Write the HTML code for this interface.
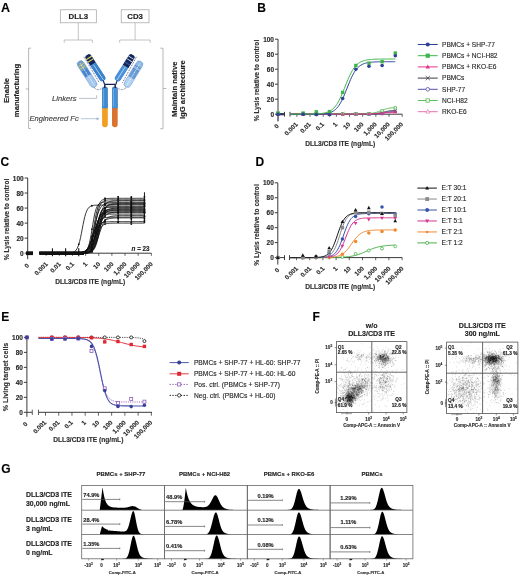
<!DOCTYPE html>
<html><head><meta charset="utf-8"><title>DLL3/CD3 ITE figure</title>
<style>
html,body{margin:0;padding:0;background:#fff;}
body{width:520px;height:578px;overflow:hidden;}
svg{display:block;font-family:"Liberation Sans", Arial, sans-serif;}
text{stroke:#262626;stroke-width:0.14px;}
</style></head><body>
<svg width="520" height="578" viewBox="0 0 520 578">
<rect width="520" height="578" fill="#fff"/>
<text x="1" y="12" font-size="12.5" font-weight="bold" fill="#000">A</text>
<text x="257.2" y="11.6" font-size="12" font-weight="bold" fill="#000">B</text>
<text x="0.6" y="166.3" font-size="12" font-weight="bold" fill="#000">C</text>
<text x="255.6" y="166.3" font-size="12" font-weight="bold" fill="#000">D</text>
<text x="1.2" y="320.9" font-size="12" font-weight="bold" fill="#000">E</text>
<text x="312.6" y="320.9" font-size="12" font-weight="bold" fill="#000">F</text>
<text x="1.2" y="472.6" font-size="12" font-weight="bold" fill="#000">G</text>
<rect x="60.3" y="9.8" width="36" height="13" fill="#fff" stroke="#a0a0a0" stroke-width="0.7" />
<text x="78.3" y="19.2" font-size="7.8" font-weight="bold" text-anchor="middle" fill="#222">DLL3</text>
<rect x="121.2" y="9.8" width="27.8" height="13" fill="#fff" stroke="#a0a0a0" stroke-width="0.7" />
<text x="135.1" y="19.2" font-size="7.8" font-weight="bold" text-anchor="middle" fill="#222">CD3</text>
<line x1="78.3" y1="22.8" x2="78.3" y2="40" stroke="#aaa" stroke-width="0.7" />
<path d="M64.2 42.8V40H92.4V42.8" stroke="#aaa" stroke-width="0.7" fill="none" />
<line x1="135.1" y1="22.8" x2="135.1" y2="40" stroke="#aaa" stroke-width="0.7" />
<path d="M119.7 42.8V40H150.2V42.8" stroke="#aaa" stroke-width="0.7" fill="none" />
<path d="M31 48.2H28.6V128.6H31M28.6 89H25.8" stroke="#999" stroke-width="0.7" fill="none" />
<path d="M160.3 48.2H163V128.7H160.3M163 88.5H166.3" stroke="#999" stroke-width="0.7" fill="none" />
<text x="8.9" y="90.5" font-size="7.7" font-weight="bold" text-anchor="middle" fill="#222" transform="rotate(-90 8.9 90.5)">Enable</text>
<text x="18.6" y="90.5" font-size="7.7" font-weight="bold" text-anchor="middle" fill="#222" transform="rotate(-90 18.6 90.5)">manufacturing</text>
<text x="176.8" y="89.2" font-size="7.7" font-weight="bold" text-anchor="middle" fill="#222" transform="rotate(-90 176.8 89.2)">Maintain native</text>
<text x="185.3" y="89.6" font-size="7.7" font-weight="bold" text-anchor="middle" fill="#222" transform="rotate(-90 185.3 89.6)">IgG architecture</text>
<text x="76.6" y="100.6" font-size="7.6" text-anchor="end" fill="#4a4a4a" font-style="italic">Linkers</text>
<text x="78.8" y="120.8" font-size="7.6" text-anchor="end" fill="#4a4a4a" font-style="italic">Engineered Fc</text>
<path d="M79 98.4H96.6V95.2" stroke="#a0a8b4" stroke-width="0.7" fill="none" />
<line x1="81" y1="118.7" x2="98" y2="118.7" stroke="#9ab0c8" stroke-width="0.7" />
<path d="M96.6 117.2L99.4 118.7L96.6 120.2Z" stroke="none" stroke-width="0" fill="#9ab0c8" />
<rect x="102.1" y="86.6" width="5.7" height="40.6" rx="2.85" fill="#f29e22"/>
<rect x="102.1" y="86.6" width="5.7" height="21.6" rx="2.85" fill="#3c89d4"/>
<rect x="102.1" y="103" width="5.7" height="5.2" fill="#3c89d4"/>
<rect x="112.0" y="86.6" width="5.7" height="40.6" rx="2.85" fill="#da7230"/>
<rect x="112.0" y="86.6" width="5.7" height="21.6" rx="2.85" fill="#4690d6"/>
<rect x="112.0" y="103" width="5.7" height="5.2" fill="#4690d6"/>
<line x1="103.6" y1="89" x2="103.6" y2="106.5" stroke="#8ec0ea" stroke-width="0.6" />
<line x1="113.5" y1="89" x2="113.5" y2="106.5" stroke="#8ec0ea" stroke-width="0.6" />
<path d="M104.4 84.4H115.6M104.8 84.4V88M115.2 84.4V88" stroke="#14204a" stroke-width="1.4" fill="none" />
<g transform="translate(78.9 61.3) rotate(-32.64)"><clipPath id="cap35"><rect x="-3.5" y="0" width="7" height="30.4" rx="3.5"/></clipPath><g clip-path="url(#cap35)"><rect x="-3.5" y="0" width="7" height="9.83" fill="#739fc6"/><rect x="-3.5" y="9.73" width="7" height="8" fill="#4a87cf"/><rect x="-3.5" y="17.63" width="7" height="12.87" fill="#a6c7ec"/><rect x="-3.5" y="3.95" width="7" height="1" fill="#d2c650"/><rect x="-3.5" y="6.69" width="7" height="1" fill="#b4c46a"/><line x1="0" y1="2.43" x2="0" y2="28.88" stroke="#ffffff" stroke-width="0.7" stroke-dasharray="1.2 0.8"/></g><rect x="-3.5" y="0" width="7" height="30.4" rx="3.5" fill="none" stroke="#5f93cc" stroke-width="0.5"/></g>
<g transform="translate(87 54.8) rotate(-33.18)"><clipPath id="cap36"><rect x="-3.4" y="0" width="6.8" height="31.06" rx="3.4"/></clipPath><g clip-path="url(#cap36)"><rect x="-3.4" y="0" width="6.8" height="11.28" fill="#16285f"/><rect x="-3.4" y="11.18" width="6.8" height="19.98" fill="#3a82cb"/><rect x="-3.4" y="3.11" width="6.8" height="1.1" fill="#e2d64a"/><rect x="-3.4" y="6.21" width="6.8" height="1.1" fill="#e2d64a"/><line x1="0" y1="11.8" x2="0" y2="30.13" stroke="#c4def5" stroke-width="0.7" /></g></g>
<path d="M84.0 56.9L99.0 82.1" stroke="#1b2d6b" stroke-width="0.9" fill="none" stroke-dasharray="0.8 1.1"/>
<path d="M94.2 87.6Q97.8 91.2 101.8 88.4" stroke="#1b2d6b" stroke-width="0.8" fill="none" stroke-dasharray="0.7 0.9"/>
<path d="M103.2 80.4L104.6 84.5" stroke="#1b2d6b" stroke-width="1.2" fill="none" />
<g transform="translate(141.1 61.5) rotate(31.23)"><clipPath id="cap40"><rect x="-3.5" y="0" width="7" height="29.7" rx="3.5"/></clipPath><g clip-path="url(#cap40)"><rect x="-3.5" y="0" width="7" height="10.5" fill="#8dbae4"/><rect x="-3.5" y="10.4" width="7" height="9.01" fill="#6a9dd6"/><rect x="-3.5" y="19.31" width="7" height="10.5" fill="#b4d2f1"/><rect x="-3.5" y="5.94" width="7" height="1" fill="#4d7fbf"/><rect x="-3.5" y="9.51" width="7" height="1" fill="#4d7fbf"/><line x1="0" y1="2.38" x2="0" y2="28.22" stroke="#ffffff" stroke-width="0.7" stroke-dasharray="1.2 0.8"/></g><rect x="-3.5" y="0" width="7" height="29.7" rx="3.5" fill="none" stroke="#5f93cc" stroke-width="0.5"/></g>
<g transform="translate(133 54.8) rotate(32.56)"><clipPath id="cap41"><rect x="-3.4" y="0" width="6.8" height="30.85" rx="3.4"/></clipPath><g clip-path="url(#cap41)"><rect x="-3.4" y="0" width="6.8" height="13.98" fill="#15285c"/><rect x="-3.4" y="13.88" width="6.8" height="17.07" fill="#4891d8"/><rect x="-3.4" y="3.08" width="6.8" height="0.7" fill="#e8eef8"/><rect x="-3.4" y="6.17" width="6.8" height="0.7" fill="#e8eef8"/><rect x="-3.4" y="9.87" width="6.8" height="1" fill="#3a5fa0"/><line x1="0" y1="14.5" x2="0" y2="29.92" stroke="#cfe4f7" stroke-width="0.7" /></g></g>
<path d="M136.4 56.9L122.6 82.5" stroke="#1b2d6b" stroke-width="0.9" fill="none" stroke-dasharray="0.8 1.1"/>
<path d="M126.0 87.6Q122.4 91.2 118.2 88.4" stroke="#1b2d6b" stroke-width="0.8" fill="none" stroke-dasharray="0.7 0.9"/>
<path d="M117.2 80.4L115.8 84.5" stroke="#1b2d6b" stroke-width="1.2" fill="none" />
<line x1="278" y1="39.2" x2="278" y2="121.2" stroke="#3a3a3a" stroke-width="1" />
<line x1="275" y1="114.2" x2="278" y2="114.2" stroke="#3a3a3a" stroke-width="1" />
<text x="274" y="116.8" font-size="6.5" font-weight="bold" text-anchor="end" fill="#2a2a2a">0</text>
<line x1="275" y1="99.2" x2="278" y2="99.2" stroke="#3a3a3a" stroke-width="1" />
<text x="274" y="101.8" font-size="6.5" font-weight="bold" text-anchor="end" fill="#2a2a2a">20</text>
<line x1="275" y1="84.2" x2="278" y2="84.2" stroke="#3a3a3a" stroke-width="1" />
<text x="274" y="86.8" font-size="6.5" font-weight="bold" text-anchor="end" fill="#2a2a2a">40</text>
<line x1="275" y1="69.2" x2="278" y2="69.2" stroke="#3a3a3a" stroke-width="1" />
<text x="274" y="71.8" font-size="6.5" font-weight="bold" text-anchor="end" fill="#2a2a2a">60</text>
<line x1="275" y1="54.2" x2="278" y2="54.2" stroke="#3a3a3a" stroke-width="1" />
<text x="274" y="56.8" font-size="6.5" font-weight="bold" text-anchor="end" fill="#2a2a2a">80</text>
<line x1="275" y1="39.2" x2="278" y2="39.2" stroke="#3a3a3a" stroke-width="1" />
<text x="274" y="41.8" font-size="6.5" font-weight="bold" text-anchor="end" fill="#2a2a2a">100</text>
<line x1="278" y1="114.2" x2="284.5" y2="114.2" stroke="#3a3a3a" stroke-width="1" />
<line x1="290" y1="114.2" x2="402.3" y2="114.2" stroke="#3a3a3a" stroke-width="1" />
<line x1="284.5" y1="111.8" x2="284.5" y2="116.6" stroke="#3a3a3a" stroke-width="1" />
<line x1="290" y1="111.8" x2="290" y2="116.6" stroke="#3a3a3a" stroke-width="1" />
<line x1="296.9" y1="114.2" x2="296.9" y2="116.8" stroke="#3a3a3a" stroke-width="0.8" />
<line x1="310.06" y1="114.2" x2="310.06" y2="116.8" stroke="#3a3a3a" stroke-width="0.8" />
<line x1="323.22" y1="114.2" x2="323.22" y2="116.8" stroke="#3a3a3a" stroke-width="0.8" />
<line x1="336.38" y1="114.2" x2="336.38" y2="116.8" stroke="#3a3a3a" stroke-width="0.8" />
<line x1="349.54" y1="114.2" x2="349.54" y2="116.8" stroke="#3a3a3a" stroke-width="0.8" />
<line x1="362.7" y1="114.2" x2="362.7" y2="116.8" stroke="#3a3a3a" stroke-width="0.8" />
<line x1="375.86" y1="114.2" x2="375.86" y2="116.8" stroke="#3a3a3a" stroke-width="0.8" />
<line x1="389.02" y1="114.2" x2="389.02" y2="116.8" stroke="#3a3a3a" stroke-width="0.8" />
<line x1="402.18" y1="114.2" x2="402.18" y2="116.8" stroke="#3a3a3a" stroke-width="0.8" />
<text x="279.2" y="126.4" font-size="6.3" font-weight="bold" text-anchor="end" fill="#2a2a2a" transform="rotate(-45 279.2 126.4)">0</text>
<text x="298.2" y="124.8" font-size="6.3" font-weight="bold" text-anchor="end" fill="#2a2a2a" transform="rotate(-45 298.2 124.8)">0.001</text>
<text x="311.36" y="124.8" font-size="6.3" font-weight="bold" text-anchor="end" fill="#2a2a2a" transform="rotate(-45 311.36 124.8)">0.01</text>
<text x="324.52" y="124.8" font-size="6.3" font-weight="bold" text-anchor="end" fill="#2a2a2a" transform="rotate(-45 324.52 124.8)">0.1</text>
<text x="337.68" y="124.8" font-size="6.3" font-weight="bold" text-anchor="end" fill="#2a2a2a" transform="rotate(-45 337.68 124.8)">1</text>
<text x="350.84" y="124.8" font-size="6.3" font-weight="bold" text-anchor="end" fill="#2a2a2a" transform="rotate(-45 350.84 124.8)">10</text>
<text x="364" y="124.8" font-size="6.3" font-weight="bold" text-anchor="end" fill="#2a2a2a" transform="rotate(-45 364 124.8)">100</text>
<text x="377.16" y="124.8" font-size="6.3" font-weight="bold" text-anchor="end" fill="#2a2a2a" transform="rotate(-45 377.16 124.8)">1,000</text>
<text x="390.32" y="124.8" font-size="6.3" font-weight="bold" text-anchor="end" fill="#2a2a2a" transform="rotate(-45 390.32 124.8)">10,000</text>
<text x="403.48" y="124.8" font-size="6.3" font-weight="bold" text-anchor="end" fill="#2a2a2a" transform="rotate(-45 403.48 124.8)">100,000</text>
<text x="258.6" y="80.5" font-size="6.6" font-weight="bold" text-anchor="middle" fill="#333" transform="rotate(-90 258.6 80.5)">% Lysis relative to control</text>
<text x="340.2" y="145.6" font-size="6.65" font-weight="bold" text-anchor="middle" fill="#333">DLL3/CD3 ITE (ng/mL)</text>
<path d="M290.02 114.05 290.9 114.05 291.77 114.05 292.65 114.05 293.53 114.05 294.41 114.05 295.28 114.05 296.16 114.05 297.04 114.05 297.91 114.05 298.79 114.05 299.67 114.05 300.55 114.05 301.42 114.05 302.3 114.05 303.18 114.05 304.06 114.05 304.93 114.05 305.81 114.05 306.69 114.05 307.57 114.05 308.44 114.05 309.32 114.05 310.2 114.05 311.07 114.05 311.95 114.05 312.83 114.05 313.71 114.05 314.58 114.05 315.46 114.05 316.34 114.05 317.22 114.05 318.09 114.05 318.97 114.05 319.85 114.05 320.73 114.05 321.6 114.05 322.48 114.05 323.36 114.05 324.23 114.05 325.11 114.05 325.99 114.05 326.87 114.05 327.74 114.05 328.62 114.05 329.5 114.05 330.38 114.05 331.25 114.05 332.13 114.05 333.01 114.05 333.89 114.05 334.76 114.05 335.64 114.05 336.52 114.05 337.39 114.05 338.27 114.05 339.15 114.05 340.03 114.05 340.9 114.05 341.78 114.05 342.66 114.05 343.54 114.05 344.41 114.05 345.29 114.05 346.17 114.05 347.05 114.05 347.92 114.05 348.8 114.05 349.68 114.04 350.55 114.04 351.43 114.04 352.31 114.04 353.19 114.04 354.06 114.04 354.94 114.04 355.82 114.03 356.7 114.03 357.57 114.03 358.45 114.02 359.33 114.02 360.21 114.02 361.08 114.01 361.96 114 362.84 114 363.71 113.99 364.59 113.98 365.47 113.97 366.35 113.95 367.22 113.94 368.1 113.92 368.98 113.9 369.86 113.88 370.73 113.85 371.61 113.82 372.49 113.79 373.37 113.76 374.24 113.72 375.12 113.68 376 113.63 376.87 113.58 377.75 113.53 378.63 113.47 379.51 113.41 380.38 113.35 381.26 113.29 382.14 113.23 383.02 113.16 383.89 113.1 384.77 113.04 385.65 112.98 386.53 112.92 387.4 112.87 388.28 112.82 389.16 112.77 390.03 112.73 390.91 112.69 391.79 112.66 392.67 112.63 393.54 112.6 394.42 112.57 395.3 112.55" stroke="#e872b0" stroke-width="1" fill="none"  stroke-linejoin="round"/>
<path d="M290.02 113.97 290.9 113.97 291.77 113.97 292.65 113.97 293.53 113.97 294.41 113.97 295.28 113.97 296.16 113.97 297.04 113.97 297.91 113.97 298.79 113.97 299.67 113.97 300.55 113.97 301.42 113.97 302.3 113.97 303.18 113.97 304.06 113.97 304.93 113.97 305.81 113.97 306.69 113.97 307.57 113.97 308.44 113.97 309.32 113.97 310.2 113.97 311.07 113.97 311.95 113.97 312.83 113.97 313.71 113.97 314.58 113.97 315.46 113.97 316.34 113.97 317.22 113.97 318.09 113.97 318.97 113.97 319.85 113.97 320.73 113.97 321.6 113.97 322.48 113.97 323.36 113.97 324.23 113.97 325.11 113.97 325.99 113.97 326.87 113.97 327.74 113.97 328.62 113.97 329.5 113.97 330.38 113.97 331.25 113.97 332.13 113.97 333.01 113.97 333.89 113.97 334.76 113.97 335.64 113.97 336.52 113.97 337.39 113.97 338.27 113.97 339.15 113.97 340.03 113.97 340.9 113.97 341.78 113.97 342.66 113.97 343.54 113.97 344.41 113.97 345.29 113.97 346.17 113.97 347.05 113.97 347.92 113.97 348.8 113.97 349.68 113.97 350.55 113.97 351.43 113.97 352.31 113.97 353.19 113.97 354.06 113.97 354.94 113.97 355.82 113.97 356.7 113.97 357.57 113.97 358.45 113.97 359.33 113.97 360.21 113.97 361.08 113.97 361.96 113.97 362.84 113.97 363.71 113.97 364.59 113.96 365.47 113.96 366.35 113.96 367.22 113.95 368.1 113.94 368.98 113.94 369.86 113.93 370.73 113.92 371.61 113.9 372.49 113.88 373.37 113.86 374.24 113.83 375.12 113.79 376 113.75 376.87 113.7 377.75 113.64 378.63 113.57 379.51 113.48 380.38 113.38 381.26 113.27 382.14 113.14 383.02 113.01 383.89 112.86 384.77 112.71 385.65 112.56 386.53 112.41 387.4 112.27 388.28 112.14 389.16 112.02 390.03 111.91 390.91 111.81 391.79 111.73 392.67 111.66 393.54 111.61 394.42 111.56 395.3 111.52" stroke="#5052a8" stroke-width="1" fill="none"  stroke-linejoin="round"/>
<path d="M290.02 113.97 290.9 113.97 291.77 113.97 292.65 113.97 293.53 113.97 294.41 113.97 295.28 113.97 296.16 113.97 297.04 113.97 297.91 113.97 298.79 113.97 299.67 113.97 300.55 113.97 301.42 113.97 302.3 113.97 303.18 113.97 304.06 113.97 304.93 113.97 305.81 113.97 306.69 113.97 307.57 113.97 308.44 113.97 309.32 113.97 310.2 113.97 311.07 113.97 311.95 113.97 312.83 113.97 313.71 113.97 314.58 113.97 315.46 113.97 316.34 113.97 317.22 113.97 318.09 113.97 318.97 113.97 319.85 113.97 320.73 113.97 321.6 113.97 322.48 113.97 323.36 113.97 324.23 113.97 325.11 113.97 325.99 113.97 326.87 113.97 327.74 113.97 328.62 113.97 329.5 113.97 330.38 113.97 331.25 113.97 332.13 113.97 333.01 113.97 333.89 113.97 334.76 113.97 335.64 113.97 336.52 113.97 337.39 113.97 338.27 113.97 339.15 113.97 340.03 113.97 340.9 113.97 341.78 113.97 342.66 113.97 343.54 113.97 344.41 113.97 345.29 113.97 346.17 113.97 347.05 113.97 347.92 113.97 348.8 113.97 349.68 113.97 350.55 113.97 351.43 113.97 352.31 113.97 353.19 113.97 354.06 113.97 354.94 113.97 355.82 113.97 356.7 113.97 357.57 113.97 358.45 113.97 359.33 113.97 360.21 113.97 361.08 113.97 361.96 113.96 362.84 113.96 363.71 113.96 364.59 113.95 365.47 113.94 366.35 113.94 367.22 113.93 368.1 113.91 368.98 113.9 369.86 113.88 370.73 113.86 371.61 113.83 372.49 113.79 373.37 113.75 374.24 113.69 375.12 113.62 376 113.54 376.87 113.45 377.75 113.34 378.63 113.2 379.51 113.05 380.38 112.88 381.26 112.7 382.14 112.5 383.02 112.29 383.89 112.07 384.77 111.86 385.65 111.65 386.53 111.45 387.4 111.27 388.28 111.11 389.16 110.96 390.03 110.83 390.91 110.73 391.79 110.63 392.67 110.56 393.54 110.49 394.42 110.44 395.3 110.4" stroke="#3c3c4c" stroke-width="1" fill="none"  stroke-linejoin="round"/>
<path d="M290.02 113.82 290.9 113.82 291.77 113.82 292.65 113.82 293.53 113.82 294.41 113.82 295.28 113.82 296.16 113.82 297.04 113.82 297.91 113.82 298.79 113.82 299.67 113.82 300.55 113.82 301.42 113.82 302.3 113.82 303.18 113.82 304.06 113.82 304.93 113.82 305.81 113.82 306.69 113.82 307.57 113.82 308.44 113.82 309.32 113.82 310.2 113.82 311.07 113.82 311.95 113.82 312.83 113.82 313.71 113.82 314.58 113.82 315.46 113.82 316.34 113.82 317.22 113.82 318.09 113.82 318.97 113.82 319.85 113.82 320.73 113.82 321.6 113.82 322.48 113.82 323.36 113.82 324.23 113.82 325.11 113.82 325.99 113.82 326.87 113.82 327.74 113.82 328.62 113.82 329.5 113.82 330.38 113.82 331.25 113.82 332.13 113.82 333.01 113.82 333.89 113.82 334.76 113.82 335.64 113.82 336.52 113.82 337.39 113.82 338.27 113.82 339.15 113.82 340.03 113.82 340.9 113.82 341.78 113.82 342.66 113.82 343.54 113.82 344.41 113.82 345.29 113.82 346.17 113.82 347.05 113.82 347.92 113.82 348.8 113.82 349.68 113.82 350.55 113.82 351.43 113.82 352.31 113.82 353.19 113.82 354.06 113.82 354.94 113.81 355.82 113.81 356.7 113.81 357.57 113.81 358.45 113.8 359.33 113.79 360.21 113.79 361.08 113.78 361.96 113.77 362.84 113.75 363.71 113.74 364.59 113.72 365.47 113.69 366.35 113.66 367.22 113.62 368.1 113.57 368.98 113.51 369.86 113.44 370.73 113.36 371.61 113.26 372.49 113.13 373.37 112.99 374.24 112.82 375.12 112.63 376 112.4 376.87 112.15 377.75 111.87 378.63 111.57 379.51 111.25 380.38 110.92 381.26 110.57 382.14 110.23 383.02 109.9 383.89 109.59 384.77 109.29 385.65 109.02 386.53 108.78 387.4 108.57 388.28 108.39 389.16 108.23 390.03 108.09 390.91 107.98 391.79 107.88 392.67 107.8 393.54 107.74 394.42 107.68 395.3 107.64" stroke="#5cc05a" stroke-width="1" fill="none"  stroke-linejoin="round"/>
<path d="M290.02 114.05 290.9 114.05 291.77 114.05 292.65 114.05 293.53 114.05 294.41 114.05 295.28 114.05 296.16 114.05 297.04 114.05 297.91 114.05 298.79 114.05 299.67 114.05 300.55 114.05 301.42 114.05 302.3 114.05 303.18 114.05 304.06 114.05 304.93 114.05 305.81 114.05 306.69 114.05 307.57 114.05 308.44 114.05 309.32 114.05 310.2 114.05 311.07 114.05 311.95 114.05 312.83 114.05 313.71 114.05 314.58 114.05 315.46 114.05 316.34 114.05 317.22 114.05 318.09 114.05 318.97 114.05 319.85 114.05 320.73 114.05 321.6 114.05 322.48 114.05 323.36 114.05 324.23 114.05 325.11 114.05 325.99 114.05 326.87 114.05 327.74 114.05 328.62 114.05 329.5 114.05 330.38 114.05 331.25 114.05 332.13 114.05 333.01 114.05 333.89 114.05 334.76 114.05 335.64 114.05 336.52 114.05 337.39 114.05 338.27 114.05 339.15 114.05 340.03 114.05 340.9 114.05 341.78 114.05 342.66 114.05 343.54 114.05 344.41 114.05 345.29 114.05 346.17 114.05 347.05 114.05 347.92 114.04 348.8 114.04 349.68 114.04 350.55 114.04 351.43 114.04 352.31 114.04 353.19 114.04 354.06 114.03 354.94 114.03 355.82 114.03 356.7 114.02 357.57 114.02 358.45 114.01 359.33 114.01 360.21 114 361.08 113.99 361.96 113.99 362.84 113.98 363.71 113.96 364.59 113.95 365.47 113.93 366.35 113.92 367.22 113.9 368.1 113.87 368.98 113.85 369.86 113.82 370.73 113.78 371.61 113.74 372.49 113.7 373.37 113.65 374.24 113.6 375.12 113.54 376 113.48 376.87 113.41 377.75 113.34 378.63 113.26 379.51 113.18 380.38 113.1 381.26 113.01 382.14 112.92 383.02 112.84 383.89 112.75 384.77 112.67 385.65 112.59 386.53 112.51 387.4 112.44 388.28 112.37 389.16 112.31 390.03 112.25 390.91 112.2 391.79 112.15 392.67 112.11 393.54 112.07 394.42 112.03 395.3 112" stroke="#e2338a" stroke-width="1" fill="none"  stroke-linejoin="round"/>
<path d="M303.18 112.52L304.7 115.24H301.66Z" stroke="#e872b0" stroke-width="0.7" fill="#fff" />
<path d="M316.34 112.37L317.86 115.09H314.82Z" stroke="#e872b0" stroke-width="0.7" fill="#fff" />
<path d="M329.5 112.52L331.02 115.24H327.98Z" stroke="#e872b0" stroke-width="0.7" fill="#fff" />
<path d="M342.66 112.44L344.18 115.17H341.14Z" stroke="#e872b0" stroke-width="0.7" fill="#fff" />
<path d="M355.82 112.3L357.34 115.02H354.3Z" stroke="#e872b0" stroke-width="0.7" fill="#fff" />
<path d="M368.98 112.37L370.5 115.09H367.46Z" stroke="#e872b0" stroke-width="0.7" fill="#fff" />
<path d="M382.14 112.14L383.66 114.87H380.62Z" stroke="#e872b0" stroke-width="0.7" fill="#fff" />
<path d="M395.3 111.02L396.82 113.74H393.78Z" stroke="#e872b0" stroke-width="0.7" fill="#fff" />
<path d="M278 112.74L279.52 115.47H276.48Z" stroke="#e872b0" stroke-width="0.7" fill="#fff" />
<circle cx="303.18" cy="113.98" r="1.3" fill="#fff" stroke="#5052a8" stroke-width="0.8" />
<circle cx="316.34" cy="114.2" r="1.3" fill="#fff" stroke="#5052a8" stroke-width="0.8" />
<circle cx="329.5" cy="114.58" r="1.3" fill="#fff" stroke="#5052a8" stroke-width="0.8" />
<circle cx="342.66" cy="114.2" r="1.3" fill="#fff" stroke="#5052a8" stroke-width="0.8" />
<circle cx="355.82" cy="114.05" r="1.3" fill="#fff" stroke="#5052a8" stroke-width="0.8" />
<circle cx="368.98" cy="114.2" r="1.3" fill="#fff" stroke="#5052a8" stroke-width="0.8" />
<circle cx="382.14" cy="113.45" r="1.3" fill="#fff" stroke="#5052a8" stroke-width="0.8" />
<circle cx="395.3" cy="111.58" r="1.3" fill="#fff" stroke="#5052a8" stroke-width="0.8" />
<circle cx="278" cy="114.05" r="1.3" fill="#fff" stroke="#5052a8" stroke-width="0.8" />
<path d="M301.58 112.23L304.78 115.42M304.78 112.23L301.58 115.42" stroke="#3c3c4c" stroke-width="0.8" fill="none" />
<path d="M314.74 112.45L317.94 115.65M317.94 112.45L314.74 115.65" stroke="#3c3c4c" stroke-width="0.8" fill="none" />
<path d="M327.9 112.38L331.1 115.58M331.1 112.38L327.9 115.58" stroke="#3c3c4c" stroke-width="0.8" fill="none" />
<path d="M341.06 112.23L344.26 115.42M344.26 112.23L341.06 115.42" stroke="#3c3c4c" stroke-width="0.8" fill="none" />
<path d="M354.22 112.45L357.42 115.65M357.42 112.45L354.22 115.65" stroke="#3c3c4c" stroke-width="0.8" fill="none" />
<path d="M367.38 112.3L370.58 115.5M370.58 112.3L367.38 115.5" stroke="#3c3c4c" stroke-width="0.8" fill="none" />
<path d="M380.54 111.48L383.74 114.67M383.74 111.48L380.54 114.67" stroke="#3c3c4c" stroke-width="0.8" fill="none" />
<path d="M393.7 109.23L396.9 112.42M396.9 109.23L393.7 112.42" stroke="#3c3c4c" stroke-width="0.8" fill="none" />
<path d="M276.4 112.23L279.6 115.42M279.6 112.23L276.4 115.42" stroke="#3c3c4c" stroke-width="0.8" fill="none" />
<rect x="301.98" y="112.85" width="2.4" height="2.4" fill="#fff" stroke="#5cc05a" stroke-width="0.8" />
<rect x="315.14" y="112.4" width="2.4" height="2.4" fill="#fff" stroke="#5cc05a" stroke-width="0.8" />
<rect x="328.3" y="112.63" width="2.4" height="2.4" fill="#fff" stroke="#5cc05a" stroke-width="0.8" />
<rect x="341.46" y="112.63" width="2.4" height="2.4" fill="#fff" stroke="#5cc05a" stroke-width="0.8" />
<rect x="354.62" y="112.63" width="2.4" height="2.4" fill="#fff" stroke="#5cc05a" stroke-width="0.8" />
<rect x="367.78" y="112.48" width="2.4" height="2.4" fill="#fff" stroke="#5cc05a" stroke-width="0.8" />
<rect x="380.94" y="109.63" width="2.4" height="2.4" fill="#fff" stroke="#5cc05a" stroke-width="0.8" />
<rect x="394.1" y="106.63" width="2.4" height="2.4" fill="#fff" stroke="#5cc05a" stroke-width="0.8" />
<rect x="276.8" y="112.1" width="2.4" height="2.4" fill="#fff" stroke="#5cc05a" stroke-width="0.8" />
<path d="M303.18 112.51L304.86 115.55H301.5Z" stroke="none" stroke-width="0.8" fill="#e2338a" />
<path d="M316.34 112.28L318.02 115.33H314.66Z" stroke="none" stroke-width="0.8" fill="#e2338a" />
<path d="M329.5 112.58L331.18 115.62H327.82Z" stroke="none" stroke-width="0.8" fill="#e2338a" />
<path d="M342.66 112.51L344.34 115.55H340.98Z" stroke="none" stroke-width="0.8" fill="#e2338a" />
<path d="M355.82 112.14L357.5 115.18H354.14Z" stroke="none" stroke-width="0.8" fill="#e2338a" />
<path d="M368.98 112.06L370.66 115.1H367.3Z" stroke="none" stroke-width="0.8" fill="#e2338a" />
<path d="M382.14 111.61L383.82 114.65H380.46Z" stroke="none" stroke-width="0.8" fill="#e2338a" />
<path d="M395.3 109.96L396.98 113H393.62Z" stroke="none" stroke-width="0.8" fill="#e2338a" />
<path d="M278 112.36L279.68 115.4H276.32Z" stroke="none" stroke-width="0.8" fill="#e2338a" />
<line x1="278" y1="114.2" x2="278" y2="121.4" stroke="#4a5a9a" stroke-width="0.8" />
<line x1="279.5" y1="114.2" x2="284.3" y2="114.2" stroke="#2c3850" stroke-width="2.2" />
<path d="M290.02 114.57 290.9 114.57 291.77 114.57 292.65 114.57 293.53 114.57 294.41 114.57 295.28 114.57 296.16 114.57 297.04 114.57 297.91 114.57 298.79 114.57 299.67 114.57 300.55 114.57 301.42 114.57 302.3 114.57 303.18 114.56 304.06 114.56 304.93 114.56 305.81 114.56 306.69 114.55 307.57 114.55 308.44 114.54 309.32 114.54 310.2 114.53 311.07 114.52 311.95 114.51 312.83 114.5 313.71 114.49 314.58 114.47 315.46 114.45 316.34 114.43 317.22 114.41 318.09 114.38 318.97 114.34 319.85 114.3 320.73 114.25 321.6 114.19 322.48 114.11 323.36 114.03 324.23 113.93 325.11 113.81 325.99 113.68 326.87 113.52 327.74 113.33 328.62 113.1 329.5 112.84 330.38 112.53 331.25 112.17 332.13 111.76 333.01 111.27 333.89 110.71 334.76 110.06 335.64 109.31 336.52 108.45 337.39 107.48 338.27 106.37 339.15 105.13 340.03 103.75 340.9 102.22 341.78 100.56 342.66 98.75 343.54 96.81 344.41 94.77 345.29 92.64 346.17 90.45 347.05 88.22 347.92 85.99 348.8 83.8 349.68 81.66 350.55 79.61 351.43 77.67 352.31 75.85 353.19 74.17 354.06 72.63 354.94 71.24 355.82 69.99 356.7 68.88 357.57 67.89 358.45 67.03 359.33 66.27 360.21 65.61 361.08 65.04 361.96 64.55 362.84 64.13 363.71 63.77 364.59 63.46 365.47 63.19 366.35 62.97 367.22 62.77 368.1 62.61 368.98 62.47 369.86 62.35 370.73 62.25 371.61 62.17 372.49 62.09 373.37 62.03 374.24 61.98 375.12 61.94 376 61.9 376.87 61.87 377.75 61.84 378.63 61.82 379.51 61.8 380.38 61.79 381.26 61.77 382.14 61.76 383.02 61.75 383.89 61.74 384.77 61.74 385.65 61.73 386.53 61.73 387.4 61.72 388.28 61.72 389.16 61.72 390.03 61.71 390.91 61.71 391.79 61.71 392.67 61.71 393.54 61.71 394.42 61.71 395.3 61.7" stroke="#2f3f95" stroke-width="1" fill="none"  stroke-linejoin="round"/>
<path d="M290.02 114.2 290.9 114.2 291.77 114.2 292.65 114.2 293.53 114.2 294.41 114.2 295.28 114.19 296.16 114.19 297.04 114.19 297.91 114.19 298.79 114.19 299.67 114.19 300.55 114.18 301.42 114.18 302.3 114.18 303.18 114.18 304.06 114.17 304.93 114.17 305.81 114.16 306.69 114.15 307.57 114.14 308.44 114.13 309.32 114.12 310.2 114.11 311.07 114.09 311.95 114.08 312.83 114.05 313.71 114.03 314.58 114 315.46 113.96 316.34 113.92 317.22 113.87 318.09 113.82 318.97 113.75 319.85 113.67 320.73 113.58 321.6 113.47 322.48 113.35 323.36 113.2 324.23 113.03 325.11 112.83 325.99 112.6 326.87 112.33 327.74 112.01 328.62 111.65 329.5 111.23 330.38 110.74 331.25 110.18 332.13 109.54 333.01 108.8 333.89 107.96 334.76 107.01 335.64 105.95 336.52 104.75 337.39 103.42 338.27 101.95 339.15 100.35 340.03 98.61 340.9 96.74 341.78 94.77 342.66 92.69 343.54 90.54 344.41 88.34 345.29 86.12 346.17 83.91 347.05 81.72 347.92 79.6 348.8 77.57 349.68 75.64 350.55 73.83 351.43 72.14 352.31 70.6 353.19 69.19 354.06 67.92 354.94 66.78 355.82 65.76 356.7 64.86 357.57 64.07 358.45 63.38 359.33 62.77 360.21 62.24 361.08 61.78 361.96 61.39 362.84 61.04 363.71 60.75 364.59 60.5 365.47 60.28 366.35 60.09 367.22 59.93 368.1 59.8 368.98 59.68 369.86 59.58 370.73 59.49 371.61 59.42 372.49 59.36 373.37 59.31 374.24 59.26 375.12 59.22 376 59.19 376.87 59.16 377.75 59.14 378.63 59.12 379.51 59.1 380.38 59.08 381.26 59.07 382.14 59.06 383.02 59.05 383.89 59.04 384.77 59.04 385.65 59.03 386.53 59.03 387.4 59.02 388.28 59.02 389.16 59.02 390.03 59.01 390.91 59.01 391.79 59.01 392.67 59.01 393.54 59.01 394.42 59.01 395.3 59.01" stroke="#3db54a" stroke-width="1" fill="none"  stroke-linejoin="round"/>
<rect x="301.48" y="111.38" width="3.4" height="3.4" fill="#3db54a" stroke="none" stroke-width="0.8" />
<rect x="314.64" y="110.1" width="3.4" height="3.4" fill="#3db54a" stroke="none" stroke-width="0.8" />
<rect x="327.8" y="109.88" width="3.4" height="3.4" fill="#3db54a" stroke="none" stroke-width="0.8" />
<rect x="340.96" y="90.75" width="3.4" height="3.4" fill="#3db54a" stroke="none" stroke-width="0.8" />
<rect x="354.12" y="63.75" width="3.4" height="3.4" fill="#3db54a" stroke="none" stroke-width="0.8" />
<rect x="367.28" y="61.5" width="3.4" height="3.4" fill="#3db54a" stroke="none" stroke-width="0.8" />
<rect x="380.44" y="60" width="3.4" height="3.4" fill="#3db54a" stroke="none" stroke-width="0.8" />
<rect x="393.6" y="51.38" width="3.4" height="3.4" fill="#3db54a" stroke="none" stroke-width="0.8" />
<circle cx="303.18" cy="114.2" r="1.8" fill="#2f3f95" stroke="none" stroke-width="0.8" />
<circle cx="316.34" cy="114.58" r="1.8" fill="#2f3f95" stroke="none" stroke-width="0.8" />
<circle cx="329.5" cy="114.8" r="1.8" fill="#2f3f95" stroke="none" stroke-width="0.8" />
<circle cx="342.66" cy="98.45" r="1.8" fill="#2f3f95" stroke="none" stroke-width="0.8" />
<circle cx="355.82" cy="69.2" r="1.8" fill="#2f3f95" stroke="none" stroke-width="0.8" />
<circle cx="368.98" cy="66.2" r="1.8" fill="#2f3f95" stroke="none" stroke-width="0.8" />
<circle cx="382.14" cy="65.45" r="1.8" fill="#2f3f95" stroke="none" stroke-width="0.8" />
<circle cx="395.3" cy="55.7" r="1.8" fill="#2f3f95" stroke="none" stroke-width="0.8" />
<rect x="276.3" y="111.38" width="3.4" height="3.4" fill="#3db54a" stroke="none" stroke-width="0.8" />
<circle cx="278" cy="114.2" r="1.8" fill="#2f3f95" stroke="none" stroke-width="0.8" />
<line x1="417.8" y1="44.5" x2="437.7" y2="44.5" stroke="#2f3f95" stroke-width="1" />
<circle cx="427.75" cy="44.5" r="2.1" fill="#2f3f95" stroke="none" stroke-width="0.8" />
<text x="442" y="46.8" font-size="6.6" fill="#2a2a2a">PBMCs + SHP-77</text>
<line x1="417.8" y1="55.7" x2="437.7" y2="55.7" stroke="#3db54a" stroke-width="1" />
<rect x="425.65" y="53.6" width="4.2" height="4.2" fill="#3db54a" stroke="none" stroke-width="0.8" />
<text x="442" y="58" font-size="6.6" fill="#2a2a2a">PBMCs + NCI-H82</text>
<line x1="417.8" y1="66.9" x2="437.7" y2="66.9" stroke="#e2338a" stroke-width="1" />
<path d="M427.75 64.48L429.95 68.48H425.55Z" stroke="none" stroke-width="0.8" fill="#e2338a" />
<text x="442" y="69.2" font-size="6.6" fill="#2a2a2a">PBMCs + RKO-E6</text>
<line x1="417.8" y1="78.1" x2="437.7" y2="78.1" stroke="#3c3c4c" stroke-width="1" />
<path d="M425.65 76L429.85 80.2M429.85 76L425.65 80.2" stroke="#3c3c4c" stroke-width="0.8" fill="none" />
<text x="442" y="80.4" font-size="6.6" fill="#2a2a2a">PBMCs</text>
<line x1="417.8" y1="89.3" x2="437.7" y2="89.3" stroke="#5052a8" stroke-width="1" />
<circle cx="427.75" cy="89.3" r="1.8" fill="#fff" stroke="#5052a8" stroke-width="0.8" />
<text x="442" y="91.6" font-size="6.6" fill="#2a2a2a">SHP-77</text>
<line x1="417.8" y1="100.5" x2="437.7" y2="100.5" stroke="#5cc05a" stroke-width="1" />
<rect x="426.05" y="98.8" width="3.4" height="3.4" fill="#fff" stroke="#5cc05a" stroke-width="0.8" />
<text x="442" y="102.8" font-size="6.6" fill="#2a2a2a">NCI-H82</text>
<line x1="417.8" y1="111.7" x2="437.7" y2="111.7" stroke="#e872b0" stroke-width="1" />
<path d="M427.75 109.49L429.75 113.06H425.75Z" stroke="#e872b0" stroke-width="0.7" fill="#fff" />
<text x="442" y="114" font-size="6.6" fill="#2a2a2a">RKO-E6</text>
<line x1="27.7" y1="178" x2="27.7" y2="259.2" stroke="#3a3a3a" stroke-width="1" />
<line x1="24.7" y1="253.2" x2="27.7" y2="253.2" stroke="#3a3a3a" stroke-width="1" />
<text x="23.7" y="255.8" font-size="6.5" font-weight="bold" text-anchor="end" fill="#2a2a2a">0</text>
<line x1="24.7" y1="238.16" x2="27.7" y2="238.16" stroke="#3a3a3a" stroke-width="1" />
<text x="23.7" y="240.76" font-size="6.5" font-weight="bold" text-anchor="end" fill="#2a2a2a">20</text>
<line x1="24.7" y1="223.12" x2="27.7" y2="223.12" stroke="#3a3a3a" stroke-width="1" />
<text x="23.7" y="225.72" font-size="6.5" font-weight="bold" text-anchor="end" fill="#2a2a2a">40</text>
<line x1="24.7" y1="208.08" x2="27.7" y2="208.08" stroke="#3a3a3a" stroke-width="1" />
<text x="23.7" y="210.68" font-size="6.5" font-weight="bold" text-anchor="end" fill="#2a2a2a">60</text>
<line x1="24.7" y1="193.04" x2="27.7" y2="193.04" stroke="#3a3a3a" stroke-width="1" />
<text x="23.7" y="195.64" font-size="6.5" font-weight="bold" text-anchor="end" fill="#2a2a2a">80</text>
<line x1="24.7" y1="178" x2="27.7" y2="178" stroke="#3a3a3a" stroke-width="1" />
<text x="23.7" y="180.6" font-size="6.5" font-weight="bold" text-anchor="end" fill="#2a2a2a">100</text>
<line x1="27.7" y1="253.2" x2="33" y2="253.2" stroke="#3a3a3a" stroke-width="1" />
<line x1="39.2" y1="253.2" x2="151.4" y2="253.2" stroke="#3a3a3a" stroke-width="1" />
<line x1="46.2" y1="253.2" x2="46.2" y2="255.8" stroke="#3a3a3a" stroke-width="0.8" />
<line x1="59.34" y1="253.2" x2="59.34" y2="255.8" stroke="#3a3a3a" stroke-width="0.8" />
<line x1="72.48" y1="253.2" x2="72.48" y2="255.8" stroke="#3a3a3a" stroke-width="0.8" />
<line x1="85.62" y1="253.2" x2="85.62" y2="255.8" stroke="#3a3a3a" stroke-width="0.8" />
<line x1="98.76" y1="253.2" x2="98.76" y2="255.8" stroke="#3a3a3a" stroke-width="0.8" />
<line x1="111.9" y1="253.2" x2="111.9" y2="255.8" stroke="#3a3a3a" stroke-width="0.8" />
<line x1="125.04" y1="253.2" x2="125.04" y2="255.8" stroke="#3a3a3a" stroke-width="0.8" />
<line x1="138.18" y1="253.2" x2="138.18" y2="255.8" stroke="#3a3a3a" stroke-width="0.8" />
<line x1="151.32" y1="253.2" x2="151.32" y2="255.8" stroke="#3a3a3a" stroke-width="0.8" />
<text x="29.6" y="266.1" font-size="6.3" font-weight="bold" text-anchor="end" fill="#2a2a2a" transform="rotate(-45 29.6 266.1)">0</text>
<text x="48.2" y="264.5" font-size="6.3" font-weight="bold" text-anchor="end" fill="#2a2a2a" transform="rotate(-45 48.2 264.5)">0.001</text>
<text x="61.34" y="264.5" font-size="6.3" font-weight="bold" text-anchor="end" fill="#2a2a2a" transform="rotate(-45 61.34 264.5)">0.01</text>
<text x="74.48" y="264.5" font-size="6.3" font-weight="bold" text-anchor="end" fill="#2a2a2a" transform="rotate(-45 74.48 264.5)">0.1</text>
<text x="87.62" y="264.5" font-size="6.3" font-weight="bold" text-anchor="end" fill="#2a2a2a" transform="rotate(-45 87.62 264.5)">1</text>
<text x="100.76" y="264.5" font-size="6.3" font-weight="bold" text-anchor="end" fill="#2a2a2a" transform="rotate(-45 100.76 264.5)">10</text>
<text x="113.9" y="264.5" font-size="6.3" font-weight="bold" text-anchor="end" fill="#2a2a2a" transform="rotate(-45 113.9 264.5)">100</text>
<text x="127.04" y="264.5" font-size="6.3" font-weight="bold" text-anchor="end" fill="#2a2a2a" transform="rotate(-45 127.04 264.5)">1,000</text>
<text x="140.18" y="264.5" font-size="6.3" font-weight="bold" text-anchor="end" fill="#2a2a2a" transform="rotate(-45 140.18 264.5)">10,000</text>
<text x="153.32" y="264.5" font-size="6.3" font-weight="bold" text-anchor="end" fill="#2a2a2a" transform="rotate(-45 153.32 264.5)">100,000</text>
<text x="8.6" y="219.5" font-size="6.6" font-weight="bold" text-anchor="middle" fill="#333" transform="rotate(-90 8.6 219.5)">% Lysis relative to control</text>
<text x="90.2" y="284.4" font-size="6.65" font-weight="bold" text-anchor="middle" fill="#333">DLL3/CD3 ITE (ng/mL)</text>
<text x="149.6" y="251.2" font-size="6.3" font-weight="bold" text-anchor="end" fill="#222"><tspan font-style="italic">n</tspan> = 23</text>
<path d="M39.33 253.2 40.21 253.2 41.08 253.2 41.96 253.2 42.83 253.2 43.71 253.2 44.59 253.2 45.46 253.2 46.34 253.2 47.21 253.2 48.09 253.2 48.97 253.2 49.84 253.2 50.72 253.2 51.59 253.2 52.47 253.2 53.35 253.2 54.22 253.2 55.1 253.2 55.97 253.2 56.85 253.2 57.73 253.2 58.6 253.2 59.48 253.2 60.35 253.2 61.23 253.2 62.11 253.2 62.98 253.2 63.86 253.2 64.73 253.2 65.61 253.2 66.49 253.2 67.36 253.2 68.24 253.2 69.11 253.2 69.99 253.2 70.87 253.2 71.74 253.2 72.62 253.19 73.49 253.19 74.37 253.19 75.25 253.18 76.12 253.17 77 253.16 77.87 253.14 78.75 253.11 79.63 253.08 80.5 253.02 81.38 252.94 82.25 252.83 83.13 252.66 84.01 252.42 84.88 252.08 85.76 251.6 86.63 250.91 87.51 249.95 88.39 248.62 89.26 246.81 90.14 244.41 91.01 241.33 91.89 237.54 92.77 233.1 93.64 228.2 94.52 223.15 95.39 218.26 96.27 213.84 97.15 210.07 98.02 207.01 98.9 204.63 99.77 202.84 100.65 201.52 101.53 200.57 102.4 199.89 103.28 199.41 104.15 199.07 105.03 198.84 105.91 198.67 106.78 198.56 107.66 198.48 108.53 198.43 109.41 198.39 110.29 198.36 111.16 198.34 112.04 198.33 112.91 198.32 113.79 198.32 114.67 198.31 115.54 198.31 116.42 198.31 117.29 198.31 118.17 198.31 119.05 198.31 119.92 198.31 120.8 198.3 121.67 198.3 122.55 198.3 123.43 198.3 124.3 198.3 125.18 198.3 126.05 198.3 126.93 198.3 127.81 198.3 128.68 198.3 129.56 198.3 130.43 198.3 131.31 198.3 132.19 198.3 133.06 198.3 133.94 198.3 134.81 198.3 135.69 198.3 136.57 198.3 137.44 198.3 138.32 198.3 139.19 198.3 140.07 198.3 140.95 198.3 141.82 198.3 142.7 198.3 143.57 198.3 144.45 198.3" stroke="#111" stroke-width="0.85" fill="none"  stroke-linejoin="round"/>
<path d="M39.33 253.2 40.21 253.2 41.08 253.2 41.96 253.2 42.83 253.2 43.71 253.2 44.59 253.2 45.46 253.2 46.34 253.2 47.21 253.2 48.09 253.2 48.97 253.2 49.84 253.2 50.72 253.2 51.59 253.2 52.47 253.2 53.35 253.2 54.22 253.2 55.1 253.2 55.97 253.2 56.85 253.2 57.73 253.2 58.6 253.2 59.48 253.2 60.35 253.2 61.23 253.2 62.11 253.2 62.98 253.2 63.86 253.2 64.73 253.2 65.61 253.2 66.49 253.2 67.36 253.2 68.24 253.2 69.11 253.2 69.99 253.2 70.87 253.2 71.74 253.2 72.62 253.2 73.49 253.2 74.37 253.19 75.25 253.19 76.12 253.19 77 253.18 77.87 253.17 78.75 253.16 79.63 253.14 80.5 253.11 81.38 253.07 82.25 253 83.13 252.91 84.01 252.78 84.88 252.59 85.76 252.3 86.63 251.9 87.51 251.32 88.39 250.49 89.26 249.32 90.14 247.7 91.01 245.51 91.89 242.65 92.77 239.05 93.64 234.74 94.52 229.91 95.39 224.84 96.27 219.89 97.15 215.38 98.02 211.52 98.9 208.4 99.77 205.99 100.65 204.19 101.53 202.88 102.4 201.95 103.28 201.29 104.15 200.83 105.03 200.51 105.91 200.29 106.78 200.14 107.66 200.03 108.53 199.96 109.41 199.91 110.29 199.88 111.16 199.86 112.04 199.84 112.91 199.83 113.79 199.82 114.67 199.82 115.54 199.82 116.42 199.81 117.29 199.81 118.17 199.81 119.05 199.81 119.92 199.81 120.8 199.81 121.67 199.81 122.55 199.81 123.43 199.81 124.3 199.81 125.18 199.81 126.05 199.81 126.93 199.81 127.81 199.81 128.68 199.81 129.56 199.81 130.43 199.81 131.31 199.81 132.19 199.81 133.06 199.81 133.94 199.81 134.81 199.81 135.69 199.81 136.57 199.81 137.44 199.81 138.32 199.81 139.19 199.81 140.07 199.81 140.95 199.81 141.82 199.81 142.7 199.81 143.57 199.81 144.45 199.81" stroke="#111" stroke-width="0.85" fill="none"  stroke-linejoin="round"/>
<path d="M39.33 253.2 40.21 253.2 41.08 253.2 41.96 253.2 42.83 253.2 43.71 253.2 44.59 253.2 45.46 253.2 46.34 253.2 47.21 253.2 48.09 253.2 48.97 253.2 49.84 253.2 50.72 253.2 51.59 253.2 52.47 253.2 53.35 253.2 54.22 253.2 55.1 253.2 55.97 253.2 56.85 253.2 57.73 253.2 58.6 253.2 59.48 253.2 60.35 253.2 61.23 253.2 62.11 253.2 62.98 253.2 63.86 253.2 64.73 253.2 65.61 253.2 66.49 253.2 67.36 253.2 68.24 253.19 69.11 253.19 69.99 253.19 70.87 253.19 71.74 253.18 72.62 253.18 73.49 253.17 74.37 253.16 75.25 253.14 76.12 253.13 77 253.1 77.87 253.07 78.75 253.03 79.63 252.98 80.5 252.91 81.38 252.82 82.25 252.7 83.13 252.55 84.01 252.34 84.88 252.08 85.76 251.74 86.63 251.29 87.51 250.72 88.39 249.99 89.26 249.05 90.14 247.88 91.01 246.42 91.89 244.63 92.77 242.48 93.64 239.95 94.52 237.05 95.39 233.83 96.27 230.37 97.15 226.79 98.02 223.21 98.9 219.76 99.77 216.55 100.65 213.68 101.53 211.17 102.4 209.03 103.28 207.26 104.15 205.81 105.03 204.65 105.91 203.73 106.78 203.01 107.66 202.44 108.53 202 109.41 201.66 110.29 201.4 111.16 201.2 112.04 201.05 112.91 200.93 113.79 200.84 114.67 200.78 115.54 200.73 116.42 200.69 117.29 200.66 118.17 200.63 119.05 200.62 119.92 200.6 120.8 200.59 121.67 200.58 122.55 200.58 123.43 200.57 124.3 200.57 125.18 200.57 126.05 200.57 126.93 200.56 127.81 200.56 128.68 200.56 129.56 200.56 130.43 200.56 131.31 200.56 132.19 200.56 133.06 200.56 133.94 200.56 134.81 200.56 135.69 200.56 136.57 200.56 137.44 200.56 138.32 200.56 139.19 200.56 140.07 200.56 140.95 200.56 141.82 200.56 142.7 200.56 143.57 200.56 144.45 200.56" stroke="#111" stroke-width="0.85" fill="none"  stroke-linejoin="round"/>
<path d="M39.33 253.2 40.21 253.2 41.08 253.2 41.96 253.2 42.83 253.2 43.71 253.2 44.59 253.2 45.46 253.2 46.34 253.2 47.21 253.2 48.09 253.2 48.97 253.2 49.84 253.2 50.72 253.2 51.59 253.2 52.47 253.2 53.35 253.2 54.22 253.2 55.1 253.2 55.97 253.2 56.85 253.2 57.73 253.2 58.6 253.2 59.48 253.2 60.35 253.2 61.23 253.2 62.11 253.2 62.98 253.2 63.86 253.2 64.73 253.2 65.61 253.2 66.49 253.2 67.36 253.2 68.24 253.2 69.11 253.2 69.99 253.2 70.87 253.2 71.74 253.2 72.62 253.2 73.49 253.19 74.37 253.19 75.25 253.19 76.12 253.18 77 253.17 77.87 253.16 78.75 253.13 79.63 253.1 80.5 253.04 81.38 252.95 82.25 252.82 83.13 252.63 84.01 252.32 84.88 251.87 85.76 251.19 86.63 250.17 87.51 248.7 88.39 246.6 89.26 243.73 90.14 239.98 91.01 235.38 91.89 230.15 92.77 224.7 93.64 219.51 94.52 214.96 95.39 211.28 96.27 208.47 97.15 206.43 98.02 205 98.9 204.02 99.77 203.35 100.65 202.91 101.53 202.62 102.4 202.43 103.28 202.3 104.15 202.22 105.03 202.17 105.91 202.13 106.78 202.11 107.66 202.09 108.53 202.08 109.41 202.08 110.29 202.07 111.16 202.07 112.04 202.07 112.91 202.07 113.79 202.07 114.67 202.06 115.54 202.06 116.42 202.06 117.29 202.06 118.17 202.06 119.05 202.06 119.92 202.06 120.8 202.06 121.67 202.06 122.55 202.06 123.43 202.06 124.3 202.06 125.18 202.06 126.05 202.06 126.93 202.06 127.81 202.06 128.68 202.06 129.56 202.06 130.43 202.06 131.31 202.06 132.19 202.06 133.06 202.06 133.94 202.06 134.81 202.06 135.69 202.06 136.57 202.06 137.44 202.06 138.32 202.06 139.19 202.06 140.07 202.06 140.95 202.06 141.82 202.06 142.7 202.06 143.57 202.06 144.45 202.06" stroke="#111" stroke-width="0.85" fill="none"  stroke-linejoin="round"/>
<path d="M39.33 253.2 40.21 253.2 41.08 253.2 41.96 253.2 42.83 253.2 43.71 253.2 44.59 253.2 45.46 253.2 46.34 253.2 47.21 253.2 48.09 253.2 48.97 253.2 49.84 253.2 50.72 253.2 51.59 253.2 52.47 253.2 53.35 253.2 54.22 253.2 55.1 253.2 55.97 253.2 56.85 253.2 57.73 253.2 58.6 253.2 59.48 253.2 60.35 253.2 61.23 253.2 62.11 253.2 62.98 253.2 63.86 253.2 64.73 253.2 65.61 253.2 66.49 253.2 67.36 253.2 68.24 253.19 69.11 253.19 69.99 253.19 70.87 253.19 71.74 253.18 72.62 253.17 73.49 253.17 74.37 253.15 75.25 253.14 76.12 253.11 77 253.08 77.87 253.04 78.75 252.98 79.63 252.9 80.5 252.8 81.38 252.66 82.25 252.46 83.13 252.2 84.01 251.85 84.88 251.38 85.76 250.76 86.63 249.94 87.51 248.86 88.39 247.48 89.26 245.72 90.14 243.54 91.01 240.91 91.89 237.84 92.77 234.37 93.64 230.62 94.52 226.76 95.39 222.95 96.27 219.37 97.15 216.15 98.02 213.35 98.9 211.02 99.77 209.12 100.65 207.61 101.53 206.43 102.4 205.52 103.28 204.83 104.15 204.32 105.03 203.93 105.91 203.64 106.78 203.42 107.66 203.26 108.53 203.15 109.41 203.06 110.29 202.99 111.16 202.95 112.04 202.91 112.91 202.89 113.79 202.87 114.67 202.85 115.54 202.84 116.42 202.84 117.29 202.83 118.17 202.83 119.05 202.82 119.92 202.82 120.8 202.82 121.67 202.82 122.55 202.82 123.43 202.82 124.3 202.82 125.18 202.82 126.05 202.82 126.93 202.82 127.81 202.82 128.68 202.82 129.56 202.82 130.43 202.82 131.31 202.82 132.19 202.82 133.06 202.82 133.94 202.82 134.81 202.82 135.69 202.82 136.57 202.82 137.44 202.82 138.32 202.82 139.19 202.82 140.07 202.82 140.95 202.82 141.82 202.82 142.7 202.82 143.57 202.82 144.45 202.82" stroke="#111" stroke-width="0.85" fill="none"  stroke-linejoin="round"/>
<path d="M39.33 253.2 40.21 253.2 41.08 253.2 41.96 253.2 42.83 253.2 43.71 253.2 44.59 253.2 45.46 253.2 46.34 253.2 47.21 253.2 48.09 253.2 48.97 253.2 49.84 253.2 50.72 253.2 51.59 253.2 52.47 253.2 53.35 253.2 54.22 253.2 55.1 253.2 55.97 253.2 56.85 253.2 57.73 253.2 58.6 253.2 59.48 253.2 60.35 253.2 61.23 253.2 62.11 253.2 62.98 253.2 63.86 253.2 64.73 253.2 65.61 253.2 66.49 253.2 67.36 253.2 68.24 253.2 69.11 253.2 69.99 253.2 70.87 253.2 71.74 253.2 72.62 253.2 73.49 253.2 74.37 253.2 75.25 253.2 76.12 253.2 77 253.2 77.87 253.19 78.75 253.19 79.63 253.19 80.5 253.18 81.38 253.17 82.25 253.16 83.13 253.15 84.01 253.13 84.88 253.09 85.76 253.05 86.63 252.98 87.51 252.89 88.39 252.76 89.26 252.58 90.14 252.32 91.01 251.95 91.89 251.44 92.77 250.72 93.64 249.74 94.52 248.41 95.39 246.64 96.27 244.34 97.15 241.46 98.02 238 98.9 234.02 99.77 229.72 100.65 225.34 101.53 221.13 102.4 217.34 103.28 214.1 104.15 211.46 105.03 209.38 105.91 207.79 106.78 206.61 107.66 205.74 108.53 205.11 109.41 204.66 110.29 204.34 111.16 204.11 112.04 203.95 112.91 203.84 113.79 203.76 114.67 203.7 115.54 203.66 116.42 203.63 117.29 203.61 118.17 203.6 119.05 203.59 119.92 203.58 120.8 203.58 121.67 203.58 122.55 203.57 123.43 203.57 124.3 203.57 125.18 203.57 126.05 203.57 126.93 203.57 127.81 203.57 128.68 203.57 129.56 203.57 130.43 203.57 131.31 203.57 132.19 203.57 133.06 203.57 133.94 203.57 134.81 203.57 135.69 203.57 136.57 203.57 137.44 203.57 138.32 203.57 139.19 203.57 140.07 203.57 140.95 203.57 141.82 203.57 142.7 203.57 143.57 203.57 144.45 203.57" stroke="#111" stroke-width="0.85" fill="none"  stroke-linejoin="round"/>
<path d="M39.33 253.2 40.21 253.2 41.08 253.2 41.96 253.2 42.83 253.2 43.71 253.2 44.59 253.2 45.46 253.2 46.34 253.2 47.21 253.2 48.09 253.2 48.97 253.2 49.84 253.2 50.72 253.2 51.59 253.2 52.47 253.2 53.35 253.2 54.22 253.2 55.1 253.2 55.97 253.2 56.85 253.2 57.73 253.2 58.6 253.2 59.48 253.2 60.35 253.2 61.23 253.2 62.11 253.2 62.98 253.2 63.86 253.2 64.73 253.2 65.61 253.2 66.49 253.2 67.36 253.2 68.24 253.2 69.11 253.2 69.99 253.2 70.87 253.2 71.74 253.2 72.62 253.2 73.49 253.2 74.37 253.2 75.25 253.2 76.12 253.2 77 253.19 77.87 253.19 78.75 253.19 79.63 253.18 80.5 253.17 81.38 253.16 82.25 253.14 83.13 253.12 84.01 253.08 84.88 253.03 85.76 252.96 86.63 252.85 87.51 252.71 88.39 252.5 89.26 252.2 90.14 251.79 91.01 251.21 91.89 250.4 92.77 249.3 93.64 247.82 94.52 245.87 95.39 243.36 96.27 240.27 97.15 236.61 98.02 232.52 98.9 228.2 99.77 223.91 100.65 219.92 101.53 216.4 102.4 213.46 103.28 211.1 104.15 209.28 105.03 207.9 105.91 206.88 106.78 206.14 107.66 205.61 108.53 205.23 109.41 204.96 110.29 204.77 111.16 204.64 112.04 204.54 112.91 204.48 113.79 204.43 114.67 204.4 115.54 204.37 116.42 204.36 117.29 204.35 118.17 204.34 119.05 204.33 119.92 204.33 120.8 204.33 121.67 204.32 122.55 204.32 123.43 204.32 124.3 204.32 125.18 204.32 126.05 204.32 126.93 204.32 127.81 204.32 128.68 204.32 129.56 204.32 130.43 204.32 131.31 204.32 132.19 204.32 133.06 204.32 133.94 204.32 134.81 204.32 135.69 204.32 136.57 204.32 137.44 204.32 138.32 204.32 139.19 204.32 140.07 204.32 140.95 204.32 141.82 204.32 142.7 204.32 143.57 204.32 144.45 204.32" stroke="#111" stroke-width="0.85" fill="none"  stroke-linejoin="round"/>
<path d="M39.33 253.2 40.21 253.2 41.08 253.2 41.96 253.2 42.83 253.2 43.71 253.2 44.59 253.2 45.46 253.2 46.34 253.2 47.21 253.2 48.09 253.2 48.97 253.2 49.84 253.2 50.72 253.2 51.59 253.2 52.47 253.2 53.35 253.2 54.22 253.2 55.1 253.2 55.97 253.2 56.85 253.2 57.73 253.2 58.6 253.2 59.48 253.2 60.35 253.2 61.23 253.2 62.11 253.19 62.98 253.19 63.86 253.18 64.73 253.18 65.61 253.17 66.49 253.15 67.36 253.13 68.24 253.09 69.11 253.05 69.99 252.97 70.87 252.87 71.74 252.71 72.62 252.49 73.49 252.17 74.37 251.7 75.25 251.02 76.12 250.07 77 248.75 77.87 246.93 78.75 244.53 79.63 241.46 80.5 237.74 81.38 233.47 82.25 228.9 83.13 224.35 84.01 220.12 84.88 216.46 85.76 213.47 86.63 211.13 87.51 209.37 88.39 208.09 89.26 207.17 90.14 206.52 91.01 206.07 91.89 205.75 92.77 205.54 93.64 205.39 94.52 205.29 95.39 205.22 96.27 205.17 97.15 205.14 98.02 205.12 98.9 205.1 99.77 205.09 100.65 205.09 101.53 205.08 102.4 205.08 103.28 205.08 104.15 205.08 105.03 205.07 105.91 205.07 106.78 205.07 107.66 205.07 108.53 205.07 109.41 205.07 110.29 205.07 111.16 205.07 112.04 205.07 112.91 205.07 113.79 205.07 114.67 205.07 115.54 205.07 116.42 205.07 117.29 205.07 118.17 205.07 119.05 205.07 119.92 205.07 120.8 205.07 121.67 205.07 122.55 205.07 123.43 205.07 124.3 205.07 125.18 205.07 126.05 205.07 126.93 205.07 127.81 205.07 128.68 205.07 129.56 205.07 130.43 205.07 131.31 205.07 132.19 205.07 133.06 205.07 133.94 205.07 134.81 205.07 135.69 205.07 136.57 205.07 137.44 205.07 138.32 205.07 139.19 205.07 140.07 205.07 140.95 205.07 141.82 205.07 142.7 205.07 143.57 205.07 144.45 205.07" stroke="#111" stroke-width="0.85" fill="none"  stroke-linejoin="round"/>
<path d="M39.33 253.2 40.21 253.2 41.08 253.2 41.96 253.2 42.83 253.2 43.71 253.2 44.59 253.2 45.46 253.2 46.34 253.2 47.21 253.2 48.09 253.2 48.97 253.2 49.84 253.2 50.72 253.2 51.59 253.2 52.47 253.2 53.35 253.2 54.22 253.2 55.1 253.2 55.97 253.2 56.85 253.2 57.73 253.2 58.6 253.2 59.48 253.2 60.35 253.2 61.23 253.2 62.11 253.2 62.98 253.2 63.86 253.2 64.73 253.2 65.61 253.2 66.49 253.2 67.36 253.2 68.24 253.2 69.11 253.2 69.99 253.2 70.87 253.2 71.74 253.2 72.62 253.2 73.49 253.2 74.37 253.2 75.25 253.2 76.12 253.2 77 253.2 77.87 253.2 78.75 253.2 79.63 253.19 80.5 253.19 81.38 253.18 82.25 253.17 83.13 253.16 84.01 253.13 84.88 253.1 85.76 253.04 86.63 252.95 87.51 252.82 88.39 252.62 89.26 252.3 90.14 251.83 91.01 251.12 91.89 250.06 92.77 248.53 93.64 246.36 94.52 243.43 95.39 239.66 96.27 235.15 97.15 230.18 98.02 225.18 98.9 220.6 99.77 216.74 100.65 213.7 101.53 211.46 102.4 209.86 103.28 208.76 104.15 208.01 105.03 207.52 105.91 207.19 106.78 206.98 107.66 206.84 108.53 206.74 109.41 206.69 110.29 206.65 111.16 206.62 112.04 206.61 112.91 206.6 113.79 206.59 114.67 206.58 115.54 206.58 116.42 206.58 117.29 206.58 118.17 206.58 119.05 206.58 119.92 206.58 120.8 206.58 121.67 206.58 122.55 206.58 123.43 206.58 124.3 206.58 125.18 206.58 126.05 206.58 126.93 206.58 127.81 206.58 128.68 206.58 129.56 206.58 130.43 206.58 131.31 206.58 132.19 206.58 133.06 206.58 133.94 206.58 134.81 206.58 135.69 206.58 136.57 206.58 137.44 206.58 138.32 206.58 139.19 206.58 140.07 206.58 140.95 206.58 141.82 206.58 142.7 206.58 143.57 206.58 144.45 206.58" stroke="#111" stroke-width="0.85" fill="none"  stroke-linejoin="round"/>
<path d="M39.33 253.2 40.21 253.2 41.08 253.2 41.96 253.2 42.83 253.2 43.71 253.2 44.59 253.2 45.46 253.2 46.34 253.2 47.21 253.2 48.09 253.2 48.97 253.2 49.84 253.2 50.72 253.2 51.59 253.2 52.47 253.2 53.35 253.2 54.22 253.2 55.1 253.2 55.97 253.2 56.85 253.2 57.73 253.2 58.6 253.2 59.48 253.2 60.35 253.2 61.23 253.2 62.11 253.2 62.98 253.2 63.86 253.2 64.73 253.2 65.61 253.2 66.49 253.2 67.36 253.2 68.24 253.2 69.11 253.2 69.99 253.2 70.87 253.2 71.74 253.2 72.62 253.2 73.49 253.2 74.37 253.2 75.25 253.2 76.12 253.2 77 253.19 77.87 253.19 78.75 253.19 79.63 253.18 80.5 253.17 81.38 253.16 82.25 253.14 83.13 253.1 84.01 253.05 84.88 252.98 85.76 252.87 86.63 252.71 87.51 252.46 88.39 252.09 89.26 251.56 90.14 250.77 91.01 249.64 91.89 248.04 92.77 245.85 93.64 242.97 94.52 239.36 95.39 235.12 96.27 230.51 97.15 225.87 98.02 221.58 98.9 217.9 99.77 214.94 100.65 212.69 101.53 211.03 102.4 209.86 103.28 209.04 104.15 208.48 105.03 208.1 105.91 207.84 106.78 207.67 107.66 207.56 108.53 207.48 109.41 207.43 110.29 207.4 111.16 207.37 112.04 207.36 112.91 207.35 113.79 207.34 114.67 207.34 115.54 207.33 116.42 207.33 117.29 207.33 118.17 207.33 119.05 207.33 119.92 207.33 120.8 207.33 121.67 207.33 122.55 207.33 123.43 207.33 124.3 207.33 125.18 207.33 126.05 207.33 126.93 207.33 127.81 207.33 128.68 207.33 129.56 207.33 130.43 207.33 131.31 207.33 132.19 207.33 133.06 207.33 133.94 207.33 134.81 207.33 135.69 207.33 136.57 207.33 137.44 207.33 138.32 207.33 139.19 207.33 140.07 207.33 140.95 207.33 141.82 207.33 142.7 207.33 143.57 207.33 144.45 207.33" stroke="#111" stroke-width="0.85" fill="none"  stroke-linejoin="round"/>
<path d="M39.33 253.2 40.21 253.2 41.08 253.2 41.96 253.2 42.83 253.2 43.71 253.2 44.59 253.2 45.46 253.2 46.34 253.2 47.21 253.2 48.09 253.2 48.97 253.2 49.84 253.2 50.72 253.2 51.59 253.2 52.47 253.2 53.35 253.2 54.22 253.2 55.1 253.2 55.97 253.2 56.85 253.2 57.73 253.2 58.6 253.2 59.48 253.2 60.35 253.2 61.23 253.2 62.11 253.2 62.98 253.2 63.86 253.2 64.73 253.2 65.61 253.2 66.49 253.2 67.36 253.2 68.24 253.2 69.11 253.19 69.99 253.19 70.87 253.19 71.74 253.19 72.62 253.18 73.49 253.17 74.37 253.17 75.25 253.16 76.12 253.14 77 253.13 77.87 253.1 78.75 253.07 79.63 253.03 80.5 252.98 81.38 252.91 82.25 252.82 83.13 252.7 84.01 252.54 84.88 252.34 85.76 252.07 86.63 251.73 87.51 251.29 88.39 250.72 89.26 249.99 90.14 249.07 91.01 247.92 91.89 246.51 92.77 244.79 93.64 242.76 94.52 240.41 95.39 237.76 96.27 234.87 97.15 231.83 98.02 228.75 98.9 225.74 99.77 222.9 100.65 220.31 101.53 218.03 102.4 216.07 103.28 214.42 104.15 213.07 105.03 211.98 105.91 211.11 106.78 210.42 107.66 209.88 108.53 209.46 109.41 209.14 110.29 208.89 111.16 208.7 112.04 208.55 112.91 208.44 113.79 208.35 114.67 208.29 115.54 208.24 116.42 208.2 117.29 208.17 118.17 208.15 119.05 208.13 119.92 208.12 120.8 208.11 121.67 208.1 122.55 208.1 123.43 208.09 124.3 208.09 125.18 208.09 126.05 208.09 126.93 208.08 127.81 208.08 128.68 208.08 129.56 208.08 130.43 208.08 131.31 208.08 132.19 208.08 133.06 208.08 133.94 208.08 134.81 208.08 135.69 208.08 136.57 208.08 137.44 208.08 138.32 208.08 139.19 208.08 140.07 208.08 140.95 208.08 141.82 208.08 142.7 208.08 143.57 208.08 144.45 208.08" stroke="#111" stroke-width="0.85" fill="none"  stroke-linejoin="round"/>
<path d="M39.33 253.2 40.21 253.2 41.08 253.2 41.96 253.2 42.83 253.2 43.71 253.2 44.59 253.2 45.46 253.2 46.34 253.2 47.21 253.2 48.09 253.2 48.97 253.2 49.84 253.2 50.72 253.2 51.59 253.2 52.47 253.2 53.35 253.2 54.22 253.2 55.1 253.2 55.97 253.2 56.85 253.2 57.73 253.2 58.6 253.2 59.48 253.2 60.35 253.2 61.23 253.2 62.11 253.2 62.98 253.2 63.86 253.2 64.73 253.2 65.61 253.2 66.49 253.19 67.36 253.19 68.24 253.19 69.11 253.19 69.99 253.18 70.87 253.18 71.74 253.17 72.62 253.16 73.49 253.15 74.37 253.13 75.25 253.11 76.12 253.08 77 253.04 77.87 252.99 78.75 252.92 79.63 252.83 80.5 252.72 81.38 252.57 82.25 252.37 83.13 252.11 84.01 251.78 84.88 251.34 85.76 250.78 86.63 250.07 87.51 249.16 88.39 248.03 89.26 246.62 90.14 244.92 91.01 242.9 91.89 240.55 92.77 237.91 93.64 235.04 94.52 232.02 95.39 228.96 96.27 225.98 97.15 223.18 98.02 220.64 98.9 218.4 99.77 216.49 100.65 214.89 101.53 213.59 102.4 212.53 103.28 211.7 104.15 211.04 105.03 210.53 105.91 210.13 106.78 209.82 107.66 209.59 108.53 209.41 109.41 209.27 110.29 209.17 111.16 209.09 112.04 209.02 112.91 208.98 113.79 208.94 114.67 208.92 115.54 208.9 116.42 208.88 117.29 208.87 118.17 208.86 119.05 208.85 119.92 208.85 120.8 208.84 121.67 208.84 122.55 208.84 123.43 208.84 124.3 208.84 125.18 208.84 126.05 208.83 126.93 208.83 127.81 208.83 128.68 208.83 129.56 208.83 130.43 208.83 131.31 208.83 132.19 208.83 133.06 208.83 133.94 208.83 134.81 208.83 135.69 208.83 136.57 208.83 137.44 208.83 138.32 208.83 139.19 208.83 140.07 208.83 140.95 208.83 141.82 208.83 142.7 208.83 143.57 208.83 144.45 208.83" stroke="#111" stroke-width="0.85" fill="none"  stroke-linejoin="round"/>
<path d="M39.33 253.2 40.21 253.2 41.08 253.2 41.96 253.2 42.83 253.2 43.71 253.2 44.59 253.2 45.46 253.2 46.34 253.2 47.21 253.2 48.09 253.2 48.97 253.2 49.84 253.2 50.72 253.2 51.59 253.2 52.47 253.2 53.35 253.2 54.22 253.2 55.1 253.2 55.97 253.2 56.85 253.2 57.73 253.2 58.6 253.2 59.48 253.2 60.35 253.2 61.23 253.2 62.11 253.2 62.98 253.2 63.86 253.2 64.73 253.2 65.61 253.19 66.49 253.19 67.36 253.19 68.24 253.19 69.11 253.18 69.99 253.18 70.87 253.17 71.74 253.16 72.62 253.15 73.49 253.13 74.37 253.11 75.25 253.08 76.12 253.04 77 253 77.87 252.93 78.75 252.85 79.63 252.75 80.5 252.61 81.38 252.43 82.25 252.2 83.13 251.91 84.01 251.52 84.88 251.04 85.76 250.42 86.63 249.63 87.51 248.66 88.39 247.45 89.26 245.98 90.14 244.22 91.01 242.17 91.89 239.83 92.77 237.23 93.64 234.44 94.52 231.55 95.39 228.65 96.27 225.85 97.15 223.23 98.02 220.86 98.9 218.77 99.77 216.98 100.65 215.48 101.53 214.25 102.4 213.25 103.28 212.44 104.15 211.81 105.03 211.31 105.91 210.92 106.78 210.61 107.66 210.37 108.53 210.19 109.41 210.05 110.29 209.94 111.16 209.86 112.04 209.79 112.91 209.75 113.79 209.71 114.67 209.68 115.54 209.66 116.42 209.64 117.29 209.63 118.17 209.62 119.05 209.61 119.92 209.6 120.8 209.6 121.67 209.6 122.55 209.59 123.43 209.59 124.3 209.59 125.18 209.59 126.05 209.59 126.93 209.59 127.81 209.59 128.68 209.59 129.56 209.59 130.43 209.58 131.31 209.58 132.19 209.58 133.06 209.58 133.94 209.58 134.81 209.58 135.69 209.58 136.57 209.58 137.44 209.58 138.32 209.58 139.19 209.58 140.07 209.58 140.95 209.58 141.82 209.58 142.7 209.58 143.57 209.58 144.45 209.58" stroke="#111" stroke-width="0.85" fill="none"  stroke-linejoin="round"/>
<path d="M39.33 253.2 40.21 253.2 41.08 253.2 41.96 253.2 42.83 253.2 43.71 253.2 44.59 253.2 45.46 253.2 46.34 253.2 47.21 253.2 48.09 253.2 48.97 253.2 49.84 253.2 50.72 253.2 51.59 253.2 52.47 253.2 53.35 253.2 54.22 253.2 55.1 253.2 55.97 253.2 56.85 253.2 57.73 253.2 58.6 253.2 59.48 253.2 60.35 253.2 61.23 253.2 62.11 253.2 62.98 253.2 63.86 253.2 64.73 253.2 65.61 253.2 66.49 253.2 67.36 253.2 68.24 253.2 69.11 253.2 69.99 253.2 70.87 253.2 71.74 253.2 72.62 253.2 73.49 253.2 74.37 253.2 75.25 253.2 76.12 253.2 77 253.19 77.87 253.19 78.75 253.19 79.63 253.18 80.5 253.18 81.38 253.17 82.25 253.15 83.13 253.13 84.01 253.1 84.88 253.06 85.76 253 86.63 252.92 87.51 252.8 88.39 252.63 89.26 252.39 90.14 252.06 91.01 251.59 91.89 250.94 92.77 250.05 93.64 248.84 94.52 247.24 95.39 245.18 96.27 242.6 97.15 239.52 98.02 236.02 98.9 232.27 99.77 228.49 100.65 224.91 101.53 221.71 102.4 218.99 103.28 216.79 104.15 215.08 105.03 213.77 105.91 212.8 106.78 212.1 107.66 211.59 108.53 211.22 109.41 210.96 110.29 210.77 111.16 210.64 112.04 210.55 112.91 210.49 113.79 210.44 114.67 210.41 115.54 210.39 116.42 210.37 117.29 210.36 118.17 210.35 119.05 210.35 119.92 210.34 120.8 210.34 121.67 210.34 122.55 210.34 123.43 210.34 124.3 210.34 125.18 210.34 126.05 210.34 126.93 210.34 127.81 210.34 128.68 210.34 129.56 210.34 130.43 210.34 131.31 210.34 132.19 210.34 133.06 210.34 133.94 210.34 134.81 210.34 135.69 210.34 136.57 210.34 137.44 210.34 138.32 210.34 139.19 210.34 140.07 210.34 140.95 210.34 141.82 210.34 142.7 210.34 143.57 210.34 144.45 210.34" stroke="#111" stroke-width="0.85" fill="none"  stroke-linejoin="round"/>
<path d="M39.33 253.2 40.21 253.2 41.08 253.2 41.96 253.2 42.83 253.2 43.71 253.2 44.59 253.2 45.46 253.2 46.34 253.2 47.21 253.2 48.09 253.2 48.97 253.2 49.84 253.2 50.72 253.2 51.59 253.2 52.47 253.2 53.35 253.2 54.22 253.2 55.1 253.2 55.97 253.2 56.85 253.2 57.73 253.2 58.6 253.2 59.48 253.2 60.35 253.2 61.23 253.2 62.11 253.2 62.98 253.2 63.86 253.2 64.73 253.2 65.61 253.2 66.49 253.2 67.36 253.2 68.24 253.2 69.11 253.2 69.99 253.2 70.87 253.2 71.74 253.2 72.62 253.2 73.49 253.2 74.37 253.2 75.25 253.2 76.12 253.2 77 253.2 77.87 253.2 78.75 253.2 79.63 253.2 80.5 253.19 81.38 253.19 82.25 253.18 83.13 253.17 84.01 253.16 84.88 253.13 85.76 253.1 86.63 253.04 87.51 252.96 88.39 252.83 89.26 252.63 90.14 252.32 91.01 251.85 91.89 251.15 92.77 250.11 93.64 248.61 94.52 246.49 95.39 243.65 96.27 240.06 97.15 235.84 98.02 231.28 98.9 226.81 99.77 222.79 100.65 219.48 101.53 216.92 102.4 215.05 103.28 213.74 104.15 212.84 105.03 212.24 105.91 211.84 106.78 211.58 107.66 211.41 108.53 211.29 109.41 211.22 110.29 211.17 111.16 211.14 112.04 211.12 112.91 211.11 113.79 211.1 114.67 211.1 115.54 211.09 116.42 211.09 117.29 211.09 118.17 211.09 119.05 211.09 119.92 211.09 120.8 211.09 121.67 211.09 122.55 211.09 123.43 211.09 124.3 211.09 125.18 211.09 126.05 211.09 126.93 211.09 127.81 211.09 128.68 211.09 129.56 211.09 130.43 211.09 131.31 211.09 132.19 211.09 133.06 211.09 133.94 211.09 134.81 211.09 135.69 211.09 136.57 211.09 137.44 211.09 138.32 211.09 139.19 211.09 140.07 211.09 140.95 211.09 141.82 211.09 142.7 211.09 143.57 211.09 144.45 211.09" stroke="#111" stroke-width="0.85" fill="none"  stroke-linejoin="round"/>
<path d="M39.33 253.2 40.21 253.2 41.08 253.2 41.96 253.2 42.83 253.2 43.71 253.2 44.59 253.2 45.46 253.2 46.34 253.2 47.21 253.2 48.09 253.2 48.97 253.2 49.84 253.2 50.72 253.2 51.59 253.2 52.47 253.2 53.35 253.2 54.22 253.2 55.1 253.2 55.97 253.2 56.85 253.2 57.73 253.2 58.6 253.2 59.48 253.2 60.35 253.2 61.23 253.2 62.11 253.2 62.98 253.19 63.86 253.19 64.73 253.19 65.61 253.19 66.49 253.19 67.36 253.18 68.24 253.18 69.11 253.17 69.99 253.16 70.87 253.15 71.74 253.14 72.62 253.13 73.49 253.11 74.37 253.08 75.25 253.05 76.12 253.02 77 252.97 77.87 252.91 78.75 252.84 79.63 252.74 80.5 252.63 81.38 252.48 82.25 252.3 83.13 252.07 84.01 251.79 84.88 251.44 85.76 251.01 86.63 250.48 87.51 249.83 88.39 249.04 89.26 248.1 90.14 246.98 91.01 245.66 91.89 244.14 92.77 242.4 93.64 240.47 94.52 238.36 95.39 236.1 96.27 233.76 97.15 231.38 98.02 229.03 98.9 226.77 99.77 224.65 100.65 222.71 101.53 220.97 102.4 219.43 103.28 218.11 104.15 216.98 105.03 216.03 105.91 215.24 106.78 214.59 107.66 214.05 108.53 213.62 109.41 213.26 110.29 212.98 111.16 212.75 112.04 212.57 112.91 212.42 113.79 212.3 114.67 212.21 115.54 212.13 116.42 212.07 117.29 212.02 118.17 211.99 119.05 211.96 119.92 211.93 120.8 211.91 121.67 211.9 122.55 211.89 123.43 211.88 124.3 211.87 125.18 211.86 126.05 211.86 126.93 211.85 127.81 211.85 128.68 211.85 129.56 211.85 130.43 211.85 131.31 211.84 132.19 211.84 133.06 211.84 133.94 211.84 134.81 211.84 135.69 211.84 136.57 211.84 137.44 211.84 138.32 211.84 139.19 211.84 140.07 211.84 140.95 211.84 141.82 211.84 142.7 211.84 143.57 211.84 144.45 211.84" stroke="#111" stroke-width="0.85" fill="none"  stroke-linejoin="round"/>
<path d="M39.33 253.2 40.21 253.2 41.08 253.2 41.96 253.2 42.83 253.2 43.71 253.2 44.59 253.2 45.46 253.2 46.34 253.2 47.21 253.2 48.09 253.2 48.97 253.2 49.84 253.2 50.72 253.2 51.59 253.2 52.47 253.2 53.35 253.2 54.22 253.2 55.1 253.2 55.97 253.2 56.85 253.2 57.73 253.2 58.6 253.2 59.48 253.2 60.35 253.2 61.23 253.2 62.11 253.2 62.98 253.2 63.86 253.2 64.73 253.2 65.61 253.2 66.49 253.2 67.36 253.2 68.24 253.2 69.11 253.2 69.99 253.2 70.87 253.2 71.74 253.2 72.62 253.2 73.49 253.2 74.37 253.2 75.25 253.2 76.12 253.2 77 253.19 77.87 253.19 78.75 253.19 79.63 253.18 80.5 253.17 81.38 253.15 82.25 253.12 83.13 253.08 84.01 253.02 84.88 252.93 85.76 252.79 86.63 252.58 87.51 252.26 88.39 251.79 89.26 251.09 90.14 250.07 91.01 248.61 91.89 246.6 92.77 243.94 93.64 240.6 94.52 236.69 95.39 232.46 96.27 228.27 97.15 224.46 98.02 221.25 98.9 218.73 99.77 216.84 100.65 215.49 101.53 214.54 102.4 213.89 103.28 213.45 104.15 213.16 105.03 212.97 105.91 212.84 106.78 212.76 107.66 212.7 108.53 212.66 109.41 212.64 110.29 212.62 111.16 212.61 112.04 212.61 112.91 212.6 113.79 212.6 114.67 212.6 115.54 212.59 116.42 212.59 117.29 212.59 118.17 212.59 119.05 212.59 119.92 212.59 120.8 212.59 121.67 212.59 122.55 212.59 123.43 212.59 124.3 212.59 125.18 212.59 126.05 212.59 126.93 212.59 127.81 212.59 128.68 212.59 129.56 212.59 130.43 212.59 131.31 212.59 132.19 212.59 133.06 212.59 133.94 212.59 134.81 212.59 135.69 212.59 136.57 212.59 137.44 212.59 138.32 212.59 139.19 212.59 140.07 212.59 140.95 212.59 141.82 212.59 142.7 212.59 143.57 212.59 144.45 212.59" stroke="#111" stroke-width="0.85" fill="none"  stroke-linejoin="round"/>
<path d="M39.33 253.2 40.21 253.2 41.08 253.2 41.96 253.2 42.83 253.2 43.71 253.2 44.59 253.2 45.46 253.2 46.34 253.2 47.21 253.2 48.09 253.2 48.97 253.2 49.84 253.2 50.72 253.2 51.59 253.2 52.47 253.2 53.35 253.2 54.22 253.2 55.1 253.2 55.97 253.2 56.85 253.2 57.73 253.2 58.6 253.2 59.48 253.2 60.35 253.2 61.23 253.2 62.11 253.2 62.98 253.2 63.86 253.2 64.73 253.2 65.61 253.2 66.49 253.2 67.36 253.2 68.24 253.2 69.11 253.2 69.99 253.2 70.87 253.2 71.74 253.2 72.62 253.2 73.49 253.2 74.37 253.2 75.25 253.2 76.12 253.2 77 253.2 77.87 253.2 78.75 253.19 79.63 253.19 80.5 253.18 81.38 253.17 82.25 253.16 83.13 253.14 84.01 253.1 84.88 253.04 85.76 252.96 86.63 252.82 87.51 252.61 88.39 252.29 89.26 251.79 90.14 251.04 91.01 249.93 91.89 248.31 92.77 246.05 93.64 243.06 94.52 239.36 95.39 235.15 96.27 230.8 97.15 226.72 98.02 223.23 98.9 220.47 99.77 218.42 100.65 216.98 101.53 215.99 102.4 215.33 103.28 214.89 104.15 214.61 105.03 214.42 105.91 214.31 106.78 214.23 107.66 214.18 108.53 214.15 109.41 214.13 110.29 214.12 111.16 214.11 112.04 214.11 112.91 214.1 113.79 214.1 114.67 214.1 115.54 214.1 116.42 214.1 117.29 214.1 118.17 214.1 119.05 214.1 119.92 214.1 120.8 214.1 121.67 214.1 122.55 214.1 123.43 214.1 124.3 214.1 125.18 214.1 126.05 214.1 126.93 214.1 127.81 214.1 128.68 214.1 129.56 214.1 130.43 214.1 131.31 214.1 132.19 214.1 133.06 214.1 133.94 214.1 134.81 214.1 135.69 214.1 136.57 214.1 137.44 214.1 138.32 214.1 139.19 214.1 140.07 214.1 140.95 214.1 141.82 214.1 142.7 214.1 143.57 214.1 144.45 214.1" stroke="#111" stroke-width="0.85" fill="none"  stroke-linejoin="round"/>
<path d="M39.33 253.2 40.21 253.2 41.08 253.2 41.96 253.2 42.83 253.2 43.71 253.2 44.59 253.2 45.46 253.2 46.34 253.2 47.21 253.2 48.09 253.2 48.97 253.2 49.84 253.2 50.72 253.2 51.59 253.2 52.47 253.2 53.35 253.2 54.22 253.2 55.1 253.2 55.97 253.2 56.85 253.2 57.73 253.2 58.6 253.2 59.48 253.2 60.35 253.2 61.23 253.2 62.11 253.2 62.98 253.2 63.86 253.2 64.73 253.2 65.61 253.2 66.49 253.2 67.36 253.2 68.24 253.2 69.11 253.2 69.99 253.2 70.87 253.2 71.74 253.19 72.62 253.19 73.49 253.19 74.37 253.19 75.25 253.18 76.12 253.18 77 253.17 77.87 253.16 78.75 253.14 79.63 253.13 80.5 253.1 81.38 253.07 82.25 253.03 83.13 252.98 84.01 252.9 84.88 252.81 85.76 252.69 86.63 252.52 87.51 252.31 88.39 252.03 89.26 251.66 90.14 251.19 91.01 250.59 91.89 249.82 92.77 248.85 93.64 247.65 94.52 246.19 95.39 244.45 96.27 242.43 97.15 240.15 98.02 237.67 98.9 235.07 99.77 232.44 100.65 229.89 101.53 227.5 102.4 225.34 103.28 223.46 104.15 221.86 105.03 220.53 105.91 219.45 106.78 218.58 107.66 217.9 108.53 217.36 109.41 216.95 110.29 216.63 111.16 216.38 112.04 216.19 112.91 216.05 113.79 215.94 114.67 215.86 115.54 215.79 116.42 215.75 117.29 215.71 118.17 215.68 119.05 215.66 119.92 215.65 120.8 215.64 121.67 215.63 122.55 215.62 123.43 215.62 124.3 215.61 125.18 215.61 126.05 215.61 126.93 215.61 127.81 215.6 128.68 215.6 129.56 215.6 130.43 215.6 131.31 215.6 132.19 215.6 133.06 215.6 133.94 215.6 134.81 215.6 135.69 215.6 136.57 215.6 137.44 215.6 138.32 215.6 139.19 215.6 140.07 215.6 140.95 215.6 141.82 215.6 142.7 215.6 143.57 215.6 144.45 215.6" stroke="#111" stroke-width="0.85" fill="none"  stroke-linejoin="round"/>
<path d="M39.33 253.2 40.21 253.2 41.08 253.2 41.96 253.2 42.83 253.2 43.71 253.2 44.59 253.2 45.46 253.2 46.34 253.2 47.21 253.2 48.09 253.2 48.97 253.2 49.84 253.2 50.72 253.2 51.59 253.2 52.47 253.2 53.35 253.2 54.22 253.2 55.1 253.2 55.97 253.2 56.85 253.2 57.73 253.2 58.6 253.2 59.48 253.2 60.35 253.2 61.23 253.2 62.11 253.2 62.98 253.2 63.86 253.2 64.73 253.2 65.61 253.2 66.49 253.2 67.36 253.2 68.24 253.19 69.11 253.19 69.99 253.19 70.87 253.18 71.74 253.18 72.62 253.17 73.49 253.16 74.37 253.15 75.25 253.13 76.12 253.11 77 253.07 77.87 253.03 78.75 252.97 79.63 252.89 80.5 252.78 81.38 252.63 82.25 252.43 83.13 252.16 84.01 251.81 84.88 251.34 85.76 250.72 86.63 249.92 87.51 248.89 88.39 247.6 89.26 246 90.14 244.09 91.01 241.86 91.89 239.37 92.77 236.7 93.64 233.96 94.52 231.28 95.39 228.76 96.27 226.5 97.15 224.54 98.02 222.9 98.9 221.57 99.77 220.51 100.65 219.68 101.53 219.04 102.4 218.55 103.28 218.18 104.15 217.91 105.03 217.7 105.91 217.55 106.78 217.43 107.66 217.35 108.53 217.28 109.41 217.24 110.29 217.2 111.16 217.18 112.04 217.16 112.91 217.14 113.79 217.13 114.67 217.13 115.54 217.12 116.42 217.12 117.29 217.11 118.17 217.11 119.05 217.11 119.92 217.11 120.8 217.11 121.67 217.11 122.55 217.11 123.43 217.11 124.3 217.1 125.18 217.1 126.05 217.1 126.93 217.1 127.81 217.1 128.68 217.1 129.56 217.1 130.43 217.1 131.31 217.1 132.19 217.1 133.06 217.1 133.94 217.1 134.81 217.1 135.69 217.1 136.57 217.1 137.44 217.1 138.32 217.1 139.19 217.1 140.07 217.1 140.95 217.1 141.82 217.1 142.7 217.1 143.57 217.1 144.45 217.1" stroke="#111" stroke-width="0.85" fill="none"  stroke-linejoin="round"/>
<path d="M39.33 253.2 40.21 253.2 41.08 253.2 41.96 253.2 42.83 253.2 43.71 253.2 44.59 253.2 45.46 253.2 46.34 253.2 47.21 253.2 48.09 253.2 48.97 253.2 49.84 253.2 50.72 253.2 51.59 253.2 52.47 253.2 53.35 253.2 54.22 253.2 55.1 253.2 55.97 253.2 56.85 253.2 57.73 253.2 58.6 253.2 59.48 253.2 60.35 253.2 61.23 253.2 62.11 253.2 62.98 253.2 63.86 253.2 64.73 253.19 65.61 253.19 66.49 253.19 67.36 253.19 68.24 253.18 69.11 253.18 69.99 253.17 70.87 253.17 71.74 253.16 72.62 253.15 73.49 253.13 74.37 253.11 75.25 253.09 76.12 253.06 77 253.02 77.87 252.97 78.75 252.91 79.63 252.83 80.5 252.73 81.38 252.6 82.25 252.43 83.13 252.23 84.01 251.97 84.88 251.64 85.76 251.23 86.63 250.72 87.51 250.09 88.39 249.31 89.26 248.38 90.14 247.26 91.01 245.95 91.89 244.43 92.77 242.72 93.64 240.82 94.52 238.78 95.39 236.65 96.27 234.48 97.15 232.34 98.02 230.3 98.9 228.4 99.77 226.67 100.65 225.15 101.53 223.83 102.4 222.71 103.28 221.77 104.15 220.99 105.03 220.36 105.91 219.84 106.78 219.43 107.66 219.1 108.53 218.84 109.41 218.63 110.29 218.46 111.16 218.33 112.04 218.23 112.91 218.15 113.79 218.09 114.67 218.04 115.54 218 116.42 217.97 117.29 217.94 118.17 217.92 119.05 217.91 119.92 217.9 120.8 217.89 121.67 217.88 122.55 217.88 123.43 217.87 124.3 217.87 125.18 217.87 126.05 217.86 126.93 217.86 127.81 217.86 128.68 217.86 129.56 217.86 130.43 217.86 131.31 217.86 132.19 217.86 133.06 217.86 133.94 217.86 134.81 217.86 135.69 217.86 136.57 217.86 137.44 217.86 138.32 217.86 139.19 217.86 140.07 217.86 140.95 217.86 141.82 217.86 142.7 217.86 143.57 217.86 144.45 217.86" stroke="#111" stroke-width="0.85" fill="none"  stroke-linejoin="round"/>
<path d="M39.33 253.2 40.21 253.2 41.08 253.2 41.96 253.2 42.83 253.2 43.71 253.2 44.59 253.2 45.46 253.2 46.34 253.2 47.21 253.2 48.09 253.2 48.97 253.2 49.84 253.2 50.72 253.2 51.59 253.2 52.47 253.2 53.35 253.2 54.22 253.2 55.1 253.2 55.97 253.2 56.85 253.2 57.73 253.2 58.6 253.2 59.48 253.2 60.35 253.2 61.23 253.2 62.11 253.2 62.98 253.2 63.86 253.2 64.73 253.2 65.61 253.2 66.49 253.2 67.36 253.2 68.24 253.19 69.11 253.19 69.99 253.19 70.87 253.19 71.74 253.18 72.62 253.17 73.49 253.16 74.37 253.15 75.25 253.13 76.12 253.11 77 253.07 77.87 253.03 78.75 252.97 79.63 252.89 80.5 252.78 81.38 252.63 82.25 252.43 83.13 252.16 84.01 251.8 84.88 251.33 85.76 250.71 86.63 249.91 87.51 248.88 88.39 247.61 89.26 246.05 90.14 244.21 91.01 242.12 91.89 239.82 92.77 237.42 93.64 235.01 94.52 232.72 95.39 230.62 96.27 228.78 97.15 227.22 98.02 225.94 98.9 224.92 99.77 224.11 100.65 223.49 101.53 223.02 102.4 222.66 103.28 222.39 104.15 222.19 105.03 222.04 105.91 221.93 106.78 221.85 107.66 221.79 108.53 221.74 109.41 221.71 110.29 221.68 111.16 221.67 112.04 221.65 112.91 221.64 113.79 221.64 114.67 221.63 115.54 221.63 116.42 221.62 117.29 221.62 118.17 221.62 119.05 221.62 119.92 221.62 120.8 221.62 121.67 221.62 122.55 221.62 123.43 221.62 124.3 221.62 125.18 221.62 126.05 221.62 126.93 221.62 127.81 221.62 128.68 221.62 129.56 221.62 130.43 221.62 131.31 221.62 132.19 221.62 133.06 221.62 133.94 221.62 134.81 221.62 135.69 221.62 136.57 221.62 137.44 221.62 138.32 221.62 139.19 221.62 140.07 221.62 140.95 221.62 141.82 221.62 142.7 221.62 143.57 221.62 144.45 221.62" stroke="#111" stroke-width="0.85" fill="none"  stroke-linejoin="round"/>
<path d="M39.33 253.2 40.21 253.2 41.08 253.2 41.96 253.2 42.83 253.2 43.71 253.2 44.59 253.2 45.46 253.2 46.34 253.2 47.21 253.2 48.09 253.2 48.97 253.2 49.84 253.2 50.72 253.2 51.59 253.2 52.47 253.2 53.35 253.2 54.22 253.2 55.1 253.2 55.97 253.2 56.85 253.2 57.73 253.2 58.6 253.2 59.48 253.2 60.35 253.2 61.23 253.2 62.11 253.2 62.98 253.2 63.86 253.2 64.73 253.2 65.61 253.2 66.49 253.2 67.36 253.2 68.24 253.2 69.11 253.2 69.99 253.2 70.87 253.2 71.74 253.2 72.62 253.2 73.49 253.2 74.37 253.19 75.25 253.19 76.12 253.19 77 253.18 77.87 253.17 78.75 253.16 79.63 253.15 80.5 253.13 81.38 253.1 82.25 253.06 83.13 253.01 84.01 252.93 84.88 252.82 85.76 252.67 86.63 252.46 87.51 252.18 88.39 251.79 89.26 251.26 90.14 250.54 91.01 249.6 91.89 248.39 92.77 246.86 93.64 245.01 94.52 242.85 95.39 240.45 96.27 237.93 97.15 235.42 98.02 233.05 98.9 230.95 99.77 229.15 100.65 227.69 101.53 226.52 102.4 225.63 103.28 224.95 104.15 224.45 105.03 224.08 105.91 223.81 106.78 223.62 107.66 223.48 108.53 223.37 109.41 223.3 110.29 223.25 111.16 223.21 112.04 223.19 112.91 223.17 113.79 223.15 114.67 223.14 115.54 223.14 116.42 223.13 117.29 223.13 118.17 223.13 119.05 223.12 119.92 223.12 120.8 223.12 121.67 223.12 122.55 223.12 123.43 223.12 124.3 223.12 125.18 223.12 126.05 223.12 126.93 223.12 127.81 223.12 128.68 223.12 129.56 223.12 130.43 223.12 131.31 223.12 132.19 223.12 133.06 223.12 133.94 223.12 134.81 223.12 135.69 223.12 136.57 223.12 137.44 223.12 138.32 223.12 139.19 223.12 140.07 223.12 140.95 223.12 141.82 223.12 142.7 223.12 143.57 223.12 144.45 223.12" stroke="#111" stroke-width="0.85" fill="none"  stroke-linejoin="round"/>
<rect x="51.67" y="252.49" width="1.6" height="1.6" fill="#111" stroke="none" stroke-width="0.8" />
<rect x="64.81" y="252.35" width="1.6" height="1.6" fill="#111" stroke="none" stroke-width="0.8" />
<rect x="77.95" y="252.26" width="1.6" height="1.6" fill="#111" stroke="none" stroke-width="0.8" />
<rect x="91.09" y="235.52" width="1.6" height="1.6" fill="#111" stroke="none" stroke-width="0.8" />
<rect x="104.23" y="197.49" width="1.6" height="1.6" fill="#111" stroke="none" stroke-width="0.8" />
<rect x="117.37" y="196.22" width="1.6" height="1.6" fill="#111" stroke="none" stroke-width="0.8" />
<rect x="130.51" y="196.43" width="1.6" height="1.6" fill="#111" stroke="none" stroke-width="0.8" />
<rect x="143.65" y="196.03" width="1.6" height="1.6" fill="#111" stroke="none" stroke-width="0.8" />
<rect x="26.8" y="252.3" width="1.8" height="1.8" fill="#111" stroke="none" stroke-width="0.8" />
<rect x="51.67" y="252.3" width="1.6" height="1.6" fill="#111" stroke="none" stroke-width="0.8" />
<rect x="64.81" y="252.6" width="1.6" height="1.6" fill="#111" stroke="none" stroke-width="0.8" />
<rect x="77.95" y="252.14" width="1.6" height="1.6" fill="#111" stroke="none" stroke-width="0.8" />
<rect x="91.09" y="240.45" width="1.6" height="1.6" fill="#111" stroke="none" stroke-width="0.8" />
<rect x="104.23" y="198.49" width="1.6" height="1.6" fill="#111" stroke="none" stroke-width="0.8" />
<rect x="117.37" y="198.8" width="1.6" height="1.6" fill="#111" stroke="none" stroke-width="0.8" />
<rect x="130.51" y="198.36" width="1.6" height="1.6" fill="#111" stroke="none" stroke-width="0.8" />
<rect x="143.65" y="199.88" width="1.6" height="1.6" fill="#111" stroke="none" stroke-width="0.8" />
<rect x="26.8" y="252.3" width="1.8" height="1.8" fill="#111" stroke="none" stroke-width="0.8" />
<rect x="51.67" y="252.2" width="1.6" height="1.6" fill="#111" stroke="none" stroke-width="0.8" />
<rect x="64.81" y="252.35" width="1.6" height="1.6" fill="#111" stroke="none" stroke-width="0.8" />
<rect x="77.95" y="252.36" width="1.6" height="1.6" fill="#111" stroke="none" stroke-width="0.8" />
<rect x="91.09" y="245.14" width="1.6" height="1.6" fill="#111" stroke="none" stroke-width="0.8" />
<rect x="104.23" y="202.79" width="1.6" height="1.6" fill="#111" stroke="none" stroke-width="0.8" />
<rect x="117.37" y="198.36" width="1.6" height="1.6" fill="#111" stroke="none" stroke-width="0.8" />
<rect x="130.51" y="201" width="1.6" height="1.6" fill="#111" stroke="none" stroke-width="0.8" />
<rect x="143.65" y="198.86" width="1.6" height="1.6" fill="#111" stroke="none" stroke-width="0.8" />
<rect x="26.8" y="252.3" width="1.8" height="1.8" fill="#111" stroke="none" stroke-width="0.8" />
<rect x="51.67" y="252.45" width="1.6" height="1.6" fill="#111" stroke="none" stroke-width="0.8" />
<rect x="64.81" y="252.61" width="1.6" height="1.6" fill="#111" stroke="none" stroke-width="0.8" />
<rect x="77.95" y="252.46" width="1.6" height="1.6" fill="#111" stroke="none" stroke-width="0.8" />
<rect x="91.09" y="228.54" width="1.6" height="1.6" fill="#111" stroke="none" stroke-width="0.8" />
<rect x="104.23" y="200.24" width="1.6" height="1.6" fill="#111" stroke="none" stroke-width="0.8" />
<rect x="117.37" y="202.64" width="1.6" height="1.6" fill="#111" stroke="none" stroke-width="0.8" />
<rect x="130.51" y="200.92" width="1.6" height="1.6" fill="#111" stroke="none" stroke-width="0.8" />
<rect x="143.65" y="202.63" width="1.6" height="1.6" fill="#111" stroke="none" stroke-width="0.8" />
<rect x="26.8" y="252.3" width="1.8" height="1.8" fill="#111" stroke="none" stroke-width="0.8" />
<rect x="51.67" y="252.27" width="1.6" height="1.6" fill="#111" stroke="none" stroke-width="0.8" />
<rect x="64.81" y="252.5" width="1.6" height="1.6" fill="#111" stroke="none" stroke-width="0.8" />
<rect x="77.95" y="251.95" width="1.6" height="1.6" fill="#111" stroke="none" stroke-width="0.8" />
<rect x="91.09" y="235.59" width="1.6" height="1.6" fill="#111" stroke="none" stroke-width="0.8" />
<rect x="104.23" y="203.11" width="1.6" height="1.6" fill="#111" stroke="none" stroke-width="0.8" />
<rect x="117.37" y="200.53" width="1.6" height="1.6" fill="#111" stroke="none" stroke-width="0.8" />
<rect x="130.51" y="202.59" width="1.6" height="1.6" fill="#111" stroke="none" stroke-width="0.8" />
<rect x="143.65" y="203.29" width="1.6" height="1.6" fill="#111" stroke="none" stroke-width="0.8" />
<rect x="26.8" y="252.3" width="1.8" height="1.8" fill="#111" stroke="none" stroke-width="0.8" />
<rect x="51.67" y="252.34" width="1.6" height="1.6" fill="#111" stroke="none" stroke-width="0.8" />
<rect x="64.81" y="252.68" width="1.6" height="1.6" fill="#111" stroke="none" stroke-width="0.8" />
<rect x="77.95" y="252.57" width="1.6" height="1.6" fill="#111" stroke="none" stroke-width="0.8" />
<rect x="91.09" y="250.91" width="1.6" height="1.6" fill="#111" stroke="none" stroke-width="0.8" />
<rect x="104.23" y="208.24" width="1.6" height="1.6" fill="#111" stroke="none" stroke-width="0.8" />
<rect x="117.37" y="203.83" width="1.6" height="1.6" fill="#111" stroke="none" stroke-width="0.8" />
<rect x="130.51" y="204.14" width="1.6" height="1.6" fill="#111" stroke="none" stroke-width="0.8" />
<rect x="143.65" y="201.66" width="1.6" height="1.6" fill="#111" stroke="none" stroke-width="0.8" />
<rect x="26.8" y="252.3" width="1.8" height="1.8" fill="#111" stroke="none" stroke-width="0.8" />
<rect x="51.67" y="252.51" width="1.6" height="1.6" fill="#111" stroke="none" stroke-width="0.8" />
<rect x="64.81" y="252.12" width="1.6" height="1.6" fill="#111" stroke="none" stroke-width="0.8" />
<rect x="77.95" y="252.15" width="1.6" height="1.6" fill="#111" stroke="none" stroke-width="0.8" />
<rect x="91.09" y="249.97" width="1.6" height="1.6" fill="#111" stroke="none" stroke-width="0.8" />
<rect x="104.23" y="207.22" width="1.6" height="1.6" fill="#111" stroke="none" stroke-width="0.8" />
<rect x="117.37" y="203.48" width="1.6" height="1.6" fill="#111" stroke="none" stroke-width="0.8" />
<rect x="130.51" y="203.09" width="1.6" height="1.6" fill="#111" stroke="none" stroke-width="0.8" />
<rect x="143.65" y="203.23" width="1.6" height="1.6" fill="#111" stroke="none" stroke-width="0.8" />
<rect x="26.8" y="252.3" width="1.8" height="1.8" fill="#111" stroke="none" stroke-width="0.8" />
<rect x="51.67" y="252.36" width="1.6" height="1.6" fill="#111" stroke="none" stroke-width="0.8" />
<rect x="64.81" y="252.29" width="1.6" height="1.6" fill="#111" stroke="none" stroke-width="0.8" />
<rect x="77.95" y="243.46" width="1.6" height="1.6" fill="#111" stroke="none" stroke-width="0.8" />
<rect x="91.09" y="204.93" width="1.6" height="1.6" fill="#111" stroke="none" stroke-width="0.8" />
<rect x="104.23" y="204.48" width="1.6" height="1.6" fill="#111" stroke="none" stroke-width="0.8" />
<rect x="117.37" y="203.61" width="1.6" height="1.6" fill="#111" stroke="none" stroke-width="0.8" />
<rect x="130.51" y="205.06" width="1.6" height="1.6" fill="#111" stroke="none" stroke-width="0.8" />
<rect x="143.65" y="204.87" width="1.6" height="1.6" fill="#111" stroke="none" stroke-width="0.8" />
<rect x="26.8" y="252.3" width="1.8" height="1.8" fill="#111" stroke="none" stroke-width="0.8" />
<rect x="51.67" y="252.11" width="1.6" height="1.6" fill="#111" stroke="none" stroke-width="0.8" />
<rect x="64.81" y="252.39" width="1.6" height="1.6" fill="#111" stroke="none" stroke-width="0.8" />
<rect x="77.95" y="252.37" width="1.6" height="1.6" fill="#111" stroke="none" stroke-width="0.8" />
<rect x="91.09" y="250.73" width="1.6" height="1.6" fill="#111" stroke="none" stroke-width="0.8" />
<rect x="104.23" y="206.97" width="1.6" height="1.6" fill="#111" stroke="none" stroke-width="0.8" />
<rect x="117.37" y="205.54" width="1.6" height="1.6" fill="#111" stroke="none" stroke-width="0.8" />
<rect x="130.51" y="207.22" width="1.6" height="1.6" fill="#111" stroke="none" stroke-width="0.8" />
<rect x="143.65" y="205.43" width="1.6" height="1.6" fill="#111" stroke="none" stroke-width="0.8" />
<rect x="26.8" y="252.3" width="1.8" height="1.8" fill="#111" stroke="none" stroke-width="0.8" />
<rect x="51.67" y="252.32" width="1.6" height="1.6" fill="#111" stroke="none" stroke-width="0.8" />
<rect x="64.81" y="252.66" width="1.6" height="1.6" fill="#111" stroke="none" stroke-width="0.8" />
<rect x="77.95" y="252.31" width="1.6" height="1.6" fill="#111" stroke="none" stroke-width="0.8" />
<rect x="91.09" y="247.34" width="1.6" height="1.6" fill="#111" stroke="none" stroke-width="0.8" />
<rect x="104.23" y="206.76" width="1.6" height="1.6" fill="#111" stroke="none" stroke-width="0.8" />
<rect x="117.37" y="206.97" width="1.6" height="1.6" fill="#111" stroke="none" stroke-width="0.8" />
<rect x="130.51" y="205.91" width="1.6" height="1.6" fill="#111" stroke="none" stroke-width="0.8" />
<rect x="143.65" y="205.81" width="1.6" height="1.6" fill="#111" stroke="none" stroke-width="0.8" />
<rect x="26.8" y="252.3" width="1.8" height="1.8" fill="#111" stroke="none" stroke-width="0.8" />
<rect x="51.67" y="252.69" width="1.6" height="1.6" fill="#111" stroke="none" stroke-width="0.8" />
<rect x="64.81" y="252.66" width="1.6" height="1.6" fill="#111" stroke="none" stroke-width="0.8" />
<rect x="77.95" y="252.17" width="1.6" height="1.6" fill="#111" stroke="none" stroke-width="0.8" />
<rect x="91.09" y="244.32" width="1.6" height="1.6" fill="#111" stroke="none" stroke-width="0.8" />
<rect x="104.23" y="211.93" width="1.6" height="1.6" fill="#111" stroke="none" stroke-width="0.8" />
<rect x="117.37" y="207.48" width="1.6" height="1.6" fill="#111" stroke="none" stroke-width="0.8" />
<rect x="130.51" y="207" width="1.6" height="1.6" fill="#111" stroke="none" stroke-width="0.8" />
<rect x="143.65" y="207.82" width="1.6" height="1.6" fill="#111" stroke="none" stroke-width="0.8" />
<rect x="26.8" y="252.3" width="1.8" height="1.8" fill="#111" stroke="none" stroke-width="0.8" />
<rect x="51.67" y="252.48" width="1.6" height="1.6" fill="#111" stroke="none" stroke-width="0.8" />
<rect x="64.81" y="252.51" width="1.6" height="1.6" fill="#111" stroke="none" stroke-width="0.8" />
<rect x="77.95" y="252.2" width="1.6" height="1.6" fill="#111" stroke="none" stroke-width="0.8" />
<rect x="91.09" y="239.46" width="1.6" height="1.6" fill="#111" stroke="none" stroke-width="0.8" />
<rect x="104.23" y="210.33" width="1.6" height="1.6" fill="#111" stroke="none" stroke-width="0.8" />
<rect x="117.37" y="208.43" width="1.6" height="1.6" fill="#111" stroke="none" stroke-width="0.8" />
<rect x="130.51" y="207.21" width="1.6" height="1.6" fill="#111" stroke="none" stroke-width="0.8" />
<rect x="143.65" y="209.46" width="1.6" height="1.6" fill="#111" stroke="none" stroke-width="0.8" />
<rect x="26.8" y="252.3" width="1.8" height="1.8" fill="#111" stroke="none" stroke-width="0.8" />
<rect x="51.67" y="252.36" width="1.6" height="1.6" fill="#111" stroke="none" stroke-width="0.8" />
<rect x="64.81" y="252.25" width="1.6" height="1.6" fill="#111" stroke="none" stroke-width="0.8" />
<rect x="77.95" y="252.17" width="1.6" height="1.6" fill="#111" stroke="none" stroke-width="0.8" />
<rect x="91.09" y="239.86" width="1.6" height="1.6" fill="#111" stroke="none" stroke-width="0.8" />
<rect x="104.23" y="209.59" width="1.6" height="1.6" fill="#111" stroke="none" stroke-width="0.8" />
<rect x="117.37" y="209.6" width="1.6" height="1.6" fill="#111" stroke="none" stroke-width="0.8" />
<rect x="130.51" y="209.72" width="1.6" height="1.6" fill="#111" stroke="none" stroke-width="0.8" />
<rect x="143.65" y="208.98" width="1.6" height="1.6" fill="#111" stroke="none" stroke-width="0.8" />
<rect x="26.8" y="252.3" width="1.8" height="1.8" fill="#111" stroke="none" stroke-width="0.8" />
<rect x="51.67" y="252.28" width="1.6" height="1.6" fill="#111" stroke="none" stroke-width="0.8" />
<rect x="64.81" y="252.64" width="1.6" height="1.6" fill="#111" stroke="none" stroke-width="0.8" />
<rect x="77.95" y="252.5" width="1.6" height="1.6" fill="#111" stroke="none" stroke-width="0.8" />
<rect x="91.09" y="250.64" width="1.6" height="1.6" fill="#111" stroke="none" stroke-width="0.8" />
<rect x="104.23" y="211.97" width="1.6" height="1.6" fill="#111" stroke="none" stroke-width="0.8" />
<rect x="117.37" y="209.74" width="1.6" height="1.6" fill="#111" stroke="none" stroke-width="0.8" />
<rect x="130.51" y="208.47" width="1.6" height="1.6" fill="#111" stroke="none" stroke-width="0.8" />
<rect x="143.65" y="210.53" width="1.6" height="1.6" fill="#111" stroke="none" stroke-width="0.8" />
<rect x="26.8" y="252.3" width="1.8" height="1.8" fill="#111" stroke="none" stroke-width="0.8" />
<rect x="51.67" y="252.5" width="1.6" height="1.6" fill="#111" stroke="none" stroke-width="0.8" />
<rect x="64.81" y="252.31" width="1.6" height="1.6" fill="#111" stroke="none" stroke-width="0.8" />
<rect x="77.95" y="252.17" width="1.6" height="1.6" fill="#111" stroke="none" stroke-width="0.8" />
<rect x="91.09" y="250.5" width="1.6" height="1.6" fill="#111" stroke="none" stroke-width="0.8" />
<rect x="104.23" y="212.27" width="1.6" height="1.6" fill="#111" stroke="none" stroke-width="0.8" />
<rect x="117.37" y="211.43" width="1.6" height="1.6" fill="#111" stroke="none" stroke-width="0.8" />
<rect x="130.51" y="210.2" width="1.6" height="1.6" fill="#111" stroke="none" stroke-width="0.8" />
<rect x="143.65" y="211.22" width="1.6" height="1.6" fill="#111" stroke="none" stroke-width="0.8" />
<rect x="26.8" y="252.3" width="1.8" height="1.8" fill="#111" stroke="none" stroke-width="0.8" />
<rect x="51.67" y="252.22" width="1.6" height="1.6" fill="#111" stroke="none" stroke-width="0.8" />
<rect x="64.81" y="252.18" width="1.6" height="1.6" fill="#111" stroke="none" stroke-width="0.8" />
<rect x="77.95" y="252.23" width="1.6" height="1.6" fill="#111" stroke="none" stroke-width="0.8" />
<rect x="91.09" y="244" width="1.6" height="1.6" fill="#111" stroke="none" stroke-width="0.8" />
<rect x="104.23" y="214.31" width="1.6" height="1.6" fill="#111" stroke="none" stroke-width="0.8" />
<rect x="117.37" y="210.76" width="1.6" height="1.6" fill="#111" stroke="none" stroke-width="0.8" />
<rect x="130.51" y="210.12" width="1.6" height="1.6" fill="#111" stroke="none" stroke-width="0.8" />
<rect x="143.65" y="211.51" width="1.6" height="1.6" fill="#111" stroke="none" stroke-width="0.8" />
<rect x="26.8" y="252.3" width="1.8" height="1.8" fill="#111" stroke="none" stroke-width="0.8" />
<rect x="51.67" y="252.62" width="1.6" height="1.6" fill="#111" stroke="none" stroke-width="0.8" />
<rect x="64.81" y="252.53" width="1.6" height="1.6" fill="#111" stroke="none" stroke-width="0.8" />
<rect x="77.95" y="252.21" width="1.6" height="1.6" fill="#111" stroke="none" stroke-width="0.8" />
<rect x="91.09" y="246.49" width="1.6" height="1.6" fill="#111" stroke="none" stroke-width="0.8" />
<rect x="104.23" y="212.63" width="1.6" height="1.6" fill="#111" stroke="none" stroke-width="0.8" />
<rect x="117.37" y="212.04" width="1.6" height="1.6" fill="#111" stroke="none" stroke-width="0.8" />
<rect x="130.51" y="212.03" width="1.6" height="1.6" fill="#111" stroke="none" stroke-width="0.8" />
<rect x="143.65" y="212.06" width="1.6" height="1.6" fill="#111" stroke="none" stroke-width="0.8" />
<rect x="26.8" y="252.3" width="1.8" height="1.8" fill="#111" stroke="none" stroke-width="0.8" />
<rect x="51.67" y="252.15" width="1.6" height="1.6" fill="#111" stroke="none" stroke-width="0.8" />
<rect x="64.81" y="252.61" width="1.6" height="1.6" fill="#111" stroke="none" stroke-width="0.8" />
<rect x="77.95" y="252.69" width="1.6" height="1.6" fill="#111" stroke="none" stroke-width="0.8" />
<rect x="91.09" y="246.17" width="1.6" height="1.6" fill="#111" stroke="none" stroke-width="0.8" />
<rect x="104.23" y="212.48" width="1.6" height="1.6" fill="#111" stroke="none" stroke-width="0.8" />
<rect x="117.37" y="211.83" width="1.6" height="1.6" fill="#111" stroke="none" stroke-width="0.8" />
<rect x="130.51" y="213.49" width="1.6" height="1.6" fill="#111" stroke="none" stroke-width="0.8" />
<rect x="143.65" y="211.94" width="1.6" height="1.6" fill="#111" stroke="none" stroke-width="0.8" />
<rect x="26.8" y="252.3" width="1.8" height="1.8" fill="#111" stroke="none" stroke-width="0.8" />
<rect x="51.67" y="252.14" width="1.6" height="1.6" fill="#111" stroke="none" stroke-width="0.8" />
<rect x="64.81" y="252.57" width="1.6" height="1.6" fill="#111" stroke="none" stroke-width="0.8" />
<rect x="77.95" y="252.2" width="1.6" height="1.6" fill="#111" stroke="none" stroke-width="0.8" />
<rect x="91.09" y="248" width="1.6" height="1.6" fill="#111" stroke="none" stroke-width="0.8" />
<rect x="104.23" y="219.24" width="1.6" height="1.6" fill="#111" stroke="none" stroke-width="0.8" />
<rect x="117.37" y="214.83" width="1.6" height="1.6" fill="#111" stroke="none" stroke-width="0.8" />
<rect x="130.51" y="215.44" width="1.6" height="1.6" fill="#111" stroke="none" stroke-width="0.8" />
<rect x="143.65" y="215.28" width="1.6" height="1.6" fill="#111" stroke="none" stroke-width="0.8" />
<rect x="26.8" y="252.3" width="1.8" height="1.8" fill="#111" stroke="none" stroke-width="0.8" />
<rect x="51.67" y="252.56" width="1.6" height="1.6" fill="#111" stroke="none" stroke-width="0.8" />
<rect x="64.81" y="252.66" width="1.6" height="1.6" fill="#111" stroke="none" stroke-width="0.8" />
<rect x="77.95" y="252.11" width="1.6" height="1.6" fill="#111" stroke="none" stroke-width="0.8" />
<rect x="91.09" y="239.22" width="1.6" height="1.6" fill="#111" stroke="none" stroke-width="0.8" />
<rect x="104.23" y="215.97" width="1.6" height="1.6" fill="#111" stroke="none" stroke-width="0.8" />
<rect x="117.37" y="217.68" width="1.6" height="1.6" fill="#111" stroke="none" stroke-width="0.8" />
<rect x="130.51" y="215.09" width="1.6" height="1.6" fill="#111" stroke="none" stroke-width="0.8" />
<rect x="143.65" y="215.72" width="1.6" height="1.6" fill="#111" stroke="none" stroke-width="0.8" />
<rect x="26.8" y="252.3" width="1.8" height="1.8" fill="#111" stroke="none" stroke-width="0.8" />
<rect x="51.67" y="252.14" width="1.6" height="1.6" fill="#111" stroke="none" stroke-width="0.8" />
<rect x="64.81" y="252.15" width="1.6" height="1.6" fill="#111" stroke="none" stroke-width="0.8" />
<rect x="77.95" y="251.87" width="1.6" height="1.6" fill="#111" stroke="none" stroke-width="0.8" />
<rect x="91.09" y="243.4" width="1.6" height="1.6" fill="#111" stroke="none" stroke-width="0.8" />
<rect x="104.23" y="221.02" width="1.6" height="1.6" fill="#111" stroke="none" stroke-width="0.8" />
<rect x="117.37" y="216.39" width="1.6" height="1.6" fill="#111" stroke="none" stroke-width="0.8" />
<rect x="130.51" y="218.04" width="1.6" height="1.6" fill="#111" stroke="none" stroke-width="0.8" />
<rect x="143.65" y="217.66" width="1.6" height="1.6" fill="#111" stroke="none" stroke-width="0.8" />
<rect x="26.8" y="252.3" width="1.8" height="1.8" fill="#111" stroke="none" stroke-width="0.8" />
<rect x="51.67" y="252.3" width="1.6" height="1.6" fill="#111" stroke="none" stroke-width="0.8" />
<rect x="64.81" y="252.38" width="1.6" height="1.6" fill="#111" stroke="none" stroke-width="0.8" />
<rect x="77.95" y="252.22" width="1.6" height="1.6" fill="#111" stroke="none" stroke-width="0.8" />
<rect x="91.09" y="237.7" width="1.6" height="1.6" fill="#111" stroke="none" stroke-width="0.8" />
<rect x="104.23" y="220.9" width="1.6" height="1.6" fill="#111" stroke="none" stroke-width="0.8" />
<rect x="117.37" y="221.3" width="1.6" height="1.6" fill="#111" stroke="none" stroke-width="0.8" />
<rect x="130.51" y="221.56" width="1.6" height="1.6" fill="#111" stroke="none" stroke-width="0.8" />
<rect x="143.65" y="219.73" width="1.6" height="1.6" fill="#111" stroke="none" stroke-width="0.8" />
<rect x="26.8" y="252.3" width="1.8" height="1.8" fill="#111" stroke="none" stroke-width="0.8" />
<rect x="51.67" y="252.41" width="1.6" height="1.6" fill="#111" stroke="none" stroke-width="0.8" />
<rect x="64.81" y="252.23" width="1.6" height="1.6" fill="#111" stroke="none" stroke-width="0.8" />
<rect x="77.95" y="252.45" width="1.6" height="1.6" fill="#111" stroke="none" stroke-width="0.8" />
<rect x="91.09" y="248.5" width="1.6" height="1.6" fill="#111" stroke="none" stroke-width="0.8" />
<rect x="104.23" y="223.18" width="1.6" height="1.6" fill="#111" stroke="none" stroke-width="0.8" />
<rect x="117.37" y="221.37" width="1.6" height="1.6" fill="#111" stroke="none" stroke-width="0.8" />
<rect x="130.51" y="223.31" width="1.6" height="1.6" fill="#111" stroke="none" stroke-width="0.8" />
<rect x="143.65" y="221.44" width="1.6" height="1.6" fill="#111" stroke="none" stroke-width="0.8" />
<rect x="26.8" y="252.3" width="1.8" height="1.8" fill="#111" stroke="none" stroke-width="0.8" />
<line x1="118.17" y1="223.12" x2="118.17" y2="196.05" stroke="#111" stroke-width="1" />
<line x1="131.31" y1="223.12" x2="131.31" y2="196.05" stroke="#111" stroke-width="1" />
<line x1="144.45" y1="223.12" x2="144.45" y2="192.29" stroke="#111" stroke-width="1" />
<line x1="52.47" y1="256.21" x2="52.47" y2="248.31" stroke="#111" stroke-width="1.1" />
<line x1="65.61" y1="256.21" x2="65.61" y2="248.31" stroke="#111" stroke-width="1.1" />
<line x1="78.75" y1="256.21" x2="78.75" y2="248.31" stroke="#111" stroke-width="1.1" />
<path d="M26 251.3H33V255.1H26Z" stroke="none" stroke-width="0.8" fill="#111" />
<path d="M39.2 251.3H84V255.1H39.2Z" stroke="none" stroke-width="0.8" fill="#111" />
<line x1="277.8" y1="182.8" x2="277.8" y2="264.6" stroke="#3a3a3a" stroke-width="1" />
<line x1="274.8" y1="257.6" x2="277.8" y2="257.6" stroke="#3a3a3a" stroke-width="1" />
<text x="273.8" y="260.2" font-size="6.5" font-weight="bold" text-anchor="end" fill="#2a2a2a">0</text>
<line x1="274.8" y1="242.64" x2="277.8" y2="242.64" stroke="#3a3a3a" stroke-width="1" />
<text x="273.8" y="245.24" font-size="6.5" font-weight="bold" text-anchor="end" fill="#2a2a2a">20</text>
<line x1="274.8" y1="227.68" x2="277.8" y2="227.68" stroke="#3a3a3a" stroke-width="1" />
<text x="273.8" y="230.28" font-size="6.5" font-weight="bold" text-anchor="end" fill="#2a2a2a">40</text>
<line x1="274.8" y1="212.72" x2="277.8" y2="212.72" stroke="#3a3a3a" stroke-width="1" />
<text x="273.8" y="215.32" font-size="6.5" font-weight="bold" text-anchor="end" fill="#2a2a2a">60</text>
<line x1="274.8" y1="197.76" x2="277.8" y2="197.76" stroke="#3a3a3a" stroke-width="1" />
<text x="273.8" y="200.36" font-size="6.5" font-weight="bold" text-anchor="end" fill="#2a2a2a">80</text>
<line x1="274.8" y1="182.8" x2="277.8" y2="182.8" stroke="#3a3a3a" stroke-width="1" />
<text x="273.8" y="185.4" font-size="6.5" font-weight="bold" text-anchor="end" fill="#2a2a2a">100</text>
<line x1="277.8" y1="257.6" x2="284.5" y2="257.6" stroke="#3a3a3a" stroke-width="1" />
<line x1="289.5" y1="257.6" x2="402.2" y2="257.6" stroke="#3a3a3a" stroke-width="1" />
<line x1="284.5" y1="255.2" x2="284.5" y2="260" stroke="#3a3a3a" stroke-width="1" />
<line x1="289.5" y1="255.2" x2="289.5" y2="260" stroke="#3a3a3a" stroke-width="1" />
<line x1="296.5" y1="257.6" x2="296.5" y2="260.2" stroke="#3a3a3a" stroke-width="0.8" />
<line x1="309.7" y1="257.6" x2="309.7" y2="260.2" stroke="#3a3a3a" stroke-width="0.8" />
<line x1="322.9" y1="257.6" x2="322.9" y2="260.2" stroke="#3a3a3a" stroke-width="0.8" />
<line x1="336.1" y1="257.6" x2="336.1" y2="260.2" stroke="#3a3a3a" stroke-width="0.8" />
<line x1="349.3" y1="257.6" x2="349.3" y2="260.2" stroke="#3a3a3a" stroke-width="0.8" />
<line x1="362.5" y1="257.6" x2="362.5" y2="260.2" stroke="#3a3a3a" stroke-width="0.8" />
<line x1="375.7" y1="257.6" x2="375.7" y2="260.2" stroke="#3a3a3a" stroke-width="0.8" />
<line x1="388.9" y1="257.6" x2="388.9" y2="260.2" stroke="#3a3a3a" stroke-width="0.8" />
<line x1="402.1" y1="257.6" x2="402.1" y2="260.2" stroke="#3a3a3a" stroke-width="0.8" />
<text x="279.7" y="270.5" font-size="6.3" font-weight="bold" text-anchor="end" fill="#2a2a2a" transform="rotate(-45 279.7 270.5)">0</text>
<text x="298.5" y="268.9" font-size="6.3" font-weight="bold" text-anchor="end" fill="#2a2a2a" transform="rotate(-45 298.5 268.9)">0.001</text>
<text x="311.7" y="268.9" font-size="6.3" font-weight="bold" text-anchor="end" fill="#2a2a2a" transform="rotate(-45 311.7 268.9)">0.01</text>
<text x="324.9" y="268.9" font-size="6.3" font-weight="bold" text-anchor="end" fill="#2a2a2a" transform="rotate(-45 324.9 268.9)">0.1</text>
<text x="338.1" y="268.9" font-size="6.3" font-weight="bold" text-anchor="end" fill="#2a2a2a" transform="rotate(-45 338.1 268.9)">1</text>
<text x="351.3" y="268.9" font-size="6.3" font-weight="bold" text-anchor="end" fill="#2a2a2a" transform="rotate(-45 351.3 268.9)">10</text>
<text x="364.5" y="268.9" font-size="6.3" font-weight="bold" text-anchor="end" fill="#2a2a2a" transform="rotate(-45 364.5 268.9)">100</text>
<text x="377.7" y="268.9" font-size="6.3" font-weight="bold" text-anchor="end" fill="#2a2a2a" transform="rotate(-45 377.7 268.9)">1,000</text>
<text x="390.9" y="268.9" font-size="6.3" font-weight="bold" text-anchor="end" fill="#2a2a2a" transform="rotate(-45 390.9 268.9)">10,000</text>
<text x="404.1" y="268.9" font-size="6.3" font-weight="bold" text-anchor="end" fill="#2a2a2a" transform="rotate(-45 404.1 268.9)">100,000</text>
<text x="258.6" y="225" font-size="6.6" font-weight="bold" text-anchor="middle" fill="#333" transform="rotate(-90 258.6 225)">% Lysis relative to control</text>
<text x="340.2" y="289.4" font-size="6.65" font-weight="bold" text-anchor="middle" fill="#333">DLL3/CD3 ITE (ng/mL)</text>
<path d="M289.6 257.6 290.48 257.6 291.36 257.6 292.24 257.6 293.12 257.6 294 257.6 294.88 257.6 295.76 257.6 296.64 257.6 297.52 257.6 298.4 257.6 299.28 257.6 300.16 257.6 301.04 257.6 301.92 257.6 302.8 257.6 303.68 257.6 304.56 257.6 305.44 257.6 306.32 257.6 307.2 257.6 308.08 257.6 308.96 257.6 309.84 257.6 310.72 257.59 311.6 257.59 312.48 257.59 313.36 257.59 314.24 257.59 315.12 257.59 316 257.59 316.88 257.59 317.76 257.59 318.64 257.58 319.52 257.58 320.4 257.58 321.28 257.58 322.16 257.57 323.04 257.57 323.92 257.57 324.8 257.56 325.68 257.56 326.56 257.55 327.44 257.55 328.32 257.54 329.2 257.53 330.08 257.52 330.96 257.51 331.84 257.5 332.72 257.49 333.6 257.47 334.48 257.46 335.36 257.44 336.24 257.42 337.12 257.39 338 257.37 338.88 257.34 339.76 257.3 340.64 257.26 341.52 257.22 342.4 257.17 343.28 257.12 344.16 257.06 345.04 256.99 345.92 256.92 346.8 256.83 347.68 256.74 348.56 256.64 349.44 256.52 350.32 256.39 351.2 256.25 352.08 256.1 352.96 255.93 353.84 255.74 354.72 255.53 355.6 255.31 356.48 255.07 357.36 254.82 358.24 254.54 359.12 254.25 360 253.93 360.88 253.61 361.76 253.26 362.64 252.9 363.52 252.53 364.4 252.16 365.28 251.77 366.16 251.38 367.04 250.99 367.92 250.6 368.8 250.22 369.68 249.84 370.56 249.48 371.44 249.12 372.32 248.78 373.2 248.46 374.08 248.15 374.96 247.86 375.84 247.59 376.72 247.34 377.6 247.11 378.48 246.89 379.36 246.69 380.24 246.51 381.12 246.34 382 246.19 382.88 246.05 383.76 245.93 384.64 245.82 385.52 245.72 386.4 245.63 387.28 245.55 388.16 245.47 389.04 245.41 389.92 245.35 390.8 245.3 391.68 245.25 392.56 245.21 393.44 245.17 394.32 245.14 395.2 245.11" stroke="#46b04a" stroke-width="1" fill="none"  stroke-linejoin="round"/>
<path d="M289.6 257.6 290.48 257.6 291.36 257.6 292.24 257.6 293.12 257.6 294 257.6 294.88 257.6 295.76 257.6 296.64 257.6 297.52 257.6 298.4 257.6 299.28 257.6 300.16 257.6 301.04 257.6 301.92 257.6 302.8 257.6 303.68 257.6 304.56 257.6 305.44 257.6 306.32 257.6 307.2 257.6 308.08 257.6 308.96 257.6 309.84 257.6 310.72 257.59 311.6 257.59 312.48 257.59 313.36 257.59 314.24 257.59 315.12 257.59 316 257.58 316.88 257.58 317.76 257.58 318.64 257.57 319.52 257.57 320.4 257.56 321.28 257.55 322.16 257.54 323.04 257.53 323.92 257.52 324.8 257.5 325.68 257.48 326.56 257.46 327.44 257.43 328.32 257.39 329.2 257.35 330.08 257.3 330.96 257.24 331.84 257.17 332.72 257.08 333.6 256.98 334.48 256.86 335.36 256.71 336.24 256.54 337.12 256.33 338 256.09 338.88 255.8 339.76 255.47 340.64 255.08 341.52 254.62 342.4 254.1 343.28 253.49 344.16 252.81 345.04 252.03 345.92 251.17 346.8 250.21 347.68 249.17 348.56 248.06 349.44 246.87 350.32 245.64 351.2 244.38 352.08 243.11 352.96 241.84 353.84 240.61 354.72 239.43 355.6 238.32 356.48 237.28 357.36 236.33 358.24 235.47 359.12 234.7 360 234.01 360.88 233.41 361.76 232.89 362.64 232.43 363.52 232.04 364.4 231.71 365.28 231.43 366.16 231.18 367.04 230.98 367.92 230.81 368.8 230.66 369.68 230.54 370.56 230.44 371.44 230.35 372.32 230.28 373.2 230.22 374.08 230.17 374.96 230.13 375.84 230.1 376.72 230.07 377.6 230.04 378.48 230.02 379.36 230.01 380.24 229.99 381.12 229.98 382 229.97 382.88 229.96 383.76 229.96 384.64 229.95 385.52 229.95 386.4 229.94 387.28 229.94 388.16 229.94 389.04 229.93 389.92 229.93 390.8 229.93 391.68 229.93 392.56 229.93 393.44 229.93 394.32 229.93 395.2 229.93" stroke="#f08a30" stroke-width="1" fill="none"  stroke-linejoin="round"/>
<path d="M289.6 257.6 290.48 257.6 291.36 257.6 292.24 257.6 293.12 257.6 294 257.6 294.88 257.6 295.76 257.6 296.64 257.6 297.52 257.6 298.4 257.6 299.28 257.6 300.16 257.6 301.04 257.6 301.92 257.6 302.8 257.6 303.68 257.6 304.56 257.6 305.44 257.6 306.32 257.6 307.2 257.6 308.08 257.6 308.96 257.6 309.84 257.6 310.72 257.6 311.6 257.59 312.48 257.59 313.36 257.59 314.24 257.59 315.12 257.59 316 257.58 316.88 257.58 317.76 257.57 318.64 257.57 319.52 257.56 320.4 257.55 321.28 257.53 322.16 257.52 323.04 257.49 323.92 257.47 324.8 257.43 325.68 257.39 326.56 257.33 327.44 257.26 328.32 257.18 329.2 257.07 330.08 256.94 330.96 256.77 331.84 256.56 332.72 256.3 333.6 255.97 334.48 255.58 335.36 255.08 336.24 254.48 337.12 253.75 338 252.88 338.88 251.83 339.76 250.6 340.64 249.17 341.52 247.54 342.4 245.71 343.28 243.71 344.16 241.56 345.04 239.32 345.92 237.03 346.8 234.76 347.68 232.57 348.56 230.5 349.44 228.6 350.32 226.89 351.2 225.37 352.08 224.06 352.96 222.94 353.84 222 354.72 221.21 355.6 220.56 356.48 220.02 357.36 219.59 358.24 219.23 359.12 218.95 360 218.72 360.88 218.54 361.76 218.39 362.64 218.27 363.52 218.17 364.4 218.1 365.28 218.04 366.16 217.99 367.04 217.95 367.92 217.92 368.8 217.9 369.68 217.88 370.56 217.87 371.44 217.85 372.32 217.84 373.2 217.84 374.08 217.83 374.96 217.83 375.84 217.82 376.72 217.82 377.6 217.82 378.48 217.81 379.36 217.81 380.24 217.81 381.12 217.81 382 217.81 382.88 217.81 383.76 217.81 384.64 217.81 385.52 217.81 386.4 217.81 387.28 217.81 388.16 217.81 389.04 217.81 389.92 217.81 390.8 217.81 391.68 217.81 392.56 217.81 393.44 217.81 394.32 217.81 395.2 217.81" stroke="#d6338f" stroke-width="1" fill="none"  stroke-linejoin="round"/>
<path d="M289.6 257.6 290.48 257.6 291.36 257.6 292.24 257.6 293.12 257.6 294 257.6 294.88 257.6 295.76 257.6 296.64 257.6 297.52 257.6 298.4 257.6 299.28 257.6 300.16 257.6 301.04 257.6 301.92 257.6 302.8 257.6 303.68 257.6 304.56 257.6 305.44 257.6 306.32 257.6 307.2 257.6 308.08 257.6 308.96 257.59 309.84 257.59 310.72 257.59 311.6 257.59 312.48 257.59 313.36 257.58 314.24 257.58 315.12 257.57 316 257.57 316.88 257.56 317.76 257.55 318.64 257.53 319.52 257.52 320.4 257.49 321.28 257.47 322.16 257.43 323.04 257.39 323.92 257.33 324.8 257.27 325.68 257.18 326.56 257.07 327.44 256.94 328.32 256.77 329.2 256.56 330.08 256.3 330.96 255.98 331.84 255.58 332.72 255.09 333.6 254.48 334.48 253.74 335.36 252.85 336.24 251.78 337.12 250.52 338 249.04 338.88 247.34 339.76 245.42 340.64 243.29 341.52 240.98 342.4 238.53 343.28 236.01 344.16 233.48 345.04 231 345.92 228.63 346.8 226.43 347.68 224.42 348.56 222.64 349.44 221.08 350.32 219.73 351.2 218.6 352.08 217.64 352.96 216.85 353.84 216.2 354.72 215.66 355.6 215.23 356.48 214.88 357.36 214.6 358.24 214.37 359.12 214.19 360 214.04 360.88 213.92 361.76 213.83 362.64 213.76 363.52 213.7 364.4 213.65 365.28 213.61 366.16 213.58 367.04 213.56 367.92 213.54 368.8 213.53 369.68 213.51 370.56 213.5 371.44 213.5 372.32 213.49 373.2 213.49 374.08 213.48 374.96 213.48 375.84 213.48 376.72 213.48 377.6 213.47 378.48 213.47 379.36 213.47 380.24 213.47 381.12 213.47 382 213.47 382.88 213.47 383.76 213.47 384.64 213.47 385.52 213.47 386.4 213.47 387.28 213.47 388.16 213.47 389.04 213.47 389.92 213.47 390.8 213.47 391.68 213.47 392.56 213.47 393.44 213.47 394.32 213.47 395.2 213.47" stroke="#3553a8" stroke-width="1" fill="none"  stroke-linejoin="round"/>
<path d="M289.6 257.6 290.48 257.6 291.36 257.6 292.24 257.6 293.12 257.6 294 257.6 294.88 257.6 295.76 257.6 296.64 257.6 297.52 257.6 298.4 257.6 299.28 257.6 300.16 257.6 301.04 257.6 301.92 257.6 302.8 257.6 303.68 257.6 304.56 257.6 305.44 257.6 306.32 257.6 307.2 257.59 308.08 257.59 308.96 257.59 309.84 257.59 310.72 257.59 311.6 257.58 312.48 257.58 313.36 257.57 314.24 257.56 315.12 257.55 316 257.54 316.88 257.52 317.76 257.5 318.64 257.48 319.52 257.44 320.4 257.4 321.28 257.34 322.16 257.27 323.04 257.18 323.92 257.07 324.8 256.92 325.68 256.74 326.56 256.51 327.44 256.21 328.32 255.84 329.2 255.37 330.08 254.79 330.96 254.07 331.84 253.19 332.72 252.11 333.6 250.81 334.48 249.28 335.36 247.48 336.24 245.43 337.12 243.13 338 240.63 338.88 237.97 339.76 235.23 340.64 232.48 341.52 229.82 342.4 227.31 343.28 225 344.16 222.93 345.04 221.13 345.92 219.58 346.8 218.27 347.68 217.18 348.56 216.28 349.44 215.56 350.32 214.97 351.2 214.5 352.08 214.12 352.96 213.83 353.84 213.59 354.72 213.4 355.6 213.26 356.48 213.14 357.36 213.05 358.24 212.98 359.12 212.92 360 212.88 360.88 212.84 361.76 212.82 362.64 212.8 363.52 212.78 364.4 212.77 365.28 212.76 366.16 212.75 367.04 212.74 367.92 212.74 368.8 212.73 369.68 212.73 370.56 212.73 371.44 212.73 372.32 212.73 373.2 212.72 374.08 212.72 374.96 212.72 375.84 212.72 376.72 212.72 377.6 212.72 378.48 212.72 379.36 212.72 380.24 212.72 381.12 212.72 382 212.72 382.88 212.72 383.76 212.72 384.64 212.72 385.52 212.72 386.4 212.72 387.28 212.72 388.16 212.72 389.04 212.72 389.92 212.72 390.8 212.72 391.68 212.72 392.56 212.72 393.44 212.72 394.32 212.72 395.2 212.72" stroke="#8a8a8a" stroke-width="1" fill="none"  stroke-linejoin="round"/>
<path d="M289.6 257.6 290.48 257.6 291.36 257.6 292.24 257.6 293.12 257.6 294 257.6 294.88 257.6 295.76 257.6 296.64 257.6 297.52 257.6 298.4 257.6 299.28 257.6 300.16 257.6 301.04 257.6 301.92 257.6 302.8 257.59 303.68 257.59 304.56 257.59 305.44 257.59 306.32 257.59 307.2 257.58 308.08 257.58 308.96 257.57 309.84 257.57 310.72 257.56 311.6 257.55 312.48 257.53 313.36 257.52 314.24 257.49 315.12 257.47 316 257.43 316.88 257.39 317.76 257.34 318.64 257.27 319.52 257.18 320.4 257.08 321.28 256.95 322.16 256.78 323.04 256.57 323.92 256.31 324.8 255.99 325.68 255.59 326.56 255.1 327.44 254.5 328.32 253.77 329.2 252.88 330.08 251.81 330.96 250.55 331.84 249.07 332.72 247.37 333.6 245.44 334.48 243.29 335.36 240.96 336.24 238.49 337.12 235.93 338 233.35 338.88 230.82 339.76 228.39 340.64 226.13 341.52 224.07 342.4 222.23 343.28 220.62 344.16 219.23 345.04 218.05 345.92 217.06 346.8 216.24 347.68 215.56 348.56 215.01 349.44 214.55 350.32 214.19 351.2 213.9 352.08 213.66 352.96 213.47 353.84 213.32 354.72 213.2 355.6 213.1 356.48 213.02 357.36 212.96 358.24 212.91 359.12 212.87 360 212.84 360.88 212.82 361.76 212.8 362.64 212.78 363.52 212.77 364.4 212.76 365.28 212.75 366.16 212.74 367.04 212.74 367.92 212.74 368.8 212.73 369.68 212.73 370.56 212.73 371.44 212.73 372.32 212.72 373.2 212.72 374.08 212.72 374.96 212.72 375.84 212.72 376.72 212.72 377.6 212.72 378.48 212.72 379.36 212.72 380.24 212.72 381.12 212.72 382 212.72 382.88 212.72 383.76 212.72 384.64 212.72 385.52 212.72 386.4 212.72 387.28 212.72 388.16 212.72 389.04 212.72 389.92 212.72 390.8 212.72 391.68 212.72 392.56 212.72 393.44 212.72 394.32 212.72 395.2 212.72" stroke="#111" stroke-width="1" fill="none"  stroke-linejoin="round"/>
<circle cx="302.8" cy="257.6" r="1.45" fill="#fff" stroke="#46b04a" stroke-width="0.8" />
<circle cx="316" cy="257.6" r="1.45" fill="#fff" stroke="#46b04a" stroke-width="0.8" />
<circle cx="329.2" cy="257.45" r="1.45" fill="#fff" stroke="#46b04a" stroke-width="0.8" />
<circle cx="342.4" cy="257" r="1.45" fill="#fff" stroke="#46b04a" stroke-width="0.8" />
<circle cx="355.6" cy="253.86" r="1.45" fill="#fff" stroke="#46b04a" stroke-width="0.8" />
<circle cx="368.8" cy="250.49" r="1.45" fill="#fff" stroke="#46b04a" stroke-width="0.8" />
<circle cx="382" cy="248.62" r="1.45" fill="#fff" stroke="#46b04a" stroke-width="0.8" />
<circle cx="395.2" cy="246.38" r="1.45" fill="#fff" stroke="#46b04a" stroke-width="0.8" />
<circle cx="277.8" cy="257.6" r="1.45" fill="#fff" stroke="#46b04a" stroke-width="0.8" />
<circle cx="302.8" cy="257.6" r="1.75" fill="#f08a30" stroke="none" stroke-width="0.8" />
<circle cx="316" cy="257.6" r="1.75" fill="#f08a30" stroke="none" stroke-width="0.8" />
<circle cx="329.2" cy="257.38" r="1.75" fill="#f08a30" stroke="none" stroke-width="0.8" />
<circle cx="342.4" cy="254.31" r="1.75" fill="#f08a30" stroke="none" stroke-width="0.8" />
<circle cx="355.6" cy="241.59" r="1.75" fill="#f08a30" stroke="none" stroke-width="0.8" />
<circle cx="368.8" cy="233.07" r="1.75" fill="#f08a30" stroke="none" stroke-width="0.8" />
<circle cx="382" cy="231.42" r="1.75" fill="#f08a30" stroke="none" stroke-width="0.8" />
<circle cx="395.2" cy="230.07" r="1.75" fill="#f08a30" stroke="none" stroke-width="0.8" />
<circle cx="277.8" cy="257.6" r="1.75" fill="#f08a30" stroke="none" stroke-width="0.8" />
<path d="M302.8 259.61L304.64 256.29H300.96Z" stroke="none" stroke-width="0.8" fill="#d6338f" />
<path d="M316 259.46L317.84 256.14H314.16Z" stroke="none" stroke-width="0.8" fill="#d6338f" />
<path d="M329.2 258.86L331.04 255.54H327.36Z" stroke="none" stroke-width="0.8" fill="#d6338f" />
<path d="M342.4 248.09L344.24 244.77H340.56Z" stroke="none" stroke-width="0.8" fill="#d6338f" />
<path d="M355.6 225.35L357.44 222.03H353.76Z" stroke="none" stroke-width="0.8" fill="#d6338f" />
<path d="M368.8 221.61L370.64 218.29H366.96Z" stroke="none" stroke-width="0.8" fill="#d6338f" />
<path d="M382 219.97L383.84 216.64H380.16Z" stroke="none" stroke-width="0.8" fill="#d6338f" />
<path d="M395.2 220.34L397.04 217.02H393.36Z" stroke="none" stroke-width="0.8" fill="#d6338f" />
<path d="M277.8 259.61L279.64 256.29H275.96Z" stroke="none" stroke-width="0.8" fill="#d6338f" />
<circle cx="302.8" cy="257.6" r="1.75" fill="#3553a8" stroke="none" stroke-width="0.8" />
<circle cx="316" cy="257.23" r="1.75" fill="#3553a8" stroke="none" stroke-width="0.8" />
<circle cx="329.2" cy="253.11" r="1.75" fill="#3553a8" stroke="none" stroke-width="0.8" />
<circle cx="342.4" cy="238.9" r="1.75" fill="#3553a8" stroke="none" stroke-width="0.8" />
<circle cx="355.6" cy="216.46" r="1.75" fill="#3553a8" stroke="none" stroke-width="0.8" />
<circle cx="368.8" cy="213.69" r="1.75" fill="#3553a8" stroke="none" stroke-width="0.8" />
<circle cx="382" cy="207.04" r="1.75" fill="#3553a8" stroke="none" stroke-width="0.8" />
<circle cx="395.2" cy="213.84" r="1.75" fill="#3553a8" stroke="none" stroke-width="0.8" />
<circle cx="277.8" cy="257.6" r="1.75" fill="#3553a8" stroke="none" stroke-width="0.8" />
<rect x="301.05" y="255.85" width="3.5" height="3.5" fill="#8a8a8a" stroke="none" stroke-width="0.8" />
<rect x="314.25" y="255.25" width="3.5" height="3.5" fill="#8a8a8a" stroke="none" stroke-width="0.8" />
<rect x="327.45" y="249.87" width="3.5" height="3.5" fill="#8a8a8a" stroke="none" stroke-width="0.8" />
<rect x="340.65" y="225.93" width="3.5" height="3.5" fill="#8a8a8a" stroke="none" stroke-width="0.8" />
<rect x="353.85" y="210.97" width="3.5" height="3.5" fill="#8a8a8a" stroke="none" stroke-width="0.8" />
<rect x="367.05" y="210.6" width="3.5" height="3.5" fill="#8a8a8a" stroke="none" stroke-width="0.8" />
<rect x="380.25" y="211.72" width="3.5" height="3.5" fill="#8a8a8a" stroke="none" stroke-width="0.8" />
<rect x="393.45" y="213.44" width="3.5" height="3.5" fill="#8a8a8a" stroke="none" stroke-width="0.8" />
<rect x="276.05" y="255.85" width="3.5" height="3.5" fill="#8a8a8a" stroke="none" stroke-width="0.8" />
<path d="M302.8 253.34L304.64 256.67H300.96Z" stroke="none" stroke-width="0.8" fill="#111" />
<path d="M316 254.09L317.84 257.42H314.16Z" stroke="none" stroke-width="0.8" fill="#111" />
<path d="M329.2 245.94L331.04 249.26H327.36Z" stroke="none" stroke-width="0.8" fill="#111" />
<path d="M342.4 219.68L344.24 223.01H340.56Z" stroke="none" stroke-width="0.8" fill="#111" />
<path d="M355.6 207.94L357.44 211.26H353.76Z" stroke="none" stroke-width="0.8" fill="#111" />
<path d="M368.8 205.85L370.64 209.17H366.96Z" stroke="none" stroke-width="0.8" fill="#111" />
<path d="M382 211.75L383.84 215.08H380.16Z" stroke="none" stroke-width="0.8" fill="#111" />
<path d="M395.2 218.94L397.04 222.26H393.36Z" stroke="none" stroke-width="0.8" fill="#111" />
<path d="M277.8 255.59L279.64 258.91H275.96Z" stroke="none" stroke-width="0.8" fill="#111" />
<line x1="417.4" y1="188.1" x2="436.9" y2="188.1" stroke="#111" stroke-width="1" />
<path d="M427.15 185.91L429.14 189.53H425.15Z" stroke="none" stroke-width="0.8" fill="#111" />
<text x="441.6" y="190.4" font-size="6.6" fill="#2a2a2a">E:T 30:1</text>
<line x1="417.4" y1="199.06" x2="436.9" y2="199.06" stroke="#8a8a8a" stroke-width="1" />
<rect x="425.25" y="197.16" width="3.8" height="3.8" fill="#8a8a8a" stroke="none" stroke-width="0.8" />
<text x="441.6" y="201.36" font-size="6.6" fill="#2a2a2a">E:T 20:1</text>
<line x1="417.4" y1="210.02" x2="436.9" y2="210.02" stroke="#3553a8" stroke-width="1" />
<circle cx="427.15" cy="210.02" r="1.9" fill="#3553a8" stroke="none" stroke-width="0.8" />
<text x="441.6" y="212.32" font-size="6.6" fill="#2a2a2a">E:T 10:1</text>
<line x1="417.4" y1="220.98" x2="436.9" y2="220.98" stroke="#d6338f" stroke-width="1" />
<path d="M427.15 223.16L429.14 219.55H425.15Z" stroke="none" stroke-width="0.8" fill="#d6338f" />
<text x="441.6" y="223.28" font-size="6.6" fill="#2a2a2a">E:T 5:1</text>
<line x1="417.4" y1="231.94" x2="436.9" y2="231.94" stroke="#f08a30" stroke-width="1" />
<circle cx="427.15" cy="231.94" r="1.3" fill="#f08a30" stroke="none" stroke-width="0.8" />
<text x="441.6" y="234.24" font-size="6.6" fill="#2a2a2a">E:T 2:1</text>
<line x1="417.4" y1="242.9" x2="436.9" y2="242.9" stroke="#46b04a" stroke-width="1" />
<circle cx="427.15" cy="242.9" r="1.6" fill="#fff" stroke="#46b04a" stroke-width="0.8" />
<text x="441.6" y="245.2" font-size="6.6" fill="#2a2a2a">E:T 1:2</text>
<line x1="26.9" y1="337.4" x2="26.9" y2="416.8" stroke="#3a3a3a" stroke-width="1" />
<line x1="23.9" y1="412.3" x2="26.9" y2="412.3" stroke="#3a3a3a" stroke-width="1" />
<text x="22.9" y="414.9" font-size="6.5" font-weight="bold" text-anchor="end" fill="#2a2a2a">0</text>
<line x1="23.9" y1="397.32" x2="26.9" y2="397.32" stroke="#3a3a3a" stroke-width="1" />
<text x="22.9" y="399.92" font-size="6.5" font-weight="bold" text-anchor="end" fill="#2a2a2a">20</text>
<line x1="23.9" y1="382.34" x2="26.9" y2="382.34" stroke="#3a3a3a" stroke-width="1" />
<text x="22.9" y="384.94" font-size="6.5" font-weight="bold" text-anchor="end" fill="#2a2a2a">40</text>
<line x1="23.9" y1="367.36" x2="26.9" y2="367.36" stroke="#3a3a3a" stroke-width="1" />
<text x="22.9" y="369.96" font-size="6.5" font-weight="bold" text-anchor="end" fill="#2a2a2a">60</text>
<line x1="23.9" y1="352.38" x2="26.9" y2="352.38" stroke="#3a3a3a" stroke-width="1" />
<text x="22.9" y="354.98" font-size="6.5" font-weight="bold" text-anchor="end" fill="#2a2a2a">80</text>
<line x1="23.9" y1="337.4" x2="26.9" y2="337.4" stroke="#3a3a3a" stroke-width="1" />
<text x="22.9" y="340" font-size="6.5" font-weight="bold" text-anchor="end" fill="#2a2a2a">100</text>
<line x1="26.9" y1="412.3" x2="32.3" y2="412.3" stroke="#3a3a3a" stroke-width="1" />
<line x1="38.5" y1="412.3" x2="152" y2="412.3" stroke="#3a3a3a" stroke-width="1" />
<line x1="45.5" y1="412.3" x2="45.5" y2="415.7" stroke="#3a3a3a" stroke-width="0.8" />
<line x1="58.73" y1="412.3" x2="58.73" y2="415.7" stroke="#3a3a3a" stroke-width="0.8" />
<line x1="71.96" y1="412.3" x2="71.96" y2="415.7" stroke="#3a3a3a" stroke-width="0.8" />
<line x1="85.19" y1="412.3" x2="85.19" y2="415.7" stroke="#3a3a3a" stroke-width="0.8" />
<line x1="98.42" y1="412.3" x2="98.42" y2="415.7" stroke="#3a3a3a" stroke-width="0.8" />
<line x1="111.65" y1="412.3" x2="111.65" y2="415.7" stroke="#3a3a3a" stroke-width="0.8" />
<line x1="124.88" y1="412.3" x2="124.88" y2="415.7" stroke="#3a3a3a" stroke-width="0.8" />
<line x1="138.11" y1="412.3" x2="138.11" y2="415.7" stroke="#3a3a3a" stroke-width="0.8" />
<line x1="151.34" y1="412.3" x2="151.34" y2="415.7" stroke="#3a3a3a" stroke-width="0.8" />
<text x="28.1" y="424.5" font-size="6.3" font-weight="bold" text-anchor="end" fill="#2a2a2a" transform="rotate(-45 28.1 424.5)">0</text>
<text x="46.8" y="422.9" font-size="6.3" font-weight="bold" text-anchor="end" fill="#2a2a2a" transform="rotate(-45 46.8 422.9)">0.001</text>
<text x="60.03" y="422.9" font-size="6.3" font-weight="bold" text-anchor="end" fill="#2a2a2a" transform="rotate(-45 60.03 422.9)">0.01</text>
<text x="73.26" y="422.9" font-size="6.3" font-weight="bold" text-anchor="end" fill="#2a2a2a" transform="rotate(-45 73.26 422.9)">0.1</text>
<text x="86.49" y="422.9" font-size="6.3" font-weight="bold" text-anchor="end" fill="#2a2a2a" transform="rotate(-45 86.49 422.9)">1</text>
<text x="99.72" y="422.9" font-size="6.3" font-weight="bold" text-anchor="end" fill="#2a2a2a" transform="rotate(-45 99.72 422.9)">10</text>
<text x="112.95" y="422.9" font-size="6.3" font-weight="bold" text-anchor="end" fill="#2a2a2a" transform="rotate(-45 112.95 422.9)">100</text>
<text x="126.18" y="422.9" font-size="6.3" font-weight="bold" text-anchor="end" fill="#2a2a2a" transform="rotate(-45 126.18 422.9)">1,000</text>
<text x="139.41" y="422.9" font-size="6.3" font-weight="bold" text-anchor="end" fill="#2a2a2a" transform="rotate(-45 139.41 422.9)">10,000</text>
<text x="152.64" y="422.9" font-size="6.3" font-weight="bold" text-anchor="end" fill="#2a2a2a" transform="rotate(-45 152.64 422.9)">100,000</text>
<text x="8" y="377" font-size="7.1" font-weight="bold" text-anchor="middle" fill="#333" transform="rotate(-90 8 377)">% Living target cells</text>
<text x="88.3" y="442.4" font-size="6.65" font-weight="bold" text-anchor="middle" fill="#333">DLL3/CD3 ITE (ng/mL)</text>
<line x1="32.3" y1="409.6" x2="32.3" y2="415" stroke="#3a3a3a" stroke-width="0.8" />
<line x1="38.5" y1="409.6" x2="38.5" y2="415" stroke="#3a3a3a" stroke-width="0.8" />
<path d="M38.58 337.4 39.46 337.4 40.35 337.4 41.23 337.4 42.11 337.4 42.99 337.4 43.87 337.4 44.76 337.4 45.64 337.4 46.52 337.4 47.4 337.4 48.28 337.4 49.17 337.4 50.05 337.4 50.93 337.4 51.81 337.4 52.69 337.4 53.58 337.4 54.46 337.4 55.34 337.4 56.22 337.4 57.1 337.4 57.99 337.4 58.87 337.4 59.75 337.4 60.63 337.4 61.51 337.4 62.4 337.4 63.28 337.4 64.16 337.4 65.04 337.4 65.92 337.4 66.81 337.4 67.69 337.4 68.57 337.4 69.45 337.4 70.33 337.4 71.22 337.4 72.1 337.4 72.98 337.4 73.86 337.4 74.74 337.4 75.63 337.4 76.51 337.4 77.39 337.4 78.27 337.4 79.15 337.4 80.04 337.4 80.92 337.4 81.8 337.4 82.68 337.4 83.56 337.4 84.45 337.4 85.33 337.4 86.21 337.4 87.09 337.4 87.97 337.4 88.86 337.4 89.74 337.4 90.62 337.4 91.5 337.4 92.38 337.4 93.27 337.4 94.15 337.4 95.03 337.4 95.91 337.4 96.79 337.4 97.68 337.4 98.56 337.4 99.44 337.4 100.32 337.4 101.2 337.4 102.09 337.4 102.97 337.4 103.85 337.4 104.73 337.4 105.61 337.4 106.5 337.4 107.38 337.4 108.26 337.4 109.14 337.4 110.02 337.4 110.91 337.4 111.79 337.4 112.67 337.4 113.55 337.4 114.43 337.4 115.32 337.4 116.2 337.4 117.08 337.4 117.96 337.4 118.84 337.4 119.73 337.4 120.61 337.4 121.49 337.41 122.37 337.41 123.25 337.41 124.14 337.41 125.02 337.42 125.9 337.42 126.78 337.42 127.66 337.43 128.55 337.44 129.43 337.45 130.31 337.46 131.19 337.48 132.07 337.5 132.96 337.53 133.84 337.57 134.72 337.61 135.6 337.67 136.48 337.73 137.37 337.81 138.25 337.91 139.13 338.03 140.01 338.16 140.89 338.32 141.78 338.49 142.66 338.68 143.54 338.88 144.42 339.09" stroke="#111" stroke-width="0.9" fill="none" stroke-dasharray="1 1.2" stroke-linejoin="round"/>
<path d="M38.58 337.4 39.46 337.4 40.35 337.4 41.23 337.4 42.11 337.4 42.99 337.4 43.87 337.4 44.76 337.4 45.64 337.4 46.52 337.4 47.4 337.4 48.28 337.4 49.17 337.41 50.05 337.41 50.93 337.41 51.81 337.41 52.69 337.41 53.58 337.41 54.46 337.41 55.34 337.41 56.22 337.41 57.1 337.41 57.99 337.41 58.87 337.41 59.75 337.42 60.63 337.42 61.51 337.42 62.4 337.42 63.28 337.42 64.16 337.43 65.04 337.43 65.92 337.43 66.81 337.43 67.69 337.44 68.57 337.44 69.45 337.44 70.33 337.45 71.22 337.45 72.1 337.46 72.98 337.46 73.86 337.47 74.74 337.48 75.63 337.48 76.51 337.49 77.39 337.5 78.27 337.51 79.15 337.52 80.04 337.53 80.92 337.54 81.8 337.56 82.68 337.57 83.56 337.59 84.45 337.6 85.33 337.62 86.21 337.65 87.09 337.67 87.97 337.69 88.86 337.72 89.74 337.75 90.62 337.78 91.5 337.82 92.38 337.86 93.27 337.9 94.15 337.95 95.03 338 95.91 338.05 96.79 338.11 97.68 338.17 98.56 338.24 99.44 338.31 100.32 338.39 101.2 338.48 102.09 338.57 102.97 338.67 103.85 338.78 104.73 338.89 105.61 339.01 106.5 339.14 107.38 339.28 108.26 339.43 109.14 339.58 110.02 339.74 110.91 339.92 111.79 340.1 112.67 340.29 113.55 340.48 114.43 340.69 115.32 340.9 116.2 341.12 117.08 341.34 117.96 341.57 118.84 341.8 119.73 342.04 120.61 342.28 121.49 342.52 122.37 342.76 123.25 343 124.14 343.24 125.02 343.48 125.9 343.71 126.78 343.94 127.66 344.16 128.55 344.38 129.43 344.59 130.31 344.8 131.19 344.99 132.07 345.18 132.96 345.36 133.84 345.54 134.72 345.7 135.6 345.85 136.48 346 137.37 346.14 138.25 346.27 139.13 346.39 140.01 346.51 140.89 346.61 141.78 346.71 142.66 346.8 143.54 346.89 144.42 346.97" stroke="#e2262e" stroke-width="1" fill="none"  stroke-linejoin="round"/>
<path d="M38.58 338.52 39.46 338.52 40.35 338.52 41.23 338.52 42.11 338.52 42.99 338.52 43.87 338.52 44.76 338.52 45.64 338.52 46.52 338.52 47.4 338.52 48.28 338.52 49.17 338.52 50.05 338.52 50.93 338.52 51.81 338.52 52.69 338.52 53.58 338.52 54.46 338.52 55.34 338.52 56.22 338.52 57.1 338.52 57.99 338.52 58.87 338.52 59.75 338.52 60.63 338.52 61.51 338.52 62.4 338.52 63.28 338.52 64.16 338.53 65.04 338.53 65.92 338.53 66.81 338.53 67.69 338.53 68.57 338.53 69.45 338.53 70.33 338.53 71.22 338.54 72.1 338.54 72.98 338.55 73.86 338.55 74.74 338.56 75.63 338.57 76.51 338.59 77.39 338.61 78.27 338.64 79.15 338.67 80.04 338.71 80.92 338.77 81.8 338.84 82.68 338.93 83.56 339.05 84.45 339.21 85.33 339.41 86.21 339.67 87.09 340.01 87.97 340.44 88.86 340.99 89.74 341.68 90.62 342.57 91.5 343.68 92.38 345.05 93.27 346.75 94.15 348.8 95.03 351.25 95.91 354.12 96.79 357.38 97.68 361.01 98.56 364.93 99.44 369.02 100.32 373.15 101.2 377.18 102.09 380.99 102.97 384.48 103.85 387.59 104.73 390.28 105.61 392.57 106.5 394.47 107.38 396.03 108.26 397.29 109.14 398.3 110.02 399.11 110.91 399.74 111.79 400.24 112.67 400.62 113.55 400.93 114.43 401.16 115.32 401.34 116.2 401.49 117.08 401.59 117.96 401.68 118.84 401.74 119.73 401.79 120.61 401.83 121.49 401.86 122.37 401.89 123.25 401.9 124.14 401.92 125.02 401.93 125.9 401.94 126.78 401.94 127.66 401.95 128.55 401.95 129.43 401.95 130.31 401.96 131.19 401.96 132.07 401.96 132.96 401.96 133.84 401.96 134.72 401.96 135.6 401.96 136.48 401.96 137.37 401.96 138.25 401.96 139.13 401.96 140.01 401.96 140.89 401.96 141.78 401.96 142.66 401.96 143.54 401.96 144.42 401.96" stroke="#8a5bb8" stroke-width="1" fill="none" stroke-dasharray="1 1.2" stroke-linejoin="round"/>
<path d="M38.58 338.52 39.46 338.52 40.35 338.52 41.23 338.52 42.11 338.52 42.99 338.52 43.87 338.52 44.76 338.52 45.64 338.52 46.52 338.52 47.4 338.52 48.28 338.52 49.17 338.52 50.05 338.52 50.93 338.52 51.81 338.52 52.69 338.52 53.58 338.52 54.46 338.52 55.34 338.52 56.22 338.52 57.1 338.52 57.99 338.52 58.87 338.52 59.75 338.52 60.63 338.52 61.51 338.52 62.4 338.52 63.28 338.52 64.16 338.53 65.04 338.53 65.92 338.53 66.81 338.53 67.69 338.53 68.57 338.53 69.45 338.53 70.33 338.53 71.22 338.54 72.1 338.54 72.98 338.54 73.86 338.55 74.74 338.56 75.63 338.57 76.51 338.58 77.39 338.6 78.27 338.62 79.15 338.65 80.04 338.69 80.92 338.74 81.8 338.8 82.68 338.88 83.56 338.99 84.45 339.13 85.33 339.31 86.21 339.53 87.09 339.83 87.97 340.21 88.86 340.7 89.74 341.32 90.62 342.11 91.5 343.1 92.38 344.35 93.27 345.9 94.15 347.8 95.03 350.09 95.91 352.8 96.79 355.96 97.68 359.54 98.56 363.48 99.44 367.7 100.32 372.07 101.2 376.45 102.09 380.69 102.97 384.65 103.85 388.26 104.73 391.45 105.61 394.2 106.5 396.51 107.38 398.44 108.26 400.01 109.14 401.27 110.02 402.29 110.91 403.09 111.79 403.72 112.67 404.22 113.55 404.6 114.43 404.9 115.32 405.14 116.2 405.32 117.08 405.46 117.96 405.57 118.84 405.65 119.73 405.72 120.61 405.77 121.49 405.8 122.37 405.83 123.25 405.86 124.14 405.87 125.02 405.89 125.9 405.9 126.78 405.91 127.66 405.91 128.55 405.92 129.43 405.92 130.31 405.92 131.19 405.93 132.07 405.93 132.96 405.93 133.84 405.93 134.72 405.93 135.6 405.93 136.48 405.93 137.37 405.93 138.25 405.93 139.13 405.93 140.01 405.93 140.89 405.93 141.78 405.93 142.66 405.93 143.54 405.93 144.42 405.93" stroke="#4b52aa" stroke-width="1.1" fill="none"  stroke-linejoin="round"/>
<circle cx="51.81" cy="337.4" r="1.5" fill="#fff" stroke="#111" stroke-width="0.8" />
<circle cx="65.04" cy="337.4" r="1.5" fill="#fff" stroke="#111" stroke-width="0.8" />
<circle cx="78.27" cy="337.4" r="1.5" fill="#fff" stroke="#111" stroke-width="0.8" />
<circle cx="91.5" cy="337.4" r="1.5" fill="#fff" stroke="#111" stroke-width="0.8" />
<circle cx="104.73" cy="337.4" r="1.5" fill="#fff" stroke="#111" stroke-width="0.8" />
<circle cx="117.96" cy="337.4" r="1.5" fill="#fff" stroke="#111" stroke-width="0.8" />
<circle cx="131.19" cy="337.4" r="1.5" fill="#fff" stroke="#111" stroke-width="0.8" />
<circle cx="144.42" cy="341.14" r="1.5" fill="#fff" stroke="#111" stroke-width="0.8" />
<rect x="50.11" y="335.7" width="3.4" height="3.4" fill="#e2262e" stroke="none" stroke-width="0.8" />
<rect x="63.34" y="335.7" width="3.4" height="3.4" fill="#e2262e" stroke="none" stroke-width="0.8" />
<rect x="76.57" y="335.7" width="3.4" height="3.4" fill="#e2262e" stroke="none" stroke-width="0.8" />
<rect x="89.8" y="336" width="3.4" height="3.4" fill="#e2262e" stroke="none" stroke-width="0.8" />
<rect x="103.03" y="340.19" width="3.4" height="3.4" fill="#e2262e" stroke="none" stroke-width="0.8" />
<rect x="116.26" y="339.82" width="3.4" height="3.4" fill="#e2262e" stroke="none" stroke-width="0.8" />
<rect x="129.49" y="342.82" width="3.4" height="3.4" fill="#e2262e" stroke="none" stroke-width="0.8" />
<rect x="142.72" y="344.69" width="3.4" height="3.4" fill="#e2262e" stroke="none" stroke-width="0.8" />
<rect x="50.31" y="337.4" width="3" height="3" fill="#fff" stroke="#8a5bb8" stroke-width="0.8" />
<rect x="63.54" y="337.02" width="3" height="3" fill="#fff" stroke="#8a5bb8" stroke-width="0.8" />
<rect x="76.77" y="337.02" width="3" height="3" fill="#fff" stroke="#8a5bb8" stroke-width="0.8" />
<rect x="90" y="349.38" width="3" height="3" fill="#fff" stroke="#8a5bb8" stroke-width="0.8" />
<rect x="103.23" y="386.83" width="3" height="3" fill="#fff" stroke="#8a5bb8" stroke-width="0.8" />
<rect x="116.46" y="401.44" width="3" height="3" fill="#fff" stroke="#8a5bb8" stroke-width="0.8" />
<rect x="129.69" y="397.39" width="3" height="3" fill="#fff" stroke="#8a5bb8" stroke-width="0.8" />
<rect x="142.92" y="400.16" width="3" height="3" fill="#fff" stroke="#8a5bb8" stroke-width="0.8" />
<circle cx="51.81" cy="339.05" r="1.8" fill="#38409a" stroke="none" stroke-width="0.8" />
<circle cx="65.04" cy="339.05" r="1.8" fill="#38409a" stroke="none" stroke-width="0.8" />
<circle cx="78.27" cy="338.52" r="1.8" fill="#38409a" stroke="none" stroke-width="0.8" />
<circle cx="91.5" cy="346.39" r="1.8" fill="#38409a" stroke="none" stroke-width="0.8" />
<circle cx="104.73" cy="390.58" r="1.8" fill="#38409a" stroke="none" stroke-width="0.8" />
<circle cx="117.96" cy="406.38" r="1.8" fill="#38409a" stroke="none" stroke-width="0.8" />
<circle cx="131.19" cy="406.61" r="1.8" fill="#38409a" stroke="none" stroke-width="0.8" />
<circle cx="144.42" cy="405.26" r="1.8" fill="#38409a" stroke="none" stroke-width="0.8" />
<rect x="24.9" y="335.4" width="4" height="4" fill="#8a5bb8" stroke="none" stroke-width="0.8" />
<circle cx="26.9" cy="337.4" r="1.8" fill="#38409a" stroke="none" stroke-width="0.8" />
<line x1="169.6" y1="362.6" x2="188.8" y2="362.6" stroke="#5058aa" stroke-width="1" />
<circle cx="179.2" cy="362.6" r="2" fill="#38409a" stroke="none" stroke-width="0.8" />
<text x="193.9" y="364.9" font-size="6.7" fill="#2a2a2a">PBMCs + SHP-77 + HL-60: SHP-77</text>
<line x1="169.6" y1="373.8" x2="188.8" y2="373.8" stroke="#e4404a" stroke-width="1" />
<rect x="177.2" y="371.8" width="4" height="4" fill="#e2262e" stroke="none" stroke-width="0.8" />
<text x="193.9" y="376.1" font-size="6.7" fill="#2a2a2a">PBMCs + SHP-77 + HL-60: HL-60</text>
<line x1="169.6" y1="384.4" x2="188.8" y2="384.4" stroke="#8a5bb8" stroke-width="1" stroke-dasharray="1.3 1.5"/>
<rect x="177.6" y="382.8" width="3.2" height="3.2" fill="#fff" stroke="#8a5bb8" stroke-width="0.8" />
<text x="193.9" y="386.7" font-size="6.7" fill="#2a2a2a">Pos. ctrl. (PBMCs + SHP-77)</text>
<line x1="169.6" y1="395.4" x2="188.8" y2="395.4" stroke="#111" stroke-width="1" stroke-dasharray="1.3 1.5"/>
<circle cx="179.2" cy="395.4" r="1.7" fill="#fff" stroke="#111" stroke-width="0.8" />
<text x="193.9" y="397.7" font-size="6.7" fill="#2a2a2a">Neg. ctrl. (PBMCs + HL-60)</text>
<text x="371.65" y="327.9" font-size="7.1" font-weight="bold" text-anchor="middle" fill="#222">w/o</text>
<text x="371.65" y="336.2" font-size="7.1" font-weight="bold" text-anchor="middle" fill="#222">DLL3/CD3 ITE</text>
<path d="M346.3 399.5h.01M352.1 397.2h.01M346.0 398.3h.01M350.7 401.4h.01M346.3 395.1h.01M351.3 399.7h.01M353.5 401.1h.01M349.2 397.8h.01M356.2 397.7h.01M347.5 395.5h.01M349.7 398.9h.01M348.6 398.3h.01M350.2 400.3h.01M352.4 399.0h.01M344.8 400.3h.01M345.8 398.1h.01M345.7 398.5h.01M347.5 399.1h.01M358.1 398.4h.01M351.7 395.1h.01M348.8 400.2h.01M349.3 399.5h.01M349.8 395.9h.01M351.0 396.4h.01M354.4 397.2h.01M351.3 398.5h.01M352.0 396.9h.01M352.1 398.2h.01M352.8 400.1h.01M349.9 396.5h.01M351.5 399.7h.01M353.8 397.5h.01M350.9 399.8h.01M350.2 399.0h.01M350.0 396.9h.01M346.9 397.5h.01M351.0 402.4h.01M352.0 401.2h.01M351.5 400.3h.01M350.0 400.5h.01M354.1 397.6h.01M347.7 403.6h.01M350.1 401.0h.01M351.8 395.5h.01M355.8 403.1h.01M350.0 400.5h.01M349.8 396.2h.01M349.2 399.5h.01M352.4 400.3h.01M349.7 402.0h.01M347.5 400.6h.01M352.4 397.7h.01M344.8 396.1h.01M350.1 399.9h.01M353.5 395.9h.01M349.5 400.2h.01M349.1 392.3h.01M351.6 404.5h.01M352.1 396.1h.01M348.4 399.1h.01M356.0 400.1h.01M349.8 402.5h.01M349.3 403.3h.01M347.7 397.3h.01M351.4 402.2h.01M351.2 399.3h.01M344.8 396.6h.01M347.9 397.1h.01M351.0 397.6h.01M351.5 398.7h.01M348.6 398.8h.01M350.6 400.7h.01M348.3 397.9h.01M346.0 402.7h.01M353.3 398.0h.01M348.3 395.3h.01M349.9 399.0h.01M355.2 399.1h.01M347.5 392.1h.01M353.2 399.0h.01M345.3 399.0h.01M345.3 407.5h.01M352.4 400.0h.01M349.0 392.9h.01M349.2 394.5h.01M351.1 392.9h.01M347.1 401.7h.01M353.8 395.4h.01M345.5 400.8h.01M351.7 395.9h.01M347.7 396.7h.01M346.4 396.7h.01M352.8 400.3h.01M354.8 398.3h.01M349.1 395.9h.01M349.2 395.1h.01M344.9 400.3h.01M353.2 400.7h.01M353.0 399.2h.01M347.6 398.7h.01M348.5 395.6h.01M345.1 394.6h.01M349.5 398.9h.01M348.3 402.2h.01M350.0 400.0h.01M352.7 396.4h.01M344.4 400.5h.01M347.7 401.9h.01M350.4 401.1h.01M351.5 393.1h.01M351.4 396.7h.01M347.5 397.4h.01M351.5 400.8h.01M352.1 394.2h.01M348.0 392.3h.01M349.2 400.1h.01M347.5 399.1h.01M350.1 401.1h.01M347.4 396.3h.01M347.5 403.1h.01M352.3 398.2h.01M350.1 398.8h.01M350.0 398.0h.01M348.6 395.2h.01M347.8 402.8h.01M350.9 398.7h.01M348.9 398.7h.01M350.4 396.8h.01M350.0 399.1h.01M347.6 396.4h.01M346.9 395.7h.01M351.8 392.4h.01M348.8 396.9h.01M347.9 398.8h.01M352.4 398.7h.01M349.1 396.9h.01M349.2 400.9h.01M348.5 395.5h.01M346.2 395.6h.01M345.9 401.4h.01M350.4 397.9h.01M353.3 396.8h.01M351.5 400.6h.01M345.5 394.5h.01M347.1 400.9h.01M352.9 395.3h.01M352.2 397.5h.01M348.5 397.1h.01M348.7 393.8h.01M346.9 395.3h.01M350.8 403.9h.01M356.6 397.6h.01M345.0 397.4h.01M347.1 403.7h.01M351.0 396.6h.01M351.9 399.9h.01M345.3 397.1h.01M348.9 398.5h.01M349.8 397.6h.01M350.0 397.0h.01M347.2 402.4h.01M350.4 399.6h.01M345.4 398.1h.01M351.6 395.1h.01M352.4 397.5h.01M350.5 398.2h.01M350.1 401.6h.01M348.5 402.6h.01M347.5 396.1h.01M351.3 395.7h.01M348.5 400.9h.01M352.6 393.9h.01M350.8 403.4h.01M352.6 397.9h.01M347.9 397.7h.01M346.5 397.8h.01M349.0 398.1h.01M352.6 397.9h.01M345.7 401.2h.01M346.7 397.3h.01M349.2 397.6h.01M346.9 397.9h.01M355.2 396.9h.01M349.1 401.4h.01M351.4 400.5h.01M351.7 393.4h.01M347.3 398.8h.01M350.8 401.9h.01M350.7 397.9h.01M349.6 398.0h.01M350.1 400.3h.01M348.6 396.4h.01M347.3 401.4h.01M352.8 401.1h.01M351.7 400.7h.01M349.5 400.2h.01M346.8 398.0h.01M347.6 400.4h.01M348.0 398.2h.01M350.5 402.0h.01M347.4 396.1h.01M351.6 395.6h.01M350.7 397.0h.01M349.2 393.8h.01M351.4 397.2h.01M347.2 403.9h.01M351.4 407.6h.01M350.6 397.6h.01M349.8 402.7h.01M349.4 399.7h.01M350.8 396.1h.01M349.8 397.2h.01M346.3 400.8h.01M351.2 398.7h.01M347.1 393.3h.01M350.8 398.2h.01M345.1 398.3h.01M345.5 398.4h.01M349.9 399.4h.01M350.1 398.9h.01M346.5 397.5h.01M348.2 397.9h.01M350.2 400.1h.01M353.8 391.8h.01M350.5 398.0h.01M355.4 400.9h.01M345.2 399.5h.01M348.1 401.1h.01M346.8 398.2h.01M349.2 398.2h.01M348.0 393.7h.01M350.7 401.1h.01M349.3 395.9h.01M350.0 400.0h.01M349.0 398.5h.01M353.2 395.6h.01M348.0 393.5h.01M347.7 396.6h.01M347.0 396.7h.01M354.2 398.0h.01M349.2 404.2h.01M349.3 394.0h.01M350.5 396.1h.01M353.8 395.3h.01M348.0 394.3h.01M349.8 395.9h.01M349.3 397.5h.01M347.9 401.0h.01M351.9 398.7h.01M347.2 395.7h.01M350.2 404.7h.01M348.3 396.5h.01M347.7 395.7h.01M347.0 398.0h.01M353.2 398.5h.01M348.2 394.3h.01M350.1 398.4h.01M346.3 395.7h.01M349.4 401.1h.01M351.1 399.0h.01M348.7 399.3h.01M349.5 404.1h.01M346.6 397.5h.01M352.8 397.8h.01M353.2 398.4h.01M349.9 397.5h.01M345.9 396.0h.01M355.3 400.2h.01M351.1 401.0h.01M351.0 401.2h.01M348.8 397.9h.01M352.1 397.6h.01M346.0 397.9h.01M348.1 400.1h.01M347.6 395.7h.01M348.6 402.5h.01M349.4 398.9h.01M349.5 399.3h.01M351.9 402.1h.01M345.2 402.0h.01M349.5 397.7h.01M355.7 398.1h.01M354.6 401.0h.01M346.8 399.8h.01M351.4 398.2h.01M343.4 397.6h.01M349.0 395.6h.01M354.2 397.9h.01M348.5 397.7h.01M347.5 396.5h.01M349.7 399.3h.01M348.2 398.3h.01M345.9 399.9h.01M347.6 399.1h.01M347.1 397.2h.01M350.1 395.4h.01M355.9 398.4h.01M349.3 396.6h.01M353.6 402.1h.01M350.3 394.9h.01M348.2 400.1h.01M348.2 395.4h.01M346.4 396.5h.01M349.5 396.8h.01M349.5 405.8h.01M354.1 395.8h.01M350.4 398.7h.01M349.1 401.2h.01M348.6 397.7h.01M348.5 398.2h.01M352.8 400.5h.01M346.0 397.4h.01M347.4 400.6h.01M350.1 400.8h.01M349.3 393.5h.01M350.7 399.1h.01M350.8 395.1h.01M349.7 396.7h.01M347.7 399.4h.01M350.4 396.2h.01M345.0 392.1h.01M348.0 401.4h.01M349.4 392.6h.01M347.3 399.6h.01M353.8 401.5h.01M350.5 399.0h.01M346.7 397.3h.01M348.6 396.5h.01M349.7 397.5h.01M350.4 402.2h.01M351.4 399.6h.01M348.9 394.5h.01M349.2 399.9h.01M346.9 401.8h.01M348.6 399.5h.01M348.6 395.2h.01M354.9 395.5h.01M351.9 397.1h.01M350.2 396.4h.01M348.4 400.9h.01M354.6 396.3h.01M349.5 401.0h.01M347.9 400.3h.01M347.5 400.1h.01M350.6 401.7h.01M350.4 395.4h.01M351.2 395.6h.01M351.5 402.4h.01M351.0 397.1h.01M352.6 398.9h.01M346.3 397.6h.01M353.2 397.7h.01M349.8 397.6h.01M345.1 397.2h.01M350.4 399.0h.01M349.0 393.0h.01M352.7 400.4h.01M352.2 401.9h.01M348.3 396.9h.01M350.3 402.9h.01M345.1 397.9h.01M347.6 400.0h.01M353.3 397.7h.01M346.3 398.6h.01M348.8 394.5h.01M351.8 397.1h.01M351.3 395.1h.01M352.4 394.8h.01M352.2 393.8h.01M353.1 397.5h.01M345.5 397.9h.01M350.4 395.9h.01M348.2 399.2h.01M349.1 390.5h.01M348.4 399.6h.01M350.3 401.1h.01M347.7 405.1h.01M351.6 399.3h.01M352.3 401.0h.01M349.8 396.9h.01M352.2 399.6h.01M344.6 395.6h.01M350.7 398.8h.01M350.2 400.2h.01M349.9 402.6h.01M348.0 397.5h.01M350.3 400.4h.01M351.5 402.4h.01M348.3 401.5h.01M350.7 395.8h.01M349.1 403.9h.01M351.5 397.3h.01M343.3 396.6h.01M347.7 398.7h.01M355.5 400.4h.01M350.3 396.1h.01M346.4 398.0h.01M348.3 406.3h.01M348.4 396.9h.01M352.4 398.7h.01M346.3 401.9h.01M348.7 395.0h.01M350.3 399.8h.01M348.6 400.3h.01M351.6 396.2h.01M344.2 392.3h.01M349.2 401.7h.01M352.1 402.1h.01M354.3 398.5h.01M352.2 394.5h.01M351.3 399.5h.01M349.3 397.4h.01M346.6 398.9h.01M352.8 397.5h.01M350.9 396.8h.01M350.2 395.9h.01M350.5 397.9h.01M350.3 396.9h.01M346.4 397.6h.01M352.2 402.6h.01M348.7 400.6h.01M351.5 399.5h.01M345.5 399.3h.01M347.0 401.6h.01M351.5 400.1h.01M342.9 400.1h.01M351.3 395.2h.01M352.0 398.7h.01M349.0 396.6h.01M346.9 397.4h.01M357.5 399.0h.01M350.0 396.8h.01M347.9 397.1h.01M347.2 400.8h.01M348.8 400.8h.01M346.5 400.9h.01M349.4 400.2h.01M349.2 396.2h.01M352.6 397.4h.01M349.1 396.2h.01M350.0 397.5h.01M350.2 399.4h.01M347.7 394.8h.01M350.6 400.9h.01M351.3 395.5h.01M351.1 399.5h.01M350.2 399.6h.01M348.7 399.1h.01M351.9 397.2h.01M345.8 398.2h.01M350.0 393.7h.01M347.7 400.0h.01M349.1 398.7h.01M346.2 400.9h.01M354.1 398.0h.01M347.6 395.5h.01M351.8 398.8h.01M347.4 401.7h.01M351.5 400.1h.01M344.9 398.2h.01M351.1 395.3h.01M351.9 402.2h.01M352.2 396.6h.01M347.7 400.9h.01M352.1 401.7h.01M352.6 398.2h.01M348.4 393.7h.01M351.5 404.4h.01M348.3 397.3h.01M351.2 399.5h.01M345.9 396.6h.01M346.6 403.8h.01M347.6 400.7h.01M354.5 403.4h.01M353.2 402.7h.01M346.3 397.6h.01M347.6 397.7h.01M356.3 394.1h.01M351.0 395.3h.01M353.0 401.9h.01M352.2 402.4h.01M356.6 396.2h.01M358.3 387.1h.01M353.1 392.3h.01M360.6 388.5h.01M373.7 378.7h.01M352.5 390.2h.01M350.2 388.6h.01M348.6 399.7h.01M356.5 390.0h.01M358.6 393.9h.01M360.6 391.3h.01M351.8 392.6h.01M350.2 394.4h.01M349.9 393.4h.01M354.7 390.9h.01M354.0 390.2h.01M365.8 383.1h.01M348.4 396.8h.01M347.8 391.7h.01M356.6 383.4h.01M363.8 378.8h.01M349.3 397.9h.01M341.1 396.9h.01M347.0 396.0h.01M341.2 404.5h.01M354.9 393.0h.01M353.5 383.5h.01M354.9 386.0h.01M356.1 387.3h.01M353.6 391.6h.01M361.8 390.5h.01M348.5 395.8h.01M366.9 386.0h.01M350.5 394.0h.01M353.4 396.7h.01M356.3 392.4h.01M372.6 374.3h.01M348.4 388.5h.01M344.1 402.5h.01M358.2 396.6h.01M341.2 396.8h.01M366.8 388.4h.01M362.6 390.4h.01M356.2 390.8h.01M356.2 394.5h.01M354.8 393.2h.01M366.9 379.1h.01M350.4 397.1h.01M354.0 391.6h.01M371.7 382.6h.01M352.9 397.8h.01M374.9 374.0h.01M351.0 394.8h.01M351.2 403.4h.01M359.9 386.7h.01M359.7 385.2h.01M351.5 394.4h.01M373.9 369.7h.01M359.2 394.8h.01M361.6 395.7h.01M359.4 389.4h.01M355.0 388.0h.01M368.3 377.9h.01M355.1 389.3h.01M350.1 385.3h.01M353.1 393.5h.01M357.1 393.9h.01M354.8 389.0h.01M358.3 392.4h.01M349.2 388.9h.01M348.3 400.5h.01M363.5 382.3h.01M356.8 394.1h.01M366.0 381.7h.01M354.2 398.2h.01M374.1 385.8h.01M347.4 398.5h.01M353.8 392.2h.01M351.0 392.2h.01M355.9 398.8h.01M361.2 389.4h.01M356.2 387.6h.01M354.3 397.4h.01M362.2 395.4h.01M358.0 389.6h.01M343.9 400.6h.01M343.1 406.0h.01M351.3 394.1h.01M345.9 395.5h.01M349.0 400.4h.01M357.9 384.7h.01M341.5 400.1h.01M352.3 388.6h.01M360.4 387.3h.01M356.8 387.9h.01M351.7 391.8h.01M344.0 401.5h.01M359.0 381.6h.01M356.8 395.5h.01M357.8 395.4h.01M354.0 392.3h.01M346.3 393.4h.01M342.3 396.0h.01M357.8 392.0h.01M364.7 385.9h.01M348.6 397.7h.01M354.9 399.4h.01M370.7 385.6h.01M347.5 394.3h.01M357.4 387.0h.01M359.9 391.4h.01M362.3 387.9h.01M349.4 391.7h.01M355.1 397.3h.01M367.8 387.5h.01M358.7 392.1h.01M362.2 392.5h.01M362.4 380.2h.01M363.2 388.0h.01M352.6 395.5h.01M358.2 389.4h.01M343.3 399.7h.01M360.2 388.1h.01M344.1 400.7h.01M361.4 388.3h.01M359.2 387.4h.01M351.1 396.5h.01M353.3 393.5h.01M380.4 378.2h.01M357.0 383.4h.01M356.7 393.8h.01M350.7 393.4h.01M339.1 404.4h.01M351.5 396.8h.01M366.2 383.7h.01M363.4 387.3h.01M354.5 390.8h.01M349.6 400.7h.01M362.6 382.4h.01M362.3 383.8h.01M344.7 403.5h.01M346.4 402.3h.01M357.5 393.9h.01M359.8 393.5h.01M358.6 391.8h.01M357.9 394.5h.01M353.1 397.3h.01M367.3 383.4h.01M359.3 386.6h.01M353.8 393.5h.01M353.4 388.9h.01M355.8 392.0h.01M358.4 392.5h.01M342.7 405.7h.01M354.7 388.5h.01M353.2 394.7h.01M362.5 385.2h.01M357.2 383.4h.01M357.3 389.7h.01M352.8 396.9h.01M369.4 386.7h.01M350.1 401.4h.01M353.5 392.5h.01M351.6 395.8h.01M360.1 388.9h.01M354.4 391.4h.01M353.0 397.1h.01M352.1 392.9h.01M354.4 388.8h.01M354.3 385.8h.01M359.1 391.3h.01M353.8 399.1h.01M349.9 397.4h.01M359.6 386.4h.01M354.2 396.0h.01M356.5 391.9h.01M366.5 385.1h.01M343.5 396.0h.01M362.2 386.4h.01M347.9 387.8h.01M358.4 395.9h.01M346.6 387.8h.01M359.7 386.3h.01M353.8 391.0h.01M349.3 397.3h.01M362.9 388.1h.01M351.9 398.1h.01M355.2 394.0h.01M349.0 398.3h.01M361.5 392.9h.01M356.2 392.8h.01M351.7 397.6h.01M361.8 391.9h.01M353.1 387.7h.01M355.5 390.4h.01M350.5 397.2h.01M363.0 388.1h.01M364.3 387.3h.01M348.8 393.2h.01M353.4 395.6h.01M362.8 387.1h.01M363.5 382.6h.01M355.2 397.9h.01M359.3 393.3h.01M342.0 393.0h.01M349.6 399.4h.01M368.1 380.6h.01M348.7 391.4h.01M349.4 397.6h.01M353.7 400.5h.01M361.4 384.6h.01M357.8 389.2h.01M361.9 391.0h.01M353.4 396.5h.01M360.2 387.9h.01M357.9 392.7h.01M353.7 389.7h.01M365.4 384.9h.01M351.6 395.8h.01M345.1 398.3h.01M346.0 395.7h.01M342.9 396.5h.01M362.6 385.9h.01M347.1 404.2h.01M351.4 400.3h.01M352.2 387.3h.01M369.6 380.3h.01M361.6 392.4h.01M346.4 397.6h.01M351.8 396.3h.01M355.9 385.7h.01M356.5 393.9h.01M353.9 394.8h.01M352.1 393.3h.01M358.6 389.9h.01M365.4 388.9h.01M362.2 390.0h.01M357.2 385.4h.01M363.9 393.2h.01M357.7 388.9h.01M355.8 396.3h.01M358.2 385.5h.01M354.8 388.6h.01M354.6 388.2h.01M349.6 401.4h.01M363.7 379.2h.01M348.9 393.8h.01M353.2 387.0h.01M362.6 380.0h.01M361.2 390.6h.01M353.4 390.0h.01M356.5 391.3h.01M340.7 395.7h.01M359.9 388.0h.01M353.0 388.8h.01M350.9 391.1h.01M376.5 372.4h.01M367.3 385.7h.01M357.6 390.8h.01M353.3 399.6h.01M359.8 388.4h.01M355.2 392.4h.01M347.7 395.1h.01M351.5 396.6h.01M360.5 380.3h.01M354.4 396.2h.01M346.6 392.2h.01M363.4 385.7h.01M352.8 388.0h.01M357.3 387.8h.01M357.6 391.8h.01M361.2 386.3h.01M352.2 393.6h.01M355.3 392.2h.01M352.2 392.5h.01M351.8 391.3h.01M357.2 395.1h.01M352.1 396.0h.01M358.6 389.8h.01M361.0 385.4h.01M360.2 389.6h.01M360.5 396.4h.01M348.3 396.5h.01M358.6 385.2h.01M364.9 387.2h.01M350.2 389.8h.01M353.0 403.0h.01M371.9 370.3h.01M342.7 402.5h.01M355.3 388.8h.01M360.5 388.5h.01M358.2 390.7h.01M348.1 401.7h.01M352.7 398.0h.01M361.1 387.9h.01M357.1 390.1h.01M342.5 398.4h.01M359.2 382.1h.01M345.1 402.7h.01M362.0 380.6h.01M359.4 388.6h.01M363.2 385.0h.01M354.4 388.9h.01M357.4 389.6h.01M351.2 392.7h.01M350.5 397.2h.01M348.4 389.4h.01M348.9 400.2h.01M352.3 396.2h.01M361.5 385.3h.01M361.6 389.5h.01M355.7 388.2h.01M355.6 385.9h.01M354.0 389.9h.01M359.3 390.3h.01M351.3 397.7h.01M364.8 385.6h.01M350.6 396.7h.01M338.0 400.2h.01M360.3 396.7h.01M350.6 401.0h.01M373.3 387.8h.01M338.6 407.0h.01M357.5 394.4h.01M354.7 389.2h.01M354.3 398.5h.01M362.3 385.7h.01M358.9 392.8h.01M360.2 388.1h.01M351.2 391.0h.01M352.8 390.7h.01M344.3 392.6h.01M362.5 382.0h.01M346.3 397.1h.01M366.8 389.4h.01M353.0 388.6h.01M352.0 389.7h.01M351.9 395.7h.01M348.1 392.8h.01M354.1 392.1h.01M350.3 391.3h.01M347.6 393.3h.01M359.9 387.4h.01M355.5 387.6h.01M354.1 379.3h.01M343.7 404.0h.01M371.9 390.0h.01M350.5 394.7h.01M361.8 382.0h.01M369.0 379.4h.01M358.6 384.4h.01M358.7 389.2h.01M364.1 380.8h.01M355.9 398.8h.01M347.1 398.3h.01M359.3 386.7h.01M354.0 398.4h.01M364.5 387.9h.01M358.0 384.8h.01M356.7 398.3h.01M363.9 380.0h.01M340.5 398.2h.01M357.2 387.8h.01M353.7 394.0h.01M362.7 387.5h.01M365.4 378.8h.01M359.5 390.5h.01M344.8 403.6h.01M344.0 392.6h.01M376.0 383.5h.01M358.8 395.0h.01M364.6 380.5h.01M359.6 394.7h.01M354.8 392.1h.01M352.5 396.4h.01M351.8 391.2h.01M346.8 393.0h.01M357.7 392.0h.01M353.1 388.4h.01M358.6 390.9h.01M365.6 382.6h.01M352.9 395.2h.01M367.5 383.3h.01M355.4 387.3h.01M353.2 396.9h.01M362.4 391.7h.01M343.6 402.7h.01M349.0 398.1h.01M338.1 402.2h.01M349.3 400.8h.01M356.9 396.0h.01M352.7 401.7h.01M352.7 401.4h.01M352.3 389.1h.01M362.8 384.9h.01M355.6 385.5h.01M353.4 393.2h.01M350.7 396.2h.01M338.6 406.2h.01M352.9 399.4h.01M353.4 389.9h.01M352.6 394.4h.01M360.5 386.1h.01M350.0 396.8h.01M362.3 379.4h.01M348.1 393.2h.01M369.0 387.9h.01M362.1 389.2h.01M347.5 401.4h.01M352.7 389.7h.01M370.7 375.2h.01M366.5 385.1h.01M349.0 396.3h.01M349.6 396.0h.01M351.1 389.0h.01M376.2 375.7h.01M363.5 385.9h.01M361.2 382.2h.01M348.1 381.9h.01M363.6 388.0h.01M347.1 400.4h.01M360.5 400.8h.01M357.8 393.8h.01M360.7 391.3h.01M355.8 389.3h.01M361.4 392.9h.01M347.2 391.8h.01M355.7 399.0h.01M354.4 384.6h.01M362.2 390.3h.01M370.8 382.2h.01M371.0 378.1h.01M362.9 387.1h.01M347.0 395.7h.01M366.1 389.3h.01M353.2 397.7h.01M362.9 390.5h.01M358.2 390.9h.01M349.8 394.8h.01M357.0 387.2h.01M353.9 393.1h.01M357.7 394.5h.01M348.2 394.3h.01M358.1 388.0h.01M358.6 387.3h.01M365.0 384.2h.01M347.4 399.9h.01M368.7 374.4h.01M355.1 391.9h.01M363.9 392.4h.01M354.8 385.0h.01M361.1 392.1h.01M359.6 389.1h.01M349.9 405.6h.01M346.9 390.4h.01M363.5 387.4h.01M361.1 389.2h.01M368.8 388.9h.01M351.9 398.1h.01M347.1 389.4h.01M365.2 383.2h.01M339.8 401.5h.01M351.0 396.5h.01M355.6 387.9h.01M350.6 397.8h.01M349.0 396.1h.01M348.6 397.8h.01M369.6 384.7h.01M364.5 387.5h.01M348.8 394.4h.01M356.6 392.6h.01M351.5 396.6h.01M350.6 394.8h.01M356.0 386.0h.01M363.7 386.3h.01M356.9 390.3h.01M340.1 395.3h.01M349.3 399.7h.01M351.7 396.5h.01M348.3 392.4h.01M352.5 397.9h.01M343.5 398.4h.01M359.1 389.6h.01M355.9 394.5h.01M358.2 385.2h.01M360.9 384.5h.01M353.5 399.0h.01M374.5 385.3h.01M359.3 385.5h.01M350.3 402.0h.01M358.6 383.3h.01M367.9 385.8h.01M366.0 386.3h.01M339.7 398.4h.01M355.0 391.0h.01M367.5 380.7h.01M355.3 391.2h.01M355.4 387.0h.01M346.8 385.8h.01M358.6 388.5h.01M357.6 385.4h.01M356.1 386.8h.01M348.4 397.4h.01M360.9 390.4h.01M355.7 389.5h.01M366.6 389.5h.01M351.3 389.4h.01M358.9 390.6h.01M349.1 405.4h.01M340.2 397.7h.01M357.9 394.1h.01M342.0 398.2h.01M366.9 390.0h.01M354.1 392.4h.01M349.4 397.1h.01M348.1 387.3h.01M344.5 398.7h.01M346.1 402.3h.01M365.7 389.0h.01M361.0 392.7h.01M358.0 393.5h.01M359.6 392.1h.01M348.4 393.1h.01M348.5 399.5h.01M359.9 385.1h.01M348.6 393.3h.01M362.6 386.2h.01M354.2 389.2h.01M355.1 398.5h.01M350.8 392.8h.01M368.9 385.8h.01M347.4 401.3h.01M346.5 399.6h.01M363.0 383.9h.01M350.6 394.8h.01M356.1 389.0h.01M350.9 402.1h.01M367.3 385.1h.01M347.4 394.4h.01M353.9 394.5h.01M368.2 380.9h.01M357.2 388.4h.01M357.1 387.3h.01M358.9 394.2h.01M353.1 391.5h.01M356.9 384.7h.01M369.7 376.3h.01M353.3 388.9h.01M367.4 381.5h.01M352.2 401.7h.01M355.1 388.2h.01M356.0 391.9h.01M350.4 393.9h.01M354.5 395.2h.01M361.9 390.8h.01M355.1 395.1h.01M354.5 397.1h.01M359.1 387.2h.01M365.4 378.4h.01M348.7 392.3h.01M355.1 386.3h.01M347.0 388.7h.01M356.9 387.1h.01M372.6 383.6h.01M347.4 402.3h.01M356.9 395.1h.01M347.7 401.5h.01M364.4 383.8h.01M349.6 393.5h.01M358.0 400.1h.01M369.7 388.6h.01M354.4 390.7h.01M358.8 388.0h.01M352.5 392.4h.01M362.4 386.6h.01M357.9 388.7h.01M354.6 390.5h.01M365.6 385.8h.01M367.3 382.9h.01M364.1 379.8h.01M353.0 392.7h.01M351.3 393.6h.01M349.1 394.8h.01M351.0 394.3h.01M353.8 388.1h.01M353.0 393.1h.01M346.5 397.7h.01M365.5 383.9h.01M360.2 391.0h.01M350.0 400.6h.01M375.0 374.3h.01M372.2 377.4h.01M367.1 376.0h.01M364.6 386.0h.01M346.4 393.7h.01M348.2 392.2h.01M358.9 388.4h.01M337.1 401.9h.01M359.6 389.1h.01M368.8 374.8h.01M357.9 389.9h.01M361.5 381.7h.01M346.2 396.7h.01M356.6 382.8h.01M358.8 389.2h.01M361.6 376.1h.01M359.8 384.7h.01M352.5 396.7h.01M368.8 383.4h.01M355.2 397.2h.01M349.3 394.7h.01M352.2 389.2h.01M357.5 398.9h.01M357.9 391.9h.01M355.8 396.0h.01M357.4 386.3h.01M356.8 396.7h.01M355.4 396.6h.01M355.5 400.1h.01M358.2 392.4h.01M353.9 396.0h.01M354.3 385.7h.01M358.3 384.3h.01M367.2 387.2h.01M356.2 393.9h.01M351.2 397.1h.01M375.4 371.4h.01M352.9 394.5h.01M359.2 381.6h.01M349.0 402.0h.01M351.5 396.3h.01M345.7 393.8h.01M342.3 401.1h.01M364.8 385.7h.01M354.0 393.4h.01M359.6 387.4h.01M360.2 396.7h.01M372.8 377.6h.01M346.5 405.5h.01M363.5 391.4h.01M360.6 387.1h.01M363.4 391.0h.01M364.9 380.5h.01M363.8 384.4h.01M353.4 394.3h.01M353.4 402.7h.01M360.3 389.4h.01M354.6 393.0h.01M354.3 394.6h.01M362.6 390.4h.01M346.6 395.7h.01M356.7 385.3h.01M358.9 388.5h.01M356.5 392.4h.01M351.4 400.8h.01M363.9 383.5h.01M359.6 391.9h.01M350.3 393.2h.01M361.3 376.4h.01M346.1 398.9h.01M360.8 383.9h.01M362.5 396.4h.01M357.7 389.8h.01M356.6 386.3h.01M360.2 389.1h.01M361.7 393.5h.01M356.4 391.6h.01M358.5 396.9h.01M345.1 398.1h.01M351.4 394.6h.01M362.4 387.2h.01M361.6 388.2h.01M350.7 391.6h.01M345.7 398.7h.01M353.1 396.6h.01M363.4 382.4h.01M347.9 398.9h.01M349.5 396.2h.01M360.7 386.3h.01M369.5 378.9h.01M359.3 387.1h.01M354.9 394.3h.01M355.1 388.5h.01M352.2 392.2h.01M361.8 386.1h.01M365.4 388.7h.01M350.5 399.1h.01M339.0 402.2h.01M348.7 395.4h.01M364.8 385.3h.01M354.8 397.3h.01M350.4 391.1h.01M363.4 388.9h.01M345.3 398.6h.01M362.0 386.5h.01M353.0 393.6h.01M357.7 386.9h.01M362.4 380.1h.01M355.5 400.6h.01M348.1 396.0h.01M339.0 398.5h.01M347.4 396.9h.01M352.4 401.3h.01M349.1 395.4h.01M357.7 392.7h.01M362.8 379.9h.01M372.6 378.9h.01M350.7 387.4h.01M352.7 385.5h.01M357.5 387.5h.01M358.5 386.0h.01M356.6 400.2h.01M364.9 386.0h.01M348.7 402.1h.01M343.3 393.2h.01M365.8 382.1h.01M366.2 386.9h.01M372.5 388.0h.01M360.5 385.4h.01M360.5 394.1h.01M357.1 377.8h.01M353.2 391.3h.01M355.6 389.8h.01M364.7 379.9h.01M359.4 380.3h.01M339.7 397.3h.01M350.4 390.8h.01M350.8 397.1h.01M360.4 388.5h.01M357.5 387.0h.01M348.6 389.7h.01M352.9 388.1h.01M353.6 395.7h.01M360.2 394.0h.01M349.0 386.1h.01M347.7 405.0h.01M361.3 385.7h.01M366.0 382.8h.01M368.6 381.1h.01M353.0 396.0h.01M347.4 395.9h.01M370.6 383.4h.01M347.7 395.3h.01M355.8 387.9h.01M359.1 394.4h.01M356.4 394.6h.01M358.2 390.2h.01M350.4 398.8h.01M366.2 382.5h.01M349.4 397.5h.01M356.8 395.3h.01M359.7 388.0h.01M345.6 400.4h.01M356.7 385.1h.01M344.8 390.4h.01M360.7 386.1h.01M351.2 393.6h.01M356.3 389.4h.01M361.6 391.8h.01M354.3 398.9h.01M355.0 387.9h.01M357.2 384.1h.01M353.7 387.9h.01M352.8 393.9h.01M337.6 404.7h.01M357.9 388.8h.01M361.4 389.0h.01M353.2 388.5h.01M361.5 390.7h.01M344.9 395.1h.01M347.1 400.4h.01M351.7 388.4h.01M367.3 385.6h.01M357.7 390.9h.01M354.6 392.0h.01M362.7 388.5h.01M352.5 393.7h.01M370.0 379.5h.01M346.1 397.9h.01M347.4 407.9h.01M360.7 390.5h.01M358.7 397.7h.01M348.3 395.8h.01M343.4 404.5h.01M355.4 399.0h.01M353.9 387.9h.01M350.7 397.9h.01M349.8 396.2h.01M350.5 391.5h.01M351.7 400.8h.01M347.8 397.7h.01M362.0 383.8h.01M344.6 404.9h.01M369.0 381.4h.01M346.9 400.6h.01M355.6 387.6h.01M353.0 382.6h.01M349.8 389.7h.01M346.0 400.0h.01M357.9 397.0h.01M349.6 400.9h.01M363.7 386.4h.01M356.6 387.3h.01M352.0 391.6h.01M361.5 396.4h.01M365.2 387.1h.01M362.2 379.6h.01M348.2 399.7h.01M353.0 385.9h.01M355.8 385.5h.01M355.9 397.8h.01M347.3 394.6h.01M360.0 388.2h.01M357.3 386.4h.01M353.3 382.3h.01M354.5 397.5h.01M347.4 395.7h.01M361.2 392.8h.01M364.7 381.4h.01M352.7 400.7h.01M352.3 394.6h.01M349.4 392.3h.01M339.2 397.4h.01M348.4 401.7h.01M361.6 389.0h.01M351.9 387.5h.01M359.5 385.0h.01M355.0 395.7h.01M354.4 391.8h.01M348.3 400.5h.01M359.9 391.5h.01M368.2 375.9h.01M356.0 393.7h.01M358.3 390.7h.01M359.4 382.0h.01M355.2 396.5h.01M355.4 390.4h.01M362.2 379.2h.01M358.8 395.7h.01M353.9 388.7h.01M359.8 386.4h.01M349.6 395.8h.01M343.2 402.1h.01M346.7 394.5h.01M361.3 387.3h.01M357.8 395.7h.01M367.4 392.6h.01M351.6 397.7h.01M343.2 402.7h.01M365.7 381.4h.01M359.3 392.4h.01M354.6 389.0h.01M367.3 377.8h.01M357.1 394.4h.01M357.6 396.8h.01M367.1 385.7h.01M369.3 385.5h.01M346.4 395.7h.01M357.9 390.5h.01M342.9 409.4h.01M343.9 393.8h.01M359.2 389.7h.01M367.5 384.4h.01M358.7 392.3h.01M350.2 389.0h.01M352.3 397.7h.01M353.7 397.9h.01M351.6 397.0h.01M356.0 394.5h.01M355.9 391.8h.01M352.3 398.8h.01M355.6 393.4h.01M360.8 383.9h.01M349.5 394.9h.01M365.5 380.1h.01M348.1 391.7h.01M352.9 388.3h.01M349.6 397.4h.01M347.6 396.4h.01M346.9 396.0h.01M359.8 379.7h.01M356.3 391.7h.01M355.4 392.4h.01M359.0 383.3h.01M354.9 394.4h.01M365.7 378.7h.01M351.3 388.0h.01M355.7 386.5h.01M348.4 399.2h.01M372.9 371.0h.01M368.4 378.9h.01M361.0 389.2h.01M365.2 384.0h.01M349.6 394.8h.01M361.9 383.2h.01M359.0 389.0h.01M357.2 390.2h.01M360.4 391.5h.01M353.7 390.9h.01M339.6 397.8h.01M344.3 401.5h.01M347.7 393.3h.01M359.9 392.7h.01M365.1 381.3h.01M357.7 394.5h.01M349.5 394.2h.01M346.6 394.2h.01M361.3 387.9h.01M353.1 390.4h.01M367.4 386.8h.01M346.5 406.5h.01M352.8 392.4h.01M352.2 390.9h.01M360.7 381.6h.01M356.1 389.4h.01M369.1 384.1h.01M359.2 391.2h.01M360.4 388.6h.01M337.4 404.9h.01M353.5 395.6h.01M358.3 387.1h.01M349.2 391.0h.01M358.1 389.2h.01M349.2 393.8h.01M358.6 386.4h.01M355.0 389.0h.01M356.4 394.2h.01M365.8 381.5h.01M360.4 389.2h.01M356.5 394.2h.01M362.5 381.2h.01M367.1 383.0h.01M350.9 391.3h.01M354.2 387.2h.01M364.1 387.5h.01M349.1 399.0h.01M357.7 390.2h.01M363.2 385.9h.01M348.8 391.0h.01M355.0 395.5h.01M337.4 387.0h.01M345.6 384.6h.01M355.8 398.9h.01M365.1 394.5h.01M356.1 388.1h.01M341.3 378.0h.01M351.9 374.2h.01M365.2 391.8h.01M353.9 390.8h.01M352.9 387.4h.01M356.6 381.5h.01M353.1 388.3h.01M357.2 378.1h.01M352.9 385.9h.01M356.0 391.3h.01M352.4 390.6h.01M354.5 397.9h.01M353.4 391.2h.01M343.4 385.3h.01M357.1 395.4h.01M343.1 386.6h.01M348.8 387.4h.01M347.1 383.5h.01M350.4 387.9h.01M359.1 380.1h.01M343.2 393.3h.01M355.0 385.4h.01M341.7 395.4h.01M342.3 396.0h.01M352.9 385.7h.01M349.6 393.5h.01M351.0 373.0h.01M345.3 369.7h.01M354.1 394.4h.01M359.2 376.1h.01M368.0 401.5h.01M350.0 371.0h.01M343.9 395.3h.01M367.5 382.6h.01M366.3 386.9h.01M339.7 370.1h.01M356.0 393.4h.01M347.1 385.3h.01M351.6 384.2h.01M346.5 382.3h.01M346.2 396.8h.01M354.1 395.1h.01M365.7 368.6h.01M350.4 394.6h.01M349.2 382.1h.01M354.1 382.7h.01M344.2 384.5h.01M351.4 387.0h.01M358.1 387.1h.01M347.1 411.4h.01M349.1 384.8h.01M349.8 381.3h.01M338.3 388.5h.01M362.6 372.3h.01M344.8 390.3h.01M345.5 391.2h.01M350.5 378.1h.01M349.2 382.8h.01M355.3 366.6h.01M354.2 397.6h.01M352.1 388.8h.01M346.6 389.6h.01M349.7 376.6h.01M341.4 368.3h.01M354.4 388.3h.01M359.7 389.0h.01M356.5 376.2h.01M348.3 389.8h.01M349.9 385.6h.01M351.3 389.0h.01M352.5 389.5h.01M346.9 386.2h.01M339.1 378.0h.01M348.7 390.4h.01M344.9 375.6h.01M358.6 380.2h.01M337.1 379.1h.01M341.4 367.5h.01M347.8 400.4h.01M345.0 380.3h.01M360.1 387.6h.01M350.1 397.8h.01M341.5 386.4h.01M355.0 388.5h.01M341.5 379.5h.01M365.2 386.2h.01M348.8 395.5h.01M343.0 387.8h.01M343.5 388.0h.01M353.5 387.0h.01M348.4 388.9h.01M349.0 382.9h.01M356.0 393.8h.01M340.1 378.9h.01M344.7 389.3h.01M339.7 399.4h.01M351.3 388.2h.01M357.9 381.0h.01M353.9 390.2h.01M361.3 378.5h.01M362.0 391.7h.01M353.0 395.5h.01M349.0 385.4h.01M357.6 384.1h.01M359.6 397.9h.01M352.7 388.4h.01M345.8 379.6h.01M362.5 378.7h.01M351.7 389.3h.01M343.8 381.5h.01M345.4 403.9h.01M354.0 398.1h.01M367.2 395.1h.01M361.5 383.5h.01M345.5 398.6h.01M362.7 378.9h.01M360.2 389.4h.01M357.4 394.7h.01M366.2 382.1h.01M351.1 397.1h.01M349.0 391.4h.01M350.5 373.5h.01M346.7 394.1h.01M346.7 374.8h.01M347.1 387.9h.01M355.0 389.8h.01M355.3 378.7h.01M346.3 381.0h.01M347.6 390.7h.01M361.8 385.3h.01M359.6 396.0h.01M342.0 380.6h.01M352.4 376.1h.01M366.1 372.2h.01M341.4 393.4h.01M345.2 392.8h.01M343.3 395.6h.01M346.5 393.0h.01M359.2 375.2h.01M344.1 373.2h.01M342.3 394.5h.01M350.9 394.0h.01M362.6 395.5h.01M357.0 383.8h.01M348.1 389.8h.01M358.1 395.9h.01M353.6 384.9h.01M350.6 400.5h.01M353.5 403.2h.01M345.5 394.2h.01M353.0 393.3h.01M345.3 389.9h.01M350.7 385.0h.01M341.7 376.0h.01M348.6 391.6h.01M353.3 389.2h.01M353.8 376.5h.01M359.8 387.8h.01M345.3 382.9h.01M359.2 388.8h.01M338.0 404.0h.01M339.5 401.0h.01M358.1 379.3h.01M361.2 397.3h.01M359.6 392.5h.01M353.9 389.0h.01M347.1 389.5h.01M361.5 386.5h.01M367.0 374.9h.01M351.6 375.5h.01M337.3 389.3h.01M348.7 382.9h.01M342.9 385.4h.01M338.4 385.8h.01M347.1 377.4h.01M354.6 372.5h.01M354.7 389.5h.01M355.5 388.4h.01M357.7 385.2h.01M342.7 390.3h.01M345.0 384.4h.01M352.3 379.9h.01M359.2 375.1h.01M361.1 387.1h.01M364.8 396.2h.01M356.7 389.7h.01M352.3 376.4h.01M346.9 379.8h.01M345.7 386.3h.01M345.0 388.4h.01M349.3 383.6h.01M354.4 391.0h.01M340.7 384.8h.01M374.6 387.4h.01M355.0 380.3h.01M359.1 399.6h.01M356.0 386.3h.01M351.6 372.2h.01M356.1 384.9h.01M354.5 390.3h.01M353.0 404.1h.01M358.7 382.1h.01M356.2 392.4h.01M351.6 398.5h.01M348.4 373.4h.01M342.8 390.4h.01M343.5 388.5h.01M339.3 390.4h.01M349.3 380.1h.01M346.9 385.2h.01M358.6 389.2h.01M349.7 388.6h.01M358.4 391.0h.01M365.3 381.6h.01M357.9 388.3h.01M346.3 392.1h.01M358.0 395.1h.01M355.2 380.4h.01M352.7 390.4h.01M364.6 388.3h.01M352.5 399.7h.01M351.8 383.8h.01M353.6 393.5h.01M352.5 374.0h.01M348.1 395.3h.01M345.5 394.1h.01M352.7 381.0h.01M357.7 370.3h.01M355.5 385.1h.01M356.3 386.7h.01M352.4 383.2h.01M348.2 395.2h.01M357.4 376.8h.01M355.9 403.4h.01M357.3 379.8h.01M357.2 389.1h.01M348.8 395.0h.01M361.1 383.2h.01M352.3 384.2h.01M351.4 400.0h.01M347.9 391.8h.01M353.4 388.0h.01M342.4 392.3h.01M342.7 393.1h.01M350.6 388.4h.01M347.7 380.6h.01M343.2 387.4h.01M350.7 389.6h.01M349.1 393.4h.01M352.5 388.3h.01M349.4 387.2h.01M356.5 381.8h.01M341.8 390.4h.01M354.7 387.6h.01M353.2 377.0h.01M343.7 387.3h.01M351.1 377.5h.01M355.0 372.3h.01M361.1 379.0h.01M346.9 379.1h.01M340.7 384.8h.01M352.6 385.0h.01M351.1 375.9h.01M359.6 389.8h.01M337.2 400.7h.01M356.3 395.8h.01M359.3 397.6h.01M338.0 387.9h.01M345.2 402.5h.01M356.7 387.3h.01M349.3 370.7h.01M352.1 380.7h.01M362.0 393.1h.01M350.7 384.2h.01M360.0 383.1h.01M359.9 388.9h.01M349.0 390.2h.01M365.0 374.7h.01M357.2 393.1h.01M349.2 398.8h.01M356.6 391.6h.01M343.3 391.8h.01M341.1 391.3h.01M368.2 380.2h.01M363.6 378.7h.01M351.8 392.9h.01M339.9 389.9h.01M345.2 382.4h.01M357.9 386.6h.01M354.5 387.4h.01M354.3 399.5h.01M352.3 385.0h.01M351.5 392.9h.01M354.9 370.4h.01M350.7 390.7h.01M371.9 382.6h.01M349.1 378.1h.01M350.7 373.3h.01M344.6 386.6h.01M339.4 385.1h.01M345.9 397.2h.01M363.9 403.9h.01M352.4 392.6h.01M370.0 382.2h.01M364.7 380.1h.01M359.6 374.9h.01M348.1 385.7h.01M349.3 371.9h.01M352.3 385.0h.01M363.0 391.9h.01M359.7 386.5h.01M345.7 376.4h.01M348.3 379.8h.01M349.1 384.7h.01M361.4 379.5h.01M353.9 378.6h.01M353.4 395.4h.01M346.7 377.9h.01M351.5 387.4h.01M346.2 390.6h.01M351.8 392.6h.01M340.4 393.2h.01M361.3 380.8h.01M367.0 389.1h.01M340.9 378.8h.01M345.3 382.1h.01M349.4 389.6h.01M349.6 384.7h.01M343.6 371.0h.01M345.6 377.5h.01M358.2 368.1h.01M360.3 364.6h.01M349.7 387.3h.01M342.4 379.5h.01M358.2 378.7h.01M350.5 387.6h.01M356.4 377.2h.01M361.7 386.0h.01M359.3 376.0h.01M359.9 386.5h.01M357.4 382.2h.01M358.1 387.5h.01M345.9 390.9h.01M349.7 383.6h.01M348.3 394.5h.01M358.7 394.6h.01M338.3 393.7h.01M339.3 405.6h.01M354.3 396.3h.01M351.2 388.3h.01M345.6 403.1h.01M348.6 395.9h.01M344.8 386.1h.01M348.1 386.4h.01M347.2 392.3h.01M356.5 374.4h.01M347.7 376.8h.01M359.8 377.2h.01M355.0 388.4h.01M350.8 371.7h.01M364.8 386.1h.01M356.7 395.7h.01M343.3 379.3h.01M365.0 402.7h.01M344.7 386.6h.01M358.8 386.1h.01M361.8 392.1h.01M350.7 392.6h.01M347.5 397.3h.01M346.0 397.7h.01M371.3 373.3h.01M364.8 375.4h.01M350.7 401.9h.01M359.9 392.6h.01M354.3 388.7h.01M355.0 385.7h.01M349.0 377.4h.01M365.2 387.1h.01M366.5 393.2h.01M354.9 378.5h.01M349.2 387.6h.01M350.3 384.9h.01M349.3 383.4h.01M348.7 374.8h.01M344.4 399.1h.01M343.7 383.1h.01M344.7 386.0h.01M347.1 403.3h.01M343.0 398.1h.01M347.5 390.9h.01M371.6 387.2h.01M351.2 364.3h.01M348.6 385.5h.01M352.3 389.2h.01M342.5 379.8h.01M357.4 385.2h.01M351.6 392.6h.01M352.2 388.5h.01M342.7 387.3h.01M337.7 401.5h.01M345.2 400.8h.01M347.4 386.2h.01M361.8 389.0h.01M352.8 385.2h.01M349.3 381.4h.01M345.2 373.0h.01M350.1 381.1h.01M362.6 404.4h.01M366.6 377.8h.01M348.5 386.3h.01M339.1 399.9h.01M357.1 389.7h.01M366.9 391.3h.01M349.0 389.6h.01M347.7 391.2h.01M340.9 391.5h.01M349.0 384.0h.01M348.3 386.4h.01M337.4 392.2h.01M349.8 401.8h.01M351.3 395.0h.01M351.2 386.3h.01M341.6 383.7h.01M346.7 368.0h.01M349.1 381.7h.01M353.9 395.7h.01M349.0 397.0h.01M361.4 393.6h.01M348.8 388.3h.01M364.6 399.9h.01M360.6 373.6h.01M375.5 362.8h.01M386.3 361.7h.01M385.8 357.4h.01M385.4 358.0h.01M389.1 360.4h.01M380.3 356.2h.01M387.4 360.5h.01M384.8 359.1h.01M379.2 355.9h.01M385.6 353.4h.01M385.5 359.7h.01M386.1 360.4h.01M390.6 358.9h.01M380.8 353.7h.01M375.6 358.4h.01M386.9 353.8h.01M384.4 356.3h.01M382.8 358.7h.01M383.9 355.1h.01M386.5 357.8h.01M376.9 360.2h.01M389.4 357.2h.01M389.5 354.0h.01M382.8 361.6h.01M388.5 359.5h.01M387.6 357.1h.01M386.3 360.7h.01M387.2 359.2h.01M386.8 359.3h.01M385.9 354.1h.01M385.9 355.7h.01M382.4 358.3h.01M384.6 354.7h.01M381.8 358.8h.01M382.2 358.2h.01M384.6 358.7h.01M381.8 358.6h.01M385.8 354.8h.01M386.6 355.5h.01M385.1 359.8h.01M386.0 355.1h.01M380.4 355.1h.01M385.8 358.5h.01M377.2 360.1h.01M388.0 356.8h.01M383.4 358.8h.01M380.1 357.0h.01M385.7 357.3h.01M383.7 358.4h.01M389.9 358.8h.01M384.9 356.9h.01M388.2 358.3h.01M383.6 361.6h.01M388.6 355.7h.01M382.6 361.5h.01M382.0 362.3h.01M383.1 363.2h.01M380.2 353.1h.01M378.4 363.3h.01M381.1 357.0h.01M381.6 356.2h.01M384.3 358.5h.01M381.4 356.8h.01M388.5 360.6h.01M387.3 361.4h.01M383.0 360.4h.01M389.7 356.0h.01M388.6 351.7h.01M376.8 354.3h.01M380.1 355.6h.01M381.9 360.3h.01M381.0 357.2h.01M379.0 354.0h.01M383.0 356.2h.01M386.9 358.4h.01M377.1 360.0h.01M379.3 357.1h.01M379.9 356.0h.01M381.5 355.0h.01M381.0 357.4h.01M386.3 360.0h.01M390.1 353.9h.01M382.2 361.3h.01M379.6 357.7h.01M386.3 362.1h.01M385.7 359.0h.01M383.1 359.7h.01M384.0 359.0h.01M381.3 357.8h.01M380.5 355.3h.01M380.6 355.9h.01M381.2 356.6h.01M378.1 358.9h.01M384.8 362.1h.01M375.1 354.4h.01M380.1 355.8h.01M383.8 355.9h.01M380.8 360.0h.01M382.9 353.9h.01M387.0 363.9h.01M387.7 357.7h.01M388.5 357.9h.01M382.4 358.7h.01M388.3 358.4h.01M382.5 354.5h.01M384.3 355.3h.01M383.3 354.5h.01M380.5 355.6h.01M381.2 355.1h.01M388.0 360.1h.01M382.4 355.4h.01M387.5 357.4h.01M385.7 360.7h.01M382.1 359.2h.01M385.2 357.0h.01M383.0 356.5h.01M371.4 357.1h.01M389.5 360.7h.01M393.4 358.3h.01M386.8 356.5h.01M380.9 355.8h.01M385.2 360.1h.01M376.7 359.9h.01M386.9 360.1h.01M379.0 358.6h.01M384.8 354.6h.01M379.5 363.8h.01M381.2 356.8h.01M376.6 356.5h.01M388.5 359.1h.01M380.5 358.2h.01M384.9 359.6h.01M380.0 359.0h.01M381.2 356.8h.01M380.5 356.0h.01M385.3 353.5h.01M384.3 365.1h.01M380.4 357.3h.01M383.3 362.1h.01M378.5 359.5h.01M383.2 363.2h.01M382.8 363.2h.01M380.1 359.0h.01M379.6 356.5h.01M379.1 357.0h.01M389.1 356.7h.01M392.4 362.2h.01M384.7 358.1h.01M384.7 356.1h.01M385.7 358.3h.01M376.6 358.2h.01M385.6 358.2h.01M384.7 358.1h.01M381.8 360.8h.01M388.6 357.3h.01M386.4 355.2h.01M388.1 355.9h.01M383.7 360.5h.01M381.8 358.2h.01M387.2 356.6h.01M384.8 360.9h.01M384.5 356.0h.01M382.2 357.4h.01M383.6 359.7h.01M378.0 357.9h.01M384.3 361.9h.01M378.4 355.8h.01M386.7 357.9h.01M387.5 357.9h.01M381.3 357.9h.01M388.0 359.9h.01M384.3 358.4h.01M387.4 359.6h.01M384.4 359.9h.01M383.9 355.2h.01M386.8 361.1h.01M388.5 357.9h.01M379.3 359.1h.01M381.5 353.3h.01M384.1 356.1h.01M383.8 356.8h.01M386.5 360.2h.01M385.3 361.1h.01M381.7 364.1h.01M377.5 359.9h.01M387.2 357.0h.01M384.0 355.0h.01M382.0 358.8h.01M379.1 353.1h.01M382.3 355.9h.01M380.2 357.6h.01M378.7 360.8h.01M387.6 358.1h.01M381.5 357.9h.01M383.2 356.0h.01M381.3 359.1h.01M380.4 356.4h.01M382.0 355.5h.01M384.5 354.8h.01M386.8 359.9h.01M383.4 360.2h.01M387.4 357.0h.01M383.4 356.5h.01M382.3 357.1h.01M383.8 359.3h.01M391.3 358.9h.01M386.9 357.4h.01M389.3 358.3h.01M382.9 357.3h.01M383.6 357.0h.01M384.2 362.5h.01M383.8 356.1h.01M377.0 357.8h.01M380.0 356.1h.01M384.0 358.9h.01M385.2 360.9h.01M380.2 356.4h.01M380.5 355.5h.01M381.2 355.9h.01M385.9 355.3h.01M391.2 352.8h.01M386.4 354.1h.01M381.8 354.9h.01M383.5 359.2h.01M382.1 356.3h.01M380.0 355.9h.01M380.5 356.3h.01M383.7 360.2h.01M381.0 352.9h.01M382.2 360.0h.01M379.9 358.9h.01M379.4 354.8h.01M384.2 353.3h.01M382.0 351.1h.01M379.8 358.9h.01M381.7 356.2h.01M385.3 355.6h.01M379.4 356.9h.01M383.2 358.3h.01M382.8 360.9h.01M385.4 357.6h.01M391.4 354.0h.01M384.2 356.0h.01M390.9 358.6h.01M386.3 358.9h.01M388.5 356.5h.01M386.5 353.6h.01M385.4 360.8h.01M386.4 359.4h.01M376.9 358.1h.01M382.2 361.7h.01M385.3 359.6h.01M387.9 359.2h.01M378.6 355.9h.01M376.1 361.0h.01M382.7 354.7h.01M385.1 356.8h.01M382.3 361.2h.01M376.2 354.2h.01M383.0 357.3h.01M387.3 357.0h.01M385.2 362.2h.01M378.6 354.3h.01M380.9 357.4h.01M379.5 358.5h.01M380.7 360.7h.01M385.1 359.6h.01M384.1 358.4h.01M377.7 357.3h.01M377.1 361.2h.01M379.4 355.6h.01M381.8 363.4h.01M379.5 362.1h.01M383.8 364.4h.01M382.6 356.5h.01M383.3 356.5h.01M380.9 359.7h.01M381.8 360.1h.01M385.4 360.2h.01M388.8 360.6h.01M380.1 361.3h.01M374.7 361.1h.01M387.6 355.2h.01M387.8 353.2h.01M386.9 356.9h.01M382.4 357.5h.01M381.4 359.7h.01M383.2 357.8h.01M383.5 357.0h.01M379.8 359.4h.01M386.3 354.9h.01M386.7 361.1h.01M384.0 361.6h.01M375.8 361.4h.01M380.8 358.7h.01M380.2 364.1h.01M381.9 359.6h.01M378.3 357.2h.01M384.9 357.6h.01M380.7 361.7h.01M378.0 358.1h.01M382.8 357.0h.01M385.6 358.5h.01M382.7 359.6h.01M383.1 359.2h.01M387.8 358.5h.01M383.6 356.5h.01M388.3 360.3h.01M385.2 358.7h.01M380.5 358.1h.01M384.4 355.0h.01M380.1 357.6h.01M390.1 358.8h.01M378.3 361.1h.01M386.5 359.7h.01M381.5 357.6h.01M391.0 360.7h.01M399.4 353.3h.01M377.9 356.8h.01M380.2 356.2h.01M385.9 361.3h.01M378.4 359.4h.01M386.4 358.6h.01M388.1 360.9h.01M380.6 358.3h.01M384.4 354.9h.01M382.6 360.5h.01M384.8 358.0h.01M392.5 359.5h.01M386.8 355.7h.01M387.7 356.8h.01M382.8 356.9h.01M378.9 359.4h.01M379.1 360.0h.01M380.6 361.2h.01M384.6 360.9h.01M379.5 359.4h.01M386.0 358.7h.01M383.0 356.5h.01M372.0 359.2h.01M379.0 355.3h.01M384.7 351.2h.01M380.8 359.7h.01M383.5 357.4h.01M380.7 358.4h.01M378.0 356.5h.01M386.3 355.6h.01M383.0 357.0h.01M379.0 352.9h.01M380.4 356.0h.01M379.8 357.8h.01M384.5 359.6h.01M384.7 355.0h.01M388.3 358.9h.01M386.0 354.7h.01M387.3 363.8h.01M385.3 360.8h.01M381.4 358.4h.01M383.3 359.7h.01M384.0 358.7h.01M380.2 354.9h.01M383.4 364.4h.01M380.0 359.3h.01M388.2 356.3h.01M377.7 358.9h.01M383.3 355.8h.01M388.8 359.8h.01M383.4 354.5h.01M387.9 360.9h.01M386.4 362.1h.01M379.8 355.4h.01M386.6 359.1h.01M383.3 356.7h.01M387.1 358.6h.01M386.6 355.1h.01M383.7 359.1h.01M387.1 353.7h.01M382.8 356.3h.01M383.5 357.6h.01M385.0 360.0h.01M384.6 358.6h.01M388.2 365.9h.01M383.4 355.1h.01M393.4 363.5h.01M395.9 357.0h.01M380.7 358.2h.01M382.5 351.8h.01M388.0 351.6h.01M366.6 358.8h.01M376.7 360.3h.01M376.1 352.3h.01M370.8 352.8h.01M381.3 369.5h.01M387.0 355.8h.01M391.0 360.2h.01M371.9 350.3h.01M374.0 356.1h.01M383.2 356.0h.01M379.8 354.3h.01M384.0 362.9h.01M376.6 365.2h.01M378.0 357.6h.01M392.9 362.0h.01M383.3 349.5h.01M383.5 357.2h.01M381.7 364.5h.01M379.7 367.9h.01M383.3 359.8h.01M381.2 359.5h.01M391.1 360.2h.01M377.1 355.2h.01M390.0 361.7h.01M377.9 358.4h.01M383.6 361.9h.01M377.3 359.5h.01M375.3 355.2h.01M381.7 365.7h.01M382.5 367.3h.01M385.3 365.4h.01M382.1 350.1h.01M370.0 356.9h.01M393.6 358.2h.01M380.0 362.1h.01M380.8 357.1h.01M384.2 361.0h.01M379.5 355.0h.01M392.6 354.7h.01M377.6 358.1h.01M382.2 360.5h.01M392.3 365.5h.01M382.8 359.6h.01M388.8 358.4h.01M384.0 353.6h.01M385.4 358.6h.01M374.5 360.2h.01M396.2 360.7h.01M378.2 365.4h.01M385.1 360.0h.01M392.1 363.6h.01M395.5 355.0h.01M380.4 358.6h.01M384.2 353.1h.01M384.7 352.1h.01M379.6 357.8h.01M384.5 360.6h.01M378.5 360.7h.01M384.8 358.6h.01M383.2 356.5h.01M393.8 365.8h.01M384.5 365.6h.01M377.8 356.4h.01M381.1 361.2h.01M381.1 354.5h.01M374.1 353.5h.01M388.6 361.4h.01M374.6 368.3h.01M380.1 356.7h.01M382.0 359.2h.01M380.7 358.8h.01M387.6 363.5h.01M379.0 358.2h.01M378.5 356.8h.01M382.4 357.4h.01M386.6 354.4h.01M385.3 362.7h.01M381.1 357.4h.01M386.6 357.1h.01M381.0 360.0h.01M368.3 362.5h.01M384.5 361.9h.01M374.8 356.9h.01M385.6 361.8h.01M379.5 356.7h.01M392.1 360.3h.01M390.4 352.3h.01M385.5 356.3h.01M380.0 365.3h.01M376.7 354.3h.01M378.9 357.8h.01M383.2 361.1h.01M390.4 361.3h.01M393.5 364.3h.01M386.3 358.3h.01M391.2 357.5h.01M388.9 359.2h.01M379.7 362.3h.01M387.1 360.5h.01M389.5 359.6h.01M378.7 359.4h.01M394.1 354.2h.01M372.2 359.0h.01M376.9 365.7h.01M384.0 354.4h.01M382.7 354.4h.01M385.9 363.6h.01M390.2 364.2h.01M382.9 364.9h.01M385.9 352.7h.01M391.1 354.6h.01M379.5 351.3h.01M378.1 348.6h.01M375.7 354.9h.01M375.9 357.1h.01M387.7 357.5h.01M385.6 364.5h.01M379.4 366.3h.01M382.7 358.8h.01M385.1 365.7h.01M375.8 363.6h.01M380.1 359.5h.01M377.0 346.5h.01M390.0 362.8h.01M376.7 354.5h.01M375.9 358.8h.01M395.1 358.3h.01M372.9 362.7h.01M377.6 351.1h.01M385.3 359.0h.01M384.0 362.5h.01M388.7 348.7h.01M384.0 364.7h.01M390.4 353.9h.01M372.2 353.5h.01M385.3 358.0h.01M387.9 358.1h.01M375.4 353.5h.01M381.6 363.1h.01M391.8 354.0h.01M385.6 358.7h.01M376.1 353.2h.01M392.3 356.8h.01M382.5 361.3h.01M385.2 362.4h.01M378.2 357.1h.01M384.5 360.7h.01M378.7 350.6h.01M388.1 363.2h.01M388.6 358.4h.01M372.3 357.0h.01M395.1 360.5h.01M384.5 350.9h.01M379.1 363.9h.01M385.0 358.4h.01M390.5 362.5h.01M386.3 358.2h.01M385.5 364.1h.01M384.9 352.8h.01M381.9 357.6h.01M385.5 365.3h.01M382.6 356.8h.01M387.4 361.3h.01M378.4 361.3h.01M384.1 360.7h.01M373.9 349.2h.01M374.0 350.6h.01M388.8 363.9h.01M375.3 366.3h.01M376.3 355.0h.01M395.9 352.6h.01M387.2 363.1h.01M389.6 362.3h.01M384.5 366.6h.01M382.5 359.5h.01M385.4 357.3h.01M382.2 365.0h.01M392.7 362.0h.01M382.4 356.6h.01M380.7 357.2h.01M380.4 358.6h.01M381.7 364.4h.01M374.6 357.0h.01M387.9 357.0h.01M380.6 361.8h.01M382.6 354.2h.01M383.9 362.2h.01M373.0 363.6h.01M372.8 362.5h.01M375.2 360.2h.01M382.8 364.1h.01M382.6 356.9h.01M378.6 360.1h.01M381.6 363.4h.01M385.5 365.2h.01M387.3 359.9h.01M382.7 362.1h.01M387.6 352.4h.01M385.4 357.3h.01M385.0 363.0h.01M371.6 358.5h.01M389.0 350.5h.01M384.4 359.1h.01M379.7 363.5h.01M388.6 359.2h.01M391.5 366.3h.01M384.3 363.2h.01M388.3 367.6h.01M387.9 362.5h.01M383.8 362.7h.01M392.5 358.7h.01M382.5 354.3h.01M398.4 357.2h.01M380.2 356.3h.01M390.2 360.9h.01M371.1 359.8h.01M394.1 358.9h.01M383.9 373.4h.01M381.7 358.1h.01M387.0 371.2h.01M385.8 351.1h.01M382.3 358.1h.01M387.7 357.4h.01M384.0 352.8h.01M375.7 359.5h.01M392.9 354.4h.01M373.8 365.0h.01M385.5 363.1h.01M382.2 360.4h.01M382.7 359.2h.01M393.9 357.2h.01M380.9 359.2h.01M382.2 367.6h.01M382.3 361.1h.01M375.9 361.9h.01M387.1 362.5h.01M373.7 356.1h.01M367.6 367.5h.01M382.6 367.3h.01M394.7 364.3h.01M379.4 358.1h.01M387.9 349.5h.01M391.5 366.5h.01M388.4 357.8h.01M385.4 351.3h.01M377.6 357.0h.01M378.7 367.5h.01M385.9 347.2h.01M390.1 361.7h.01M381.8 355.6h.01M395.6 360.4h.01M384.8 351.2h.01M382.3 389.1h.01M385.8 380.3h.01M383.7 373.0h.01M373.0 386.7h.01M378.0 373.1h.01M386.8 389.3h.01M383.5 390.4h.01M385.4 363.0h.01M393.3 376.2h.01M393.0 381.4h.01M384.8 380.2h.01M380.2 387.1h.01M393.5 391.6h.01M382.4 386.5h.01M390.4 387.0h.01M378.7 396.5h.01M381.5 377.9h.01M385.9 384.7h.01M382.4 374.7h.01M379.1 383.2h.01M375.8 390.5h.01M388.4 384.6h.01M386.2 377.6h.01M382.4 389.0h.01M382.6 393.5h.01M390.3 387.7h.01M384.0 377.2h.01M384.4 377.0h.01M383.3 380.9h.01M382.4 390.6h.01M380.7 378.3h.01M391.1 384.9h.01M387.6 379.1h.01M386.8 391.7h.01M385.3 386.0h.01M391.3 387.1h.01M391.3 375.5h.01M376.4 375.9h.01M387.3 378.8h.01M375.1 394.9h.01M391.7 379.7h.01M381.9 378.7h.01M388.8 386.1h.01M385.8 392.1h.01M381.1 375.4h.01M385.2 382.9h.01M385.6 385.9h.01M377.4 393.5h.01M376.2 385.3h.01M386.9 388.6h.01M386.3 377.8h.01M384.2 374.3h.01M384.3 381.7h.01M375.8 397.5h.01M382.1 386.7h.01M391.7 383.0h.01M383.1 375.9h.01M381.4 378.5h.01M384.4 388.3h.01M386.1 392.9h.01M387.1 384.7h.01M369.9 382.1h.01M386.5 373.5h.01M384.8 378.6h.01M384.1 382.9h.01M383.7 382.8h.01M386.9 385.2h.01M381.8 389.1h.01M385.4 385.6h.01M393.8 394.0h.01M396.0 381.6h.01M387.2 386.3h.01M385.6 382.2h.01M389.3 390.6h.01M396.1 379.7h.01M387.4 378.3h.01M383.8 367.8h.01M395.7 372.8h.01M385.7 371.6h.01M383.4 376.5h.01M374.7 376.4h.01M384.0 382.4h.01M375.4 387.3h.01M383.5 375.8h.01M392.7 378.6h.01M386.3 393.0h.01M385.4 382.5h.01M389.9 380.3h.01M385.5 382.2h.01M383.2 388.0h.01M386.5 392.3h.01M387.1 374.0h.01M387.1 381.3h.01M383.8 389.4h.01M387.2 372.7h.01M395.1 382.2h.01M376.9 381.0h.01M387.5 375.8h.01M380.8 371.5h.01M386.4 379.7h.01M392.7 384.9h.01M386.3 379.1h.01M390.0 374.2h.01M386.5 386.2h.01M381.2 375.4h.01M390.9 395.0h.01M387.0 395.0h.01M387.4 381.9h.01M383.1 375.2h.01M389.7 379.4h.01M381.9 385.5h.01M387.5 378.3h.01M386.1 382.1h.01M385.8 382.2h.01M383.0 367.3h.01M382.1 390.8h.01M383.4 384.2h.01M388.1 376.6h.01M385.4 381.3h.01M386.9 387.0h.01M385.4 381.7h.01M389.8 383.9h.01M377.7 391.2h.01M387.3 379.3h.01M384.8 376.9h.01M385.8 373.5h.01M390.1 386.1h.01M380.1 386.3h.01M377.8 379.6h.01M380.1 387.5h.01M388.5 374.3h.01M386.0 386.3h.01M383.3 398.8h.01M377.2 391.7h.01M392.6 380.8h.01M379.4 390.9h.01M372.7 382.8h.01M377.9 382.9h.01M382.2 374.6h.01M387.8 390.6h.01M378.2 387.3h.01M385.5 378.6h.01M382.4 386.7h.01M390.6 381.2h.01M372.7 388.2h.01M387.0 370.4h.01M382.4 382.9h.01M383.5 385.0h.01M380.6 387.2h.01M371.3 385.3h.01M382.1 382.2h.01M388.3 391.8h.01M379.9 382.3h.01M379.9 383.3h.01M382.1 375.2h.01M390.6 385.3h.01M385.0 391.6h.01M376.8 385.5h.01M393.0 380.6h.01M380.6 377.8h.01M391.1 389.9h.01M386.6 389.0h.01M381.6 380.4h.01M389.1 376.8h.01M386.0 382.8h.01M380.7 384.3h.01M378.6 378.7h.01M375.0 374.7h.01M380.5 385.3h.01M385.0 374.7h.01M383.7 397.6h.01M385.3 385.5h.01M374.3 379.6h.01M390.6 373.5h.01M380.4 378.0h.01M384.2 386.8h.01M376.1 387.3h.01M371.7 376.9h.01M386.9 375.3h.01M380.6 379.3h.01M392.9 376.2h.01M389.7 395.6h.01M382.9 377.5h.01M384.8 376.2h.01M382.9 375.8h.01M377.3 372.3h.01M389.4 378.3h.01M379.0 389.7h.01M383.9 380.5h.01M381.0 382.7h.01M383.2 379.8h.01M383.9 387.7h.01M383.8 391.2h.01M389.7 376.0h.01M379.9 374.2h.01M380.9 387.4h.01M383.0 379.4h.01M385.2 368.4h.01M386.3 381.4h.01M388.1 380.7h.01M389.7 389.6h.01M383.2 386.4h.01M380.2 377.9h.01M379.2 381.2h.01M378.6 375.5h.01M383.6 373.0h.01M387.6 376.5h.01M383.4 380.6h.01M389.8 386.5h.01M383.5 378.7h.01M389.0 381.6h.01M379.4 383.4h.01M387.8 382.3h.01M384.9 392.2h.01M382.0 387.5h.01M392.6 393.7h.01M378.9 386.0h.01M385.3 398.2h.01M391.1 389.2h.01M390.6 386.2h.01M379.4 397.2h.01M376.1 387.6h.01M388.6 383.9h.01M389.8 382.5h.01M388.8 384.2h.01M381.0 389.0h.01M381.9 386.8h.01M379.4 384.2h.01M387.5 390.2h.01M379.2 379.1h.01M384.7 375.9h.01M387.8 398.1h.01M388.1 386.7h.01M380.5 386.3h.01M387.4 395.5h.01M383.0 390.7h.01M383.0 380.8h.01M382.6 384.5h.01M377.2 380.2h.01M392.2 370.8h.01M389.2 387.7h.01M382.6 377.6h.01M390.5 380.4h.01M386.3 381.2h.01M379.1 389.5h.01M388.1 376.5h.01M390.3 374.5h.01M378.3 388.3h.01M382.6 382.7h.01M392.8 375.6h.01M387.9 380.0h.01M385.2 381.2h.01M380.8 383.0h.01M380.1 382.8h.01M379.9 380.9h.01M385.4 373.5h.01M384.4 387.3h.01M385.3 388.8h.01M379.7 386.5h.01M386.3 364.6h.01M384.7 388.4h.01M384.4 382.9h.01M384.1 381.6h.01M379.5 378.2h.01M373.7 396.3h.01M384.6 384.1h.01M387.9 386.0h.01M384.4 372.4h.01M378.7 393.7h.01M386.9 387.0h.01M379.4 379.5h.01M386.1 377.6h.01M390.8 377.7h.01M382.6 375.1h.01M386.5 391.1h.01M385.8 382.6h.01M382.9 387.9h.01M384.7 394.2h.01M383.4 380.2h.01M382.1 370.2h.01M385.9 383.5h.01M376.7 375.0h.01M379.4 380.6h.01M379.6 387.7h.01M390.7 378.4h.01M384.9 375.7h.01M391.4 375.6h.01M380.8 382.7h.01M380.7 400.2h.01M383.8 381.1h.01M379.8 382.1h.01M381.7 379.9h.01M389.7 378.8h.01M386.8 378.6h.01M389.8 377.7h.01M379.9 381.0h.01M391.0 380.0h.01M380.4 381.7h.01M381.2 384.4h.01M381.3 384.7h.01M389.2 385.9h.01M392.3 384.6h.01M394.0 390.9h.01M383.4 387.7h.01M381.0 381.3h.01M384.3 377.5h.01M386.3 382.1h.01M394.7 387.7h.01M383.5 378.3h.01M382.1 378.2h.01M381.0 382.7h.01M378.0 380.7h.01M387.2 378.9h.01M379.1 379.4h.01M389.0 377.7h.01M392.5 371.9h.01M380.7 386.6h.01M391.5 381.3h.01M376.5 380.8h.01M380.2 378.2h.01M358.6 355.8h.01M361.2 357.7h.01M359.3 352.7h.01M360.1 350.6h.01M362.1 356.3h.01M354.2 362.8h.01M374.8 360.8h.01M363.3 356.1h.01M365.3 361.6h.01M360.9 357.0h.01M356.9 357.2h.01M368.2 355.0h.01M370.0 357.7h.01M379.4 357.9h.01M371.7 354.8h.01M380.9 357.6h.01M361.0 361.3h.01M362.9 354.2h.01M366.5 358.8h.01M361.5 356.2h.01M348.8 361.7h.01M358.1 358.3h.01M357.6 355.5h.01M363.9 355.1h.01M369.1 353.2h.01M366.4 360.4h.01M358.1 357.9h.01M368.2 356.3h.01M359.8 356.9h.01M383.4 355.3h.01M360.3 356.2h.01M357.3 355.0h.01M356.5 357.8h.01M370.9 361.6h.01M351.5 354.9h.01M361.4 354.9h.01M355.5 356.8h.01M357.2 355.2h.01M363.4 355.4h.01M359.6 358.2h.01M367.4 357.9h.01M370.4 357.8h.01M350.0 361.2h.01M384.4 359.5h.01M374.5 360.3h.01M358.2 359.0h.01M356.2 355.9h.01M366.2 357.6h.01M356.5 353.8h.01M368.1 357.4h.01M362.9 355.1h.01M355.6 357.3h.01M346.9 360.5h.01M361.9 360.2h.01M369.4 355.9h.01M365.8 354.5h.01M354.5 360.9h.01M357.5 355.4h.01M365.5 357.5h.01M369.5 354.1h.01M359.7 354.6h.01M362.0 356.7h.01M354.3 352.9h.01M351.0 359.8h.01M358.8 354.6h.01M363.2 354.5h.01M369.1 359.7h.01M362.1 355.9h.01M347.3 358.7h.01M377.9 357.9h.01M357.5 359.5h.01M358.7 354.3h.01M360.9 359.0h.01M347.2 360.1h.01M374.7 357.4h.01M357.9 353.8h.01M366.1 356.7h.01M371.5 361.5h.01M371.7 357.9h.01M347.3 360.8h.01M358.0 356.2h.01M370.3 358.7h.01M353.5 356.6h.01M359.5 357.0h.01M352.4 361.3h.01M360.7 359.1h.01M370.2 363.0h.01M367.6 355.6h.01M358.3 359.7h.01M374.9 353.7h.01M377.1 356.0h.01M360.3 356.3h.01M366.5 356.9h.01M361.5 355.1h.01M373.4 358.4h.01M361.5 362.9h.01M367.0 361.0h.01M359.7 357.8h.01M360.6 359.7h.01M364.1 353.1h.01M366.4 356.9h.01M363.9 359.9h.01M359.7 359.1h.01M362.0 357.2h.01M357.8 357.2h.01M359.4 359.5h.01M343.6 358.9h.01M361.3 354.8h.01M368.1 357.4h.01M366.3 360.9h.01M376.0 351.3h.01M340.0 378.7h.01M369.8 347.7h.01M362.1 399.8h.01M348.5 371.6h.01M393.5 350.9h.01M385.0 405.6h.01M351.9 377.0h.01M404.7 406.2h.01M404.0 378.0h.01M364.5 376.8h.01M364.3 394.5h.01M388.6 389.0h.01M358.2 393.8h.01M381.7 384.0h.01M396.3 373.1h.01M374.4 399.5h.01M357.0 395.7h.01M386.6 406.7h.01M397.7 369.6h.01M348.4 374.9h.01M365.1 364.0h.01M391.5 389.1h.01M384.2 355.4h.01M395.1 386.3h.01M379.4 393.7h.01M375.3 404.7h.01M361.9 343.7h.01M365.0 379.8h.01M380.2 381.8h.01M380.6 388.1h.01M368.7 389.8h.01M383.2 366.3h.01M337.2 384.1h.01M382.0 399.2h.01M394.3 385.3h.01M395.3 369.9h.01M362.9 404.1h.01M348.5 379.7h.01M351.4 358.6h.01M357.3 350.6h.01M376.6 391.2h.01M383.8 363.9h.01M404.8 383.8h.01M382.6 390.7h.01M383.4 374.5h.01M379.3 367.4h.01M377.3 363.0h.01M343.9 369.6h.01M369.3 368.0h.01M366.3 370.5h.01M373.1 411.2h.01M383.9 395.2h.01M391.9 395.6h.01M380.5 395.2h.01M393.5 377.4h.01M366.9 380.0h.01M371.2 388.5h.01M363.6 372.9h.01M376.9 389.0h.01M370.3 353.9h.01M367.5 395.1h.01M367.9 402.4h.01M362.3 375.9h.01M388.0 400.7h.01M366.5 406.2h.01M376.1 387.3h.01M368.1 379.2h.01M354.5 400.0h.01M396.4 380.7h.01M360.5 374.7h.01M397.1 378.2h.01M394.8 402.1h.01M401.8 384.8h.01M386.5 357.9h.01M379.2 380.9h.01M390.7 349.5h.01M375.7 372.1h.01M374.5 378.0h.01M365.8 391.0h.01M377.8 400.5h.01M379.5 406.4h.01M345.4 412.3h.01M350.3 372.2h.01M373.7 356.9h.01M360.2 383.4h.01M380.6 355.9h.01M339.9 386.6h.01M381.8 394.6h.01M361.5 369.8h.01M352.5 357.3h.01M367.4 410.7h.01M386.2 364.7h.01M345.3 369.5h.01M372.0 385.5h.01M382.1 400.0h.01M346.3 353.2h.01M370.6 390.8h.01M361.5 385.2h.01M370.7 400.8h.01M368.2 372.2h.01M382.4 398.0h.01M359.7 378.5h.01M358.2 360.4h.01M366.0 374.4h.01M356.2 378.0h.01M370.6 387.0h.01M361.4 355.5h.01M369.8 392.9h.01M397.3 378.9h.01M367.1 367.2h.01M401.8 369.8h.01M362.3 379.5h.01M367.9 381.6h.01M380.7 410.4h.01M382.4 387.9h.01M382.6 396.0h.01M366.0 378.9h.01M365.0 377.4h.01M364.5 394.4h.01M393.5 379.6h.01M366.6 395.3h.01M368.3 390.2h.01M359.6 405.3h.01M363.3 390.4h.01M406.2 387.6h.01M367.3 393.6h.01M364.8 377.9h.01M389.5 353.8h.01M388.4 381.6h.01M383.6 362.4h.01M375.0 391.0h.01" stroke="#000" stroke-width="1" fill="none" stroke-linecap="round" stroke-opacity="0.17"/>
<rect x="336.4" y="341.6" width="70.5" height="71" fill="none" stroke="#555" stroke-width="0.8" />
<line x1="371.8" y1="341.6" x2="371.8" y2="412.6" stroke="#555" stroke-width="0.9" />
<line x1="336.4" y1="372.2" x2="406.9" y2="372.2" stroke="#555" stroke-width="0.9" />
<text x="337.8" y="348.8" font-size="4.7" font-weight="bold" fill="#222">Q1</text>
<text x="337.8" y="354.4" font-size="4.7" font-weight="bold" fill="#222">2.65 %</text>
<text x="401.6" y="348.8" font-size="4.7" font-weight="bold" text-anchor="end" fill="#222">Q2</text>
<text x="406.3" y="354.4" font-size="4.7" font-weight="bold" text-anchor="end" fill="#222">22.8 %</text>
<text x="401.6" y="400.6" font-size="4.7" font-weight="bold" text-anchor="end" fill="#222">Q3</text>
<text x="406.3" y="406.6" font-size="4.7" font-weight="bold" text-anchor="end" fill="#222">12.6 %</text>
<text x="337.8" y="400.6" font-size="4.7" font-weight="bold" fill="#222">Q4</text>
<text x="337.8" y="406.6" font-size="4.7" font-weight="bold" fill="#222">61.9 %</text>
<text x="332.2" y="349.4" font-size="4.6" font-weight="bold" text-anchor="end" fill="#333">10<tspan font-size="70%" dy="-2">5</tspan></text>
<line x1="334.6" y1="347.6" x2="336.4" y2="347.6" stroke="#444" stroke-width="0.6" />
<text x="332.2" y="366.6" font-size="4.6" font-weight="bold" text-anchor="end" fill="#333">10<tspan font-size="70%" dy="-2">4</tspan></text>
<line x1="334.6" y1="364.8" x2="336.4" y2="364.8" stroke="#444" stroke-width="0.6" />
<text x="332.2" y="383.4" font-size="4.6" font-weight="bold" text-anchor="end" fill="#333">10<tspan font-size="70%" dy="-2">3</tspan></text>
<line x1="334.6" y1="381.6" x2="336.4" y2="381.6" stroke="#444" stroke-width="0.6" />
<text x="332.8" y="404.4" font-size="4.6" font-weight="bold" text-anchor="end" fill="#333">0</text>
<line x1="334.6" y1="402.6" x2="336.4" y2="402.6" stroke="#444" stroke-width="0.6" />
<path d="M335.4 398.6V406.6" stroke="#444" stroke-width="0.6" fill="none" />
<text x="346.9" y="420.6" font-size="4.6" font-weight="bold" text-anchor="middle" fill="#333">0</text>
<line x1="346.9" y1="412.6" x2="346.9" y2="414.4" stroke="#444" stroke-width="0.6" />
<text x="368.7" y="420.6" font-size="4.6" font-weight="bold" text-anchor="middle" fill="#333">10<tspan font-size="70%" dy="-2">3</tspan></text>
<line x1="368.7" y1="412.6" x2="368.7" y2="414.4" stroke="#444" stroke-width="0.6" />
<text x="386.1" y="420.6" font-size="4.6" font-weight="bold" text-anchor="middle" fill="#333">10<tspan font-size="70%" dy="-2">4</tspan></text>
<line x1="386.1" y1="412.6" x2="386.1" y2="414.4" stroke="#444" stroke-width="0.6" />
<text x="403.2" y="420.6" font-size="4.6" font-weight="bold" text-anchor="middle" fill="#333">10<tspan font-size="70%" dy="-2">5</tspan></text>
<line x1="403.2" y1="412.6" x2="403.2" y2="414.4" stroke="#444" stroke-width="0.6" />
<path d="M341.4 413.6H352.4" stroke="#444" stroke-width="0.8" fill="none" stroke-dasharray="0.6 0.5"/>
<text x="371.65" y="427.4" font-size="4.6" font-weight="bold" text-anchor="middle" fill="#333">Comp-APC-A :: Annexin V</text>
<text x="319.2" y="376.1" font-size="4.5" font-weight="bold" text-anchor="middle" fill="#333" transform="rotate(-90 319.2 376.1)">Comp-PE-A :: PI</text>
<text x="482.25" y="327.9" font-size="7.1" font-weight="bold" text-anchor="middle" fill="#222">DLL3/CD3 ITE</text>
<text x="482.25" y="336.2" font-size="7.1" font-weight="bold" text-anchor="middle" fill="#222">300 ng/mL</text>
<path d="M486.0 359.3h.01M491.3 357.7h.01M497.0 359.0h.01M491.3 362.9h.01M490.3 355.9h.01M486.3 357.6h.01M495.6 360.8h.01M497.8 363.1h.01M500.5 360.3h.01M498.9 360.4h.01M490.2 360.8h.01M493.1 358.4h.01M502.1 360.7h.01M490.6 358.7h.01M503.7 358.4h.01M496.3 360.4h.01M495.2 360.3h.01M490.6 357.9h.01M492.1 358.1h.01M496.6 362.5h.01M488.7 360.2h.01M488.3 357.3h.01M491.7 359.2h.01M490.8 352.8h.01M499.3 358.3h.01M489.9 360.5h.01M490.1 355.6h.01M495.1 359.9h.01M489.0 360.9h.01M494.6 356.3h.01M501.0 359.6h.01M487.6 360.0h.01M493.4 361.2h.01M486.6 361.4h.01M497.2 360.5h.01M495.7 362.0h.01M496.2 359.2h.01M488.9 361.5h.01M497.4 359.6h.01M493.6 360.6h.01M481.1 359.7h.01M481.2 359.5h.01M497.8 363.3h.01M490.6 359.9h.01M492.5 353.7h.01M496.2 358.9h.01M493.1 356.7h.01M492.6 359.1h.01M498.8 359.6h.01M509.1 358.0h.01M491.6 358.8h.01M489.0 362.4h.01M495.8 355.9h.01M493.3 361.6h.01M486.2 359.3h.01M491.7 364.4h.01M494.8 358.0h.01M490.2 363.3h.01M490.6 364.2h.01M485.5 358.5h.01M491.7 357.3h.01M491.8 360.5h.01M489.7 355.6h.01M499.1 362.3h.01M489.6 359.6h.01M480.8 361.3h.01M486.6 357.6h.01M502.9 356.0h.01M492.9 356.4h.01M484.2 356.2h.01M494.1 355.9h.01M490.1 360.6h.01M492.1 355.9h.01M499.8 359.2h.01M499.4 356.5h.01M500.7 355.8h.01M484.7 357.9h.01M491.1 359.5h.01M490.2 360.4h.01M499.0 357.4h.01M486.4 358.0h.01M496.6 360.8h.01M491.2 356.6h.01M492.7 361.2h.01M489.5 361.9h.01M493.9 359.6h.01M489.9 362.1h.01M493.0 355.4h.01M496.6 357.9h.01M497.8 359.3h.01M489.9 359.3h.01M490.5 357.0h.01M492.9 360.8h.01M493.1 358.7h.01M490.2 360.2h.01M494.1 361.1h.01M494.5 363.9h.01M485.5 358.8h.01M495.3 361.0h.01M485.7 356.1h.01M492.6 361.4h.01M497.9 355.4h.01M493.4 361.6h.01M492.9 356.5h.01M489.5 355.8h.01M498.4 358.3h.01M490.8 356.9h.01M492.1 356.8h.01M488.2 358.8h.01M491.7 360.0h.01M493.5 361.6h.01M492.6 359.5h.01M493.8 357.0h.01M498.3 357.6h.01M485.4 361.8h.01M495.8 357.6h.01M497.2 361.1h.01M496.1 356.2h.01M493.6 356.5h.01M489.9 357.6h.01M488.9 360.0h.01M489.1 360.3h.01M493.6 357.5h.01M493.6 360.5h.01M498.1 358.3h.01M500.9 360.2h.01M498.6 355.8h.01M487.9 361.7h.01M491.7 360.0h.01M498.4 355.5h.01M494.9 363.4h.01M496.5 359.1h.01M495.4 358.9h.01M496.4 361.9h.01M491.7 360.2h.01M494.2 360.6h.01M496.7 356.4h.01M498.2 360.9h.01M487.7 358.2h.01M486.0 358.2h.01M494.3 356.2h.01M489.2 356.9h.01M489.6 357.1h.01M487.8 360.2h.01M491.8 357.0h.01M497.4 357.6h.01M496.9 356.0h.01M499.3 357.9h.01M488.4 359.8h.01M486.6 356.4h.01M493.9 357.8h.01M494.6 359.2h.01M494.0 359.2h.01M496.1 358.9h.01M497.9 361.1h.01M483.7 354.8h.01M500.0 357.9h.01M493.6 358.6h.01M494.1 364.0h.01M489.5 359.0h.01M492.8 356.4h.01M488.7 358.3h.01M492.7 359.8h.01M483.7 355.3h.01M500.4 358.5h.01M496.6 357.9h.01M489.5 363.8h.01M487.1 356.8h.01M495.9 358.9h.01M485.2 359.2h.01M496.1 355.4h.01M490.2 360.7h.01M501.6 353.5h.01M489.6 358.9h.01M488.6 356.8h.01M490.5 360.1h.01M487.8 360.9h.01M496.6 360.9h.01M499.9 357.7h.01M492.5 361.2h.01M498.6 361.1h.01M490.7 357.8h.01M486.7 357.9h.01M488.6 357.8h.01M491.0 360.8h.01M496.7 358.8h.01M487.5 358.8h.01M494.8 360.9h.01M493.7 360.7h.01M489.7 360.4h.01M496.2 358.1h.01M489.3 361.7h.01M488.2 360.5h.01M491.5 358.1h.01M491.6 357.9h.01M492.6 363.0h.01M499.5 358.6h.01M494.9 361.0h.01M490.8 363.1h.01M492.9 360.3h.01M488.4 356.3h.01M488.2 357.4h.01M497.5 358.2h.01M496.8 357.9h.01M488.4 359.3h.01M490.9 355.1h.01M493.0 361.6h.01M491.8 356.1h.01M489.3 356.1h.01M491.6 356.7h.01M492.2 359.3h.01M498.9 356.2h.01M483.3 362.6h.01M494.8 358.0h.01M495.1 356.7h.01M491.2 360.4h.01M491.3 359.2h.01M494.8 359.2h.01M491.6 360.1h.01M498.9 361.8h.01M488.7 360.6h.01M484.0 355.6h.01M494.6 360.1h.01M499.0 354.9h.01M497.7 357.6h.01M490.6 359.9h.01M499.2 356.7h.01M484.9 357.5h.01M492.2 361.6h.01M494.4 358.2h.01M490.4 357.8h.01M497.2 355.1h.01M489.6 356.9h.01M497.9 359.2h.01M489.7 360.6h.01M501.7 361.2h.01M486.7 358.4h.01M498.0 354.7h.01M487.1 357.9h.01M495.1 357.0h.01M493.4 358.5h.01M494.2 356.1h.01M482.5 353.9h.01M493.5 361.1h.01M494.9 355.2h.01M484.7 358.2h.01M488.5 354.6h.01M490.0 357.0h.01M492.2 359.7h.01M493.6 359.3h.01M495.1 358.6h.01M490.6 358.1h.01M498.1 358.2h.01M496.4 362.7h.01M500.7 353.9h.01M493.4 361.1h.01M490.6 357.2h.01M486.1 357.3h.01M492.7 354.5h.01M492.6 356.9h.01M492.8 356.3h.01M493.1 359.2h.01M489.5 357.3h.01M497.0 360.3h.01M489.1 359.8h.01M487.4 357.6h.01M479.2 357.5h.01M495.8 357.7h.01M495.4 357.4h.01M494.1 358.5h.01M488.2 363.7h.01M488.8 355.7h.01M493.3 359.9h.01M494.2 358.6h.01M494.8 361.0h.01M495.5 355.7h.01M500.6 358.8h.01M483.2 360.7h.01M492.0 359.5h.01M501.8 357.6h.01M489.8 356.6h.01M493.5 360.4h.01M494.5 359.2h.01M482.9 359.4h.01M497.6 357.7h.01M490.2 356.5h.01M493.8 355.2h.01M501.5 358.4h.01M489.9 356.0h.01M495.1 361.1h.01M490.1 359.2h.01M494.0 361.1h.01M495.5 361.7h.01M486.2 364.8h.01M490.4 356.3h.01M488.4 359.7h.01M496.2 364.4h.01M498.3 357.1h.01M491.1 357.8h.01M489.9 358.4h.01M489.8 361.5h.01M494.2 360.3h.01M492.0 356.2h.01M494.7 357.9h.01M501.8 361.7h.01M487.1 356.6h.01M490.2 358.3h.01M497.9 358.4h.01M494.8 358.1h.01M491.7 361.7h.01M492.7 363.4h.01M492.5 359.7h.01M494.5 360.4h.01M501.5 357.3h.01M490.3 356.7h.01M501.0 359.9h.01M494.8 359.9h.01M484.2 360.6h.01M493.3 359.6h.01M493.1 358.6h.01M492.3 357.5h.01M491.6 360.3h.01M483.0 360.7h.01M495.7 356.4h.01M495.0 359.5h.01M490.3 362.7h.01M493.5 358.5h.01M486.7 363.8h.01M493.7 359.6h.01M491.6 363.6h.01M492.0 362.5h.01M497.5 361.1h.01M495.6 361.5h.01M492.2 354.1h.01M480.3 361.4h.01M483.3 361.9h.01M506.9 354.5h.01M495.5 359.9h.01M489.4 354.3h.01M492.3 362.7h.01M492.2 358.8h.01M493.1 358.9h.01M494.0 364.1h.01M488.7 354.7h.01M496.6 357.6h.01M490.4 355.6h.01M491.9 357.9h.01M494.7 357.9h.01M486.0 360.0h.01M492.3 354.5h.01M491.1 360.6h.01M492.4 358.1h.01M495.4 357.4h.01M489.5 360.0h.01M492.0 357.4h.01M493.7 359.4h.01M497.0 361.2h.01M493.1 358.8h.01M488.4 359.3h.01M491.0 360.8h.01M496.4 360.3h.01M492.4 359.6h.01M499.6 362.8h.01M490.0 352.4h.01M495.5 355.3h.01M492.9 359.9h.01M499.6 358.5h.01M492.2 357.5h.01M494.1 356.0h.01M495.3 359.6h.01M498.9 358.2h.01M494.2 359.3h.01M492.6 356.7h.01M490.1 359.0h.01M495.0 361.2h.01M490.0 359.4h.01M495.5 360.8h.01M493.8 359.3h.01M491.1 358.9h.01M491.8 354.9h.01M489.5 353.4h.01M495.0 360.9h.01M491.1 359.3h.01M493.4 358.3h.01M499.5 358.4h.01M494.2 358.7h.01M501.9 355.1h.01M493.7 355.8h.01M489.5 356.7h.01M496.3 356.4h.01M488.1 358.1h.01M488.4 356.6h.01M500.0 357.3h.01M489.1 362.0h.01M493.1 361.4h.01M485.3 358.2h.01M494.9 359.4h.01M495.2 361.7h.01M495.4 361.4h.01M496.2 357.2h.01M493.6 361.9h.01M488.4 360.1h.01M495.6 361.9h.01M485.1 364.3h.01M485.6 358.9h.01M504.4 355.8h.01M503.0 359.5h.01M501.5 362.2h.01M493.5 357.1h.01M491.3 355.9h.01M486.4 359.8h.01M486.1 359.7h.01M492.4 358.6h.01M488.0 356.0h.01M496.4 356.7h.01M490.1 358.5h.01M495.9 363.4h.01M501.7 360.7h.01M495.8 360.4h.01M491.8 358.4h.01M484.8 360.1h.01M490.5 359.8h.01M503.0 360.8h.01M498.0 360.9h.01M490.2 357.4h.01M486.1 357.6h.01M493.5 360.5h.01M495.4 358.1h.01M487.5 359.0h.01M494.2 354.3h.01M493.2 355.6h.01M490.6 358.5h.01M488.2 357.7h.01M492.8 356.6h.01M495.9 360.4h.01M495.2 356.4h.01M491.8 358.1h.01M493.2 360.6h.01M490.3 358.9h.01M496.5 358.1h.01M496.0 358.8h.01M486.2 358.8h.01M493.4 357.9h.01M501.5 358.0h.01M486.0 358.5h.01M491.7 360.0h.01M504.3 359.2h.01M496.5 357.2h.01M488.4 357.2h.01M491.8 357.8h.01M492.7 357.4h.01M487.2 357.1h.01M496.3 356.2h.01M496.3 362.6h.01M488.4 360.9h.01M496.5 352.8h.01M496.6 360.3h.01M489.1 362.9h.01M484.5 361.8h.01M493.9 356.5h.01M493.2 355.3h.01M495.5 360.1h.01M498.3 362.1h.01M489.5 360.0h.01M489.8 352.2h.01M497.1 361.5h.01M493.7 362.8h.01M492.4 354.9h.01M490.6 358.2h.01M493.9 357.9h.01M482.4 356.0h.01M492.0 361.4h.01M489.6 355.8h.01M490.5 360.9h.01M498.4 356.6h.01M495.8 361.9h.01M496.3 356.3h.01M495.4 357.7h.01M490.3 363.3h.01M492.5 360.0h.01M498.3 362.6h.01M493.9 357.4h.01M492.4 357.3h.01M492.1 358.6h.01M485.8 357.0h.01M486.1 358.7h.01M496.4 360.5h.01M493.5 356.6h.01M492.4 355.7h.01M495.3 355.3h.01M489.7 362.8h.01M494.6 356.6h.01M491.7 356.5h.01M489.0 357.9h.01M488.8 359.3h.01M497.6 356.8h.01M488.4 357.0h.01M489.8 359.1h.01M489.6 356.8h.01M489.5 361.1h.01M497.1 361.2h.01M493.5 356.6h.01M499.0 363.9h.01M489.7 357.4h.01M497.7 360.4h.01M494.5 363.6h.01M491.8 357.0h.01M491.0 359.3h.01M493.5 361.7h.01M496.2 357.2h.01M496.0 358.4h.01M499.6 361.5h.01M489.9 360.1h.01M486.7 359.9h.01M493.0 359.9h.01M487.1 356.9h.01M490.1 358.3h.01M495.7 356.9h.01M483.4 357.6h.01M496.2 360.8h.01M486.8 360.3h.01M493.1 360.5h.01M493.4 361.7h.01M489.3 363.8h.01M497.7 356.1h.01M485.5 361.2h.01M485.4 357.0h.01M494.8 358.5h.01M493.3 353.8h.01M489.1 360.0h.01M502.2 359.8h.01M492.8 359.1h.01M497.3 360.3h.01M488.5 354.2h.01M491.5 357.9h.01M501.0 356.8h.01M496.1 354.2h.01M496.2 355.8h.01M492.7 358.3h.01M493.0 358.8h.01M487.3 360.1h.01M488.4 358.7h.01M488.6 358.7h.01M492.0 358.3h.01M488.9 361.6h.01M491.7 358.9h.01M482.4 360.1h.01M485.2 358.3h.01M483.0 363.1h.01M484.3 358.1h.01M486.7 355.8h.01M484.4 362.1h.01M502.4 358.4h.01M496.3 357.6h.01M487.5 362.9h.01M495.4 356.1h.01M491.9 358.7h.01M491.1 358.5h.01M489.4 358.5h.01M490.5 358.0h.01M488.9 362.3h.01M490.4 358.2h.01M493.6 358.8h.01M486.4 360.7h.01M486.8 357.2h.01M494.3 358.2h.01M489.1 358.7h.01M488.4 357.3h.01M486.9 355.8h.01M487.8 358.8h.01M490.0 358.3h.01M496.5 357.6h.01M483.8 358.8h.01M500.5 351.9h.01M491.1 356.1h.01M485.4 360.5h.01M492.1 358.6h.01M486.3 357.5h.01M487.1 362.2h.01M492.1 354.0h.01M490.8 362.1h.01M488.7 358.0h.01M492.0 359.7h.01M494.5 357.2h.01M490.6 360.2h.01M487.6 357.9h.01M493.9 358.1h.01M487.8 362.4h.01M493.1 358.0h.01M478.9 361.2h.01M496.6 358.5h.01M492.4 356.7h.01M501.6 360.7h.01M502.7 363.9h.01M484.0 360.1h.01M482.8 359.5h.01M492.5 357.4h.01M495.4 359.0h.01M490.9 358.1h.01M496.6 359.8h.01M496.3 359.5h.01M490.3 357.6h.01M493.5 357.1h.01M489.5 360.6h.01M493.4 358.2h.01M493.4 357.8h.01M498.4 358.3h.01M492.6 356.0h.01M489.2 355.7h.01M494.4 360.0h.01M495.3 357.9h.01M492.7 359.6h.01M490.8 354.9h.01M501.5 359.9h.01M496.6 360.6h.01M489.1 358.6h.01M490.2 361.2h.01M493.3 357.1h.01M494.0 365.1h.01M492.4 359.9h.01M502.1 356.6h.01M493.9 361.6h.01M495.4 357.4h.01M492.4 359.0h.01M496.9 361.1h.01M483.4 358.9h.01M489.2 359.4h.01M490.6 359.6h.01M485.6 359.2h.01M495.0 361.6h.01M499.7 358.8h.01M489.9 361.8h.01M494.3 359.5h.01M495.2 355.4h.01M488.4 356.7h.01M487.4 362.3h.01M484.0 358.4h.01M492.2 356.7h.01M494.3 356.8h.01M486.0 355.9h.01M498.7 357.9h.01M493.4 360.1h.01M494.5 357.1h.01M496.3 361.2h.01M486.0 360.7h.01M495.0 361.3h.01M495.3 358.4h.01M489.1 360.3h.01M494.4 359.7h.01M490.3 361.5h.01M496.9 361.3h.01M489.9 360.2h.01M497.1 355.7h.01M489.2 359.4h.01M486.0 358.6h.01M493.0 355.4h.01M495.3 358.8h.01M498.4 358.7h.01M490.3 358.7h.01M494.6 354.6h.01M491.2 360.5h.01M496.1 359.7h.01M487.6 358.6h.01M494.7 358.9h.01M493.4 363.1h.01M501.5 357.8h.01M488.2 358.9h.01M498.7 356.4h.01M488.3 356.0h.01M497.8 357.7h.01M492.3 362.5h.01M495.6 358.1h.01M486.8 361.4h.01M493.1 358.1h.01M493.8 357.2h.01M493.6 359.3h.01M487.7 359.4h.01M495.4 362.1h.01M496.8 363.7h.01M496.7 358.8h.01M494.3 358.9h.01M488.4 358.3h.01M493.4 356.5h.01M492.5 360.2h.01M500.4 358.6h.01M491.2 357.3h.01M485.4 360.1h.01M490.4 357.3h.01M487.7 362.2h.01M498.9 359.9h.01M491.1 356.1h.01M482.7 357.1h.01M489.1 362.2h.01M491.3 355.1h.01M499.1 360.2h.01M490.9 359.7h.01M495.6 357.8h.01M488.7 359.2h.01M495.5 360.0h.01M487.6 356.7h.01M492.6 357.5h.01M491.3 363.1h.01M485.2 358.2h.01M487.9 359.4h.01M501.2 359.7h.01M498.6 356.7h.01M494.0 362.0h.01M491.0 357.1h.01M485.7 362.2h.01M492.1 362.0h.01M493.5 358.9h.01M496.4 359.3h.01M498.1 357.5h.01M490.0 358.9h.01M490.3 358.4h.01M496.4 359.6h.01M492.2 362.8h.01M486.5 357.5h.01M491.8 361.1h.01M495.5 360.0h.01M499.4 358.6h.01M489.2 361.6h.01M499.7 356.6h.01M490.0 358.6h.01M494.3 359.1h.01M496.0 355.2h.01M490.3 355.3h.01M496.5 361.1h.01M493.8 358.8h.01M492.2 358.6h.01M488.9 359.9h.01M495.5 357.2h.01M494.5 362.1h.01M499.9 364.1h.01M505.1 355.5h.01M490.5 357.8h.01M494.8 362.3h.01M485.9 360.1h.01M494.1 361.7h.01M494.9 357.3h.01M493.9 357.7h.01M491.9 358.2h.01M492.7 359.7h.01M494.4 361.5h.01M495.8 354.9h.01M495.6 357.9h.01M497.1 357.9h.01M488.9 355.6h.01M492.1 360.6h.01M488.7 359.6h.01M491.4 354.2h.01M491.8 358.2h.01M494.9 355.0h.01M495.6 358.6h.01M496.8 357.9h.01M489.7 358.3h.01M492.6 361.2h.01M489.3 358.1h.01M488.0 358.0h.01M493.9 362.1h.01M492.1 359.4h.01M492.9 361.2h.01M491.3 358.2h.01M494.0 358.2h.01M493.6 358.6h.01M491.1 360.7h.01M491.7 357.9h.01M494.9 362.9h.01M494.0 358.4h.01M496.0 360.0h.01M488.1 361.4h.01M498.7 357.6h.01M491.0 360.2h.01M494.2 359.1h.01M498.6 355.3h.01M490.4 360.0h.01M494.8 357.5h.01M484.6 361.5h.01M496.8 359.1h.01M494.2 361.2h.01M503.2 356.5h.01M492.8 354.3h.01M487.2 361.4h.01M491.4 353.9h.01M486.7 362.2h.01M494.8 361.6h.01M499.8 357.6h.01M492.7 357.4h.01M488.5 360.9h.01M493.7 357.2h.01M485.2 357.9h.01M491.3 357.2h.01M496.1 360.1h.01M494.7 361.6h.01M491.2 358.7h.01M502.0 356.8h.01M493.9 360.5h.01M493.7 358.6h.01M494.9 360.7h.01M493.5 358.1h.01M480.9 359.5h.01M487.2 357.1h.01M486.1 354.6h.01M487.0 361.4h.01M483.9 354.3h.01M500.7 365.1h.01M488.9 362.4h.01M491.3 362.7h.01M496.5 355.3h.01M479.6 365.0h.01M495.8 356.6h.01M501.6 362.4h.01M493.5 367.8h.01M502.7 366.2h.01M495.2 358.5h.01M493.8 359.0h.01M498.1 366.0h.01M493.0 366.0h.01M484.4 367.2h.01M494.8 350.7h.01M492.9 364.9h.01M496.0 356.6h.01M498.7 364.9h.01M493.2 368.1h.01M489.1 362.7h.01M492.6 350.5h.01M495.3 363.8h.01M488.3 361.0h.01M499.8 359.7h.01M496.7 362.5h.01M493.6 364.7h.01M481.3 354.5h.01M485.5 364.8h.01M500.4 359.4h.01M482.2 367.9h.01M489.3 356.3h.01M494.6 357.5h.01M496.6 363.2h.01M485.7 369.5h.01M492.4 363.0h.01M502.2 366.7h.01M475.3 360.9h.01M490.5 363.4h.01M497.3 368.6h.01M479.0 360.8h.01M500.2 359.2h.01M504.0 366.3h.01M499.3 356.6h.01M480.5 359.3h.01M491.6 361.8h.01M500.1 359.5h.01M484.8 369.8h.01M498.8 358.0h.01M484.2 360.4h.01M496.0 360.0h.01M491.1 357.8h.01M487.0 368.8h.01M506.3 366.2h.01M489.3 349.8h.01M497.9 355.5h.01M489.9 362.3h.01M502.9 356.5h.01M490.0 364.7h.01M498.6 360.0h.01M494.9 364.2h.01M489.2 352.2h.01M491.3 368.5h.01M484.1 356.7h.01M498.9 368.4h.01M495.1 362.4h.01M480.4 354.6h.01M487.4 351.9h.01M498.9 355.1h.01M509.0 354.9h.01M494.6 358.6h.01M490.7 366.3h.01M485.0 359.4h.01M500.3 356.5h.01M511.1 354.0h.01M498.0 362.1h.01M495.7 360.8h.01M489.3 363.1h.01M488.6 356.2h.01M504.8 351.4h.01M497.0 358.1h.01M478.2 348.8h.01M485.9 363.5h.01M501.6 360.6h.01M501.4 361.5h.01M493.8 362.0h.01M501.0 355.2h.01M479.1 367.7h.01M492.9 362.6h.01M500.1 363.0h.01M492.0 368.4h.01M500.3 359.9h.01M494.2 358.9h.01M491.7 357.6h.01M497.9 356.1h.01M488.1 364.8h.01M493.9 369.0h.01M488.6 361.2h.01M491.3 365.8h.01M491.7 363.9h.01M482.0 358.5h.01M503.2 361.2h.01M495.1 366.6h.01M494.6 357.1h.01M494.1 359.2h.01M492.4 361.3h.01M498.5 367.4h.01M503.2 357.1h.01M494.4 367.7h.01M488.7 358.0h.01M505.3 364.9h.01M498.3 359.1h.01M502.4 366.5h.01M493.3 362.5h.01M497.2 360.8h.01M493.2 368.3h.01M490.6 353.9h.01M500.0 370.3h.01M489.3 363.5h.01M493.7 357.5h.01M487.6 362.8h.01M480.8 362.3h.01M511.7 374.8h.01M478.9 360.8h.01M486.0 362.4h.01M490.0 360.2h.01M493.6 363.4h.01M494.9 364.5h.01M500.0 370.9h.01M497.7 362.1h.01M501.1 363.7h.01M499.1 356.8h.01M483.1 366.6h.01M483.4 356.4h.01M491.6 357.2h.01M497.8 362.8h.01M495.5 369.0h.01M493.9 359.5h.01M484.8 358.1h.01M487.6 362.2h.01M505.0 360.7h.01M494.1 351.7h.01M505.6 356.2h.01M494.6 353.7h.01M498.6 361.8h.01M486.5 368.5h.01M503.6 362.6h.01M489.6 362.1h.01M488.5 363.8h.01M489.9 357.6h.01M493.0 370.1h.01M482.9 366.2h.01M496.9 364.7h.01M494.9 364.4h.01M478.4 360.7h.01M478.3 360.8h.01M491.2 362.5h.01M495.5 357.5h.01M489.7 368.3h.01M501.1 360.9h.01M487.4 360.7h.01M498.5 362.9h.01M494.6 367.1h.01M496.2 363.8h.01M492.3 362.1h.01M494.4 356.5h.01M489.5 353.2h.01M490.9 355.0h.01M495.7 367.5h.01M489.6 364.4h.01M499.7 352.0h.01M501.5 352.2h.01M482.2 355.0h.01M482.1 353.4h.01M494.0 364.0h.01M498.3 363.8h.01M501.5 360.3h.01M490.3 368.0h.01M488.4 367.1h.01M491.1 353.1h.01M486.4 358.3h.01M493.8 362.9h.01M497.8 363.8h.01M500.5 352.7h.01M496.3 368.6h.01M487.9 364.5h.01M500.0 357.1h.01M477.8 357.2h.01M491.1 365.1h.01M496.9 363.7h.01M491.9 359.2h.01M488.4 361.0h.01M490.2 360.9h.01M488.1 356.3h.01M495.9 358.2h.01M498.0 366.3h.01M485.8 372.2h.01M484.1 353.1h.01M483.9 356.3h.01M492.4 367.0h.01M495.0 368.2h.01M477.6 364.7h.01M483.2 356.4h.01M508.4 369.9h.01M493.2 357.2h.01M488.2 354.0h.01M489.4 364.5h.01M495.7 362.3h.01M489.4 364.3h.01M496.7 370.8h.01M494.5 365.8h.01M498.1 364.3h.01M496.7 362.3h.01M498.3 355.8h.01M486.5 356.6h.01M489.2 359.3h.01M501.2 362.7h.01M492.7 361.9h.01M498.4 355.6h.01M492.8 356.9h.01M496.8 369.0h.01M494.8 364.8h.01M502.3 358.6h.01M495.4 351.9h.01M495.2 362.5h.01M492.2 372.0h.01M495.2 359.6h.01M490.2 360.7h.01M479.7 362.7h.01M487.3 362.3h.01M497.1 369.0h.01M490.8 360.9h.01M493.2 363.1h.01M488.7 361.8h.01M489.3 362.6h.01M504.0 360.9h.01M503.1 363.0h.01M502.1 366.5h.01M481.8 357.4h.01M481.7 363.6h.01M485.2 366.2h.01M492.0 363.7h.01M486.2 350.2h.01M488.7 358.6h.01M493.7 364.3h.01M486.0 362.6h.01M488.9 367.3h.01M488.0 362.1h.01M501.0 364.6h.01M498.4 366.6h.01M497.8 364.2h.01M486.8 370.0h.01M500.8 369.6h.01M490.4 364.1h.01M478.0 361.5h.01M488.6 359.6h.01M496.8 359.7h.01M496.4 353.1h.01M509.0 357.1h.01M486.1 355.1h.01M498.8 351.6h.01M486.9 369.3h.01M483.7 358.0h.01M486.0 366.0h.01M487.8 362.5h.01M488.6 358.6h.01M479.5 364.1h.01M491.7 358.9h.01M495.5 360.4h.01M492.8 362.3h.01M496.2 357.7h.01M498.1 363.1h.01M488.5 357.6h.01M499.0 361.7h.01M484.7 354.5h.01M507.2 355.8h.01M487.4 360.1h.01M485.0 370.0h.01M486.4 356.3h.01M494.3 356.2h.01M485.1 364.9h.01M499.5 368.5h.01M493.0 356.9h.01M489.3 356.9h.01M493.3 362.0h.01M489.7 365.1h.01M496.9 355.3h.01M502.9 357.7h.01M491.0 366.2h.01M496.1 358.4h.01M494.7 363.9h.01M486.3 348.2h.01M502.6 354.0h.01M490.7 372.5h.01M488.8 364.7h.01M485.3 370.8h.01M486.6 369.0h.01M492.9 369.3h.01M499.6 358.5h.01M487.5 352.3h.01M493.5 368.0h.01M491.7 362.8h.01M500.2 364.0h.01M498.1 364.4h.01M488.3 357.1h.01M492.8 357.6h.01M493.8 353.4h.01M494.6 366.3h.01M502.6 361.4h.01M497.8 373.0h.01M501.7 363.1h.01M486.5 363.8h.01M495.5 356.2h.01M487.7 351.7h.01M500.0 354.6h.01M508.0 359.7h.01M489.0 361.8h.01M495.4 362.9h.01M488.2 355.7h.01M488.4 361.2h.01M488.0 363.4h.01M500.0 363.1h.01M494.3 365.3h.01M486.0 363.0h.01M495.0 369.1h.01M501.7 359.1h.01M505.6 356.1h.01M503.4 362.4h.01M498.0 360.6h.01M491.4 354.6h.01M500.7 360.1h.01M498.0 357.1h.01M500.5 363.1h.01M490.5 362.2h.01M491.0 364.1h.01M504.6 354.9h.01M477.7 358.4h.01M484.2 365.3h.01M484.8 348.8h.01M490.7 357.1h.01M480.2 359.3h.01M493.7 357.3h.01M500.7 359.1h.01M499.3 349.8h.01M494.5 358.4h.01M489.4 361.7h.01M493.2 363.3h.01M492.6 363.3h.01M489.4 348.4h.01M489.9 351.4h.01M487.0 356.7h.01M490.8 361.4h.01M492.6 358.3h.01M496.7 358.5h.01M482.9 362.4h.01M485.4 362.7h.01M505.2 360.9h.01M498.0 367.2h.01M492.1 356.8h.01M499.2 365.1h.01M486.9 364.5h.01M490.8 359.2h.01M480.8 356.2h.01M495.9 353.5h.01M495.3 364.9h.01M483.0 373.7h.01M497.9 355.9h.01M493.9 368.7h.01M508.7 355.2h.01M496.9 358.9h.01M503.3 360.1h.01M493.7 358.3h.01M506.3 356.7h.01M488.0 354.2h.01M486.6 359.1h.01M496.8 353.6h.01M489.7 354.7h.01M495.4 356.0h.01M494.0 353.2h.01M498.8 358.4h.01M497.2 360.0h.01M484.3 360.3h.01M502.3 358.7h.01M490.7 363.7h.01M485.7 361.4h.01M489.1 365.2h.01M484.8 355.8h.01M495.2 362.5h.01M491.9 355.5h.01M494.3 358.2h.01M500.1 355.1h.01M481.0 352.8h.01M497.1 366.8h.01M496.4 360.8h.01M492.5 369.2h.01M492.2 369.2h.01M495.9 361.0h.01M488.1 358.2h.01M492.4 353.6h.01M490.6 360.4h.01M489.7 362.3h.01M487.0 362.7h.01M494.0 364.9h.01M497.5 359.7h.01M494.1 358.9h.01M488.0 356.9h.01M489.0 362.7h.01M490.3 357.2h.01M487.4 363.6h.01M487.7 360.7h.01M498.2 369.1h.01M484.1 354.7h.01M491.8 356.9h.01M501.0 359.1h.01M502.2 361.1h.01M492.6 359.5h.01M489.7 356.5h.01M495.9 366.3h.01M491.4 351.8h.01M499.5 358.7h.01M500.7 366.3h.01M484.5 365.1h.01M485.1 358.9h.01M485.0 355.3h.01M501.0 358.7h.01M485.8 365.7h.01M498.8 360.4h.01M495.1 361.2h.01M500.4 349.5h.01M488.9 361.7h.01M491.4 366.7h.01M492.8 354.2h.01M503.2 348.5h.01M489.7 365.3h.01M509.6 366.6h.01M498.7 358.8h.01M504.1 357.8h.01M493.7 352.8h.01M489.3 355.1h.01M492.2 366.2h.01M488.0 367.2h.01M492.6 370.9h.01M490.1 362.7h.01M472.9 363.8h.01M488.3 357.6h.01M494.7 361.7h.01M503.2 367.5h.01M484.5 357.1h.01M499.6 361.8h.01M492.3 369.8h.01M488.4 363.2h.01M494.5 360.9h.01M501.2 365.2h.01M497.4 358.2h.01M491.0 363.9h.01M482.7 362.8h.01M491.6 361.3h.01M488.8 367.6h.01M489.3 368.3h.01M499.8 359.7h.01M494.0 360.9h.01M492.2 362.9h.01M494.8 356.6h.01M491.3 364.4h.01M492.4 360.4h.01M491.6 359.0h.01M501.3 358.1h.01M490.5 361.2h.01M499.7 361.4h.01M491.3 353.6h.01M487.3 359.9h.01M493.3 354.0h.01M495.4 351.2h.01M496.2 359.1h.01M488.0 352.7h.01M487.5 356.6h.01M489.7 360.5h.01M487.5 352.7h.01M496.9 357.6h.01M498.4 357.9h.01M498.3 352.8h.01M483.5 364.3h.01M479.4 357.2h.01M496.4 361.2h.01M506.0 360.9h.01M502.8 360.9h.01M504.1 360.7h.01M497.5 368.1h.01M507.7 355.6h.01M481.3 353.4h.01M493.5 360.0h.01M497.0 372.4h.01M498.8 360.4h.01M503.9 363.9h.01M472.9 365.9h.01M473.8 358.6h.01M463.9 358.9h.01M487.4 359.8h.01M465.7 360.6h.01M462.7 361.8h.01M476.5 359.1h.01M477.0 357.1h.01M470.0 359.4h.01M473.0 364.0h.01M476.2 357.2h.01M471.1 358.0h.01M475.5 355.9h.01M478.9 358.2h.01M478.1 362.4h.01M479.0 356.7h.01M468.7 355.7h.01M469.4 358.7h.01M479.5 359.6h.01M475.0 357.9h.01M465.6 358.9h.01M466.5 358.3h.01M469.0 362.0h.01M469.7 364.7h.01M478.3 358.7h.01M474.3 363.1h.01M460.7 361.4h.01M484.0 360.1h.01M462.0 356.4h.01M475.1 359.8h.01M479.4 356.3h.01M472.8 362.5h.01M476.0 357.4h.01M470.6 358.7h.01M486.7 363.2h.01M469.8 359.2h.01M473.1 360.4h.01M471.1 358.6h.01M467.3 361.0h.01M477.9 359.2h.01M471.3 362.0h.01M474.0 353.5h.01M469.8 359.1h.01M473.4 358.7h.01M466.2 360.3h.01M475.2 357.5h.01M471.5 359.6h.01M469.9 366.5h.01M474.3 359.7h.01M465.8 357.5h.01M473.1 360.7h.01M468.3 358.6h.01M469.5 360.8h.01M479.2 356.3h.01M476.4 357.6h.01M465.6 361.1h.01M478.7 364.8h.01M473.7 363.5h.01M470.2 358.4h.01M478.8 357.1h.01M473.1 361.2h.01M460.7 360.1h.01M477.4 355.0h.01M466.1 360.6h.01M467.6 357.4h.01M459.6 363.2h.01M474.2 358.8h.01M471.6 360.0h.01M471.4 360.2h.01M478.4 358.2h.01M474.6 361.3h.01M468.2 358.2h.01M475.7 360.0h.01M466.5 359.3h.01M467.0 361.3h.01M475.0 358.3h.01M474.4 361.9h.01M468.4 356.4h.01M471.2 363.6h.01M482.5 359.5h.01M473.5 360.9h.01M485.5 363.3h.01M458.1 362.7h.01M477.7 358.6h.01M473.1 358.2h.01M455.3 358.7h.01M470.2 355.9h.01M472.1 359.0h.01M473.7 358.6h.01M461.8 360.7h.01M466.9 356.5h.01M478.1 359.1h.01M483.0 360.7h.01M454.5 362.3h.01M466.7 359.0h.01M470.2 357.6h.01M476.5 358.5h.01M467.5 359.0h.01M475.8 358.1h.01M473.2 360.1h.01M486.1 358.0h.01M469.3 360.1h.01M473.8 362.2h.01M475.9 360.0h.01M480.9 360.3h.01M475.5 360.9h.01M479.3 357.9h.01M472.7 363.1h.01M476.7 355.9h.01M477.4 358.8h.01M466.4 358.1h.01M473.4 358.4h.01M486.8 358.5h.01M470.9 362.0h.01M464.2 358.5h.01M468.7 359.9h.01M480.9 358.1h.01M482.8 357.7h.01M472.9 361.0h.01M474.8 361.1h.01M472.7 362.4h.01M475.4 361.7h.01M468.7 355.6h.01M457.0 361.5h.01M465.0 362.6h.01M476.3 354.8h.01M459.5 358.5h.01M473.8 357.8h.01M471.4 355.8h.01M466.6 361.1h.01M464.1 360.0h.01M452.8 357.8h.01M471.4 355.6h.01M456.1 356.9h.01M472.3 360.9h.01M480.5 357.0h.01M483.4 360.6h.01M469.4 357.2h.01M469.4 361.1h.01M473.5 359.4h.01M472.5 359.1h.01M471.2 359.8h.01M467.6 356.3h.01M462.4 360.0h.01M486.0 360.1h.01M475.7 362.0h.01M463.6 361.1h.01M479.8 358.5h.01M474.0 361.0h.01M470.8 361.8h.01M489.3 356.2h.01M466.4 356.0h.01M476.6 359.4h.01M479.8 364.0h.01M478.5 355.3h.01M468.0 361.0h.01M475.5 359.3h.01M466.8 358.4h.01M485.6 360.3h.01M463.4 357.7h.01M469.5 358.8h.01M470.1 360.2h.01M472.6 362.7h.01M471.2 358.2h.01M471.0 359.2h.01M468.6 355.9h.01M465.8 363.4h.01M468.6 362.2h.01M474.6 362.5h.01M469.4 358.1h.01M468.5 358.0h.01M494.8 387.5h.01M501.8 378.1h.01M496.6 379.9h.01M496.8 381.8h.01M497.3 385.9h.01M497.8 375.9h.01M497.6 375.8h.01M498.8 381.1h.01M497.9 378.2h.01M491.9 377.5h.01M496.7 375.4h.01M496.4 385.5h.01M494.4 382.8h.01M496.3 378.0h.01M495.9 381.8h.01M494.6 378.7h.01M493.7 371.5h.01M499.6 375.8h.01M498.2 379.5h.01M498.3 379.5h.01M499.5 389.0h.01M496.0 381.9h.01M495.6 379.7h.01M497.1 383.2h.01M498.8 382.9h.01M497.2 373.9h.01M495.7 375.6h.01M494.5 380.5h.01M496.1 377.5h.01M496.9 374.6h.01M491.7 377.6h.01M495.0 382.3h.01M496.2 379.4h.01M495.5 384.3h.01M493.0 381.5h.01M495.3 380.7h.01M497.6 386.8h.01M498.1 380.3h.01M494.7 377.5h.01M499.4 380.8h.01M490.9 371.0h.01M494.0 372.5h.01M494.6 383.4h.01M494.2 374.5h.01M491.6 381.9h.01M496.1 374.7h.01M497.4 381.4h.01M498.1 381.7h.01M496.4 383.5h.01M495.6 371.2h.01M494.5 381.2h.01M499.7 375.1h.01M498.2 368.2h.01M496.4 387.3h.01M495.9 380.0h.01M497.3 385.1h.01M497.6 378.2h.01M496.9 388.5h.01M496.0 378.2h.01M495.2 385.6h.01M497.8 376.0h.01M493.7 380.5h.01M496.7 370.4h.01M495.1 390.4h.01M495.2 382.0h.01M496.5 379.2h.01M493.6 374.1h.01M497.2 380.3h.01M495.0 381.8h.01M494.1 370.6h.01M492.9 380.6h.01M497.0 381.3h.01M491.2 379.7h.01M496.1 381.6h.01M495.0 379.9h.01M499.6 377.2h.01M495.5 389.1h.01M494.2 381.8h.01M499.0 376.3h.01M502.4 375.7h.01M498.9 385.3h.01M496.4 386.9h.01M497.1 382.6h.01M494.8 380.1h.01M496.2 372.7h.01M496.8 377.5h.01M496.0 381.9h.01M497.3 382.7h.01M500.8 381.3h.01M490.7 380.1h.01M495.7 383.1h.01M497.4 378.0h.01M493.2 383.6h.01M493.8 377.6h.01M496.0 374.3h.01M495.5 380.8h.01M497.4 378.1h.01M493.4 374.9h.01M497.1 373.3h.01M495.3 377.1h.01M491.5 380.6h.01M493.8 386.3h.01M493.3 377.3h.01M493.9 374.4h.01M495.7 380.0h.01M498.2 382.1h.01M499.4 383.7h.01M493.2 384.4h.01M492.8 375.8h.01M492.8 376.1h.01M494.5 376.3h.01M495.7 374.1h.01M493.7 379.1h.01M498.4 379.0h.01M497.6 380.0h.01M498.2 380.6h.01M495.8 387.0h.01M495.5 376.0h.01M495.0 381.5h.01M492.5 377.9h.01M491.4 386.3h.01M499.4 380.6h.01M500.5 373.0h.01M494.2 379.2h.01M494.0 379.3h.01M497.9 380.9h.01M497.4 378.6h.01M495.6 376.8h.01M492.5 377.4h.01M498.7 378.8h.01M495.6 379.2h.01M494.4 383.7h.01M496.5 371.5h.01M494.2 375.4h.01M498.9 376.4h.01M491.2 383.6h.01M492.3 379.2h.01M499.5 383.3h.01M494.2 372.9h.01M496.8 377.4h.01M497.9 383.7h.01M496.4 384.3h.01M495.2 377.8h.01M498.4 384.5h.01M496.0 385.3h.01M496.3 378.0h.01M495.6 377.0h.01M497.5 374.8h.01M493.4 377.8h.01M497.9 374.4h.01M495.9 387.4h.01M497.1 374.4h.01M496.1 376.6h.01M498.4 380.2h.01M492.6 385.3h.01M496.9 371.7h.01M501.3 380.1h.01M494.4 379.7h.01M495.4 380.1h.01M498.4 372.9h.01M498.8 382.0h.01M492.6 379.0h.01M492.2 387.9h.01M496.7 377.8h.01M493.7 377.2h.01M493.7 387.9h.01M493.5 379.7h.01M494.4 383.3h.01M496.8 384.4h.01M499.1 378.3h.01M498.4 381.0h.01M496.4 378.1h.01M496.3 378.0h.01M495.4 378.5h.01M497.6 376.3h.01M498.3 376.6h.01M502.8 375.3h.01M500.4 371.8h.01M491.7 374.4h.01M496.5 375.4h.01M495.2 379.6h.01M493.5 379.0h.01M489.9 374.8h.01M493.1 384.7h.01M492.0 383.2h.01M497.1 376.9h.01M495.9 369.4h.01M495.7 376.1h.01M493.2 380.4h.01M498.9 380.9h.01M495.9 385.1h.01M499.0 380.8h.01M501.8 379.5h.01M497.2 389.7h.01M498.4 380.7h.01M496.7 377.4h.01M499.4 376.2h.01M494.7 382.6h.01M500.5 382.1h.01M494.7 382.6h.01M496.5 382.3h.01M493.3 376.7h.01M493.6 380.5h.01M495.8 381.0h.01M493.9 379.8h.01M493.9 381.1h.01M498.0 381.2h.01M494.6 376.3h.01M499.1 379.7h.01M494.0 385.2h.01M497.7 373.2h.01M498.8 381.7h.01M500.5 378.8h.01M494.9 384.8h.01M492.0 378.4h.01M495.2 374.1h.01M500.1 379.6h.01M496.5 379.8h.01M495.9 380.2h.01M498.4 377.3h.01M498.4 380.4h.01M496.9 383.4h.01M499.0 387.0h.01M496.1 380.0h.01M497.0 383.4h.01M493.4 373.3h.01M493.2 383.6h.01M493.8 376.9h.01M491.9 371.3h.01M497.9 381.1h.01M499.5 382.7h.01M495.7 376.3h.01M496.9 387.9h.01M492.4 382.0h.01M500.5 389.1h.01M496.7 375.8h.01M496.7 378.4h.01M498.4 385.0h.01M497.0 376.5h.01M497.3 381.6h.01M500.2 380.9h.01M495.1 377.7h.01M495.6 371.3h.01M493.8 382.5h.01M501.3 382.5h.01M499.2 382.6h.01M497.3 379.2h.01M497.7 378.4h.01M499.1 374.9h.01M496.1 371.9h.01M490.7 380.1h.01M499.4 378.5h.01M493.6 379.2h.01M493.7 374.2h.01M497.4 381.5h.01M491.7 384.9h.01M493.9 379.8h.01M495.6 381.1h.01M491.8 380.3h.01M500.8 378.9h.01M496.4 378.4h.01M494.8 383.1h.01M494.6 369.9h.01M492.6 380.9h.01M498.0 376.0h.01M493.2 378.5h.01M498.3 382.0h.01M496.6 380.8h.01M494.6 373.6h.01M498.9 376.9h.01M494.8 380.2h.01M492.0 373.6h.01M492.3 376.2h.01M496.0 374.1h.01M494.3 380.3h.01M493.4 382.1h.01M497.1 378.5h.01M501.1 377.0h.01M496.5 381.4h.01M500.8 380.7h.01M494.8 388.2h.01M493.8 376.3h.01M495.0 374.9h.01M497.7 381.7h.01M493.9 381.4h.01M493.6 381.5h.01M499.5 382.0h.01M497.9 383.4h.01M500.9 375.8h.01M499.0 393.3h.01M494.5 379.7h.01M495.2 377.8h.01M496.5 387.2h.01M498.9 377.6h.01M497.3 383.8h.01M490.4 382.2h.01M493.4 378.6h.01M500.2 379.1h.01M492.4 384.7h.01M493.9 386.9h.01M497.8 383.0h.01M500.2 379.6h.01M491.0 376.9h.01M495.7 376.3h.01M496.2 389.8h.01M492.1 385.8h.01M494.2 380.4h.01M495.9 381.2h.01M498.2 380.5h.01M496.2 376.1h.01M493.5 381.2h.01M497.8 382.2h.01M497.5 372.6h.01M495.1 379.7h.01M493.8 382.9h.01M496.0 380.1h.01M492.5 375.7h.01M488.5 381.8h.01M495.5 377.0h.01M494.8 379.1h.01M499.9 373.7h.01M497.7 375.4h.01M495.3 382.8h.01M495.6 377.2h.01M492.4 372.1h.01M497.4 376.0h.01M492.8 382.0h.01M496.0 381.4h.01M493.4 371.5h.01M497.4 385.9h.01M495.1 394.3h.01M493.0 389.4h.01M494.5 390.5h.01M499.8 392.1h.01M497.4 386.8h.01M494.8 390.2h.01M494.3 397.0h.01M492.5 392.4h.01M496.2 379.1h.01M498.2 402.6h.01M500.6 385.0h.01M496.1 387.9h.01M497.5 388.0h.01M494.3 389.4h.01M499.6 384.1h.01M495.6 389.9h.01M497.6 389.4h.01M496.8 391.9h.01M500.7 384.1h.01M497.0 398.5h.01M503.4 394.2h.01M496.3 377.9h.01M496.0 391.7h.01M492.8 380.8h.01M497.3 389.4h.01M495.5 396.6h.01M493.5 384.6h.01M498.9 389.5h.01M497.6 381.1h.01M500.6 386.1h.01M492.5 390.1h.01M495.2 379.2h.01M494.7 393.1h.01M494.7 392.8h.01M491.3 389.9h.01M495.9 381.8h.01M497.2 396.7h.01M496.3 384.2h.01M496.6 392.7h.01M491.5 399.7h.01M497.7 391.0h.01M496.8 382.1h.01M498.8 393.2h.01M491.7 385.8h.01M500.9 384.8h.01M498.4 392.3h.01M502.0 383.5h.01M496.0 386.5h.01M495.7 389.8h.01M494.8 392.3h.01M496.7 390.5h.01M494.7 393.6h.01M499.0 403.6h.01M496.4 396.9h.01M496.9 386.3h.01M494.1 393.4h.01M498.3 390.8h.01M494.7 397.7h.01M501.9 396.6h.01M492.5 386.2h.01M492.5 393.8h.01M494.4 391.4h.01M494.9 393.6h.01M492.1 387.1h.01M500.0 400.9h.01M491.2 384.7h.01M490.0 388.7h.01M495.2 395.7h.01M492.6 390.8h.01M495.1 378.6h.01M490.3 387.2h.01M495.7 389.5h.01M497.5 399.6h.01M500.7 386.8h.01M497.6 381.3h.01M491.5 389.3h.01M494.5 390.5h.01M497.9 389.7h.01M500.3 394.2h.01M500.5 390.4h.01M497.0 394.0h.01M499.6 381.4h.01M495.3 387.6h.01M498.1 390.4h.01M499.3 389.3h.01M495.1 400.2h.01M494.1 385.4h.01M499.0 391.6h.01M494.9 392.3h.01M493.6 400.9h.01M494.2 381.5h.01M498.8 375.7h.01M493.5 385.6h.01M495.7 395.8h.01M498.0 397.4h.01M493.7 384.3h.01M492.7 383.2h.01M493.0 392.1h.01M490.7 400.6h.01M497.3 382.9h.01M498.5 390.1h.01M498.6 388.8h.01M494.1 391.6h.01M494.1 376.5h.01M495.8 391.1h.01M489.2 391.5h.01M493.7 391.3h.01M498.0 387.6h.01M493.5 379.9h.01M490.0 392.5h.01M498.2 383.9h.01M503.7 394.2h.01M494.9 394.9h.01M496.4 385.6h.01M498.1 383.0h.01M497.7 388.3h.01M499.5 397.8h.01M497.6 381.2h.01M492.8 393.6h.01M497.3 388.2h.01M501.0 390.3h.01M498.9 385.4h.01M497.9 376.5h.01M498.8 387.0h.01M495.4 390.7h.01M491.4 385.3h.01M495.9 393.6h.01M497.2 390.9h.01M494.8 388.4h.01M498.0 390.1h.01M502.9 392.8h.01M492.5 392.3h.01M494.8 397.2h.01M496.9 395.5h.01M489.9 405.7h.01M495.6 383.5h.01M493.7 388.6h.01M498.8 385.0h.01M497.1 394.1h.01M492.2 393.7h.01M499.1 396.9h.01M496.2 395.2h.01M488.4 394.9h.01M493.5 391.7h.01M495.8 370.8h.01M492.1 389.4h.01M498.8 382.5h.01M495.4 388.4h.01M495.2 390.5h.01M496.1 387.0h.01M498.0 390.2h.01M492.9 391.4h.01M488.7 394.5h.01M495.6 389.5h.01M493.7 392.4h.01M494.7 386.9h.01M492.9 388.6h.01M496.5 395.6h.01M495.4 388.2h.01M496.5 385.8h.01M495.4 399.7h.01M497.1 391.2h.01M497.2 389.1h.01M494.8 395.0h.01M500.3 396.8h.01M495.4 385.9h.01M501.0 395.7h.01M503.6 392.7h.01M495.5 384.5h.01M497.3 379.9h.01M495.6 379.0h.01M501.9 398.9h.01M488.6 396.9h.01M494.3 394.4h.01M499.6 384.8h.01M493.4 385.1h.01M496.7 393.7h.01M494.1 389.7h.01M492.6 382.5h.01M490.3 390.7h.01M493.6 386.1h.01M497.6 392.6h.01M495.6 395.1h.01M496.2 389.5h.01M501.6 390.6h.01M495.3 397.1h.01M497.0 397.3h.01M496.1 391.4h.01M498.7 384.1h.01M495.8 396.1h.01M495.0 402.4h.01M497.7 384.8h.01M493.4 391.9h.01M496.1 387.1h.01M497.6 392.4h.01M496.3 381.7h.01M493.2 392.7h.01M496.5 389.9h.01M497.1 383.8h.01M497.0 402.6h.01M494.1 390.3h.01M494.8 384.5h.01M500.8 399.8h.01M489.9 389.3h.01M495.3 386.7h.01M491.1 387.3h.01M495.8 393.0h.01M496.5 382.2h.01M490.3 389.7h.01M496.4 390.7h.01M498.5 389.8h.01M504.5 390.5h.01M497.7 388.7h.01M495.6 388.4h.01M496.5 386.1h.01M498.9 394.9h.01M496.6 402.8h.01M494.9 393.8h.01M488.4 388.0h.01M495.2 392.9h.01M473.8 391.1h.01M455.8 374.5h.01M482.2 387.2h.01M465.5 384.3h.01M455.8 402.3h.01M460.0 394.6h.01M466.5 383.7h.01M462.5 394.6h.01M458.5 391.6h.01M471.6 383.7h.01M474.4 386.0h.01M462.5 400.5h.01M479.2 398.7h.01M473.4 389.8h.01M464.3 390.5h.01M472.1 389.5h.01M466.0 389.2h.01M466.3 377.5h.01M469.3 397.0h.01M462.0 371.1h.01M463.4 386.3h.01M463.3 398.3h.01M458.8 398.2h.01M469.5 403.4h.01M468.8 402.8h.01M469.3 389.9h.01M462.7 396.2h.01M480.3 382.0h.01M456.8 394.9h.01M460.3 384.8h.01M474.8 398.8h.01M460.6 381.5h.01M459.1 393.0h.01M461.5 396.3h.01M456.3 380.9h.01M484.1 391.9h.01M467.0 392.1h.01M459.1 385.1h.01M463.0 383.2h.01M455.2 393.7h.01M480.9 409.4h.01M465.9 410.1h.01M459.0 381.7h.01M477.5 399.6h.01M477.2 378.1h.01M465.3 374.6h.01M469.9 394.5h.01M467.6 388.1h.01M451.5 382.1h.01M480.5 391.8h.01M463.0 403.8h.01M451.9 387.4h.01M465.6 385.8h.01M450.3 385.5h.01M477.8 384.6h.01M472.9 399.8h.01M476.7 394.6h.01M451.6 395.9h.01M465.1 361.7h.01M468.5 406.6h.01M458.0 389.2h.01M463.0 389.1h.01M466.8 395.0h.01M466.8 405.4h.01M474.5 381.9h.01M467.8 406.2h.01M461.8 383.4h.01M466.2 378.7h.01M452.6 402.8h.01M461.8 388.6h.01M469.1 386.6h.01M471.6 389.1h.01M475.2 390.7h.01M468.3 382.3h.01M456.5 380.1h.01M458.9 381.8h.01M465.8 389.1h.01M479.1 380.4h.01M471.0 389.6h.01M467.8 384.6h.01M468.7 388.1h.01M463.2 387.7h.01M476.3 392.2h.01M475.6 398.4h.01M451.4 372.5h.01M480.6 385.6h.01M468.3 380.3h.01M463.1 375.5h.01M468.9 392.5h.01M468.5 391.1h.01M463.6 396.6h.01M463.2 393.9h.01M462.5 397.0h.01M453.9 382.6h.01M468.0 381.6h.01M462.0 390.9h.01M470.2 395.0h.01M473.7 404.4h.01M461.3 389.9h.01M460.2 390.2h.01M465.8 387.5h.01M471.8 390.2h.01M469.4 393.3h.01M461.0 408.7h.01M458.9 383.1h.01M478.0 389.1h.01M478.0 395.9h.01M454.6 406.5h.01M455.9 391.7h.01M466.6 386.2h.01M467.7 412.7h.01M461.6 389.1h.01M462.4 386.6h.01M451.8 393.6h.01M452.4 387.1h.01M458.8 401.4h.01M457.6 379.6h.01M471.5 384.5h.01M467.2 381.0h.01M468.4 405.1h.01M465.8 378.3h.01M451.3 394.2h.01M461.7 395.5h.01M476.2 392.3h.01M488.1 376.5h.01M461.4 390.2h.01M469.2 389.0h.01M476.8 402.2h.01M471.9 385.9h.01M474.0 388.4h.01M459.8 401.7h.01M471.2 398.8h.01M476.0 399.4h.01M470.9 386.4h.01M472.1 385.0h.01M474.1 388.0h.01M462.0 396.3h.01M459.0 389.2h.01M466.2 395.9h.01M477.3 407.4h.01M466.0 400.6h.01M464.0 383.6h.01M477.8 385.9h.01M474.2 405.6h.01M459.1 379.5h.01M469.3 397.3h.01M456.8 394.0h.01M479.8 395.8h.01M474.1 400.8h.01M454.7 383.2h.01M452.7 379.9h.01M490.0 385.8h.01M462.8 388.7h.01M448.1 396.2h.01M468.5 385.4h.01M453.8 390.8h.01M465.0 384.7h.01M476.6 383.3h.01M471.7 382.4h.01M469.3 384.2h.01M468.9 375.7h.01M471.1 401.9h.01M452.7 394.9h.01M476.8 387.6h.01M460.4 389.6h.01M463.3 384.6h.01M470.9 402.3h.01M457.8 390.4h.01M449.4 394.8h.01M474.5 388.0h.01M450.6 388.0h.01M472.8 383.0h.01M454.9 399.7h.01M460.2 379.0h.01M459.3 389.6h.01M463.7 393.0h.01M454.2 391.1h.01M461.7 388.1h.01M468.5 388.0h.01M464.6 399.4h.01M455.9 388.9h.01M474.5 396.4h.01M475.4 389.5h.01M481.0 372.6h.01M465.5 382.7h.01M455.1 403.6h.01M459.4 386.7h.01M462.5 381.3h.01M463.2 385.5h.01M469.0 391.9h.01M465.3 393.1h.01M460.6 394.8h.01M459.6 391.2h.01M463.0 390.2h.01M460.6 396.6h.01M454.9 398.8h.01M458.9 389.1h.01M473.4 389.9h.01M455.6 382.9h.01M459.3 385.1h.01M464.3 391.8h.01M466.6 397.9h.01M467.0 369.9h.01M472.8 389.9h.01M471.9 397.6h.01M454.3 394.3h.01M449.4 389.6h.01M472.3 377.5h.01M454.9 392.0h.01M473.2 412.8h.01M469.2 385.9h.01M484.0 397.0h.01M463.8 388.1h.01M473.0 385.0h.01M458.5 389.5h.01M468.2 409.4h.01M459.1 376.4h.01M462.6 380.5h.01M455.8 392.7h.01M461.0 385.7h.01M467.0 389.5h.01M470.4 400.5h.01M474.9 392.1h.01M466.4 391.7h.01M483.3 384.6h.01M466.1 381.5h.01M453.0 384.1h.01M477.4 402.3h.01M465.3 394.7h.01M465.4 374.2h.01M464.4 383.8h.01M475.5 384.0h.01M457.5 385.6h.01M466.6 392.9h.01M472.3 386.6h.01M464.9 385.2h.01M469.4 385.5h.01M463.0 385.0h.01M473.0 375.4h.01M479.3 373.0h.01M463.0 406.9h.01M463.7 388.8h.01M461.4 395.4h.01M479.3 390.1h.01M458.5 389.2h.01M463.9 399.9h.01M459.5 398.3h.01M462.1 373.0h.01M468.5 383.1h.01M468.1 398.7h.01M462.1 388.3h.01M468.5 392.4h.01M456.1 394.6h.01M460.7 401.4h.01M456.8 366.9h.01M454.1 387.4h.01M476.5 394.4h.01M468.7 382.2h.01M474.7 387.6h.01M463.8 402.8h.01M452.2 389.5h.01M463.9 391.9h.01M456.9 390.4h.01M477.7 390.6h.01M471.2 404.7h.01M447.9 389.2h.01M459.4 386.5h.01M463.8 388.9h.01M462.3 388.3h.01M470.0 394.2h.01M480.0 392.8h.01M454.7 400.5h.01M479.2 392.0h.01M468.3 381.4h.01M465.2 365.4h.01M458.5 397.2h.01M465.3 382.2h.01M478.2 384.9h.01M455.9 395.9h.01M460.8 389.7h.01M454.0 397.3h.01M468.0 375.6h.01M451.8 388.2h.01M473.4 392.4h.01M474.6 388.2h.01M475.5 389.8h.01M453.6 379.4h.01M467.0 383.2h.01M465.9 375.7h.01M473.3 386.3h.01M467.8 382.6h.01M472.9 392.0h.01M464.6 392.4h.01M459.6 378.7h.01M472.0 388.2h.01M474.0 399.8h.01M456.1 389.9h.01M452.0 403.7h.01M461.1 393.7h.01M459.9 393.4h.01M465.9 398.7h.01M476.0 381.8h.01M470.0 392.5h.01M453.8 396.9h.01M479.4 400.0h.01M463.9 384.2h.01M464.2 393.7h.01M460.0 393.2h.01M463.1 377.7h.01M478.7 381.7h.01M467.6 381.3h.01M459.1 394.2h.01M456.9 388.0h.01M466.8 406.1h.01M457.8 402.1h.01M468.2 391.9h.01M463.2 388.0h.01M466.1 387.9h.01M459.5 387.9h.01M460.7 396.0h.01M478.7 399.5h.01M455.6 399.3h.01M456.0 372.0h.01M452.9 391.2h.01M468.8 381.1h.01M474.2 397.1h.01M462.6 391.3h.01M458.3 385.6h.01M468.3 387.8h.01M456.2 399.8h.01M478.7 395.9h.01M471.2 375.3h.01M470.5 378.7h.01M471.7 396.4h.01M468.1 377.2h.01M467.9 397.8h.01M466.6 387.4h.01M475.9 382.0h.01M460.0 400.7h.01M471.1 409.7h.01M455.0 392.4h.01M457.1 396.9h.01M451.8 403.4h.01M450.9 379.6h.01M458.1 394.9h.01M473.3 389.7h.01M479.7 386.9h.01M460.2 390.7h.01M460.4 397.4h.01M462.0 400.6h.01M458.6 377.1h.01M459.6 390.4h.01M467.4 387.2h.01M466.0 385.5h.01M456.6 386.3h.01M464.7 389.3h.01M448.5 394.6h.01M471.9 387.5h.01M463.5 389.0h.01M455.4 389.7h.01M463.1 370.6h.01M468.7 406.2h.01M476.0 392.3h.01M454.4 393.4h.01M472.3 385.7h.01M463.8 380.1h.01M475.6 369.7h.01M460.7 395.9h.01M471.0 370.3h.01M463.1 400.8h.01M458.5 397.5h.01M468.4 404.9h.01M454.6 393.1h.01M456.5 399.6h.01M473.3 391.2h.01M471.2 381.4h.01M479.2 383.9h.01M456.8 398.6h.01M469.5 368.1h.01M472.0 395.6h.01M447.9 383.7h.01M467.3 383.6h.01M453.8 373.1h.01M463.3 383.2h.01M466.6 380.3h.01M462.8 383.7h.01M462.5 378.7h.01M457.3 383.7h.01M457.0 396.6h.01M451.5 396.5h.01M452.3 381.2h.01M463.6 377.7h.01M460.8 387.6h.01M489.1 391.7h.01M454.8 384.0h.01M463.5 380.4h.01M471.8 393.2h.01M462.4 405.4h.01M465.6 390.4h.01M463.2 390.1h.01M466.6 400.4h.01M470.0 393.1h.01M475.8 384.8h.01M458.3 388.2h.01M460.1 400.6h.01M470.6 409.7h.01M462.9 398.2h.01M468.7 395.3h.01M466.1 380.4h.01M473.5 392.4h.01M466.7 405.1h.01M476.6 389.6h.01M474.7 397.8h.01M469.2 394.5h.01M453.8 385.1h.01M478.8 390.8h.01M452.1 397.4h.01M448.3 391.4h.01M459.2 394.0h.01M489.9 390.9h.01M468.0 380.9h.01M477.0 373.1h.01M461.1 404.0h.01M461.2 382.7h.01M482.3 392.3h.01M456.8 408.3h.01M454.9 399.3h.01M475.2 382.0h.01M467.5 395.6h.01M466.8 390.0h.01M453.9 401.1h.01M460.4 388.1h.01M469.4 402.3h.01M476.2 386.5h.01M472.7 399.5h.01M459.7 381.0h.01M464.3 375.5h.01M464.3 375.8h.01M472.2 393.7h.01M467.4 404.2h.01M459.5 388.6h.01M461.4 395.0h.01M464.4 402.2h.01M459.8 398.4h.01M469.9 407.5h.01M466.9 378.4h.01M471.0 393.2h.01M457.6 385.7h.01M474.5 394.1h.01M474.7 402.5h.01M478.2 384.2h.01M471.6 389.1h.01M447.2 400.1h.01M463.9 377.2h.01M463.2 387.6h.01M464.4 401.8h.01M461.4 385.4h.01M457.9 398.9h.01M454.9 386.0h.01M461.3 387.7h.01M474.2 395.8h.01M458.2 402.6h.01M466.7 384.3h.01M453.1 383.8h.01M471.2 405.9h.01M470.8 379.7h.01M473.9 389.6h.01M453.3 385.8h.01M466.6 393.6h.01M469.2 386.0h.01M457.9 379.2h.01M467.5 389.1h.01M473.7 392.2h.01M461.1 385.2h.01M468.2 371.7h.01M480.7 398.5h.01M463.1 399.8h.01M462.4 379.0h.01M468.3 392.0h.01M465.9 394.3h.01M462.6 380.7h.01M478.0 383.4h.01M452.9 399.0h.01M465.2 396.8h.01M453.8 390.1h.01M458.2 407.3h.01M459.8 388.8h.01M462.5 401.0h.01M469.5 377.0h.01M453.9 390.3h.01M458.3 381.1h.01M456.9 390.5h.01M471.7 378.5h.01M453.0 387.5h.01M487.2 393.0h.01M453.2 389.1h.01M469.5 391.4h.01M451.5 397.6h.01M468.6 380.2h.01M462.5 387.3h.01M477.3 392.2h.01M476.4 410.3h.01M463.3 387.7h.01M468.2 404.3h.01M461.2 389.6h.01M461.0 402.2h.01M456.6 395.6h.01M463.7 387.9h.01M454.0 396.7h.01M479.4 397.9h.01M476.6 374.2h.01M469.1 392.5h.01M461.8 391.9h.01M456.2 392.4h.01M464.3 382.5h.01M456.4 396.6h.01M454.6 383.8h.01M471.0 394.5h.01M463.8 399.1h.01M469.0 396.8h.01M456.6 390.9h.01M463.7 390.4h.01M465.7 378.6h.01M471.6 380.0h.01M451.6 401.6h.01M459.0 393.5h.01M469.0 379.6h.01M484.0 393.6h.01M476.9 406.7h.01M460.4 386.2h.01M468.7 398.6h.01M461.0 392.2h.01M473.9 373.9h.01M457.3 400.1h.01M466.8 400.3h.01M463.6 396.9h.01M452.5 381.6h.01M472.5 384.3h.01M463.6 386.8h.01M466.0 390.6h.01M465.0 374.7h.01M463.8 381.7h.01M456.9 386.7h.01M471.3 394.8h.01M467.6 388.2h.01M454.1 397.3h.01M475.7 401.1h.01M477.7 402.1h.01M466.0 382.7h.01M478.7 389.2h.01M462.7 377.8h.01M460.2 382.5h.01M460.0 400.4h.01M459.0 373.2h.01M464.0 378.3h.01M465.6 381.9h.01M476.7 392.2h.01M471.2 389.8h.01M469.4 395.8h.01M464.7 400.7h.01M475.9 385.1h.01M480.9 389.5h.01M462.3 389.8h.01M482.2 386.3h.01M459.2 390.8h.01M467.9 385.9h.01M469.9 382.3h.01M468.3 398.8h.01M457.5 389.4h.01M467.1 378.3h.01M476.3 382.0h.01M477.0 382.0h.01M464.2 401.6h.01M466.8 396.5h.01M472.4 382.5h.01M463.0 403.6h.01M464.5 391.5h.01M459.9 406.2h.01M486.3 402.1h.01M463.4 394.9h.01M467.7 403.3h.01M454.8 399.3h.01M469.8 385.0h.01M462.6 403.1h.01M476.4 390.1h.01M465.2 398.0h.01M485.2 389.9h.01M469.4 401.4h.01M466.9 388.2h.01M467.1 388.2h.01M480.8 388.1h.01M451.0 402.2h.01M471.0 398.1h.01M475.5 404.1h.01M470.6 399.5h.01M467.4 387.6h.01M455.0 396.2h.01M481.0 397.8h.01M478.2 379.4h.01M476.4 394.3h.01M469.9 375.3h.01M461.4 388.4h.01M472.4 389.6h.01M478.0 381.4h.01M464.8 380.1h.01M472.2 385.6h.01M459.8 387.3h.01M474.3 394.9h.01M462.6 384.3h.01M475.1 401.5h.01M459.4 389.6h.01M469.5 394.4h.01M463.1 388.9h.01M453.3 388.9h.01M464.6 394.3h.01M468.5 401.6h.01M471.5 389.6h.01M469.2 394.0h.01M468.3 400.6h.01M471.4 386.8h.01M457.5 386.5h.01M460.1 380.0h.01M461.9 388.2h.01M474.7 387.7h.01M459.4 390.9h.01M460.9 387.3h.01M459.6 395.8h.01M479.7 386.6h.01M472.5 391.1h.01M463.7 372.6h.01M470.6 393.2h.01M469.9 398.7h.01M466.1 373.8h.01M478.3 391.5h.01M459.1 370.3h.01M453.5 384.4h.01M458.7 391.3h.01M478.1 383.9h.01M475.8 389.4h.01M470.5 402.8h.01M463.7 397.9h.01M456.2 384.8h.01M476.5 393.2h.01M491.4 402.5h.01M464.2 395.9h.01M466.5 401.6h.01M464.0 384.4h.01M447.9 393.9h.01M472.7 398.3h.01M454.1 385.7h.01M472.6 396.9h.01M460.1 396.9h.01M462.4 388.7h.01M471.9 389.5h.01M459.8 382.1h.01M470.4 391.1h.01M469.9 383.3h.01M468.1 392.3h.01M478.5 379.0h.01M470.0 390.9h.01M469.0 375.7h.01M470.0 386.3h.01M453.5 408.7h.01M452.2 394.4h.01M464.9 387.8h.01M472.4 379.2h.01M470.2 398.4h.01M454.4 387.5h.01M476.3 396.6h.01M467.3 396.7h.01M457.7 398.4h.01M460.4 383.2h.01M450.5 391.5h.01M470.9 408.6h.01M464.0 394.4h.01M469.4 392.8h.01M456.3 387.5h.01M465.7 405.0h.01M462.1 377.9h.01M465.3 401.9h.01M458.7 393.1h.01M457.2 392.2h.01M473.0 385.9h.01M460.3 374.9h.01M455.8 379.9h.01M477.9 391.1h.01M475.1 397.1h.01M468.1 402.8h.01M458.9 387.1h.01M455.8 385.1h.01M458.7 396.3h.01M464.3 394.9h.01M471.1 395.9h.01M466.3 396.9h.01M458.8 378.8h.01M465.2 410.2h.01M467.0 386.8h.01M474.0 366.5h.01M462.9 395.7h.01M484.8 383.6h.01M467.6 368.4h.01M469.7 384.1h.01M466.7 372.9h.01M474.5 374.0h.01M461.9 394.6h.01M466.7 393.0h.01M457.8 386.4h.01M476.6 385.0h.01M461.9 386.8h.01M484.4 392.6h.01M477.5 378.9h.01M453.0 371.7h.01M469.9 401.4h.01M464.5 401.3h.01M491.8 391.8h.01M460.6 391.5h.01M471.2 387.7h.01M471.6 384.7h.01M457.8 383.9h.01M480.4 383.2h.01M472.2 382.5h.01M473.4 383.5h.01M470.5 396.4h.01M471.3 395.7h.01M452.5 374.8h.01M467.1 384.2h.01M452.6 389.6h.01M466.8 384.7h.01M461.7 404.4h.01M465.7 389.8h.01M458.5 389.9h.01M470.8 380.9h.01M450.0 380.2h.01M472.8 381.2h.01M476.7 385.9h.01M470.5 399.4h.01M456.1 371.9h.01M470.0 394.5h.01M466.2 383.2h.01M461.2 380.4h.01M465.8 389.5h.01M455.2 390.4h.01M447.7 382.8h.01M453.4 400.0h.01M465.9 392.4h.01M471.2 381.6h.01M456.4 379.4h.01M482.0 387.9h.01M459.9 397.7h.01M472.4 408.5h.01M475.7 392.7h.01M475.9 398.6h.01M471.6 391.5h.01M459.1 391.7h.01M474.2 382.6h.01M465.1 392.0h.01M463.0 387.0h.01M466.3 385.8h.01M451.2 391.4h.01M463.0 398.9h.01M467.5 383.9h.01M481.2 383.7h.01M462.7 388.7h.01M471.2 403.2h.01M469.7 382.3h.01M470.2 397.2h.01M468.2 393.9h.01M465.9 374.8h.01M464.7 392.1h.01M471.1 400.3h.01M459.4 376.9h.01M463.7 384.1h.01M467.5 396.9h.01M463.2 388.2h.01M464.4 389.5h.01M462.0 387.4h.01M461.0 388.8h.01M455.7 376.3h.01M475.4 373.2h.01M465.8 400.7h.01M456.8 378.8h.01M463.0 393.7h.01M467.0 395.4h.01M454.3 390.8h.01M469.6 386.4h.01M452.6 378.5h.01M459.2 388.3h.01M464.1 404.6h.01M488.5 352.1h.01M461.4 347.2h.01M497.3 393.1h.01M491.9 356.8h.01M464.7 381.2h.01M456.4 378.9h.01M454.1 355.3h.01M512.1 393.7h.01M489.2 394.4h.01M478.5 386.8h.01M472.3 392.1h.01M489.6 381.7h.01M505.7 393.3h.01M479.6 397.6h.01M464.4 356.4h.01M482.0 359.7h.01M483.1 400.8h.01M499.9 367.3h.01M497.5 387.7h.01M495.7 388.7h.01M488.2 345.8h.01M467.4 412.8h.01M511.9 399.5h.01M515.5 354.1h.01M467.9 345.5h.01M469.7 382.2h.01M487.3 381.0h.01M448.6 399.6h.01M475.6 378.1h.01M470.8 375.2h.01M456.4 370.9h.01M487.7 409.3h.01M494.3 379.7h.01M498.8 379.3h.01M500.7 400.8h.01M473.4 382.6h.01M462.5 349.1h.01M482.2 377.9h.01M506.4 372.3h.01M462.8 392.8h.01M491.4 363.7h.01M485.0 377.7h.01M469.0 375.5h.01M487.7 388.2h.01M499.1 359.7h.01M481.1 382.0h.01M463.2 406.6h.01M457.8 410.4h.01M462.8 390.5h.01M489.5 384.6h.01M488.6 376.1h.01M472.5 406.0h.01M496.0 372.2h.01M491.2 352.0h.01M494.7 388.9h.01M501.4 373.7h.01M497.1 370.1h.01M481.9 377.7h.01M475.6 357.1h.01M461.3 385.6h.01M477.4 378.4h.01M489.9 387.8h.01M497.2 358.8h.01M499.3 383.8h.01M467.2 391.9h.01M492.7 396.5h.01M481.7 411.6h.01M475.8 398.3h.01M480.6 374.1h.01M499.0 396.8h.01M448.9 356.3h.01M502.2 365.6h.01M516.4 362.8h.01M471.9 382.6h.01M498.6 357.0h.01M462.3 377.0h.01M491.6 359.9h.01M472.7 389.9h.01M491.4 412.7h.01M487.9 410.5h.01M504.9 369.6h.01M451.8 377.5h.01M484.1 396.7h.01M475.4 396.2h.01M486.7 364.5h.01M472.6 367.6h.01M489.3 344.0h.01M506.9 412.6h.01M459.2 384.1h.01M516.9 389.0h.01M477.8 384.8h.01M494.9 399.2h.01M485.7 365.8h.01M478.4 362.6h.01M455.2 373.9h.01M475.3 380.4h.01M469.6 391.0h.01M478.9 375.3h.01M483.2 382.7h.01M488.9 396.9h.01M463.4 362.2h.01M472.9 377.0h.01M510.0 373.9h.01M468.2 370.2h.01M479.3 403.9h.01M495.9 367.5h.01M487.1 375.4h.01M514.7 375.4h.01M491.4 365.7h.01M456.3 356.0h.01M473.1 375.1h.01M509.2 388.7h.01M490.1 392.2h.01M490.4 394.0h.01M473.0 373.0h.01M476.6 379.3h.01M483.2 383.2h.01M452.8 405.4h.01M458.2 395.3h.01M449.9 362.5h.01M493.2 376.9h.01M501.8 364.5h.01M477.1 393.3h.01M471.0 377.2h.01M488.8 359.2h.01M480.8 403.9h.01M477.3 377.7h.01M503.0 396.4h.01M470.4 396.7h.01M476.4 385.0h.01M448.8 349.4h.01M493.9 377.8h.01M489.6 369.1h.01M462.8 369.2h.01M470.7 390.6h.01M471.0 342.8h.01" stroke="#000" stroke-width="1" fill="none" stroke-linecap="round" stroke-opacity="0.17"/>
<rect x="446.6" y="342.1" width="71.3" height="71.5" fill="none" stroke="#555" stroke-width="0.8" />
<line x1="482.6" y1="342.1" x2="482.6" y2="413.6" stroke="#555" stroke-width="0.9" />
<line x1="446.6" y1="373.2" x2="517.9" y2="373.2" stroke="#555" stroke-width="0.9" />
<text x="448" y="349.3" font-size="4.7" font-weight="bold" fill="#222">Q1</text>
<text x="448" y="354.9" font-size="4.7" font-weight="bold" fill="#222">5.35 %</text>
<text x="512.6" y="349.3" font-size="4.7" font-weight="bold" text-anchor="end" fill="#222">Q2</text>
<text x="517.3" y="354.9" font-size="4.7" font-weight="bold" text-anchor="end" fill="#222">61.3 %</text>
<text x="512.6" y="401.6" font-size="4.7" font-weight="bold" text-anchor="end" fill="#222">Q3</text>
<text x="517.3" y="407.6" font-size="4.7" font-weight="bold" text-anchor="end" fill="#222">19.9 %</text>
<text x="448" y="401.6" font-size="4.7" font-weight="bold" fill="#222">Q4</text>
<text x="448" y="407.6" font-size="4.7" font-weight="bold" fill="#222">13.4 %</text>
<text x="442.4" y="349.9" font-size="4.6" font-weight="bold" text-anchor="end" fill="#333">10<tspan font-size="70%" dy="-2">5</tspan></text>
<line x1="444.8" y1="348.1" x2="446.6" y2="348.1" stroke="#444" stroke-width="0.6" />
<text x="442.4" y="367.1" font-size="4.6" font-weight="bold" text-anchor="end" fill="#333">10<tspan font-size="70%" dy="-2">4</tspan></text>
<line x1="444.8" y1="365.3" x2="446.6" y2="365.3" stroke="#444" stroke-width="0.6" />
<text x="442.4" y="383.9" font-size="4.6" font-weight="bold" text-anchor="end" fill="#333">10<tspan font-size="70%" dy="-2">3</tspan></text>
<line x1="444.8" y1="382.1" x2="446.6" y2="382.1" stroke="#444" stroke-width="0.6" />
<text x="443" y="404.9" font-size="4.6" font-weight="bold" text-anchor="end" fill="#333">0</text>
<line x1="444.8" y1="403.1" x2="446.6" y2="403.1" stroke="#444" stroke-width="0.6" />
<path d="M445.6 399.1V407.1" stroke="#444" stroke-width="0.6" fill="none" />
<text x="457.1" y="420.6" font-size="4.6" font-weight="bold" text-anchor="middle" fill="#333">0</text>
<line x1="457.1" y1="413.6" x2="457.1" y2="415.4" stroke="#444" stroke-width="0.6" />
<text x="478.9" y="420.6" font-size="4.6" font-weight="bold" text-anchor="middle" fill="#333">10<tspan font-size="70%" dy="-2">3</tspan></text>
<line x1="478.9" y1="413.6" x2="478.9" y2="415.4" stroke="#444" stroke-width="0.6" />
<text x="496.3" y="420.6" font-size="4.6" font-weight="bold" text-anchor="middle" fill="#333">10<tspan font-size="70%" dy="-2">4</tspan></text>
<line x1="496.3" y1="413.6" x2="496.3" y2="415.4" stroke="#444" stroke-width="0.6" />
<text x="513.4" y="420.6" font-size="4.6" font-weight="bold" text-anchor="middle" fill="#333">10<tspan font-size="70%" dy="-2">5</tspan></text>
<line x1="513.4" y1="413.6" x2="513.4" y2="415.4" stroke="#444" stroke-width="0.6" />
<path d="M451.6 414.6H462.6" stroke="#444" stroke-width="0.8" fill="none" stroke-dasharray="0.6 0.5"/>
<text x="482.25" y="427.4" font-size="4.6" font-weight="bold" text-anchor="middle" fill="#333">Comp-APC-A :: Annexin V</text>
<text x="429.4" y="376.85" font-size="4.5" font-weight="bold" text-anchor="middle" fill="#333" transform="rotate(-90 429.4 376.85)">Comp-PE-A :: PI</text>
<text x="120.9" y="475.6" font-size="6" font-weight="bold" text-anchor="middle" fill="#222">PBMCs + SHP-77</text>
<path d="M95.7 509.9L95.7 509.9L95.95 509.9L96.2 509.9L96.45 509.9L96.7 509.9L96.95 509.9L97.2 509.9L97.45 509.9L97.7 509.9L97.95 509.9L98.2 509.9L98.45 509.9L98.7 509.9L98.95 509.9L99.2 509.9L99.45 509.9L99.7 509.9L99.95 507.9L100.2 505.9L100.45 503.9L100.7 501.9L100.95 499.9L101.2 497.9L101.45 495.9L101.7 493.9L101.95 491.9L102.2 489.9L102.45 487.9L102.7 487.97L102.95 489.78L103.2 491.42L103.45 492.92L103.7 494.27L103.95 495.5L104.2 496.62L104.45 497.64L104.7 498.56L104.95 499.4L105.2 500.16L105.45 500.85L105.7 501.48L105.95 502.05L106.2 502.57L106.45 503.04L106.7 503.46L106.95 503.85L107.2 504.21L107.45 504.53L107.7 504.82L107.95 505.08L108.2 505.32L108.45 505.54L108.7 505.74L108.95 505.92L109.2 506.08L109.45 506.23L109.7 506.36L109.95 506.49L110.2 506.6L110.45 506.7L110.7 506.79L110.95 506.87L111.2 506.95L111.45 507.02L111.7 507.08L111.95 507.14L112.2 507.19L112.45 507.24L112.7 507.28L112.95 507.32L113.2 507.35L113.45 507.38L113.7 507.41L113.95 507.44L114.2 507.46L114.45 507.49L114.7 507.5L114.95 507.52L115.2 507.54L115.45 507.55L115.7 507.57L115.95 507.58L116.2 507.59L116.45 507.6L116.7 507.61L116.95 507.62L117.2 507.63L117.45 507.63L117.7 507.64L117.95 507.64L118.2 507.65L118.45 507.65L118.7 507.66L118.95 507.66L119.2 507.67L119.45 507.67L119.7 507.67L119.95 507.67L120.2 507.68L120.45 507.68L120.7 507.68L120.95 507.68L121.2 507.68L121.45 507.68L121.7 507.69L121.95 507.69L122.2 507.69L122.45 507.69L122.7 507.69L122.95 507.68L123.2 507.68L123.45 507.68L123.7 507.68L123.95 507.67L124.2 507.67L124.45 507.66L124.7 507.65L124.95 507.64L125.2 507.63L125.45 507.61L125.7 507.59L125.95 507.56L126.2 507.54L126.45 507.5L126.7 507.47L126.95 507.42L127.2 507.37L127.45 507.32L127.7 507.26L127.95 507.19L128.2 507.12L128.45 507.05L128.7 506.97L128.95 506.88L129.2 506.8L129.45 506.71L129.7 506.63L129.95 506.54L130.2 506.46L130.45 506.38L130.7 506.31L130.95 506.25L131.2 506.2L131.45 506.16L131.7 506.13L131.95 506.11L132.2 506.1L132.45 506.1L132.7 506.12L132.95 506.14L133.2 506.16L133.45 506.2L133.7 506.24L133.95 506.29L134.2 506.34L134.45 506.4L134.7 506.46L134.95 506.52L135.2 506.59L135.45 506.66L135.7 506.73L135.95 506.93L136.2 507.12L136.45 507.31L136.7 507.48L136.95 507.65L137.2 507.82L137.45 507.97L137.7 508.12L137.95 508.27L138.2 508.4L138.45 508.53L138.7 508.66L138.95 508.78L139.2 508.89L139.45 509L139.7 509.11L139.95 509.22L140.2 509.32L140.45 509.42L140.7 509.52L140.95 509.62L141.2 509.71L141.45 509.81L141.7 509.9L141.95 509.9L142.2 509.9L142.45 509.9L142.7 509.9L142.95 509.9L143.2 509.9L143.45 509.9L143.7 509.9L143.95 509.9L144.2 509.9L144.45 509.9L144.7 509.9L144.95 509.9L145.2 509.9L145.45 509.9L145.7 509.9L145.95 509.9L146.2 509.9L146.45 509.9L146.7 509.9L146.95 509.9L147.2 509.9L147.45 509.9L147.7 509.9L147.95 509.9L148.2 509.9L148.45 509.9L148.7 509.9L148.95 509.9L149.2 509.9L149.45 509.9L149.7 509.9L149.95 509.9L150.2 509.9L150.45 509.9L150.7 509.9L150.95 509.9L151.2 509.9L151.45 509.9L151.7 509.9L151.95 509.9L152.2 509.9L152.45 509.9L152.7 509.9L152.95 509.9L153.2 509.9L153.45 509.9L153.7 509.9L153.95 509.9L154.2 509.9L154.45 509.9L154.7 509.9L154.95 509.9L155.2 509.9L155.45 509.9L155.45 509.9Z" stroke="none" stroke-width="0.8" fill="#000" />
<line x1="82.3" y1="499.4" x2="119.8" y2="499.4" stroke="#555" stroke-width="0.7" />
<line x1="119.8" y1="498.4" x2="119.8" y2="500.4" stroke="#555" stroke-width="0.6" />
<text x="83.3" y="497" font-size="5.7" font-weight="bold" fill="#222">74.9%</text>
<path d="M95.7 534.6L95.7 534.6L95.95 534.6L96.2 534.6L96.45 534.6L96.7 534.6L96.95 534.6L97.2 534.6L97.45 534.6L97.7 534.6L97.95 534.6L98.2 534.6L98.45 534.6L98.7 534.6L98.95 534.6L99.2 534.6L99.45 534.6L99.7 534.6L99.95 533.67L100.2 532.74L100.45 531.8L100.7 530.87L100.95 529.94L101.2 529.01L101.45 528.08L101.7 527.15L101.95 526.4L102.2 526.4L102.45 526.4L102.7 526.53L102.95 526.84L103.2 527.13L103.45 527.39L103.7 527.63L103.95 527.85L104.2 528.05L104.45 528.24L104.7 528.41L104.95 528.57L105.2 528.72L105.45 528.85L105.7 528.98L105.95 529.09L106.2 529.2L106.45 529.29L106.7 529.38L106.95 529.46L107.2 529.54L107.45 529.61L107.7 529.67L107.95 530.42L108.2 530.44L108.45 530.46L108.7 530.48L108.95 530.5L109.2 530.52L109.45 530.54L109.7 530.56L109.95 530.58L110.2 530.6L110.45 530.62L110.7 530.64L110.95 530.66L111.2 530.68L111.45 530.7L111.7 530.72L111.95 530.74L112.2 530.76L112.45 530.78L112.7 530.8L112.95 530.82L113.2 530.84L113.45 530.86L113.7 530.88L113.95 530.9L114.2 530.92L114.45 530.94L114.7 530.96L114.95 530.98L115.2 531L115.45 531.02L115.7 531.04L115.95 531.06L116.2 531.08L116.45 531.1L116.7 531.12L116.95 531.14L117.2 531.16L117.45 531.18L117.7 531.2L117.95 531.22L118.2 531.24L118.45 531.26L118.7 531.28L118.95 531.3L119.2 531.32L119.45 531.34L119.7 531.36L119.95 531.38L120.2 531.4L120.45 531.42L120.7 531.44L120.95 531.46L121.2 531.47L121.45 531.49L121.7 531.51L121.95 531.52L122.2 531.54L122.45 531.55L122.7 531.56L122.95 531.56L123.2 531.56L123.45 531.56L123.7 531.55L123.95 531.53L124.2 531.5L124.45 531.46L124.7 531.4L124.95 531.32L125.2 531.22L125.45 531.1L125.7 530.95L125.95 530.81L126.2 530.64L126.45 530.42L126.7 530.15L126.95 529.83L127.2 529.45L127.45 529.01L127.7 528.51L127.95 527.93L128.2 527.29L128.45 526.58L128.7 525.8L128.95 524.96L129.2 524.05L129.45 523.09L129.7 522.08L129.95 521.04L130.2 519.98L130.45 518.9L130.7 517.84L130.95 516.79L131.2 515.79L131.45 514.84L131.7 513.96L131.95 513.18L132.2 512.51L132.45 511.95L132.7 511.52L132.95 511.24L133.2 511.1L133.45 511.13L133.7 511.36L133.95 511.81L134.2 512.46L134.45 513.28L134.7 514.26L134.95 515.38L135.2 516.59L135.45 517.88L135.7 519.22L135.95 520.57L136.2 521.91L136.45 523.22L136.7 524.47L136.95 525.66L137.2 526.76L137.45 527.78L137.7 528.7L137.95 529.52L138.2 530.26L138.45 530.9L138.7 531.46L138.95 531.94L139.2 532.36L139.45 532.71L139.7 533.01L139.95 533.24L140.2 533.43L140.45 533.59L140.7 533.72L140.95 533.83L141.2 533.92L141.45 534L141.7 534.06L141.95 534.12L142.2 534.17L142.45 534.22L142.7 534.26L142.95 534.29L143.2 534.32L143.45 534.35L143.7 534.38L143.95 534.4L144.2 534.43L144.45 534.45L144.7 534.46L144.95 534.48L145.2 534.5L145.45 534.51L145.7 534.52L145.95 534.53L146.2 534.54L146.45 534.55L146.7 534.56L146.95 534.56L147.2 534.57L147.45 534.57L147.7 534.58L147.95 534.58L148.2 534.58L148.45 534.59L148.7 534.59L148.95 534.59L149.2 534.59L149.45 534.59L149.7 534.59L149.95 534.6L150.2 534.6L150.45 534.6L150.7 534.6L150.95 534.6L151.2 534.6L151.45 534.6L151.7 534.6L151.95 534.6L152.2 534.6L152.45 534.6L152.7 534.6L152.95 534.6L153.2 534.6L153.45 534.6L153.7 534.6L153.95 534.6L154.2 534.6L154.45 534.6L154.7 534.6L154.95 534.6L155.2 534.6L155.45 534.6L155.45 534.6Z" stroke="none" stroke-width="0.8" fill="#000" />
<line x1="82.3" y1="524.1" x2="119.8" y2="524.1" stroke="#555" stroke-width="0.7" />
<line x1="119.8" y1="523.1" x2="119.8" y2="525.1" stroke="#555" stroke-width="0.6" />
<text x="83.3" y="521.7" font-size="5.7" font-weight="bold" fill="#222">28.4%</text>
<path d="M95.7 558.9L95.7 558.9L95.95 558.9L96.2 558.9L96.45 558.9L96.7 558.9L96.95 558.9L97.2 558.9L97.45 558.9L97.7 558.9L97.95 558.9L98.2 558.9L98.45 558.9L98.7 558.9L98.95 558.9L99.2 558.9L99.45 558.9L99.7 558.9L99.95 558.9L100.2 558.9L100.45 558.9L100.7 558.9L100.95 558.9L101.2 558.9L101.45 558.9L101.7 558.9L101.95 558.9L102.2 558.9L102.45 558.9L102.7 558.9L102.95 558.9L103.2 558.9L103.45 558.9L103.7 558.9L103.95 558.9L104.2 558.9L104.45 558.9L104.7 558.9L104.95 558.9L105.2 558.9L105.45 558.9L105.7 558.9L105.95 558.9L106.2 558.9L106.45 558.9L106.7 558.9L106.95 558.9L107.2 558.9L107.45 558.9L107.7 558.9L107.95 558.9L108.2 558.9L108.45 558.9L108.7 558.9L108.95 558.9L109.2 558.9L109.45 558.9L109.7 558.9L109.95 558.9L110.2 558.9L110.45 558.9L110.7 558.9L110.95 558.9L111.2 558.9L111.45 558.9L111.7 558.9L111.95 558.9L112.2 558.9L112.45 558.9L112.7 558.9L112.95 558.9L113.2 558.9L113.45 558.9L113.7 558.9L113.95 558.9L114.2 558.9L114.45 558.9L114.7 558.9L114.95 558.9L115.2 558.9L115.45 558.9L115.7 558.9L115.95 558.9L116.2 558.9L116.45 558.9L116.7 558.9L116.95 558.9L117.2 558.9L117.45 558.9L117.7 558.9L117.95 558.9L118.2 558.9L118.45 558.9L118.7 558.9L118.95 558.9L119.2 558.9L119.45 558.9L119.7 558.9L119.95 558.9L120.2 558.9L120.45 558.9L120.7 558.9L120.95 558.9L121.2 558.9L121.45 558.9L121.7 558.9L121.95 558.89L122.2 558.89L122.45 558.89L122.7 558.88L122.95 558.88L123.2 558.87L123.45 558.86L123.7 558.84L123.95 558.82L124.2 558.79L124.45 558.76L124.7 558.71L124.95 558.66L125.2 558.58L125.45 558.49L125.7 558.38L125.95 558.23L126.2 558.06L126.45 557.85L126.7 557.59L126.95 557.29L127.2 556.93L127.45 556.52L127.7 556.03L127.95 555.47L128.2 554.84L128.45 554.13L128.7 553.34L128.95 552.46L129.2 551.51L129.45 550.49L129.7 549.39L129.95 548.24L130.2 547.04L130.45 545.82L130.7 544.57L130.95 543.34L131.2 542.12L131.45 540.96L131.7 539.86L131.95 538.85L132.2 537.95L132.45 537.18L132.7 536.56L132.95 536.09L133.2 535.79L133.45 535.67L133.7 535.7L133.95 535.89L134.2 536.22L134.45 536.7L134.7 537.3L134.95 538.01L135.2 538.83L135.45 539.73L135.7 540.7L135.95 541.73L136.2 542.78L136.45 543.86L136.7 544.94L136.95 546.01L137.2 547.06L137.45 548.07L137.7 549.03L137.95 549.95L138.2 550.81L138.45 551.61L138.7 552.34L138.95 553.01L139.2 553.62L139.45 554.16L139.7 554.65L139.95 555.09L140.2 555.47L140.45 555.81L140.7 556.11L140.95 556.37L141.2 556.6L141.45 556.8L141.7 556.98L141.95 557.13L142.2 557.27L142.45 557.4L142.7 557.51L142.95 557.61L143.2 557.7L143.45 557.78L143.7 557.86L143.95 557.93L144.2 558L144.45 558.06L144.7 558.12L144.95 558.18L145.2 558.23L145.45 558.28L145.7 558.33L145.95 558.37L146.2 558.41L146.45 558.45L146.7 558.49L146.95 558.53L147.2 558.56L147.45 558.59L147.7 558.62L147.95 558.65L148.2 558.67L148.45 558.69L148.7 558.71L148.95 558.73L149.2 558.75L149.45 558.77L149.7 558.78L149.95 558.79L150.2 558.81L150.45 558.82L150.7 558.83L150.95 558.84L151.2 558.84L151.45 558.85L151.7 558.86L151.95 558.86L152.2 558.87L152.45 558.87L152.7 558.88L152.95 558.88L153.2 558.88L153.45 558.88L153.7 558.89L153.95 558.89L154.2 558.89L154.45 558.89L154.7 558.89L154.95 558.89L155.2 558.9L155.45 558.9L155.45 558.9Z" stroke="none" stroke-width="0.8" fill="#000" />
<line x1="82.3" y1="548.4" x2="119.8" y2="548.4" stroke="#555" stroke-width="0.7" />
<line x1="119.8" y1="547.4" x2="119.8" y2="549.4" stroke="#555" stroke-width="0.6" />
<text x="83.3" y="546" font-size="5.7" font-weight="bold" fill="#222">1.35%</text>
<rect x="81.7" y="485.5" width="82.8" height="73.3" fill="none" stroke="#666" stroke-width="0.8" />
<line x1="81.7" y1="510.2" x2="164.5" y2="510.2" stroke="#666" stroke-width="0.8" />
<line x1="81.7" y1="534.5" x2="164.5" y2="534.5" stroke="#666" stroke-width="0.8" />
<text x="88.7" y="567" font-size="4.5" font-weight="bold" text-anchor="middle" fill="#333">-10<tspan font-size="70%" dy="-2">3</tspan></text>
<line x1="88.7" y1="558.8" x2="88.7" y2="560.6" stroke="#555" stroke-width="0.5" />
<text x="101.6" y="567" font-size="4.5" font-weight="bold" text-anchor="middle" fill="#333">0</text>
<line x1="101.6" y1="558.8" x2="101.6" y2="560.6" stroke="#555" stroke-width="0.5" />
<text x="116.7" y="567" font-size="4.5" font-weight="bold" text-anchor="middle" fill="#333">10<tspan font-size="70%" dy="-2">3</tspan></text>
<line x1="116.7" y1="558.8" x2="116.7" y2="560.6" stroke="#555" stroke-width="0.5" />
<text x="138.3" y="567" font-size="4.5" font-weight="bold" text-anchor="middle" fill="#333">10<tspan font-size="70%" dy="-2">4</tspan></text>
<line x1="138.3" y1="558.8" x2="138.3" y2="560.6" stroke="#555" stroke-width="0.5" />
<text x="157.7" y="567" font-size="4.5" font-weight="bold" text-anchor="middle" fill="#333">10<tspan font-size="70%" dy="-2">5</tspan></text>
<line x1="157.7" y1="558.8" x2="157.7" y2="560.6" stroke="#555" stroke-width="0.5" />
<rect x="101.2" y="558.9" width="2.6" height="1.2" fill="#222" stroke="none" stroke-width="0.8" />
<text x="122.3" y="574.3" font-size="4.2" font-weight="bold" text-anchor="middle" fill="#333">Comp-FITC-A</text>
<text x="204.6" y="475.6" font-size="6" font-weight="bold" text-anchor="middle" fill="#222">PBMCs + NCI-H82</text>
<path d="M178.5 509.9L178.5 509.9L178.75 509.9L179 509.9L179.25 509.9L179.5 509.9L179.75 509.9L180 509.9L180.25 509.9L180.5 509.9L180.75 509.9L181 509.9L181.25 509.9L181.5 509.9L181.75 509.9L182 509.9L182.25 509.9L182.5 509.67L182.75 509.06L183 508.19L183.25 507.11L183.5 505.84L183.75 504.41L184 502.81L184.25 501.07L184.5 499.2L184.75 497.18L185 495.05L185.25 492.78L185.5 490.41L185.75 487.91L186 488.57L186.25 489.94L186.5 491.2L186.75 492.38L187 493.47L187.25 494.48L187.5 495.41L187.75 496.28L188 497.08L188.25 497.83L188.5 498.52L188.75 499.16L189 499.75L189.25 500.3L189.5 500.81L189.75 501.29L190 501.73L190.25 502.13L190.5 502.51L190.75 502.86L191 503.18L191.25 503.48L191.5 503.76L191.75 504.02L192 504.26L192.25 504.48L192.5 504.69L192.75 504.88L193 505.05L193.25 505.22L193.5 505.37L193.75 505.51L194 505.64L194.25 505.76L194.5 505.87L194.75 505.98L195 506.08L195.25 506.16L195.5 506.25L195.75 506.32L196 506.4L196.25 506.46L196.5 506.52L196.75 506.58L197 506.63L197.25 506.68L197.5 506.73L197.75 506.77L198 506.81L198.25 506.84L198.5 506.88L198.75 506.91L199 506.94L199.25 506.96L199.5 506.99L199.75 507.01L200 507.03L200.25 507.05L200.5 507.07L200.75 507.08L201 507.1L201.25 507.11L201.5 507.12L201.75 507.13L202 507.14L202.25 507.15L202.5 507.15L202.75 507.16L203 507.16L203.25 507.16L203.5 507.16L203.75 507.15L204 507.14L204.25 507.13L204.5 507.11L204.75 507.09L205 507.06L205.25 507.02L205.5 506.98L205.75 506.93L206 506.86L206.25 506.79L206.5 506.7L206.75 506.6L207 506.48L207.25 506.34L207.5 506.19L207.75 506.01L208 505.81L208.25 505.59L208.5 505.35L208.75 505.07L209 504.77L209.25 504.45L209.5 504.09L209.75 503.76L210 503.38L210.25 502.98L210.5 502.55L210.75 502.1L211 501.63L211.25 501.15L211.5 500.65L211.75 500.15L212 499.64L212.25 499.14L212.5 498.64L212.75 498.16L213 497.69L213.25 497.25L213.5 496.84L213.75 496.47L214 496.13L214.25 495.85L214.5 495.61L214.75 495.43L215 495.3L215.25 495.24L215.5 495.23L215.75 495.28L216 495.41L216.25 495.59L216.5 495.84L216.75 496.15L217 496.51L217.25 496.92L217.5 497.37L217.75 497.86L218 498.38L218.25 498.92L218.5 499.47L218.75 500.03L219 500.59L219.25 501.16L219.5 501.71L219.75 502.25L220 502.77L220.25 503.27L220.5 503.75L220.75 504.2L221 504.63L221.25 505.03L221.5 505.41L221.75 505.75L222 506.08L222.25 506.38L222.5 506.65L222.75 506.91L223 507.14L223.25 507.35L223.5 507.54L223.75 507.72L224 507.88L224.25 508.02L224.5 508.16L224.75 508.28L225 508.4L225.25 508.51L225.5 508.61L225.75 508.7L226 508.79L226.25 508.88L226.5 508.96L226.75 509.03L227 509.11L227.25 509.18L227.5 509.25L227.75 509.31L228 509.38L228.25 509.44L228.5 509.5L228.75 509.56L229 509.62L229.25 509.67L229.5 509.72L229.75 509.74L230 509.76L230.25 509.78L230.5 509.79L230.75 509.8L231 509.82L231.25 509.83L231.5 509.84L231.75 509.84L232 509.85L232.25 509.86L232.5 509.86L232.75 509.87L233 509.87L233.25 509.88L233.5 509.88L233.75 509.88L234 509.89L234.25 509.89L234.5 509.89L234.75 509.89L235 509.89L235.25 509.9L235.5 509.9L235.75 509.9L236 509.9L236.25 509.9L236.5 509.9L236.75 509.9L237 509.9L237.25 509.9L237.5 509.9L237.75 509.9L238 509.9L238.25 509.9L238.25 509.9Z" stroke="none" stroke-width="0.8" fill="#000" />
<line x1="165.1" y1="501.7" x2="204.6" y2="501.7" stroke="#555" stroke-width="0.7" />
<line x1="204.6" y1="500.7" x2="204.6" y2="502.7" stroke="#555" stroke-width="0.6" />
<text x="166.1" y="499.1" font-size="5.7" font-weight="bold" fill="#222">48.9%</text>
<path d="M178.5 534.6L178.5 534.6L178.75 534.6L179 534.6L179.25 534.6L179.5 534.6L179.75 534.6L180 534.6L180.25 534.6L180.5 534.6L180.75 534.6L181 534.6L181.25 534.6L181.5 534.6L181.75 534.6L182 534.6L182.25 534.6L182.5 534.6L182.75 534.6L183 534.6L183.25 534.6L183.5 534.6L183.75 534.6L184 534.6L184.25 534.6L184.5 534.6L184.75 534.6L185 534.6L185.25 534.6L185.5 534.6L185.75 534.6L186 534.6L186.25 534.6L186.5 534.6L186.75 534.6L187 534.6L187.25 534.6L187.5 534.6L187.75 534.6L188 534.6L188.25 534.6L188.5 534.6L188.75 534.6L189 534.6L189.25 534.6L189.5 534.6L189.75 534.6L190 534.6L190.25 534.6L190.5 534.6L190.75 534.6L191 534.6L191.25 534.6L191.5 534.6L191.75 534.6L192 534.6L192.25 534.6L192.5 534.6L192.75 534.6L193 534.6L193.25 534.6L193.5 534.6L193.75 534.6L194 534.6L194.25 534.6L194.5 534.6L194.75 534.6L195 534.6L195.25 534.6L195.5 534.6L195.75 534.6L196 534.6L196.25 534.6L196.5 534.6L196.75 534.6L197 534.6L197.25 534.6L197.5 534.6L197.75 534.6L198 534.6L198.25 534.6L198.5 534.6L198.75 534.6L199 534.6L199.25 534.6L199.5 534.6L199.75 534.6L200 534.6L200.25 534.6L200.5 534.6L200.75 534.6L201 534.6L201.25 534.6L201.5 534.6L201.75 534.6L202 534.6L202.25 534.59L202.5 534.59L202.75 534.59L203 534.59L203.25 534.58L203.5 534.58L203.75 534.57L204 534.56L204.25 534.55L204.5 534.53L204.75 534.51L205 534.49L205.25 534.46L205.5 534.42L205.75 534.37L206 534.32L206.25 534.25L206.5 534.16L206.75 534.06L207 533.94L207.25 533.8L207.5 533.63L207.75 533.43L208 533.2L208.25 532.93L208.5 532.63L208.75 532.28L209 531.88L209.25 531.44L209.5 530.94L209.75 530.39L210 529.79L210.25 529.13L210.5 528.41L210.75 527.64L211 526.82L211.25 525.96L211.5 525.05L211.75 524.1L212 523.13L212.25 522.13L212.5 521.13L212.75 520.12L213 519.13L213.25 518.16L213.5 517.23L213.75 516.35L214 515.54L214.25 514.79L214.5 514.13L214.75 513.57L215 513.1L215.25 512.75L215.5 512.52L215.75 512.4L216 512.41L216.25 512.55L216.5 512.83L216.75 513.23L217 513.74L217.25 514.36L217.5 515.07L217.75 515.87L218 516.73L218.25 517.64L218.5 518.59L218.75 519.56L219 520.54L219.25 521.52L219.5 522.49L219.75 523.43L220 524.34L220.25 525.21L220.5 526.03L220.75 526.8L221 527.52L221.25 528.18L221.5 528.79L221.75 529.34L222 529.84L222.25 530.29L222.5 530.69L222.75 531.05L223 531.37L223.25 531.66L223.5 531.91L223.75 532.14L224 532.34L224.25 532.52L224.5 532.68L224.75 532.82L225 532.95L225.25 533.07L225.5 533.18L225.75 533.28L226 533.37L226.25 533.46L226.5 533.54L226.75 533.61L227 533.68L227.25 533.75L227.5 533.81L227.75 533.87L228 533.93L228.25 533.98L228.5 534.03L228.75 534.08L229 534.12L229.25 534.16L229.5 534.2L229.75 534.24L230 534.27L230.25 534.3L230.5 534.33L230.75 534.36L231 534.38L231.25 534.41L231.5 534.43L231.75 534.44L232 534.46L232.25 534.48L232.5 534.49L232.75 534.5L233 534.52L233.25 534.53L233.5 534.53L233.75 534.54L234 534.55L234.25 534.56L234.5 534.56L234.75 534.57L235 534.57L235.25 534.58L235.5 534.58L235.75 534.58L236 534.58L236.25 534.59L236.5 534.59L236.75 534.59L237 534.59L237.25 534.59L237.5 534.59L237.75 534.6L238 534.6L238.25 534.6L238.25 534.6Z" stroke="none" stroke-width="0.8" fill="#000" />
<line x1="165.1" y1="526.4" x2="204.6" y2="526.4" stroke="#555" stroke-width="0.7" />
<line x1="204.6" y1="525.4" x2="204.6" y2="527.4" stroke="#555" stroke-width="0.6" />
<text x="166.1" y="523.8" font-size="5.7" font-weight="bold" fill="#222">6.78%</text>
<path d="M178.5 558.9L178.5 558.9L178.75 558.9L179 558.9L179.25 558.9L179.5 558.9L179.75 558.9L180 558.9L180.25 558.9L180.5 558.9L180.75 558.9L181 558.9L181.25 558.9L181.5 558.9L181.75 558.9L182 558.9L182.25 558.9L182.5 558.9L182.75 558.9L183 558.9L183.25 558.9L183.5 558.9L183.75 558.9L184 558.9L184.25 558.9L184.5 558.9L184.75 558.9L185 558.9L185.25 558.9L185.5 558.9L185.75 558.9L186 558.9L186.25 558.9L186.5 558.9L186.75 558.9L187 558.9L187.25 558.9L187.5 558.9L187.75 558.9L188 558.9L188.25 558.9L188.5 558.9L188.75 558.9L189 558.9L189.25 558.9L189.5 558.9L189.75 558.9L190 558.9L190.25 558.9L190.5 558.9L190.75 558.9L191 558.9L191.25 558.9L191.5 558.9L191.75 558.9L192 558.9L192.25 558.9L192.5 558.9L192.75 558.9L193 558.9L193.25 558.9L193.5 558.9L193.75 558.9L194 558.9L194.25 558.9L194.5 558.9L194.75 558.9L195 558.9L195.25 558.9L195.5 558.9L195.75 558.9L196 558.9L196.25 558.9L196.5 558.9L196.75 558.9L197 558.9L197.25 558.9L197.5 558.9L197.75 558.9L198 558.9L198.25 558.9L198.5 558.9L198.75 558.9L199 558.9L199.25 558.9L199.5 558.9L199.75 558.9L200 558.9L200.25 558.9L200.5 558.9L200.75 558.9L201 558.9L201.25 558.9L201.5 558.9L201.75 558.9L202 558.9L202.25 558.9L202.5 558.9L202.75 558.9L203 558.9L203.25 558.9L203.5 558.9L203.75 558.9L204 558.9L204.25 558.89L204.5 558.89L204.75 558.89L205 558.88L205.25 558.88L205.5 558.87L205.75 558.86L206 558.85L206.25 558.83L206.5 558.81L206.75 558.78L207 558.75L207.25 558.7L207.5 558.65L207.75 558.58L208 558.49L208.25 558.38L208.5 558.25L208.75 558.09L209 557.9L209.25 557.67L209.5 557.4L209.75 557.09L210 556.73L210.25 556.31L210.5 555.82L210.75 555.28L211 554.67L211.25 553.98L211.5 553.23L211.75 552.41L212 551.51L212.25 550.56L212.5 549.54L212.75 548.47L213 547.36L213.25 546.21L213.5 545.05L213.75 543.88L214 542.73L214.25 541.6L214.5 540.53L214.75 539.51L215 538.58L215.25 537.75L215.5 537.03L215.75 536.44L216 535.98L216.25 535.67L216.5 535.51L216.75 535.49L217 535.61L217.25 535.86L217.5 536.23L217.75 536.72L218 537.32L218.25 538.01L218.5 538.8L218.75 539.65L219 540.56L219.25 541.52L219.5 542.51L219.75 543.51L220 544.52L220.25 545.53L220.5 546.51L220.75 547.47L221 548.4L221.25 549.29L221.5 550.12L221.75 550.91L222 551.64L222.25 552.31L222.5 552.93L222.75 553.5L223 554.01L223.25 554.48L223.5 554.89L223.75 555.27L224 555.6L224.25 555.9L224.5 556.17L224.75 556.41L225 556.62L225.25 556.81L225.5 556.98L225.75 557.13L226 557.27L226.25 557.4L226.5 557.51L226.75 557.61L227 557.71L227.25 557.8L227.5 557.88L227.75 557.95L228 558.02L228.25 558.09L228.5 558.15L228.75 558.21L229 558.27L229.25 558.32L229.5 558.37L229.75 558.41L230 558.45L230.25 558.49L230.5 558.53L230.75 558.56L231 558.6L231.25 558.63L231.5 558.65L231.75 558.68L232 558.7L232.25 558.72L232.5 558.74L232.75 558.76L233 558.77L233.25 558.79L233.5 558.8L233.75 558.81L234 558.82L234.25 558.83L234.5 558.84L234.75 558.85L235 558.86L235.25 558.86L235.5 558.87L235.75 558.87L236 558.88L236.25 558.88L236.5 558.88L236.75 558.88L237 558.89L237.25 558.89L237.5 558.89L237.75 558.89L238 558.89L238.25 558.89L238.25 558.9Z" stroke="none" stroke-width="0.8" fill="#000" />
<line x1="165.1" y1="550.7" x2="204.6" y2="550.7" stroke="#555" stroke-width="0.7" />
<line x1="204.6" y1="549.7" x2="204.6" y2="551.7" stroke="#555" stroke-width="0.6" />
<text x="166.1" y="548.1" font-size="5.7" font-weight="bold" fill="#222">0.41%</text>
<rect x="164.5" y="485.5" width="82.8" height="73.3" fill="none" stroke="#666" stroke-width="0.8" />
<line x1="164.5" y1="510.2" x2="247.3" y2="510.2" stroke="#666" stroke-width="0.8" />
<line x1="164.5" y1="534.5" x2="247.3" y2="534.5" stroke="#666" stroke-width="0.8" />
<text x="171.5" y="567" font-size="4.5" font-weight="bold" text-anchor="middle" fill="#333">-10<tspan font-size="70%" dy="-2">3</tspan></text>
<line x1="171.5" y1="558.8" x2="171.5" y2="560.6" stroke="#555" stroke-width="0.5" />
<text x="184.4" y="567" font-size="4.5" font-weight="bold" text-anchor="middle" fill="#333">0</text>
<line x1="184.4" y1="558.8" x2="184.4" y2="560.6" stroke="#555" stroke-width="0.5" />
<text x="199.5" y="567" font-size="4.5" font-weight="bold" text-anchor="middle" fill="#333">10<tspan font-size="70%" dy="-2">3</tspan></text>
<line x1="199.5" y1="558.8" x2="199.5" y2="560.6" stroke="#555" stroke-width="0.5" />
<text x="221.1" y="567" font-size="4.5" font-weight="bold" text-anchor="middle" fill="#333">10<tspan font-size="70%" dy="-2">4</tspan></text>
<line x1="221.1" y1="558.8" x2="221.1" y2="560.6" stroke="#555" stroke-width="0.5" />
<text x="240.5" y="567" font-size="4.5" font-weight="bold" text-anchor="middle" fill="#333">10<tspan font-size="70%" dy="-2">5</tspan></text>
<line x1="240.5" y1="558.8" x2="240.5" y2="560.6" stroke="#555" stroke-width="0.5" />
<rect x="184" y="558.9" width="2.6" height="1.2" fill="#222" stroke="none" stroke-width="0.8" />
<text x="205.1" y="574.3" font-size="4.2" font-weight="bold" text-anchor="middle" fill="#333">Comp-FITC-A</text>
<text x="289" y="475.6" font-size="6" font-weight="bold" text-anchor="middle" fill="#222">PBMCs + RKO-E6</text>
<path d="M261.3 509.9L261.3 509.9L261.55 509.9L261.8 509.9L262.05 509.9L262.3 509.9L262.55 509.9L262.8 509.9L263.05 509.9L263.3 509.9L263.55 509.9L263.8 509.9L264.05 509.9L264.3 509.9L264.55 509.9L264.8 509.9L265.05 509.9L265.3 509.9L265.55 509.9L265.8 509.9L266.05 509.9L266.3 509.9L266.55 509.9L266.8 509.9L267.05 509.9L267.3 509.9L267.55 509.9L267.8 509.9L268.05 509.9L268.3 509.9L268.55 509.9L268.8 509.9L269.05 509.9L269.3 509.9L269.55 509.9L269.8 509.9L270.05 509.9L270.3 509.9L270.55 509.9L270.8 509.9L271.05 509.9L271.3 509.9L271.55 509.9L271.8 509.9L272.05 509.9L272.3 509.9L272.55 509.9L272.8 509.9L273.05 509.9L273.3 509.9L273.55 509.9L273.8 509.9L274.05 509.9L274.3 509.9L274.55 509.9L274.8 509.9L275.05 509.9L275.3 509.9L275.55 509.9L275.8 509.9L276.05 509.9L276.3 509.9L276.55 509.9L276.8 509.9L277.05 509.9L277.3 509.9L277.55 509.9L277.8 509.9L278.05 509.9L278.3 509.9L278.55 509.9L278.8 509.9L279.05 509.9L279.3 509.9L279.55 509.9L279.8 509.9L280.05 509.9L280.3 509.9L280.55 509.9L280.8 509.9L281.05 509.9L281.3 509.9L281.55 509.9L281.8 509.9L282.05 509.9L282.3 509.9L282.55 509.9L282.8 509.9L283.05 509.9L283.3 509.9L283.55 509.9L283.8 509.9L284.05 509.9L284.3 509.9L284.55 509.9L284.8 509.9L285.05 509.9L285.3 509.9L285.55 509.9L285.8 509.9L286.05 509.9L286.3 509.9L286.55 509.89L286.8 509.89L287.05 509.89L287.3 509.88L287.55 509.88L287.8 509.87L288.05 509.86L288.3 509.85L288.55 509.83L288.8 509.81L289.05 509.78L289.3 509.75L289.55 509.7L289.8 509.65L290.05 509.58L290.3 509.49L290.55 509.39L290.8 509.26L291.05 509.11L291.3 508.93L291.55 508.71L291.8 508.46L292.05 508.16L292.3 507.81L292.55 507.41L292.8 506.96L293.05 506.45L293.3 505.88L293.55 505.24L293.8 504.54L294.05 503.78L294.3 502.96L294.55 502.08L294.8 501.15L295.05 500.17L295.3 499.16L295.55 498.13L295.8 497.09L296.05 496.04L296.3 495.02L296.55 494.02L296.8 493.08L297.05 492.19L297.3 491.39L297.55 490.68L297.8 490.07L298.05 489.58L298.3 489.22L298.55 488.99L298.8 488.89L299.05 488.9L299.3 489.01L299.55 489.23L299.8 489.55L300.05 489.96L300.3 490.45L300.55 491.03L300.8 491.67L301.05 492.37L301.3 493.12L301.55 493.91L301.8 494.73L302.05 495.56L302.3 496.41L302.55 497.26L302.8 498.1L303.05 498.93L303.3 499.73L303.55 500.51L303.8 501.25L304.05 501.95L304.3 502.61L304.55 503.23L304.8 503.81L305.05 504.35L305.3 504.84L305.55 505.29L305.8 505.71L306.05 506.08L306.3 506.42L306.55 506.73L306.8 507.01L307.05 507.26L307.3 507.49L307.55 507.7L307.8 507.88L308.05 508.05L308.3 508.2L308.55 508.34L308.8 508.46L309.05 508.58L309.3 508.68L309.55 508.78L309.8 508.87L310.05 508.95L310.3 509.02L310.55 509.09L310.8 509.16L311.05 509.22L311.3 509.28L311.55 509.33L311.8 509.38L312.05 509.42L312.3 509.47L312.55 509.51L312.8 509.54L313.05 509.58L313.3 509.61L313.55 509.64L313.8 509.66L314.05 509.69L314.3 509.71L314.55 509.73L314.8 509.75L315.05 509.76L315.3 509.78L315.55 509.79L315.8 509.81L316.05 509.82L316.3 509.83L316.55 509.84L316.8 509.84L317.05 509.85L317.3 509.86L317.55 509.86L317.8 509.87L318.05 509.87L318.3 509.88L318.55 509.88L318.8 509.88L319.05 509.89L319.3 509.89L319.55 509.89L319.8 509.89L320.05 509.89L320.3 509.89L320.55 509.89L320.8 509.9L321.05 509.9L321.05 509.9Z" stroke="none" stroke-width="0.8" fill="#000" />
<line x1="248.1" y1="500.3" x2="282.3" y2="500.3" stroke="#555" stroke-width="0.7" />
<line x1="282.3" y1="499.3" x2="282.3" y2="501.3" stroke="#555" stroke-width="0.6" />
<text x="265.6" y="497.6" font-size="5.7" font-weight="bold" text-anchor="middle" fill="#222">0.19%</text>
<path d="M261.3 534.6L261.3 534.6L261.55 534.6L261.8 534.6L262.05 534.6L262.3 534.6L262.55 534.6L262.8 534.6L263.05 534.6L263.3 534.6L263.55 534.6L263.8 534.6L264.05 534.6L264.3 534.6L264.55 534.6L264.8 534.6L265.05 534.6L265.3 534.6L265.55 534.6L265.8 534.6L266.05 534.6L266.3 534.6L266.55 534.6L266.8 534.6L267.05 534.6L267.3 534.6L267.55 534.6L267.8 534.6L268.05 534.6L268.3 534.6L268.55 534.6L268.8 534.6L269.05 534.6L269.3 534.6L269.55 534.6L269.8 534.6L270.05 534.6L270.3 534.6L270.55 534.6L270.8 534.6L271.05 534.6L271.3 534.6L271.55 534.6L271.8 534.6L272.05 534.6L272.3 534.6L272.55 534.6L272.8 534.6L273.05 534.6L273.3 534.6L273.55 534.6L273.8 534.6L274.05 534.6L274.3 534.6L274.55 534.6L274.8 534.6L275.05 534.6L275.3 534.6L275.55 534.6L275.8 534.6L276.05 534.6L276.3 534.6L276.55 534.6L276.8 534.6L277.05 534.6L277.3 534.6L277.55 534.6L277.8 534.6L278.05 534.6L278.3 534.6L278.55 534.6L278.8 534.6L279.05 534.6L279.3 534.6L279.55 534.6L279.8 534.6L280.05 534.6L280.3 534.6L280.55 534.6L280.8 534.6L281.05 534.6L281.3 534.6L281.55 534.6L281.8 534.6L282.05 534.6L282.3 534.6L282.55 534.6L282.8 534.6L283.05 534.6L283.3 534.6L283.55 534.6L283.8 534.6L284.05 534.6L284.3 534.6L284.55 534.6L284.8 534.6L285.05 534.6L285.3 534.6L285.55 534.6L285.8 534.6L286.05 534.6L286.3 534.6L286.55 534.6L286.8 534.59L287.05 534.59L287.3 534.59L287.55 534.59L287.8 534.58L288.05 534.57L288.3 534.56L288.55 534.55L288.8 534.53L289.05 534.51L289.3 534.48L289.55 534.45L289.8 534.4L290.05 534.34L290.3 534.27L290.55 534.18L290.8 534.07L291.05 533.93L291.3 533.76L291.55 533.56L291.8 533.32L292.05 533.04L292.3 532.71L292.55 532.32L292.8 531.87L293.05 531.36L293.3 530.79L293.55 530.14L293.8 529.42L294.05 528.63L294.3 527.77L294.55 526.84L294.8 525.85L295.05 524.81L295.3 523.72L295.55 522.6L295.8 521.46L296.05 520.31L296.3 519.18L296.55 518.08L296.8 517.03L297.05 516.05L297.3 515.16L297.55 514.36L297.8 513.69L298.05 513.14L298.3 512.74L298.55 512.49L298.8 512.39L299.05 512.41L299.3 512.55L299.55 512.81L299.8 513.17L300.05 513.64L300.3 514.21L300.55 514.86L300.8 515.58L301.05 516.36L301.3 517.2L301.55 518.08L301.8 518.98L302.05 519.91L302.3 520.83L302.55 521.76L302.8 522.67L303.05 523.55L303.3 524.41L303.55 525.23L303.8 526.01L304.05 526.75L304.3 527.44L304.55 528.08L304.8 528.67L305.05 529.21L305.3 529.71L305.55 530.16L305.8 530.57L306.05 530.94L306.3 531.27L306.55 531.57L306.8 531.84L307.05 532.08L307.3 532.3L307.55 532.49L307.8 532.66L308.05 532.82L308.3 532.96L308.55 533.09L308.8 533.21L309.05 533.32L309.3 533.42L309.55 533.51L309.8 533.59L310.05 533.67L310.3 533.74L310.55 533.81L310.8 533.87L311.05 533.93L311.3 533.98L311.55 534.03L311.8 534.08L312.05 534.13L312.3 534.17L312.55 534.21L312.8 534.24L313.05 534.28L313.3 534.31L313.55 534.34L313.8 534.36L314.05 534.39L314.3 534.41L314.55 534.43L314.8 534.45L315.05 534.46L315.3 534.48L315.55 534.49L315.8 534.51L316.05 534.52L316.3 534.53L316.55 534.54L316.8 534.54L317.05 534.55L317.3 534.56L317.55 534.56L317.8 534.57L318.05 534.57L318.3 534.58L318.55 534.58L318.8 534.58L319.05 534.59L319.3 534.59L319.55 534.59L319.8 534.59L320.05 534.59L320.3 534.59L320.55 534.59L320.8 534.6L321.05 534.6L321.05 534.6Z" stroke="none" stroke-width="0.8" fill="#000" />
<line x1="248.1" y1="525" x2="282.3" y2="525" stroke="#555" stroke-width="0.7" />
<line x1="282.3" y1="524" x2="282.3" y2="526" stroke="#555" stroke-width="0.6" />
<text x="265.6" y="522.3" font-size="5.7" font-weight="bold" text-anchor="middle" fill="#222">0.13%</text>
<path d="M261.3 558.9L261.3 558.9L261.55 558.9L261.8 558.9L262.05 558.9L262.3 558.9L262.55 558.9L262.8 558.9L263.05 558.9L263.3 558.9L263.55 558.9L263.8 558.9L264.05 558.9L264.3 558.9L264.55 558.9L264.8 558.9L265.05 558.9L265.3 558.9L265.55 558.9L265.8 558.9L266.05 558.9L266.3 558.9L266.55 558.9L266.8 558.9L267.05 558.9L267.3 558.9L267.55 558.9L267.8 558.9L268.05 558.9L268.3 558.9L268.55 558.9L268.8 558.9L269.05 558.9L269.3 558.9L269.55 558.9L269.8 558.9L270.05 558.9L270.3 558.9L270.55 558.9L270.8 558.9L271.05 558.9L271.3 558.9L271.55 558.9L271.8 558.9L272.05 558.9L272.3 558.9L272.55 558.9L272.8 558.9L273.05 558.9L273.3 558.9L273.55 558.9L273.8 558.9L274.05 558.9L274.3 558.9L274.55 558.9L274.8 558.9L275.05 558.9L275.3 558.9L275.55 558.9L275.8 558.9L276.05 558.9L276.3 558.9L276.55 558.9L276.8 558.9L277.05 558.9L277.3 558.9L277.55 558.9L277.8 558.9L278.05 558.9L278.3 558.9L278.55 558.9L278.8 558.9L279.05 558.9L279.3 558.9L279.55 558.9L279.8 558.9L280.05 558.9L280.3 558.9L280.55 558.9L280.8 558.9L281.05 558.9L281.3 558.9L281.55 558.9L281.8 558.9L282.05 558.9L282.3 558.9L282.55 558.9L282.8 558.9L283.05 558.9L283.3 558.9L283.55 558.9L283.8 558.9L284.05 558.9L284.3 558.9L284.55 558.9L284.8 558.9L285.05 558.9L285.3 558.9L285.55 558.9L285.8 558.9L286.05 558.9L286.3 558.9L286.55 558.9L286.8 558.9L287.05 558.89L287.3 558.89L287.55 558.89L287.8 558.88L288.05 558.88L288.3 558.87L288.55 558.86L288.8 558.85L289.05 558.83L289.3 558.81L289.55 558.78L289.8 558.74L290.05 558.69L290.3 558.63L290.55 558.55L290.8 558.46L291.05 558.34L291.3 558.19L291.55 558.02L291.8 557.81L292.05 557.56L292.3 557.26L292.55 556.92L292.8 556.51L293.05 556.05L293.3 555.52L293.55 554.93L293.8 554.26L294.05 553.52L294.3 552.71L294.55 551.82L294.8 550.87L295.05 549.86L295.3 548.8L295.55 547.69L295.8 546.56L296.05 545.41L296.3 544.25L296.55 543.12L296.8 542.02L297.05 540.97L297.3 539.99L297.55 539.11L297.8 538.33L298.05 537.68L298.3 537.16L298.55 536.78L298.8 536.56L299.05 536.48L299.3 536.52L299.55 536.67L299.8 536.94L300.05 537.3L300.3 537.76L300.55 538.32L300.8 538.95L301.05 539.66L301.3 540.42L301.55 541.24L301.8 542.1L302.05 542.98L302.3 543.88L302.55 544.8L302.8 545.7L303.05 546.6L303.3 547.48L303.55 548.34L303.8 549.16L304.05 549.95L304.3 550.69L304.55 551.39L304.8 552.04L305.05 552.65L305.3 553.21L305.55 553.73L305.8 554.2L306.05 554.63L306.3 555.02L306.55 555.38L306.8 555.7L307.05 555.99L307.3 556.25L307.55 556.48L307.8 556.69L308.05 556.88L308.3 557.05L308.55 557.2L308.8 557.34L309.05 557.47L309.3 557.59L309.55 557.69L309.8 557.79L310.05 557.88L310.3 557.96L310.55 558.03L310.8 558.1L311.05 558.17L311.3 558.23L311.55 558.29L311.8 558.34L312.05 558.39L312.3 558.43L312.55 558.47L312.8 558.51L313.05 558.55L313.3 558.58L313.55 558.61L313.8 558.64L314.05 558.67L314.3 558.69L314.55 558.71L314.8 558.73L315.05 558.75L315.3 558.77L315.55 558.78L315.8 558.8L316.05 558.81L316.3 558.82L316.55 558.83L316.8 558.84L317.05 558.85L317.3 558.85L317.55 558.86L317.8 558.86L318.05 558.87L318.3 558.87L318.55 558.88L318.8 558.88L319.05 558.88L319.3 558.89L319.55 558.89L319.8 558.89L320.05 558.89L320.3 558.89L320.55 558.89L320.8 558.89L321.05 558.9L321.05 558.9Z" stroke="none" stroke-width="0.8" fill="#000" />
<line x1="248.1" y1="549.3" x2="282.3" y2="549.3" stroke="#555" stroke-width="0.7" />
<line x1="282.3" y1="548.3" x2="282.3" y2="550.3" stroke="#555" stroke-width="0.6" />
<text x="265.6" y="546.6" font-size="5.7" font-weight="bold" text-anchor="middle" fill="#222">0.08%</text>
<rect x="247.3" y="485.5" width="82.8" height="73.3" fill="none" stroke="#666" stroke-width="0.8" />
<line x1="247.3" y1="510.2" x2="330.1" y2="510.2" stroke="#666" stroke-width="0.8" />
<line x1="247.3" y1="534.5" x2="330.1" y2="534.5" stroke="#666" stroke-width="0.8" />
<text x="254.3" y="567" font-size="4.5" font-weight="bold" text-anchor="middle" fill="#333">-10<tspan font-size="70%" dy="-2">3</tspan></text>
<line x1="254.3" y1="558.8" x2="254.3" y2="560.6" stroke="#555" stroke-width="0.5" />
<text x="267.2" y="567" font-size="4.5" font-weight="bold" text-anchor="middle" fill="#333">0</text>
<line x1="267.2" y1="558.8" x2="267.2" y2="560.6" stroke="#555" stroke-width="0.5" />
<text x="282.3" y="567" font-size="4.5" font-weight="bold" text-anchor="middle" fill="#333">10<tspan font-size="70%" dy="-2">3</tspan></text>
<line x1="282.3" y1="558.8" x2="282.3" y2="560.6" stroke="#555" stroke-width="0.5" />
<text x="303.9" y="567" font-size="4.5" font-weight="bold" text-anchor="middle" fill="#333">10<tspan font-size="70%" dy="-2">4</tspan></text>
<line x1="303.9" y1="558.8" x2="303.9" y2="560.6" stroke="#555" stroke-width="0.5" />
<text x="323.3" y="567" font-size="4.5" font-weight="bold" text-anchor="middle" fill="#333">10<tspan font-size="70%" dy="-2">5</tspan></text>
<line x1="323.3" y1="558.8" x2="323.3" y2="560.6" stroke="#555" stroke-width="0.5" />
<rect x="266.8" y="558.9" width="2.6" height="1.2" fill="#222" stroke="none" stroke-width="0.8" />
<text x="287.9" y="574.3" font-size="4.2" font-weight="bold" text-anchor="middle" fill="#333">Comp-FITC-A</text>
<text x="372" y="475.6" font-size="6" font-weight="bold" text-anchor="middle" fill="#222">PBMCs</text>
<path d="M344.1 509.9L344.1 509.9L344.35 509.9L344.6 509.9L344.85 509.9L345.1 509.9L345.35 509.9L345.6 509.9L345.85 509.9L346.1 509.9L346.35 509.9L346.6 509.9L346.85 509.9L347.1 509.9L347.35 509.9L347.6 509.9L347.85 509.9L348.1 509.9L348.35 509.9L348.6 509.9L348.85 509.9L349.1 509.9L349.35 509.9L349.6 509.9L349.85 509.9L350.1 509.9L350.35 509.9L350.6 509.9L350.85 509.9L351.1 509.9L351.35 509.9L351.6 509.9L351.85 509.9L352.1 509.9L352.35 509.9L352.6 509.9L352.85 509.9L353.1 509.9L353.35 509.9L353.6 509.9L353.85 509.9L354.1 509.9L354.35 509.9L354.6 509.9L354.85 509.9L355.1 509.9L355.35 509.9L355.6 509.9L355.85 509.9L356.1 509.9L356.35 509.9L356.6 509.9L356.85 509.9L357.1 509.9L357.35 509.9L357.6 509.9L357.85 509.9L358.1 509.9L358.35 509.9L358.6 509.9L358.85 509.9L359.1 509.9L359.35 509.9L359.6 509.9L359.85 509.9L360.1 509.9L360.35 509.9L360.6 509.9L360.85 509.9L361.1 509.9L361.35 509.9L361.6 509.9L361.85 509.9L362.1 509.9L362.35 509.9L362.6 509.9L362.85 509.9L363.1 509.9L363.35 509.9L363.6 509.9L363.85 509.9L364.1 509.9L364.35 509.9L364.6 509.9L364.85 509.9L365.1 509.9L365.35 509.9L365.6 509.9L365.85 509.9L366.1 509.9L366.35 509.9L366.6 509.9L366.85 509.9L367.1 509.9L367.35 509.9L367.6 509.9L367.85 509.9L368.1 509.9L368.35 509.9L368.6 509.9L368.85 509.9L369.1 509.9L369.35 509.9L369.6 509.89L369.85 509.89L370.1 509.89L370.35 509.89L370.6 509.88L370.85 509.87L371.1 509.86L371.35 509.85L371.6 509.84L371.85 509.81L372.1 509.79L372.35 509.75L372.6 509.7L372.85 509.65L373.1 509.57L373.35 509.48L373.6 509.37L373.85 509.23L374.1 509.07L374.35 508.87L374.6 508.63L374.85 508.35L375.1 508.02L375.35 507.64L375.6 507.19L375.85 506.69L376.1 506.11L376.35 505.47L376.6 504.76L376.85 503.97L377.1 503.12L377.35 502.2L377.6 501.21L377.85 500.18L378.1 499.1L378.35 497.98L378.6 496.85L378.85 495.71L379.1 494.59L379.35 493.5L379.6 492.45L379.85 491.47L380.1 490.58L380.35 489.79L380.6 489.11L380.85 488.57L381.1 488.16L381.35 487.91L381.6 487.8L381.85 487.82L382.1 487.95L382.35 488.2L382.6 488.55L382.85 489.01L383.1 489.56L383.35 490.2L383.6 490.91L383.85 491.68L384.1 492.51L384.35 493.37L384.6 494.26L384.85 495.17L385.1 496.09L385.35 497L385.6 497.9L385.85 498.78L386.1 499.63L386.35 500.44L386.6 501.22L386.85 501.95L387.1 502.63L387.35 503.26L387.6 503.85L387.85 504.39L388.1 504.89L388.35 505.34L388.6 505.75L388.85 506.12L389.1 506.45L389.35 506.75L389.6 507.03L389.85 507.27L390.1 507.49L390.35 507.69L390.6 507.86L390.85 508.02L391.1 508.17L391.35 508.3L391.6 508.43L391.85 508.54L392.1 508.64L392.35 508.74L392.6 508.82L392.85 508.9L393.1 508.98L393.35 509.05L393.6 509.12L393.85 509.18L394.1 509.24L394.35 509.29L394.6 509.35L394.85 509.39L395.1 509.44L395.35 509.48L395.6 509.52L395.85 509.55L396.1 509.59L396.35 509.62L396.6 509.65L396.85 509.67L397.1 509.7L397.35 509.72L397.6 509.74L397.85 509.76L398.1 509.77L398.35 509.79L398.6 509.8L398.85 509.81L399.1 509.82L399.35 509.83L399.6 509.84L399.85 509.85L400.1 509.85L400.35 509.86L400.6 509.87L400.85 509.87L401.1 509.87L401.35 509.88L401.6 509.88L401.85 509.88L402.1 509.89L402.35 509.89L402.6 509.89L402.85 509.89L403.1 509.89L403.35 509.89L403.6 509.9L403.85 509.9L403.85 509.9Z" stroke="none" stroke-width="0.8" fill="#000" />
<line x1="330.6" y1="502.9" x2="369.9" y2="502.9" stroke="#555" stroke-width="0.7" />
<line x1="369.9" y1="501.9" x2="369.9" y2="503.9" stroke="#555" stroke-width="0.6" />
<text x="348.4" y="499.5" font-size="5.7" font-weight="bold" text-anchor="middle" fill="#222">1.29%</text>
<path d="M344.1 534.6L344.1 534.6L344.35 534.6L344.6 534.6L344.85 534.6L345.1 534.6L345.35 534.6L345.6 534.6L345.85 534.6L346.1 534.6L346.35 534.6L346.6 534.6L346.85 534.6L347.1 534.6L347.35 534.6L347.6 534.6L347.85 534.6L348.1 534.6L348.35 534.6L348.6 534.6L348.85 534.6L349.1 534.6L349.35 534.6L349.6 534.6L349.85 534.6L350.1 534.6L350.35 534.6L350.6 534.6L350.85 534.6L351.1 534.6L351.35 534.6L351.6 534.6L351.85 534.6L352.1 534.6L352.35 534.6L352.6 534.6L352.85 534.6L353.1 534.6L353.35 534.6L353.6 534.6L353.85 534.6L354.1 534.6L354.35 534.6L354.6 534.6L354.85 534.6L355.1 534.6L355.35 534.6L355.6 534.6L355.85 534.6L356.1 534.6L356.35 534.6L356.6 534.6L356.85 534.6L357.1 534.6L357.35 534.6L357.6 534.6L357.85 534.6L358.1 534.6L358.35 534.6L358.6 534.6L358.85 534.6L359.1 534.6L359.35 534.6L359.6 534.6L359.85 534.6L360.1 534.6L360.35 534.6L360.6 534.6L360.85 534.6L361.1 534.6L361.35 534.6L361.6 534.6L361.85 534.6L362.1 534.6L362.35 534.6L362.6 534.6L362.85 534.6L363.1 534.6L363.35 534.6L363.6 534.6L363.85 534.6L364.1 534.6L364.35 534.6L364.6 534.6L364.85 534.6L365.1 534.6L365.35 534.6L365.6 534.6L365.85 534.6L366.1 534.6L366.35 534.6L366.6 534.6L366.85 534.6L367.1 534.6L367.35 534.6L367.6 534.6L367.85 534.6L368.1 534.6L368.35 534.6L368.6 534.6L368.85 534.6L369.1 534.6L369.35 534.6L369.6 534.6L369.85 534.6L370.1 534.6L370.35 534.6L370.6 534.59L370.85 534.59L371.1 534.59L371.35 534.58L371.6 534.58L371.85 534.57L372.1 534.56L372.35 534.55L372.6 534.53L372.85 534.5L373.1 534.47L373.35 534.43L373.6 534.37L373.85 534.3L374.1 534.22L374.35 534.11L374.6 533.98L374.85 533.81L375.1 533.61L375.35 533.37L375.6 533.09L375.85 532.75L376.1 532.35L376.35 531.89L376.6 531.36L376.85 530.75L377.1 530.07L377.35 529.31L377.6 528.47L377.85 527.55L378.1 526.56L378.35 525.5L378.6 524.39L378.85 523.22L379.1 522.02L379.35 520.8L379.6 519.58L379.85 518.38L380.1 517.22L380.35 516.12L380.6 515.11L380.85 514.19L381.1 513.4L381.35 512.75L381.6 512.24L381.85 511.9L382.1 511.73L382.35 511.7L382.6 511.81L382.85 512.04L383.1 512.39L383.35 512.86L383.6 513.44L383.85 514.11L384.1 514.86L384.35 515.68L384.6 516.56L384.85 517.49L385.1 518.44L385.35 519.42L385.6 520.4L385.85 521.37L386.1 522.33L386.35 523.26L386.6 524.16L386.85 525.03L387.1 525.84L387.35 526.6L387.6 527.32L387.85 527.98L388.1 528.58L388.35 529.14L388.6 529.64L388.85 530.1L389.1 530.51L389.35 530.88L389.6 531.21L389.85 531.51L390.1 531.77L390.35 532.01L390.6 532.22L390.85 532.41L391.1 532.59L391.35 532.74L391.6 532.88L391.85 533.01L392.1 533.13L392.35 533.23L392.6 533.33L392.85 533.42L393.1 533.51L393.35 533.59L393.6 533.67L393.85 533.74L394.1 533.8L394.35 533.86L394.6 533.92L394.85 533.98L395.1 534.03L395.35 534.08L395.6 534.12L395.85 534.16L396.1 534.2L396.35 534.24L396.6 534.27L396.85 534.31L397.1 534.34L397.35 534.36L397.6 534.39L397.85 534.41L398.1 534.43L398.35 534.45L398.6 534.47L398.85 534.48L399.1 534.49L399.35 534.51L399.6 534.52L399.85 534.53L400.1 534.54L400.35 534.55L400.6 534.55L400.85 534.56L401.1 534.56L401.35 534.57L401.6 534.57L401.85 534.58L402.1 534.58L402.35 534.58L402.6 534.59L402.85 534.59L403.1 534.59L403.35 534.59L403.6 534.59L403.85 534.59L403.85 534.6Z" stroke="none" stroke-width="0.8" fill="#000" />
<line x1="330.6" y1="527.6" x2="369.9" y2="527.6" stroke="#555" stroke-width="0.7" />
<line x1="369.9" y1="526.6" x2="369.9" y2="528.6" stroke="#555" stroke-width="0.6" />
<text x="348.4" y="524.2" font-size="5.7" font-weight="bold" text-anchor="middle" fill="#222">1.11%</text>
<path d="M344.1 558.9L344.1 558.9L344.35 558.9L344.6 558.9L344.85 558.9L345.1 558.9L345.35 558.9L345.6 558.9L345.85 558.9L346.1 558.9L346.35 558.9L346.6 558.9L346.85 558.9L347.1 558.9L347.35 558.9L347.6 558.9L347.85 558.9L348.1 558.9L348.35 558.9L348.6 558.9L348.85 558.9L349.1 558.9L349.35 558.9L349.6 558.9L349.85 558.9L350.1 558.9L350.35 558.9L350.6 558.9L350.85 558.9L351.1 558.9L351.35 558.9L351.6 558.9L351.85 558.9L352.1 558.9L352.35 558.9L352.6 558.9L352.85 558.9L353.1 558.9L353.35 558.9L353.6 558.9L353.85 558.9L354.1 558.9L354.35 558.9L354.6 558.9L354.85 558.9L355.1 558.9L355.35 558.9L355.6 558.9L355.85 558.9L356.1 558.9L356.35 558.9L356.6 558.9L356.85 558.9L357.1 558.9L357.35 558.9L357.6 558.9L357.85 558.9L358.1 558.9L358.35 558.9L358.6 558.9L358.85 558.9L359.1 558.9L359.35 558.9L359.6 558.9L359.85 558.9L360.1 558.9L360.35 558.9L360.6 558.9L360.85 558.9L361.1 558.9L361.35 558.9L361.6 558.9L361.85 558.9L362.1 558.9L362.35 558.9L362.6 558.9L362.85 558.9L363.1 558.9L363.35 558.9L363.6 558.9L363.85 558.9L364.1 558.9L364.35 558.9L364.6 558.9L364.85 558.9L365.1 558.9L365.35 558.9L365.6 558.9L365.85 558.9L366.1 558.9L366.35 558.9L366.6 558.9L366.85 558.9L367.1 558.9L367.35 558.9L367.6 558.9L367.85 558.9L368.1 558.9L368.35 558.9L368.6 558.9L368.85 558.9L369.1 558.9L369.35 558.9L369.6 558.9L369.85 558.9L370.1 558.89L370.35 558.89L370.6 558.89L370.85 558.88L371.1 558.88L371.35 558.87L371.6 558.86L371.85 558.84L372.1 558.83L372.35 558.8L372.6 558.77L372.85 558.73L373.1 558.68L373.35 558.61L373.6 558.53L373.85 558.43L374.1 558.3L374.35 558.15L374.6 557.97L374.85 557.75L375.1 557.49L375.35 557.18L375.6 556.82L375.85 556.4L376.1 555.92L376.35 555.37L376.6 554.75L376.85 554.06L377.1 553.3L377.35 552.46L377.6 551.56L377.85 550.59L378.1 549.55L378.35 548.47L378.6 547.34L378.85 546.19L379.1 545.02L379.35 543.85L379.6 542.71L379.85 541.6L380.1 540.56L380.35 539.58L380.6 538.71L380.85 537.94L381.1 537.3L381.35 536.8L381.6 536.45L381.85 536.25L382.1 536.19L382.35 536.26L382.6 536.45L382.85 536.75L383.1 537.16L383.35 537.67L383.6 538.28L383.85 538.97L384.1 539.73L384.35 540.55L384.6 541.42L384.85 542.32L385.1 543.25L385.35 544.19L385.6 545.13L385.85 546.07L386.1 546.99L386.35 547.88L386.6 548.74L386.85 549.56L387.1 550.34L387.35 551.07L387.6 551.75L387.85 552.39L388.1 552.97L388.35 553.51L388.6 554L388.85 554.44L389.1 554.85L389.35 555.21L389.6 555.54L389.85 555.83L390.1 556.1L390.35 556.34L390.6 556.55L390.85 556.74L391.1 556.92L391.35 557.08L391.6 557.22L391.85 557.35L392.1 557.47L392.35 557.58L392.6 557.68L392.85 557.77L393.1 557.85L393.35 557.93L393.6 558.01L393.85 558.08L394.1 558.14L394.35 558.2L394.6 558.26L394.85 558.31L395.1 558.36L395.35 558.41L395.6 558.45L395.85 558.49L396.1 558.53L396.35 558.57L396.6 558.6L396.85 558.63L397.1 558.66L397.35 558.68L397.6 558.7L397.85 558.73L398.1 558.74L398.35 558.76L398.6 558.78L398.85 558.79L399.1 558.8L399.35 558.82L399.6 558.83L399.85 558.84L400.1 558.84L400.35 558.85L400.6 558.86L400.85 558.86L401.1 558.87L401.35 558.87L401.6 558.88L401.85 558.88L402.1 558.88L402.35 558.89L402.6 558.89L402.85 558.89L403.1 558.89L403.35 558.89L403.6 558.89L403.85 558.89L403.85 558.9Z" stroke="none" stroke-width="0.8" fill="#000" />
<line x1="330.6" y1="551.9" x2="369.9" y2="551.9" stroke="#555" stroke-width="0.7" />
<line x1="369.9" y1="550.9" x2="369.9" y2="552.9" stroke="#555" stroke-width="0.6" />
<text x="348.4" y="548.5" font-size="5.7" font-weight="bold" text-anchor="middle" fill="#222">0.63%</text>
<rect x="330.1" y="485.5" width="82.8" height="73.3" fill="none" stroke="#666" stroke-width="0.8" />
<line x1="330.1" y1="510.2" x2="412.9" y2="510.2" stroke="#666" stroke-width="0.8" />
<line x1="330.1" y1="534.5" x2="412.9" y2="534.5" stroke="#666" stroke-width="0.8" />
<text x="337.1" y="567" font-size="4.5" font-weight="bold" text-anchor="middle" fill="#333">-10<tspan font-size="70%" dy="-2">3</tspan></text>
<line x1="337.1" y1="558.8" x2="337.1" y2="560.6" stroke="#555" stroke-width="0.5" />
<text x="350" y="567" font-size="4.5" font-weight="bold" text-anchor="middle" fill="#333">0</text>
<line x1="350" y1="558.8" x2="350" y2="560.6" stroke="#555" stroke-width="0.5" />
<text x="365.1" y="567" font-size="4.5" font-weight="bold" text-anchor="middle" fill="#333">10<tspan font-size="70%" dy="-2">3</tspan></text>
<line x1="365.1" y1="558.8" x2="365.1" y2="560.6" stroke="#555" stroke-width="0.5" />
<text x="386.7" y="567" font-size="4.5" font-weight="bold" text-anchor="middle" fill="#333">10<tspan font-size="70%" dy="-2">4</tspan></text>
<line x1="386.7" y1="558.8" x2="386.7" y2="560.6" stroke="#555" stroke-width="0.5" />
<text x="406.1" y="567" font-size="4.5" font-weight="bold" text-anchor="middle" fill="#333">10<tspan font-size="70%" dy="-2">5</tspan></text>
<line x1="406.1" y1="558.8" x2="406.1" y2="560.6" stroke="#555" stroke-width="0.5" />
<rect x="349.6" y="558.9" width="2.6" height="1.2" fill="#222" stroke="none" stroke-width="0.8" />
<text x="370.7" y="574.3" font-size="4.2" font-weight="bold" text-anchor="middle" fill="#333">Comp-FITC-A</text>
<text x="26" y="496.9" font-size="6.95" font-weight="bold" fill="#222">DLL3/CD3 ITE</text>
<text x="26" y="505.8" font-size="6.95" font-weight="bold" fill="#222">30,000 ng/mL</text>
<text x="26" y="521.9" font-size="6.95" font-weight="bold" fill="#222">DLL3/CD3 ITE</text>
<text x="26" y="530.8" font-size="6.95" font-weight="bold" fill="#222">3 ng/mL</text>
<text x="26" y="546" font-size="6.95" font-weight="bold" fill="#222">DLL3/CD3 ITE</text>
<text x="26" y="554.9" font-size="6.95" font-weight="bold" fill="#222">0 ng/mL</text>
</svg>
</body></html>
